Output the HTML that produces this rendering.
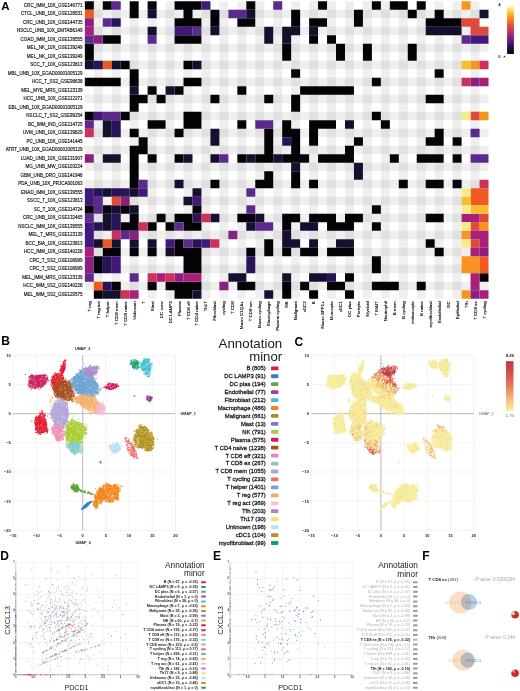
<!DOCTYPE html>
<html lang="en"><head><meta charset="utf-8"><title>Figure</title>
<style>html,body{margin:0;padding:0;background:#fff}svg{display:block}text{font-family:"Liberation Sans",Arial,sans-serif}</style></head>
<body><svg width="520" height="691" viewBox="0 0 520 691">
<rect width="520" height="691" fill="#fff"/>
<g id="A">
<rect x="84.85" y="1.15" width="403.65" height="297.5" fill="#fff"/>
<g fill="#000" fill-opacity=".062">
<rect x="93.82" y="1.15" width="8.97" height="297.5"/>
<rect x="111.76" y="1.15" width="8.97" height="297.5"/>
<rect x="129.7" y="1.15" width="8.97" height="297.5"/>
<rect x="147.64" y="1.15" width="8.97" height="297.5"/>
<rect x="165.58" y="1.15" width="8.97" height="297.5"/>
<rect x="183.52" y="1.15" width="8.97" height="297.5"/>
<rect x="201.46" y="1.15" width="8.97" height="297.5"/>
<rect x="219.4" y="1.15" width="8.97" height="297.5"/>
<rect x="237.34" y="1.15" width="8.97" height="297.5"/>
<rect x="255.28" y="1.15" width="8.97" height="297.5"/>
<rect x="273.22" y="1.15" width="8.97" height="297.5"/>
<rect x="291.16" y="1.15" width="8.97" height="297.5"/>
<rect x="309.1" y="1.15" width="8.97" height="297.5"/>
<rect x="327.04" y="1.15" width="8.97" height="297.5"/>
<rect x="344.98" y="1.15" width="8.97" height="297.5"/>
<rect x="362.92" y="1.15" width="8.97" height="297.5"/>
<rect x="380.86" y="1.15" width="8.97" height="297.5"/>
<rect x="398.8" y="1.15" width="8.97" height="297.5"/>
<rect x="416.74" y="1.15" width="8.97" height="297.5"/>
<rect x="434.68" y="1.15" width="8.97" height="297.5"/>
<rect x="452.62" y="1.15" width="8.97" height="297.5"/>
<rect x="470.56" y="1.15" width="8.97" height="297.5"/>
<rect x="84.85" y="9.65" width="403.65" height="8.5"/>
<rect x="84.85" y="26.65" width="403.65" height="8.5"/>
<rect x="84.85" y="43.65" width="403.65" height="8.5"/>
<rect x="84.85" y="60.65" width="403.65" height="8.5"/>
<rect x="84.85" y="77.65" width="403.65" height="8.5"/>
<rect x="84.85" y="94.65" width="403.65" height="8.5"/>
<rect x="84.85" y="111.65" width="403.65" height="8.5"/>
<rect x="84.85" y="128.65" width="403.65" height="8.5"/>
<rect x="84.85" y="145.65" width="403.65" height="8.5"/>
<rect x="84.85" y="162.65" width="403.65" height="8.5"/>
<rect x="84.85" y="179.65" width="403.65" height="8.5"/>
<rect x="84.85" y="196.65" width="403.65" height="8.5"/>
<rect x="84.85" y="213.65" width="403.65" height="8.5"/>
<rect x="84.85" y="230.65" width="403.65" height="8.5"/>
<rect x="84.85" y="247.65" width="403.65" height="8.5"/>
<rect x="84.85" y="264.65" width="403.65" height="8.5"/>
<rect x="84.85" y="281.65" width="403.65" height="8.5"/>
</g>
<path fill="#050308" d="M84.85 1.15h8.97v8.5h-8.97zM102.79 1.15h8.97v8.5h-8.97zM129.7 1.15h8.97v8.5h-8.97zM147.64 1.15h8.97v8.5h-8.97zM174.55 1.15h8.97v8.5h-8.97zM183.52 1.15h8.97v8.5h-8.97zM192.49 1.15h8.97v8.5h-8.97zM246.31 1.15h8.97v8.5h-8.97zM318.07 1.15h8.97v8.5h-8.97zM371.89 1.15h8.97v8.5h-8.97zM389.83 1.15h8.97v8.5h-8.97zM398.8 1.15h8.97v8.5h-8.97zM416.74 1.15h8.97v8.5h-8.97zM129.7 9.65h8.97v8.5h-8.97zM183.52 9.65h8.97v8.5h-8.97zM210.43 9.65h8.97v8.5h-8.97zM291.16 9.65h8.97v8.5h-8.97zM353.95 9.65h8.97v8.5h-8.97zM407.77 9.65h8.97v8.5h-8.97zM434.68 9.65h8.97v8.5h-8.97zM174.55 18.15h8.97v8.5h-8.97zM183.52 18.15h8.97v8.5h-8.97zM192.49 18.15h8.97v8.5h-8.97zM210.43 18.15h8.97v8.5h-8.97zM237.34 18.15h8.97v8.5h-8.97zM246.31 18.15h8.97v8.5h-8.97zM291.16 18.15h8.97v8.5h-8.97zM309.1 18.15h8.97v8.5h-8.97zM318.07 18.15h8.97v8.5h-8.97zM353.95 18.15h8.97v8.5h-8.97zM425.71 18.15h8.97v8.5h-8.97zM434.68 18.15h8.97v8.5h-8.97zM443.65 18.15h8.97v8.5h-8.97zM452.62 18.15h8.97v8.5h-8.97zM102.79 35.15h8.97v8.5h-8.97zM111.76 35.15h8.97v8.5h-8.97zM174.55 35.15h8.97v8.5h-8.97zM183.52 35.15h8.97v8.5h-8.97zM192.49 35.15h8.97v8.5h-8.97zM309.1 35.15h8.97v8.5h-8.97zM327.04 35.15h8.97v8.5h-8.97zM84.85 43.65h8.97v8.5h-8.97zM282.19 43.65h8.97v8.5h-8.97zM336.01 43.65h8.97v8.5h-8.97zM362.92 43.65h8.97v8.5h-8.97zM407.77 43.65h8.97v8.5h-8.97zM84.85 52.15h8.97v8.5h-8.97zM282.19 52.15h8.97v8.5h-8.97zM336.01 52.15h8.97v8.5h-8.97zM362.92 52.15h8.97v8.5h-8.97zM407.77 52.15h8.97v8.5h-8.97zM120.73 60.65h8.97v8.5h-8.97zM183.52 60.65h8.97v8.5h-8.97zM129.7 69.15h8.97v8.5h-8.97zM291.16 69.15h8.97v8.5h-8.97zM434.68 69.15h8.97v8.5h-8.97zM84.85 77.65h8.97v8.5h-8.97zM93.82 77.65h8.97v8.5h-8.97zM102.79 77.65h8.97v8.5h-8.97zM111.76 77.65h8.97v8.5h-8.97zM129.7 77.65h8.97v8.5h-8.97zM183.52 77.65h8.97v8.5h-8.97zM192.49 77.65h8.97v8.5h-8.97zM371.89 77.65h8.97v8.5h-8.97zM147.64 86.15h8.97v8.5h-8.97zM174.55 86.15h8.97v8.5h-8.97zM237.34 86.15h8.97v8.5h-8.97zM300.13 86.15h8.97v8.5h-8.97zM309.1 86.15h8.97v8.5h-8.97zM318.07 86.15h8.97v8.5h-8.97zM327.04 86.15h8.97v8.5h-8.97zM336.01 86.15h8.97v8.5h-8.97zM344.98 86.15h8.97v8.5h-8.97zM129.7 94.65h8.97v8.5h-8.97zM138.67 94.65h8.97v8.5h-8.97zM156.61 94.65h8.97v8.5h-8.97zM210.43 94.65h8.97v8.5h-8.97zM264.25 94.65h8.97v8.5h-8.97zM291.16 94.65h8.97v8.5h-8.97zM425.71 94.65h8.97v8.5h-8.97zM434.68 94.65h8.97v8.5h-8.97zM129.7 103.15h8.97v8.5h-8.97zM291.16 103.15h8.97v8.5h-8.97zM84.85 111.65h8.97v8.5h-8.97zM120.73 111.65h8.97v8.5h-8.97zM183.52 111.65h8.97v8.5h-8.97zM192.49 111.65h8.97v8.5h-8.97zM371.89 111.65h8.97v8.5h-8.97zM147.64 120.15h8.97v8.5h-8.97zM156.61 120.15h8.97v8.5h-8.97zM183.52 120.15h8.97v8.5h-8.97zM192.49 120.15h8.97v8.5h-8.97zM237.34 120.15h8.97v8.5h-8.97zM282.19 120.15h8.97v8.5h-8.97zM309.1 120.15h8.97v8.5h-8.97zM318.07 120.15h8.97v8.5h-8.97zM327.04 120.15h8.97v8.5h-8.97zM380.86 120.15h8.97v8.5h-8.97zM129.7 128.65h8.97v8.5h-8.97zM174.55 128.65h8.97v8.5h-8.97zM264.25 128.65h8.97v8.5h-8.97zM282.19 128.65h8.97v8.5h-8.97zM291.16 128.65h8.97v8.5h-8.97zM309.1 128.65h8.97v8.5h-8.97zM434.68 128.65h8.97v8.5h-8.97zM138.67 137.15h8.97v8.5h-8.97zM264.25 137.15h8.97v8.5h-8.97zM291.16 137.15h8.97v8.5h-8.97zM309.1 137.15h8.97v8.5h-8.97zM353.95 137.15h8.97v8.5h-8.97zM425.71 137.15h8.97v8.5h-8.97zM434.68 137.15h8.97v8.5h-8.97zM452.62 137.15h8.97v8.5h-8.97zM129.7 145.65h8.97v8.5h-8.97zM138.67 145.65h8.97v8.5h-8.97zM264.25 145.65h8.97v8.5h-8.97zM291.16 145.65h8.97v8.5h-8.97zM344.98 145.65h8.97v8.5h-8.97zM129.7 154.15h8.97v8.5h-8.97zM147.64 154.15h8.97v8.5h-8.97zM174.55 154.15h8.97v8.5h-8.97zM237.34 154.15h8.97v8.5h-8.97zM255.28 154.15h8.97v8.5h-8.97zM264.25 154.15h8.97v8.5h-8.97zM282.19 154.15h8.97v8.5h-8.97zM291.16 154.15h8.97v8.5h-8.97zM300.13 154.15h8.97v8.5h-8.97zM318.07 154.15h8.97v8.5h-8.97zM327.04 154.15h8.97v8.5h-8.97zM336.01 154.15h8.97v8.5h-8.97zM344.98 154.15h8.97v8.5h-8.97zM389.83 154.15h8.97v8.5h-8.97zM416.74 154.15h8.97v8.5h-8.97zM425.71 154.15h8.97v8.5h-8.97zM434.68 154.15h8.97v8.5h-8.97zM452.62 154.15h8.97v8.5h-8.97zM129.7 162.65h8.97v8.5h-8.97zM129.7 171.15h8.97v8.5h-8.97zM264.25 171.15h8.97v8.5h-8.97zM291.16 171.15h8.97v8.5h-8.97zM129.7 179.65h8.97v8.5h-8.97zM210.43 179.65h8.97v8.5h-8.97zM255.28 179.65h8.97v8.5h-8.97zM264.25 179.65h8.97v8.5h-8.97zM291.16 179.65h8.97v8.5h-8.97zM309.1 179.65h8.97v8.5h-8.97zM398.8 179.65h8.97v8.5h-8.97zM425.71 179.65h8.97v8.5h-8.97zM434.68 179.65h8.97v8.5h-8.97zM452.62 179.65h8.97v8.5h-8.97zM84.85 205.15h8.97v8.5h-8.97zM102.79 205.15h8.97v8.5h-8.97zM120.73 205.15h8.97v8.5h-8.97zM192.49 205.15h8.97v8.5h-8.97zM371.89 205.15h8.97v8.5h-8.97zM129.7 213.65h8.97v8.5h-8.97zM156.61 213.65h8.97v8.5h-8.97zM174.55 213.65h8.97v8.5h-8.97zM183.52 213.65h8.97v8.5h-8.97zM237.34 213.65h8.97v8.5h-8.97zM246.31 213.65h8.97v8.5h-8.97zM282.19 213.65h8.97v8.5h-8.97zM291.16 213.65h8.97v8.5h-8.97zM309.1 213.65h8.97v8.5h-8.97zM318.07 213.65h8.97v8.5h-8.97zM327.04 213.65h8.97v8.5h-8.97zM344.98 213.65h8.97v8.5h-8.97zM353.95 213.65h8.97v8.5h-8.97zM425.71 213.65h8.97v8.5h-8.97zM434.68 213.65h8.97v8.5h-8.97zM120.73 222.15h8.97v8.5h-8.97zM129.7 222.15h8.97v8.5h-8.97zM147.64 222.15h8.97v8.5h-8.97zM165.58 222.15h8.97v8.5h-8.97zM183.52 222.15h8.97v8.5h-8.97zM192.49 222.15h8.97v8.5h-8.97zM282.19 222.15h8.97v8.5h-8.97zM327.04 222.15h8.97v8.5h-8.97zM336.01 222.15h8.97v8.5h-8.97zM344.98 222.15h8.97v8.5h-8.97zM371.89 222.15h8.97v8.5h-8.97zM174.55 239.15h8.97v8.5h-8.97zM264.25 239.15h8.97v8.5h-8.97zM425.71 239.15h8.97v8.5h-8.97zM102.79 247.65h8.97v8.5h-8.97zM111.76 247.65h8.97v8.5h-8.97zM129.7 247.65h8.97v8.5h-8.97zM147.64 247.65h8.97v8.5h-8.97zM174.55 247.65h8.97v8.5h-8.97zM183.52 247.65h8.97v8.5h-8.97zM192.49 247.65h8.97v8.5h-8.97zM246.31 247.65h8.97v8.5h-8.97zM264.25 247.65h8.97v8.5h-8.97zM282.19 247.65h8.97v8.5h-8.97zM300.13 247.65h8.97v8.5h-8.97zM309.1 247.65h8.97v8.5h-8.97zM327.04 247.65h8.97v8.5h-8.97zM336.01 247.65h8.97v8.5h-8.97zM344.98 247.65h8.97v8.5h-8.97zM434.68 247.65h8.97v8.5h-8.97zM93.82 256.15h8.97v8.5h-8.97zM183.52 256.15h8.97v8.5h-8.97zM192.49 256.15h8.97v8.5h-8.97zM371.89 256.15h8.97v8.5h-8.97zM93.82 264.65h8.97v8.5h-8.97zM183.52 264.65h8.97v8.5h-8.97zM192.49 264.65h8.97v8.5h-8.97zM371.89 264.65h8.97v8.5h-8.97zM344.98 273.15h8.97v8.5h-8.97zM479.53 273.15h8.97v8.5h-8.97zM111.76 281.65h8.97v8.5h-8.97zM147.64 281.65h8.97v8.5h-8.97zM165.58 281.65h8.97v8.5h-8.97zM174.55 281.65h8.97v8.5h-8.97zM183.52 281.65h8.97v8.5h-8.97zM192.49 281.65h8.97v8.5h-8.97zM237.34 281.65h8.97v8.5h-8.97zM246.31 281.65h8.97v8.5h-8.97zM282.19 281.65h8.97v8.5h-8.97zM300.13 281.65h8.97v8.5h-8.97zM327.04 281.65h8.97v8.5h-8.97zM336.01 281.65h8.97v8.5h-8.97zM371.89 281.65h8.97v8.5h-8.97zM380.86 281.65h8.97v8.5h-8.97zM389.83 281.65h8.97v8.5h-8.97zM416.74 281.65h8.97v8.5h-8.97zM93.82 290.15h8.97v8.5h-8.97zM174.55 290.15h8.97v8.5h-8.97zM183.52 290.15h8.97v8.5h-8.97zM282.19 290.15h8.97v8.5h-8.97zM309.1 290.15h8.97v8.5h-8.97zM344.98 290.15h8.97v8.5h-8.97z"/>
<path fill="#5c2a8c" d="M111.76 1.15h8.97v8.5h-8.97zM273.22 1.15h8.97v8.5h-8.97zM228.37 9.65h8.97v8.5h-8.97zM237.34 9.65h8.97v8.5h-8.97zM102.79 18.15h8.97v8.5h-8.97zM192.49 26.65h8.97v8.5h-8.97zM84.85 35.15h8.97v8.5h-8.97zM147.64 35.15h8.97v8.5h-8.97zM461.59 35.15h8.97v8.5h-8.97zM102.79 111.65h8.97v8.5h-8.97zM111.76 111.65h8.97v8.5h-8.97zM84.85 120.15h8.97v8.5h-8.97zM255.28 120.15h8.97v8.5h-8.97zM264.25 120.15h8.97v8.5h-8.97zM470.56 128.65h8.97v8.5h-8.97zM219.4 154.15h8.97v8.5h-8.97zM470.56 154.15h8.97v8.5h-8.97zM479.53 154.15h8.97v8.5h-8.97zM138.67 179.65h8.97v8.5h-8.97zM246.31 188.15h8.97v8.5h-8.97zM93.82 196.65h8.97v8.5h-8.97zM93.82 205.15h8.97v8.5h-8.97zM246.31 205.15h8.97v8.5h-8.97zM84.85 213.65h8.97v8.5h-8.97zM174.55 222.15h8.97v8.5h-8.97zM255.28 222.15h8.97v8.5h-8.97zM264.25 222.15h8.97v8.5h-8.97zM120.73 230.65h8.97v8.5h-8.97zM183.52 239.15h8.97v8.5h-8.97zM84.85 273.15h8.97v8.5h-8.97zM129.7 273.15h8.97v8.5h-8.97z"/>
<path fill="#43187a" d="M201.46 1.15h8.97v8.5h-8.97zM174.55 26.65h8.97v8.5h-8.97zM183.52 26.65h8.97v8.5h-8.97zM470.56 35.15h8.97v8.5h-8.97zM479.53 35.15h8.97v8.5h-8.97zM93.82 111.65h8.97v8.5h-8.97zM84.85 188.15h8.97v8.5h-8.97zM138.67 188.15h8.97v8.5h-8.97zM84.85 196.65h8.97v8.5h-8.97zM192.49 196.65h8.97v8.5h-8.97zM84.85 222.15h8.97v8.5h-8.97zM84.85 230.65h8.97v8.5h-8.97zM84.85 239.15h8.97v8.5h-8.97zM165.58 239.15h8.97v8.5h-8.97zM201.46 239.15h8.97v8.5h-8.97zM111.76 256.15h8.97v8.5h-8.97zM111.76 264.65h8.97v8.5h-8.97z"/>
<path fill="#f7931e" d="M461.59 1.15h8.97v8.5h-8.97zM470.56 60.65h8.97v8.5h-8.97zM479.53 111.65h8.97v8.5h-8.97zM479.53 222.15h8.97v8.5h-8.97zM461.59 230.65h8.97v8.5h-8.97zM461.59 256.15h8.97v8.5h-8.97zM470.56 256.15h8.97v8.5h-8.97zM461.59 264.65h8.97v8.5h-8.97zM470.56 264.65h8.97v8.5h-8.97zM461.59 290.15h8.97v8.5h-8.97z"/>
<path fill="#f05a22" d="M84.85 9.65h8.97v8.5h-8.97zM102.79 60.65h8.97v8.5h-8.97zM470.56 188.15h8.97v8.5h-8.97zM479.53 188.15h8.97v8.5h-8.97zM470.56 196.65h8.97v8.5h-8.97zM479.53 196.65h8.97v8.5h-8.97zM102.79 239.15h8.97v8.5h-8.97zM479.53 256.15h8.97v8.5h-8.97zM479.53 264.65h8.97v8.5h-8.97zM93.82 281.65h8.97v8.5h-8.97z"/>
<path fill="#15102f" d="M147.64 9.65h8.97v8.5h-8.97zM246.31 9.65h8.97v8.5h-8.97zM479.53 9.65h8.97v8.5h-8.97zM147.64 26.65h8.97v8.5h-8.97zM210.43 26.65h8.97v8.5h-8.97zM264.25 26.65h8.97v8.5h-8.97zM282.19 26.65h8.97v8.5h-8.97zM291.16 26.65h8.97v8.5h-8.97zM309.1 26.65h8.97v8.5h-8.97zM425.71 26.65h8.97v8.5h-8.97zM434.68 26.65h8.97v8.5h-8.97zM443.65 26.65h8.97v8.5h-8.97zM452.62 26.65h8.97v8.5h-8.97zM264.25 35.15h8.97v8.5h-8.97zM282.19 35.15h8.97v8.5h-8.97zM84.85 60.65h8.97v8.5h-8.97zM111.76 60.65h8.97v8.5h-8.97zM192.49 60.65h8.97v8.5h-8.97zM129.7 86.15h8.97v8.5h-8.97zM165.58 86.15h8.97v8.5h-8.97zM102.79 120.15h8.97v8.5h-8.97zM344.98 120.15h8.97v8.5h-8.97zM102.79 128.65h8.97v8.5h-8.97zM210.43 128.65h8.97v8.5h-8.97zM210.43 137.15h8.97v8.5h-8.97zM102.79 154.15h8.97v8.5h-8.97zM111.76 154.15h8.97v8.5h-8.97zM183.52 154.15h8.97v8.5h-8.97zM210.43 154.15h8.97v8.5h-8.97zM246.31 154.15h8.97v8.5h-8.97zM273.22 154.15h8.97v8.5h-8.97zM291.16 162.65h8.97v8.5h-8.97zM353.95 162.65h8.97v8.5h-8.97zM353.95 171.15h8.97v8.5h-8.97zM174.55 179.65h8.97v8.5h-8.97zM102.79 188.15h8.97v8.5h-8.97zM129.7 188.15h8.97v8.5h-8.97zM192.49 188.15h8.97v8.5h-8.97zM183.52 196.65h8.97v8.5h-8.97zM111.76 205.15h8.97v8.5h-8.97zM129.7 205.15h8.97v8.5h-8.97zM102.79 213.65h8.97v8.5h-8.97zM210.43 213.65h8.97v8.5h-8.97zM255.28 213.65h8.97v8.5h-8.97zM102.79 222.15h8.97v8.5h-8.97zM246.31 222.15h8.97v8.5h-8.97zM300.13 222.15h8.97v8.5h-8.97zM309.1 222.15h8.97v8.5h-8.97zM282.19 230.65h8.97v8.5h-8.97zM93.82 239.15h8.97v8.5h-8.97zM111.76 239.15h8.97v8.5h-8.97zM129.7 239.15h8.97v8.5h-8.97zM147.64 239.15h8.97v8.5h-8.97zM282.19 239.15h8.97v8.5h-8.97zM291.16 239.15h8.97v8.5h-8.97zM309.1 239.15h8.97v8.5h-8.97zM336.01 239.15h8.97v8.5h-8.97zM344.98 239.15h8.97v8.5h-8.97zM165.58 247.65h8.97v8.5h-8.97zM228.37 273.15h8.97v8.5h-8.97zM237.34 273.15h8.97v8.5h-8.97zM282.19 273.15h8.97v8.5h-8.97zM309.1 273.15h8.97v8.5h-8.97zM318.07 273.15h8.97v8.5h-8.97zM102.79 290.15h8.97v8.5h-8.97zM111.76 290.15h8.97v8.5h-8.97zM192.49 290.15h8.97v8.5h-8.97zM264.25 290.15h8.97v8.5h-8.97z"/>
<path fill="#8a2080" d="M84.85 18.15h8.97v8.5h-8.97zM93.82 35.15h8.97v8.5h-8.97zM470.56 77.65h8.97v8.5h-8.97zM84.85 154.15h8.97v8.5h-8.97zM120.73 196.65h8.97v8.5h-8.97zM129.7 230.65h8.97v8.5h-8.97zM228.37 230.65h8.97v8.5h-8.97zM479.53 247.65h8.97v8.5h-8.97zM84.85 256.15h8.97v8.5h-8.97zM84.85 264.65h8.97v8.5h-8.97zM174.55 273.15h8.97v8.5h-8.97zM219.4 281.65h8.97v8.5h-8.97zM470.56 290.15h8.97v8.5h-8.97z"/>
<path fill="#2a1458" d="M111.76 18.15h8.97v8.5h-8.97zM93.82 60.65h8.97v8.5h-8.97zM111.76 120.15h8.97v8.5h-8.97zM111.76 128.65h8.97v8.5h-8.97zM282.19 137.15h8.97v8.5h-8.97zM93.82 188.15h8.97v8.5h-8.97zM111.76 188.15h8.97v8.5h-8.97zM120.73 188.15h8.97v8.5h-8.97zM111.76 213.65h8.97v8.5h-8.97zM192.49 213.65h8.97v8.5h-8.97zM93.82 222.15h8.97v8.5h-8.97zM111.76 222.15h8.97v8.5h-8.97zM192.49 239.15h8.97v8.5h-8.97zM102.79 256.15h8.97v8.5h-8.97zM246.31 256.15h8.97v8.5h-8.97zM102.79 264.65h8.97v8.5h-8.97zM246.31 264.65h8.97v8.5h-8.97zM327.04 273.15h8.97v8.5h-8.97zM102.79 281.65h8.97v8.5h-8.97z"/>
<path fill="#e04a3a" d="M461.59 18.15h8.97v8.5h-8.97zM470.56 18.15h8.97v8.5h-8.97zM470.56 26.65h8.97v8.5h-8.97zM479.53 26.65h8.97v8.5h-8.97zM470.56 111.65h8.97v8.5h-8.97zM111.76 196.65h8.97v8.5h-8.97zM479.53 213.65h8.97v8.5h-8.97zM470.56 222.15h8.97v8.5h-8.97zM470.56 239.15h8.97v8.5h-8.97z"/>
<path fill="#a8207a" d="M84.85 26.65h8.97v8.5h-8.97zM479.53 77.65h8.97v8.5h-8.97zM461.59 213.65h8.97v8.5h-8.97zM470.56 213.65h8.97v8.5h-8.97zM470.56 230.65h8.97v8.5h-8.97zM479.53 230.65h8.97v8.5h-8.97zM479.53 239.15h8.97v8.5h-8.97zM84.85 247.65h8.97v8.5h-8.97zM470.56 247.65h8.97v8.5h-8.97zM156.61 273.15h8.97v8.5h-8.97zM183.52 273.15h8.97v8.5h-8.97zM192.49 273.15h8.97v8.5h-8.97zM470.56 273.15h8.97v8.5h-8.97zM470.56 281.65h8.97v8.5h-8.97zM129.7 290.15h8.97v8.5h-8.97zM479.53 290.15h8.97v8.5h-8.97z"/>
<path fill="#fbbd2a" d="M461.59 60.65h8.97v8.5h-8.97zM461.59 196.65h8.97v8.5h-8.97zM470.56 205.15h8.97v8.5h-8.97zM479.53 205.15h8.97v8.5h-8.97z"/>
<path fill="#cc305c" d="M479.53 60.65h8.97v8.5h-8.97zM461.59 77.65h8.97v8.5h-8.97zM84.85 128.65h8.97v8.5h-8.97zM479.53 179.65h8.97v8.5h-8.97zM201.46 213.65h8.97v8.5h-8.97zM138.67 222.15h8.97v8.5h-8.97zM111.76 230.65h8.97v8.5h-8.97zM210.43 239.15h8.97v8.5h-8.97zM147.64 273.15h8.97v8.5h-8.97zM165.58 273.15h8.97v8.5h-8.97zM120.73 290.15h8.97v8.5h-8.97z"/>
<path fill="#fae98a" d="M461.59 111.65h8.97v8.5h-8.97zM461.59 188.15h8.97v8.5h-8.97zM461.59 205.15h8.97v8.5h-8.97zM461.59 222.15h8.97v8.5h-8.97zM461.59 239.15h8.97v8.5h-8.97z"/>
<g font-size="4.52" text-anchor="end" fill="#111" stroke="#111" stroke-width=".14">
<text x="82.6" y="6.95">CRC_IMM_10X_GSE146771</text>
<text x="82.6" y="15.45">CTCL_UNB_10X_GSE128531</text>
<text x="82.6" y="23.95">CRC_UNB_10X_GSE144735</text>
<text x="82.6" y="32.45">NSCLC_UNB_10X_EMTAB6149</text>
<text x="82.6" y="40.95">COAD_IMM_10X_GSE139555</text>
<text x="82.6" y="49.45">MEL_NK_10X_GSE139249</text>
<text x="82.6" y="57.95">MEL_NK_10X_GSE139249</text>
<text x="82.6" y="66.45">SCC_T_10X_GSE123813</text>
<text x="82.6" y="74.95">MBL_UNB_10X_EGAD00001005129</text>
<text x="82.6" y="83.45">HCC_T_SS2_GSE98638</text>
<text x="82.6" y="91.95">MEL_MYE_MRS_GSE123139</text>
<text x="82.6" y="100.45">HCC_UNB_10X_GSE112271</text>
<text x="82.6" y="108.95">EBL_UNB_10X_EGAD00001005129</text>
<text x="82.6" y="117.45">NSCLC_T_SS2_GSE99254</text>
<text x="82.6" y="125.95">BC_IMM_IND_GSE114725</text>
<text x="82.6" y="134.45">UVM_UNB_10X_GSE139829</text>
<text x="82.6" y="142.95">PC_UNB_10X_GSE141445</text>
<text x="82.6" y="151.45">ATRT_UNB_10X_EGAD00001005129</text>
<text x="82.6" y="159.95">LUAD_UNB_10X_GSE131907</text>
<text x="82.6" y="168.45">MG_UNB_MW_GSE103224</text>
<text x="82.6" y="176.95">GBM_UNB_DRO_GSE141946</text>
<text x="82.6" y="185.45">PDA_UNB_10X_PRJCA001063</text>
<text x="82.6" y="193.95">ENAD_IMM_10X_GSE139555</text>
<text x="82.6" y="202.45">SSCC_T_10X_GSE123813</text>
<text x="82.6" y="210.95">SC_T_10X_GSE114724</text>
<text x="82.6" y="219.45">CRC_UNB_10X_GSE132465</text>
<text x="82.6" y="227.95">NSCLC_IMM_10X_GSE139555</text>
<text x="82.6" y="236.45">MEL_T_MRS_GSE123139</text>
<text x="82.6" y="244.95">BCC_BIA_10X_GSE123813</text>
<text x="82.6" y="253.45">HCC_IMM_10X_GSE140228</text>
<text x="82.6" y="261.95">CRC_T_SS2_GSE108989</text>
<text x="82.6" y="270.45">CRC_T_SS2_GSE108989</text>
<text x="82.6" y="278.95">MEL_IMM_MRS_GSE123139</text>
<text x="82.6" y="287.45">HCC_IMM_SS2_GSE140228</text>
<text x="82.6" y="295.95">MEL_IMM_SS2_GSE120575</text>
</g>
<g font-size="4.4" text-anchor="end" fill="#111" stroke="#111" stroke-width=".14">
<text transform="translate(90.83 301.3) rotate(-90)">T reg</text>
<text transform="translate(99.8 301.3) rotate(-90)">T reg act</text>
<text transform="translate(108.77 301.3) rotate(-90)">T helper</text>
<text transform="translate(117.75 301.3) rotate(-90)">T CD8 mem</text>
<text transform="translate(126.72 301.3) rotate(-90)">T CD8 naive</text>
<text transform="translate(135.69 301.3) rotate(-90)">Unknown</text>
<text transform="translate(144.66 301.3) rotate(-90)">T</text>
<text transform="translate(153.62 301.3) rotate(-90)">Mast</text>
<text transform="translate(162.59 301.3) rotate(-90)">DC conv</text>
<text transform="translate(171.56 301.3) rotate(-90)">DC LAMP3</text>
<text transform="translate(180.53 301.3) rotate(-90)">Plasma</text>
<text transform="translate(189.5 301.3) rotate(-90)">T CD8 eff</text>
<text transform="translate(198.48 301.3) rotate(-90)">T CD4 naive</text>
<text transform="translate(207.44 301.3) rotate(-90)">Th17</text>
<text transform="translate(216.41 301.3) rotate(-90)">Fibroblast</text>
<text transform="translate(225.38 301.3) rotate(-90)">cycling</text>
<text transform="translate(234.36 301.3) rotate(-90)">T CD8</text>
<text transform="translate(243.33 301.3) rotate(-90)">Macro C1QA+</text>
<text transform="translate(252.3 301.3) rotate(-90)">T CD8 em</text>
<text transform="translate(261.26 301.3) rotate(-90)">Macro cycling</text>
<text transform="translate(270.24 301.3) rotate(-90)">Macrophage</text>
<text transform="translate(279.21 301.3) rotate(-90)">Plasma cycling</text>
<text transform="translate(288.18 301.3) rotate(-90)">NK</text>
<text transform="translate(297.14 301.3) rotate(-90)">Malignant</text>
<text transform="translate(306.12 301.3) rotate(-90)">cDC2</text>
<text transform="translate(315.09 301.3) rotate(-90)">B</text>
<text transform="translate(324.06 301.3) rotate(-90)">Macro SPP1+</text>
<text transform="translate(333.02 301.3) rotate(-90)">Monocyte</text>
<text transform="translate(342 301.3) rotate(-90)">cDC1</text>
<text transform="translate(350.97 301.3) rotate(-90)">DC plas</text>
<text transform="translate(359.94 301.3) rotate(-90)">Pericyte</text>
<text transform="translate(368.9 301.3) rotate(-90)">Myeloid</text>
<text transform="translate(377.88 301.3) rotate(-90)">T MAIT</text>
<text transform="translate(386.85 301.3) rotate(-90)">Neutrophil</text>
<text transform="translate(395.82 301.3) rotate(-90)">B mem</text>
<text transform="translate(404.78 301.3) rotate(-90)">B cycling</text>
<text transform="translate(413.75 301.3) rotate(-90)">melanocyte</text>
<text transform="translate(422.73 301.3) rotate(-90)">B naive</text>
<text transform="translate(431.7 301.3) rotate(-90)">myofibroblast</text>
<text transform="translate(440.66 301.3) rotate(-90)">Endothelial</text>
<text transform="translate(449.63 301.3) rotate(-90)">GC</text>
<text transform="translate(458.61 301.3) rotate(-90)">Epithelial</text>
<text transform="translate(467.58 301.3) rotate(-90)">Tfh</text>
<text transform="translate(476.55 301.3) rotate(-90)">T CD8 ex</text>
<text transform="translate(485.51 301.3) rotate(-90)">T cycling</text>
</g>
<defs><linearGradient id="inf" x1="0" y1="1" x2="0" y2="0"><stop offset="0" stop-color="#050308"/><stop offset=".1" stop-color="#15102f"/><stop offset=".22" stop-color="#43187a"/><stop offset=".35" stop-color="#8a2080"/><stop offset=".48" stop-color="#cc305c"/><stop offset=".6" stop-color="#e8502f"/><stop offset=".72" stop-color="#f7831e"/><stop offset=".84" stop-color="#fbbd2a"/><stop offset=".94" stop-color="#fae98a"/><stop offset="1" stop-color="#fdfcd0"/></linearGradient></defs>
<rect x="507.1" y="5.6" width="6.8" height="48.4" fill="url(#inf)"/>
<g font-size="4.2" font-weight="bold" fill="#111" text-anchor="middle"><text x="499.3" y="5.8">4</text><text x="499.3" y="58">0</text></g>
<path d="M503 57.2l2.2-1.6v1.6z" fill="#111"/>
<text x="1.2" y="9.5" font-size="11.5" font-weight="bold" fill="#000">A</text>
</g>
<g id="B">
<path d="M13.1 355.35V530.25M36.3 355.35V530.25M59.5 355.35V530.25M105.9 355.35V530.25M129.1 355.35V530.25M152.3 355.35V530.25M175.5 355.35V530.25M13.1 530.25H175.5M13.1 501.1H175.5M13.1 471.95H175.5M13.1 442.8H175.5M13.1 384.5H175.5M13.1 355.35H175.5" stroke="#e4e4e4" stroke-width=".5" fill="none"/>
<path d="M82.7 355.35V530.25M13.1 413.65H175.5" stroke="#8a8a8a" stroke-width=".6" fill="none"/>
<g font-size="4" font-weight="bold" fill="#222">
<g text-anchor="middle">
<text x="13.1" y="537.25">−15</text>
<text x="36.3" y="537.25">−10</text>
<text x="59.5" y="537.25">−5</text>
<text x="82.7" y="537.25">0</text>
<text x="105.9" y="537.25">5</text>
<text x="129.1" y="537.25">10</text>
<text x="152.3" y="537.25">15</text>
<text x="175.5" y="537.25">20</text>
</g><g text-anchor="end">
<text x="10.7" y="531.65">−20</text>
<text x="10.7" y="502.5">−15</text>
<text x="10.7" y="473.35">−10</text>
<text x="10.7" y="444.2">−5</text>
<text x="10.7" y="415.05">0</text>
<text x="10.7" y="385.9">5</text>
<text x="10.7" y="356.75">10</text>
</g>
<text x="180.5" y="415.05" font-size="3.8" fill="#222" font-weight="bold">UMAP_1</text>
</g>
<g font-size="3.8" font-weight="bold" fill="#222" text-anchor="middle"><text x="82.6" y="349.5">UMAP_2</text><text x="83.1" y="543.5">UMAP_2</text></g>
<g fill="none" stroke-linecap="round" stroke-width="1.15">
<path fill="#d01c5c" fill-opacity=".5" stroke="none" d="M46.81 379.92L45.91 381.41L45.01 382.67L44.19 383.85L43.21 384.98L41.88 385.93L40.26 386.61L38.53 387.07L36.67 387.46L34.61 387.71L32.47 387.54L30.7 386.71L29.79 385.29L29.76 383.7L30.09 382.27L30.21 381.01L30.03 379.66L30.09 378.1L31.01 376.61L32.84 375.69L35.02 375.55L36.95 375.87L38.55 376.07L40.23 375.87L42.37 375.54L44.7 375.69L46.51 376.64L47.2 378.21zM117.98 384.9L118.03 385.69L117.34 386.5L116.3 387.19L115.26 387.77L114.29 388.32L113.23 388.83L112.02 389.22L110.75 389.38L109.6 389.29L108.64 389.05L107.82 388.75L107.08 388.4L106.45 387.98L106.05 387.44L105.91 386.81L105.99 386.12L106.27 385.36L106.84 384.56L107.84 383.82L109.24 383.32L110.75 383.23L111.99 383.52L112.82 383.94L113.5 384.21L114.42 384.24L115.72 384.2L117.09 384.37z"/>
<path stroke="#d01c5c" d="M25.4 374.6h0m4.5 1.9h0m.3-.8h0m.2-.1h0m.4 .1h0m.2 .8h0m.6-1h0m.1-1.5h0m.5 1.1h0m.1 .6h0m.4-.5h0m.5 .8h0m.5 .5h0m.3-1.3h0m0-.2h0m1.5 1.2h0m.4-.5h0m.1-.1h0m0-.2h0m.4 .7h0m0-.8h0m.2 1h0m0-1.1h0m.1 .5h0m.3 .1h0m.2-.2h0m.8 .4h0m0 .3h0m.1-.5h0m.3 .6h0m0-.8h0m.1-.1h0m.1-.1h0m0 .5h0m0 .3h0m.1-.4h0m.8-.6h0m.1 .3h0m.8 .3h0m0 .6h0m.2-.6h0m.1-.9h0m.2 1.3h0m.4-.9h0m.2 .1h0m.2 .6h0m0-.6h0m.8 0h0m.5 .1h0m.1 .9h0m.1 0h0m0-1.3h0m.2 0h0m.3 1.1h0m.1-1.8h0m0 1.9h0m0-.3h0m.1-.6h0m.5-.2h0m.6 .4h0m.4-.1h0m.4-1.1h0m.9 1.2h0m-17.8 1.8h0m.3 1.1h0m.1 .6h0m.2-2.1h0m.1-.3h0m.7 .4h0m.8-.4h0m0 1.6h0m.3-.4h0m.2-.8h0m.7 .5h0m.4 .1h0m0-1.2h0m0 1.9h0m.7 .1h0m.4-1.4h0m.1 1.4h0m.7-.3h0m.2-1.1h0m.1-.2h0m0 1h0m0-.6h0m.2-.2h0m.2 .3h0m.6 .9h0m.1-1.6h0m.3 .8h0m.3 1.4h0m.1-.7h0m.1-.9h0m.2 .1h0m.2 .4h0m.1 .4h0m0 .9h0m.2 .1h0m.2-.3h0m0-1.7h0m.2 2.2h0m0-1.8h0m0-.2h0m.1 .7h0m.1-.6h0m.2 1.6h0m0-2.6h0m.2 1.5h0m.1 .6h0m.1 .7h0m0-1h0m.2-1.7h0m.2 0h0m0 1.5h0m0-.7h0m.1-.3h0m.2-.4h0m.2 .9h0m.2 1.5h0m.2-1.2h0m0-.3h0m.1 1.8h0m.1-1.3h0m0-1.3h0m.1 .1h0m.5-.4h0m.1 1.2h0m.2-.3h0m.2 .6h0m0-.4h0m.4 .4h0m0-.2h0m.1 .3h0m.1 .1h0m.2 .1h0m.5 .4h0m.4-.9h0m.1-.3h0m0 .1h0m0 .3h0m.1 1.4h0m.3-1.2h0m.1 .9h0m.3 .1h0m.1-.7h0m0-.5h0m.7-.4h0m.1-.9h0m.6 2.1h0m.3 .7h0m0-.7h0m.1-.9h0m.2 .2h0m.2 1.2h0m.2-.6h0m.7 .6h0m.2 .1h0m.3-1.6h0m.1-.8h0m0 1.6h0m-19.1 2.9h0m.4-1.3h0m.4 2.1h0m.3-.9h0m.3 .3h0m.1-1.2h0m.3 .7h0m0-1h0m.1-.5h0m.3 2h0m0-.2h0m.1 .7h0m.1-.6h0m.4-1h0m0 1.8h0m0-.8h0m.3-1.5h0m.2 .2h0m.1-.5h0m.1 .6h0m0 .4h0m.3 .6h0m.1-1.5h0m.1 1.6h0m.1-1.6h0m.2 2.1h0m.2-1.8h0m0 1.9h0m.1 .3h0m0-.6h0m.2 .6h0m.9-1.7h0m.1-.8h0m.1 .7h0m0 .3h0m.1 .1h0m0-.4h0m.1 .8h0m.2-.9h0m.1 1.8h0m0-1.9h0m.1 1.1h0m.2-1.5h0m.1-.1h0m.4 1h0m.1 .1h0m.6-.7h0m.1-.3h0m.5 .8h0m.2 .3h0m.2-.2h0m.2 1.3h0m.1 0h0m0 .3h0m.1-2.5h0m0 .2h0m.2 1.1h0m0-1.1h0m.3 2.2h0m0-2.6h0m0 0h0m.2 2.7h0m.3-.6h0m.1-.4h0m0-1.3h0m.2 2.3h0m.2-2.5h0m.3 1.7h0m.2 .2h0m.4-1.7h0m.2 1.7h0m.2 .4h0m0-1.1h0m.3 .3h0m.3-1h0m.2 .7h0m.2-.5h0m.3-.4h0m.3 1.6h0m.1-.9h0m0-.3h0m.1 .2h0m.2-.3h0m0 1.5h0m.1-2.1h0m.3 1.1h0m.4-.1h0m.1 .9h0m0-.6h0m.4-.2h0m0 .7h0m0 .6h0m.1-1h0m0-.6h0m.1 1.7h0m.2-.3h0m0-1.1h0m.1 .5h0m.7-.3h0m.1-.7h0m.1 1h0m.1 0h0m0-2h0m.1 1.1h0m0 .4h0m.5 1.4h0m0-1.2h0m.2 .4h0m.2 .6h0m.2-.4h0m.9-2.1h0m.2 .9h0m.9 0h0m-20.8 3.9h0m.8-.5h0m.1-.5h0m.3-.7h0m.4 2.3h0m.1-1.7h0m.1-.5h0m.1 .6h0m.1 2h0m0-.6h0m0-2.3h0m.4 2.5h0m.6-1.7h0m.2-.5h0m.1 .8h0m.2-.1h0m.7 0h0m.1 .4h0m0-1.3h0m.1 2.8h0m.1-.7h0m.4-1.8h0m.2 .7h0m.3 1.4h0m0-1.6h0m.4-.9h0m.4 2.1h0m.2-.6h0m.1 .2h0m.1-.4h0m.4 1.4h0m0-2.7h0m.1 2.1h0m.1-.5h0m.3 .7h0m.3-.1h0m.1 .5h0m.4-2.7h0m.3 .6h0m.4 1.4h0m.1-2.1h0m.1 2.6h0m0 .1h0m.4-1.2h0m.2-.6h0m.1-.8h0m0 .2h0m0 1.2h0m.1-1.4h0m.2 2.4h0m.1-.5h0m0-1.4h0m.2 1.2h0m.1 .4h0m0-.9h0m.2 1.7h0m0-1.2h0m0-1.3h0m.1 1h0m.2 .9h0m.2-2.2h0m0 .7h0m0 .4h0m.4 1.7h0m.2-1.2h0m0-.3h0m0 1.4h0m.2-.3h0m.1-.7h0m.1-.1h0m.6-.5h0m.3 1.5h0m.1-1.5h0m.1 0h0m.1-.5h0m.2 1.3h0m0-1.4h0m.1 1.6h0m.1-1.9h0m.1 1.5h0m.2 .1h0m.1-1.1h0m.4 1.1h0m0 .1h0m.2 .3h0m.1 .4h0m.1-2h0m.5 1.7h0m.1-.8h0m.1 .4h0m.2-1.1h0m.1 1.8h0m.1-1.8h0m.3-.6h0m.1-.1h0m.2 .5h0m.3 .7h0m0 .4h0m.7-1.1h0m0 .1h0m.1-.8h0m61.7 2h0m.7-1h0m.2 .7h0m.4-.1h0m.2-.8h0m.3 .1h0m.4 .3h0m0 .2h0m.4-1.2h0m.7 2.4h0m.7-.4h0m.2-1h0m.1 .2h0m.6 1h0m.1-.8h0m.1-.4h0m0 1h0m0 .1h0m.1-.9h0m0-.5h0m.3 1h0m.2 .4h0m.1 .3h0m0-.1h0m0 .4h0m.2-1h0m.1-.8h0m0 .7h0m.1-.7h0m.1 .6h0m.1-.1h0m.4 1.3h0m.1-1.4h0m.5 .8h0m.5-.9h0m.1 .5h0m1-.7h0m.1 1.5h0m.4-1.3h0m.3 1h0m-88.9 .8h0m.9 .4h0m.2 1.1h0m0-1.5h0m.2-.1h0m.8 .2h0m.2 .6h0m.1 .1h0m.2 .2h0m0 1.4h0m.7-1.3h0m.5-.4h0m.1 1.4h0m.1-.1h0m1.3-1.1h0m.2 1.5h0m.5-1.1h0m.3 .5h0m.4 .7h0m0-.6h0m.1 .4h0m0 .1h0m.2-1.3h0m.2 1.2h0m.3-1.9h0m.2 1.6h0m0-1.2h0m.1 1.3h0m.9-2h0m.2-.4h0m.2 0h0m.2 2.6h0m.3-1.2h0m.1 .7h0m.4-1.3h0m.2 .6h0m0 .3h0m.2-1.4h0m.1 .3h0m.6 .4h0m.6 .8h0m.2-.8h0m.2 .8h0m0 .5h0m.2-.8h0m.7-.7h0m0 .7h0m.6-.8h0m.1 .4h0m.6-.5h0m.1-.1h0m.4-.2h0m60.4 1.5h0m1.1 .1h0m.2-1.2h0m1-.4h0m0 1.4h0m.2-.5h0m.1 .7h0m.1 .7h0m0 .2h0m.3-.1h0m.5-1.1h0m.2 1.1h0m.4-1h0m.1 1.2h0m0-1.8h0m.2 .7h0m.4-.9h0m.1 1.2h0m.3-2.1h0m.1 1.6h0m.1 1.3h0m.4-1.4h0m.1 .4h0m0 .2h0m.1 .9h0m.4-1.9h0m.5-.3h0m.2 0h0m.9 1.4h0m0-1.1h0m.1-.4h0m.1-.4h0m.2 1.3h0m.3 1h0m.3-2.3h0m.8 1.6h0m.2 .7h0m.6-2.5h0m.2 1.5h0m.2 .3h0m.1 .3h0m.1-1.1h0m.2 .1h0m.5 1.5h0m0-2h0m.4 .9h0m.2-1.6h0m0 0h0m.4 1.6h0m0-1.2h0m.2 1.7h0m.1-.9h0m.9-.5h0m.4 .2h0m.4-.5h0m.2 .4h0m-87.7 2.9h0m2.7-.7h0m0 .1h0m6 .6h0m66.2-.5h0m.6-.2h0m1.4 .1h0m.1 .7h0m1.4 .2h0m.5 .2h0m.2-.8h0m.7 .1h0m.6 .6h0m.6-1h0m.3 .3h0m.3-.4h0m.8 .5h0m.5-.3h0"/>
<path fill="#e41a2c" fill-opacity=".5" stroke="none" d="M45.46 423.05L46.18 424.69L47 426.79L47.22 429.07L46.5 430.77L45.16 431.46L43.8 431.55L42.66 431.79L41.54 432.47L40.18 433.08L38.62 432.82L37.25 431.42L36.35 429.33L35.84 427.17L35.44 425.18L35.06 423.21L34.96 421.2L35.45 419.48L36.46 418.42L37.59 417.88L38.48 417.21L39.27 415.86L40.37 414.18L41.97 413.24L43.7 413.97L44.91 416.26L45.3 419.07L45.25 421.38zM64.71 368.75L64.34 369.92L63.93 371.03L63.5 372.22L62.98 373.59L62.34 374.87L61.67 375.54L61.16 375.26L60.93 374.23L60.89 373.01L60.81 372.09L60.6 371.39L60.38 370.51L60.4 369.23L60.77 367.77L61.37 366.57L61.95 365.79L62.41 365.07L62.83 363.96L63.4 362.47L64.12 361.15L64.8 360.69L65.21 361.32L65.31 362.66L65.22 364.09L65.13 365.3L65.08 366.39L64.97 367.53zM62.31 382.25L61.48 383.66L60.66 384.81L60 385.99L59.36 387.47L58.46 389.08L57.19 390.28L55.73 390.56L54.43 389.8L53.51 388.38L52.92 386.8L52.47 385.34L52.04 383.93L51.7 382.42L51.64 380.75L51.96 379.06L52.61 377.54L53.48 376.22L54.48 375.12L55.6 374.25L56.84 373.76L58.09 373.72L59.29 374.1L60.4 374.8L61.42 375.75L62.29 377.02L62.82 378.65L62.84 380.49z"/>
<path stroke="#e41a2c" d="M64.2 360.8h0m.3 .5h0m.4-1.4h0m0 1.2h0m.1-.1h0m.2-.6h0m1-.3h0m-3.5 3.7h0m.3 0h0m.2-1.3h0m.2 .3h0m0 1.1h0m.1-2.4h0m0 2.9h0m.2-.6h0m.4 .1h0m.6 .5h0m.5-2.2h0m.4 1.3h0m-4.7 2.8h0m.5 .2h0m.4-1.1h0m.5 .7h0m0 .1h0m0 1.3h0m.3-1h0m.4-1.3h0m.4 .6h0m.2 1.1h0m.9-1.2h0m.2-.8h0m0 1.5h0m.1 .7h0m0-.8h0m.1-.5h0m0-.3h0m.2 1.9h0m.2-2.4h0m0 2.2h0m.1-2h0m-5.2 5.2h0m.1-1.4h0m.5 1.1h0m.1-.4h0m.2-1.8h0m.3 1.1h0m0 .8h0m.1 .1h0m.1-.1h0m.5-2.1h0m0 2.7h0m0-1.9h0m0 .9h0m.1-1.7h0m0 2.3h0m.4-1.8h0m.3 .1h0m0 1.6h0m.1-1.2h0m.3-1.2h0m0 1h0m.1 .4h0m0 .9h0m.1-1.3h0m.2 .3h0m0-.7h0m.2 .2h0m0 .8h0m.1 1.2h0m0-2.4h0m.2 1h0m0-.7h0m.2 1h0m.2-.5h0m.1-1.1h0m0-.1h0m.1 1.9h0m0-.2h0m.2 .4h0m0-1.1h0m.3-.9h0m-11 5.7h0m1.2-.6h0m1.4 .6h0m1.6-.1h0m.1-.1h0m1-2.3h0m1.1 0h0m.1 1h0m.2 1.6h0m.1-.4h0m.2-1.5h0m.1 1.9h0m.3-.3h0m.3-1.3h0m.1 1.6h0m.1-1.3h0m.1 0h0m.5-1.1h0m.2 1.9h0m.3-1.8h0m0 .8h0m.1 .7h0m.2-.8h0m0 .8h0m.1-1.2h0m.6-.7h0m-12.1 5.5h0m1.2-.7h0m0 .9h0m.3 0h0m.2-1.7h0m.9 1.2h0m.2-.4h0m0-1.3h0m.2-.2h0m.1 1.6h0m.3-.8h0m0 1h0m.3-.6h0m.4 .2h0m.1-.9h0m.2-.6h0m.2 1.5h0m.2-.4h0m.2 .3h0m0-1.2h0m.1 2.1h0m.4 0h0m.5-2.1h0m.4 .5h0m.3 .8h0m.9-1.1h0m.1-.7h0m.5 2.3h0m.1-1.1h0m.3 1.6h0m.1 .1h0m0-2.7h0m.1 2.4h0m.3-1h0m0-.4h0m.1 .3h0m0 1.3h0m.2-.1h0m.7-1.6h0m0 .6h0m.1 .1h0m.5 .3h0m-11 1.9h0m.1 1.6h0m.3-1.7h0m.2 1.1h0m.1-2h0m.1 2.7h0m.1-.5h0m.7-1.4h0m.3-.9h0m.1 1.4h0m.1-.3h0m.2 1.7h0m.3-2h0m.2 .7h0m.2 .6h0m.5 .4h0m0 .4h0m.1-.4h0m.2 .2h0m0-.2h0m.7-.2h0m0-1.1h0m.1 1.7h0m.2-2.8h0m0 1.7h0m.1-.2h0m.2 .5h0m.2-2h0m0 1.1h0m0 .3h0m0 .6h0m.1-.6h0m.3 .7h0m.2 .4h0m0-2.4h0m.3 .4h0m0 2.1h0m.1-2h0m.2-.3h0m0 1.1h0m.1-1.4h0m.1 .3h0m0-.1h0m.1 2.6h0m.4-1.8h0m.1 1h0m.3-1.9h0m.4 2.7h0m.2-.3h0m.1-.1h0m.5-1.3h0m.2 .9h0m0-2.1h0m.1 .3h0m.3 .5h0m0 .7h0m.1-.8h0m0-.4h0m.5 .9h0m.2 0h0m0 .8h0m.6 .1h0m.1-.7h0m.1 .6h0m.1-.8h0m0 .7h0m.1-.4h0m.3-1.1h0m.3 1.6h0m0 .3h0m.3-1h0m-13.1 2.3h0m.2 1.6h0m.2 .7h0m.1-.4h0m.1-1.1h0m.3-.6h0m.3-.3h0m.3 2.3h0m.3-.4h0m.1-1.7h0m.3-.4h0m0 1.1h0m.1-.5h0m.6 1.3h0m.1-.2h0m0-.5h0m0 .7h0m0 .2h0m.3-.9h0m.1 1.1h0m0-.7h0m.2 .1h0m.2 .4h0m.1-.8h0m.1-.5h0m.1 .8h0m.1-1.7h0m.1 2.1h0m.8-.7h0m0 .9h0m.5-1.8h0m.3 .5h0m.5 .2h0m.1 .6h0m1.8-1h0m.1 1.2h0m.1-.6h0m.1-1.5h0m.2 .4h0m.1 1.4h0m0-1.5h0m.3 1.8h0m.6 .5h0m.3-2.1h0m0 2.3h0m.1-1h0m.2 0h0m.2-1.1h0m.6 .1h0m.1 .8h0m.1-.5h0m0 1h0m.2-1.6h0m0-.3h0m.2 .4h0m.2 1.6h0m0-2.2h0m1 .5h0m1.2 .5h0m-14.3 4.1h0m.4 .4h0m.1-2.6h0m.6 .1h0m0 1.1h0m.1 .3h0m.5-.1h0m.1-.4h0m.4 .5h0m.2-.7h0m0 1.1h0m.1 .8h0m0 .1h0m.1-2.4h0m0 1.6h0m.1-.7h0m.2 .2h0m.2 .6h0m.1-1.3h0m0-.7h0m.5 .5h0m.1 1h0m.1-.5h0m0 1.7h0m.2-2.3h0m.1 1.7h0m.1 .3h0m.2-1.6h0m.1-.6h0m0 .5h0m.6-.2h0m0 0h0m.2 1.7h0m0-2.3h0m.1 2.7h0m.1 0h0m.2 .1h0m.3-2h0m.3-.7h0m.5 1.5h0m0 .5h0m.3 .3h0m.1 .2h0m0-.8h0m.2-.7h0m.2 1.4h0m.1-2.1h0m0 .7h0m.1-.3h0m.3 1.6h0m.5 .4h0m.1-2.6h0m.2 1.3h0m.2 1.4h0m.1-.5h0m.2-2.3h0m.1 .9h0m.1 2h0m0-1.7h0m.3-.1h0m.1 .4h0m.1-.7h0m0 .8h0m.8-.3h0m0-.8h0m.1 1.9h0m.4-1.5h0m.4-.7h0m.3-.1h0m.4-.2h0m-12.2 3.4h0m1.1 2h0m.4-1.2h0m.1 1.3h0m.2 0h0m.2-.4h0m0-1.4h0m.1-.5h0m.3 .7h0m.1-.9h0m.2 .3h0m.3-.1h0m.5 1.3h0m0-.2h0m.3 .2h0m.1 1.4h0m.5-2.9h0m.5 .5h0m.2 1.6h0m.3 .2h0m0 .2h0m.9-.5h0m.3 .8h0m.2-1.1h0m.5 .3h0m0-1.4h0m.4 .4h0m.3-.8h0m.1 1h0m.2-.5h0m0 .5h0m0 1.5h0m.3 .3h0m.3-2.6h0m.1 .3h0m0-.7h0m-6.9 3.8h0m1.3 .6h0m.1 .1h0m0 1.3h0m.1-1.8h0m0 .3h0m.1 .3h0m.1 .9h0m.5-1h0m.2 .1h0m.1 .6h0m.1-.3h0m.2-1h0m.3 0h0m.2 1.9h0m.3 .1h0m.3-1.1h0m.7 .4h0m0 .3h0m.4-.8h0m.1 .5h0m.4 .4h0m.2-.5h0m-4.6 1h0m2.4 0h0m-15 19.1h0m.1 1h0m.3 .3h0m.1 .3h0m.1 0h0m.2-.2h0m-3.1 3h0m.4-.1h0m.1-2.3h0m0 .8h0m.2-.5h0m.4 1.4h0m.7-.9h0m1.2-.7h0m.1 1.4h0m.1-.5h0m.1-.4h0m0 .3h0m.1 1.1h0m.1-2.2h0m1.1 2.5h0m.4 0h0m.2-.2h0m.1-.9h0m.5 1.3h0m-9.9 2.9h0m.1-.4h0m.2-.5h0m.4 1.2h0m.2-1.2h0m.3-1.2h0m.5 2.5h0m.1-.8h0m.1 .8h0m.1-.9h0m.1 .3h0m.4-1.8h0m.2 1.9h0m.1-1.2h0m.2-.5h0m.2 1.2h0m.1-.4h0m0 .9h0m0-.6h0m.1 1.1h0m.1-.8h0m0-.2h0m.1-.6h0m0 1.5h0m.1-2.5h0m.2 1.2h0m.1-.8h0m.1 .6h0m.1-.5h0m0-.2h0m.1 .6h0m.4 1.3h0m0-2.6h0m.5 1.5h0m.2 1h0m.2-1.4h0m0 .9h0m.4 .8h0m.4-2.3h0m.1 .6h0m.2 1.2h0m1.2-.3h0m.3-1.3h0m.2 2.1h0m.5-2h0m.2 1.6h0m.3-1.8h0m0 .5h0m2.9-.6h0m-15.9 5h0m2.6-.4h0m.6-.8h0m.4-.1h0m.5-1.1h0m.1 2.6h0m.1-2.3h0m.3 1.6h0m.5-1.3h0m.4 .9h0m.2-1.6h0m.1 1.2h0m.4 .8h0m.2-1.9h0m.1 1.2h0m0 .6h0m.1-.7h0m.3-.1h0m.1 1.3h0m.1-.6h0m0-.2h0m.4 .2h0m.3 .9h0m0-.9h0m0 .1h0m.1 .6h0m.1-.9h0m.1-.4h0m.2 .9h0m0-1.6h0m0 2.4h0m.2 0h0m.1-1.5h0m.1 .2h0m.1 0h0m.1 .2h0m.3-1.3h0m.3 2h0m.2-1.9h0m.2 .6h0m.1-.6h0m0 1.2h0m.7 .7h0m.1-2.1h0m.1 2.1h0m0-2.1h0m0 1.5h0m.8 .8h0m.3-2.7h0m.1 .7h0m0-.1h0m.1 1.6h0m.2-1.6h0m0 1.9h0m.1-2.5h0m.1 2.5h0m.1-1h0m0 1.5h0m0-2.1h0m0 1.7h0m.2 .3h0m.1-1h0m.4-.1h0m.5-.7h0m.3-.4h0m.1 .8h0m-11.6 2.8h0m.1 .3h0m.4-.4h0m0 .7h0m.4 1h0m.1-.1h0m0-.5h0m.2-2.2h0m.1 2.9h0m.1-2.5h0m0-.3h0m.1 2h0m.3-1.6h0m0 2.3h0m.1-1.6h0m.1 .1h0m.2 .9h0m.1-1.2h0m.3 1.4h0m0-1.4h0m.2-.9h0m0 .7h0m.1 0h0m0-.4h0m.2 1.1h0m.3-1h0m0 .8h0m.1-.8h0m.4 1.4h0m0 .6h0m0-.5h0m.3 .8h0m.1-.4h0m.1-1.3h0m0 .7h0m.1 .9h0m.2-1.6h0m.2-1.1h0m.1 1.6h0m.1 .6h0m.1-2.1h0m.2 1h0m.1 .8h0m.1 .1h0m0-1.1h0m.1 1h0m.1-1.6h0m.5 1.1h0m0 .9h0m0-1.7h0m.1-.2h0m.1-.5h0m.2 1.9h0m.1-1.3h0m.8-.1h0m.1 1.7h0m.2 .5h0m.3-.6h0m.3-1.4h0m.1 .7h0m.1-.1h0m0 1.7h0m.1-2.1h0m0 .4h0m.1 0h0m.2-.3h0m.1 .1h0m.2-.3h0m0 2h0m.1-1.9h0m0 .1h0m.1 .1h0m.1 1h0m.2-1.9h0m.1 1.8h0m.1 .1h0m.1 .1h0m.1-1.7h0m0 .6h0m.1-.5h0m0 .7h0m.2 1.3h0m.1-2.4h0m.1 .4h0m.2 .5h0m0 1h0m.1-.8h0m.1-.4h0m.1 .7h0m.1-1.5h0m.3 2.7h0m.1-2.2h0m.6 1.6h0m-11.7 1.6h0m.4 .8h0m.1-.8h0m.4-.2h0m.2 .6h0m.1-.7h0m.5 1.6h0m.1-1.3h0m.4 1h0m.5-1.4h0m1.1 .5h0m.3-.1h0m.1-.7h0m.1 2.5h0m.2-.4h0m0-1.7h0m.3 .8h0m.1-.1h0m.6 .4h0m0 .5h0m.1-.1h0m.6 .9h0m.2-.3h0m.1 .1h0m0-2.7h0m.5 1.3h0m.3-.1h0m.1-.6h0m.2 .2h0m.2 .5h0m0-.1h0m.1-.8h0m.2-.2h0m.4 .3h0m.2 .9h0m0 1.5h0m.1-1.4h0m0-1.4h0m0 2.9h0m0-2.9h0m.1 2h0m.3 .4h0m.2-1.8h0m.2 .6h0m0 .5h0m0-1.4h0m.1 1.6h0m0-.2h0m.2-.5h0m.4-1.3h0m.3 .5h0m0 .9h0m0 .5h0m.1 0h0m.4-1.4h0m.3 .5h0m0-.1h0m.3-.3h0m.4 2.4h0m-12 1h0m.2 1h0m.1-1.9h0m.1 2.5h0m.3-.8h0m.2 .1h0m0-1.1h0m.2-.6h0m.2 .9h0m.2 .2h0m.5-1.2h0m0 1.9h0m.4-.2h0m.2-.8h0m.1 .3h0m.2-1.1h0m.6 1.1h0m.1-.1h0m.5-.9h0m.2 1.8h0m0 .6h0m.1-1.7h0m0-.6h0m.2 1.9h0m.2 .1h0m.1-1.8h0m0 1.4h0m.3-1h0m.2 .4h0m.1-.4h0m.2-.2h0m.1 .7h0m.2-1.1h0m.3 1.6h0m0 1h0m.3-1.8h0m.1-.9h0m.1 1.2h0m.2 1.3h0m.4-2.5h0m.2 .4h0m.3-.6h0m.2 1.7h0m.1-.2h0m0-.1h0m.2-1.4h0m.2 .1h0m.6 1.5h0m.3 .6h0m0-.8h0m.1-1h0m.2 2.2h0m.3-1.9h0m.3-.2h0m.1-.2h0m.1 1.3h0m.1-1.5h0m.3 2.2h0m0-1h0m.6-1.3h0m.2 1.6h0m0 .2h0m1 .5h0m-12.4 2.5h0m1.1 .1h0m.1-1.6h0m.6 .5h0m.1 1.4h0m0-2.1h0m.4 2h0m.1-.6h0m.1-1.4h0m.4 .5h0m.1 .5h0m.1 1.2h0m0-2.1h0m.1 1.5h0m.3 1.1h0m0-1.1h0m.2-1.6h0m.3 .3h0m0-.2h0m.4 .2h0m.1 1.8h0m.3-.4h0m.2 .4h0m.2 .2h0m.1-2.3h0m.1 1.6h0m.1 .4h0m0-.5h0m.2 .2h0m.2 .3h0m.1-.6h0m0-1.6h0m.2 1.5h0m0 .5h0m.2-.1h0m0-1.3h0m0 .2h0m.1 0h0m0 .8h0m.3 .7h0m.3 0h0m.1-1.1h0m.2 0h0m0 1h0m.1-1.6h0m.1 1.2h0m.1-1.5h0m.2 0h0m.1 1.4h0m.4 .2h0m.3-1h0m.5 0h0m.3-.2h0m.2-.6h0m.8 2.5h0m0-1.9h0m.2-.4h0m.6 .6h0m.4-.8h0m.1 2.1h0m.1-1.5h0m.1-.2h0m-9.7 3.5h0m1.9-.6h0m.7 .5h0"/>
<path fill="#b4a4d8" fill-opacity=".5" stroke="none" d="M67.04 414.49L67.02 417.19L66.63 420L65.77 422.7L64.47 425.04L62.84 426.86L60.97 427.98L59.01 428.16L57.2 427.22L55.77 425.35L54.79 423L54.08 420.68L53.38 418.49L52.64 416.17L52.09 413.45L52.12 410.42L52.9 407.58L54.27 405.36L55.86 403.79L57.47 402.53L59.12 401.34L60.95 400.43L62.89 400.37L64.64 401.55L65.88 403.84L66.52 406.65L66.77 409.41L66.91 411.97z"/>
<path stroke="#b4a4d8" d="M64.9 394.3h0m-.8 2.4h0m3.5-2h0m-11.7 5.6h0m1.2-.5h0m.8 .1h0m.1-1.7h0m1.1 1.9h0m.1-.2h0m.5-1h0m.2 .7h0m.6 0h0m.2-.6h0m.2-1.1h0m.5 1.1h0m.2 .9h0m.3 .6h0m.1-1h0m.2-.8h0m.2 .9h0m0 .6h0m.6-.6h0m.2 .6h0m0-.5h0m.4-2h0m.7 2.3h0m0-.6h0m0-.5h0m.1 .6h0m.2-.8h0m.2-.6h0m.1 1.8h0m.4-.3h0m-11.5 1.5h0m.9 1.7h0m.4-.8h0m.4 .3h0m.1 .2h0m.2-.8h0m.3 .6h0m.3 .8h0m.3-2.5h0m.1 2.3h0m.3 .3h0m.6-.7h0m.1 .5h0m.3 .1h0m.1-1.7h0m.1 0h0m.6 .7h0m.1-.9h0m0 2.2h0m.2-.4h0m.2-1.3h0m.1 .3h0m0-1.3h0m.4 2.1h0m.4-2.3h0m.5 .9h0m.2 1.9h0m.4-1h0m.8 .7h0m.4-1.4h0m0 1.2h0m.6-1.1h0m.2-.7h0m.2 2h0m.6-1.9h0m0 2.3h0m.1-2.1h0m0-.4h0m.5 2.3h0m.1 .2h0m.3-1.2h0m.1 .4h0m.2-.8h0m.2 .1h0m.5 .3h0m.1-1.7h0m.1 2.2h0m.1 .5h0m.1-.1h0m.1-.5h0m.3 .2h0m.1-.4h0m.6 .5h0m-16.7 3.3h0m2-.1h0m.1-.3h0m0-.9h0m.7-.4h0m.1-.6h0m.2 2h0m.3-.6h0m.2-.5h0m.1 .9h0m.1 .1h0m.2-1.1h0m.1 .8h0m0-.3h0m.1-1.3h0m.1 2.3h0m.2-1.7h0m0 .5h0m.2-1h0m0 1.1h0m.4 1.3h0m.1-1.7h0m.2 1h0m.4-.4h0m.3-.3h0m0-1.4h0m.2 .8h0m0-.4h0m.1 2.2h0m.1 .2h0m.1-1.5h0m.1 .1h0m.5-.9h0m.3 1h0m.1 1.2h0m.1-1.5h0m.2-.6h0m.4 .9h0m.4 1.1h0m.1-1.8h0m.2 2h0m.1-1.7h0m.3 .2h0m.2 0h0m.1 1.4h0m.4-2.3h0m.3 .8h0m.1 .6h0m0-.6h0m.3 1.4h0m.2-1h0m0-1.6h0m.5 1.3h0m.3 1.1h0m.2-1.2h0m.6 1.2h0m.1 .3h0m.3-1.1h0m0 1.3h0m0-2.1h0m.2 1.7h0m0-1h0m.6 .9h0m.2-2.3h0m.2 2.7h0m.2-1.6h0m.1 1.4h0m.2-1.9h0m0-.1h0m.4 .1h0m.5-.8h0m.1 1.6h0m.1-.2h0m.1 .3h0m0-.9h0m0 1.3h0m0-.2h0m.3-1.4h0m.2 1.3h0m0 .9h0m-15.3 1.4h0m.1 1.7h0m.4-.4h0m.2-1.1h0m.2-.3h0m.1 1.1h0m0-.7h0m.1 .9h0m.6 0h0m.3-1.5h0m.3 .4h0m.2 1.5h0m.4-.1h0m.1-.7h0m.1-1h0m0 1.9h0m.1-1.3h0m.4-.5h0m.1-.9h0m.1 .1h0m.2 1.1h0m.2 .6h0m.3-.6h0m.3-.3h0m.1 .3h0m0 .4h0m.4 0h0m0-.6h0m0 .6h0m0 .8h0m.1-.2h0m0-2.3h0m.4 .4h0m.3 2.1h0m.2-1.8h0m.1 .7h0m.3 1.2h0m.2-.7h0m.3 .3h0m0-1.4h0m.1-.2h0m0 1.8h0m0-.5h0m.2-1.1h0m0 .8h0m0 .6h0m.1-1.6h0m.1 .7h0m0 1.3h0m.2-.4h0m.2-1.2h0m0 1.6h0m.5-.6h0m.1 .7h0m.2 .1h0m.1-1.9h0m0 1.4h0m.2 .3h0m.2-1.4h0m0 1.7h0m0-1.2h0m.1 1.3h0m.1-1.5h0m.2-.7h0m.2 1.8h0m0-2.3h0m0 1.3h0m.1 .8h0m.3 .5h0m0-.2h0m.1-.2h0m.3 .2h0m.2-1h0m.5-1.3h0m.1 .9h0m0 .5h0m.5 .3h0m.1 .4h0m.1-1.9h0m.1 2.4h0m.4-.9h0m.1-.2h0m.3-.2h0m.2 1h0m.1-.9h0m.5-.9h0m.1 1.8h0m.1-.3h0m.2-.9h0m.3 1.1h0m.1-1h0m.2-.3h0m.1 1h0m.1 .5h0m.5-1.6h0m.2 1.6h0m-17 1.8h0m0-1.2h0m0 2.5h0m.1-.1h0m.2-2h0m.3 2.1h0m.2-2.5h0m.2-.2h0m.1 1.5h0m.2 1h0m.1-2h0m.2 1.5h0m.1-2.1h0m.5 0h0m.6 2.7h0m.1-.2h0m0-1.1h0m.1 .8h0m.4-1.5h0m.1-.6h0m.1 2.4h0m0-.8h0m.3 1h0m.1-1h0m.3-.9h0m.1 1.9h0m.4-1.7h0m.1-.7h0m.1 .1h0m.2 2.2h0m.1-1.7h0m.2 .3h0m.2 .3h0m.2-1.2h0m.2 2.5h0m0 .1h0m.1-2.2h0m.4 1.1h0m.1-.6h0m.5-1.1h0m.1 2.5h0m.4-2.4h0m0-.1h0m.1 2h0m.1-.1h0m.4 .5h0m.1-1.7h0m0 .2h0m.1 1.3h0m.1-.5h0m.5-1.4h0m.1 .1h0m.1 1.8h0m.1 0h0m.6-1.7h0m.3 1.7h0m.3-1.7h0m0 1.6h0m0 0h0m.4-2h0m0 1.9h0m.1-.8h0m0 .9h0m.4-.5h0m.4-.9h0m.3 .5h0m.2-.5h0m.1 .4h0m.1 1.2h0m.2-2.3h0m.1 .7h0m0-.4h0m.2 2.1h0m.1 .3h0m.1-.3h0m.1-2.1h0m.6 2h0m0-.7h0m0-.2h0m.2-.1h0m0 .7h0m0-.2h0m.2-1.6h0m0 1.9h0m0-.8h0m0 .6h0m.2-.7h0m.1 .4h0m0 .6h0m.1 0h0m.1-1.3h0m.2 1.9h0m.1-1h0m.1 .2h0m.1-1.4h0m0 1.5h0m.2-.1h0m.1 0h0m.2 .4h0m.1-1.9h0m.1 1.2h0m0-1h0m.4-.8h0m.2 1.1h0m.5 1.3h0m.1-2.2h0m.1 1.1h0m-17.9 3.7h0m.3-1.8h0m.2 2.6h0m.3-1.3h0m.1-1.6h0m0 2.4h0m0-.9h0m.1 .2h0m.1-1.3h0m.2 .6h0m.3-.7h0m.1 2.3h0m.2-1.7h0m0 2h0m0 .1h0m.2-.5h0m0 .1h0m.4-1.4h0m.1-.1h0m.1 .4h0m.1 1.5h0m.4-1.9h0m.2 1.7h0m.3-.8h0m.5 .6h0m.2-.2h0m0-.1h0m.3-2.1h0m0 .7h0m.1 .6h0m.4 .4h0m.3-1.7h0m.6 0h0m0 .2h0m.3 1.4h0m.1-.7h0m.1 1.8h0m.1-2h0m0-.1h0m.1 1.3h0m.1-1.6h0m0 1h0m.1 0h0m0 1.2h0m.1-.4h0m.3-2.2h0m0 2.5h0m.5-.2h0m.1 .5h0m.5-1.7h0m.2 1.4h0m.1 0h0m.2-1.7h0m.1 .9h0m.3-.6h0m0 .6h0m.2 .6h0m.1-.8h0m.4-1.2h0m.1 1.4h0m0-1.4h0m.1 2.1h0m0-2.1h0m.3 .8h0m.2 .1h0m.3 .2h0m.2-.6h0m.1 .4h0m0-1h0m.1 2.3h0m.1-.4h0m.1-1.2h0m0-.3h0m0 1.4h0m.1 .8h0m0-2.3h0m.1 1.2h0m.1 .6h0m0-.4h0m0 0h0m.3-1.2h0m0 .5h0m0 .6h0m.5-.1h0m.2-1.2h0m.2 .3h0m.1-.6h0m0 .2h0m.1-.5h0m.1 .9h0m.2 .2h0m.2 1.6h0m0 0h0m.2-.9h0m.1-.1h0m.1 1.1h0m.2-.7h0m0-.5h0m.1-.6h0m0 .7h0m.5-1h0m.1 1.6h0m.1-1h0m0-.3h0m.1 .8h0m.1 .1h0m0-1.5h0m.1-.1h0m.2 .5h0m.1 1h0m.1 .1h0m.1-.8h0m.1 1.6h0m0-1.6h0m0 1h0m0-1.9h0m.3 1.5h0m0 1.2h0m0-1.9h0m0 1.8h0m.1-1.6h0m0-1.1h0m0 2.8h0m.1-1.5h0m.1-.5h0m.3 0h0m.2 1.8h0m.5-2.5h0m.2 1.7h0m-18.5 3.7h0m1.4-.8h0m.4-1.1h0m0 0h0m.1 1.8h0m.2 0h0m.3 .1h0m.1 .3h0m.2-1.5h0m.4-1.3h0m.1 1.7h0m.1-1h0m.2 0h0m.1 .4h0m0-.3h0m.2 1.3h0m.2-2.1h0m.4 .1h0m0 1.5h0m.1 .3h0m.3-1.9h0m.1 1.6h0m.3-.1h0m0 .3h0m.2-.8h0m.1 1.8h0m.2-2.1h0m.2 1.3h0m0 .2h0m0-.2h0m.1-1.8h0m.1 2.4h0m.5-2.6h0m.2 .7h0m.1 .3h0m0 1.4h0m0 0h0m.1-2.3h0m0 .9h0m.2 .4h0m0 1.3h0m.3-1.2h0m.5-.2h0m0 1.2h0m.3-2.4h0m0 1h0m.3 1.7h0m.1-2.3h0m.5 .7h0m.2-.4h0m0-.6h0m0 1.7h0m.2 .6h0m.2-.5h0m.1-.6h0m.2 .4h0m.1 .8h0m.3-2.2h0m0 2.2h0m.2-1.3h0m.3 1.1h0m.3-.3h0m0-2h0m.1 1.7h0m.1-.4h0m.3 1.2h0m0-.4h0m.3 .5h0m1.5-1.8h0m0 1.6h0m.1-.5h0m.1-.8h0m.3-1.1h0m.1 .6h0m.1 .2h0m.7 0h0m.2-.1h0m.1 2h0m.2-2.9h0m.3 .4h0m.2 .2h0m0-.3h0m.4 1.8h0m.2-1.1h0m.1 1.1h0m.1 .8h0m0-2.7h0m.2 1.1h0m0 .1h0m.6-1.3h0m.2 1.8h0m.1 .2h0m0-.1h0m.5-1.8h0m.1 .4h0m-17.1 2.8h0m1.4 2h0m.4-1.1h0m0 .3h0m0 1.3h0m.1-1.4h0m0 .2h0m.3-.3h0m.4-.6h0m.2-.3h0m.2 .5h0m0 .3h0m.1 1.5h0m0-2.5h0m.1 1.5h0m.5-1.3h0m.3 1.7h0m0-2.1h0m0-.1h0m0 2.1h0m.1-.6h0m.2-.3h0m.3 .9h0m0-2h0m0 1h0m.1 .3h0m.1 1.1h0m.1-2h0m0 .3h0m.4-.1h0m.5-.3h0m.2 1.4h0m0-1.4h0m.1 2.4h0m0-2.6h0m.3 .4h0m.2 .5h0m.3 .2h0m.5 .6h0m0-1.4h0m.1-.3h0m.4 1.1h0m.4-.9h0m.1 .3h0m0 1.1h0m.3 1h0m.1-2.4h0m.3 .9h0m.2-1.1h0m.2-.1h0m.1 0h0m.5 1.4h0m.4-.5h0m.1 .2h0m.1-.2h0m0 1.1h0m.1 0h0m.2-.5h0m.1 .3h0m0 1h0m.5-2.3h0m.1 1.6h0m.3-.3h0m0-1.6h0m.3-.2h0m.1 .2h0m.1 2h0m.1-.8h0m.2 1.2h0m.1-2h0m0 .9h0m0 1h0m.1-1.7h0m.3-.7h0m.1 .1h0m.4 0h0m.1 .4h0m.1-.6h0m.1 1h0m.1 .6h0m.1-.6h0m0-.8h0m0 2.6h0m.3-.2h0m.3-1.2h0m0 1.1h0m.3-2.1h0m0 .1h0m.1 2h0m0-.1h0m.3 .2h0m.3-.5h0m0-2.1h0m.1 1.8h0m.2 .9h0m.3-1h0m-13.9 3.7h0m.4-2h0m.1-.3h0m.2 1.5h0m0-.9h0m.2 .8h0m0-1.3h0m.1 1.7h0m.2 .3h0m.4-2.1h0m.1 .9h0m.3 1.5h0m.2-.4h0m.1-2h0m0 1.7h0m0-1.6h0m.1 .1h0m.2 1.9h0m.4 .6h0m.1 0h0m.1 0h0m.4-2.1h0m.1-.5h0m.5 1.1h0m.1 1.5h0m0-.2h0m.2-.4h0m.2 .7h0m.7-2.8h0m.2 1.3h0m.3 .9h0m.1-1.2h0m0 0h0m.1 .9h0m.1-1.7h0m.1 1.9h0m.1-1h0m0-.7h0m.4 .3h0m.3-.3h0m.1 1h0m0-.6h0m.7-.7h0m.2 1.3h0m.1 .9h0m.6-.4h0m.3-1.7h0m.3 2.4h0m.1-.1h0m0-.5h0m.3-2.2h0m.1 1.2h0m.1-.5h0m.2-.5h0m0 .6h0m.1 1.1h0m.2 1.1h0m0-.6h0m.1 .1h0m.1-1.1h0m0 .9h0m.3 .5h0m.1-2.5h0m0 2.3h0m0-1.4h0m.3 .1h0m0 1.3h0m.2-1.4h0m0 .6h0m.3-.6h0m.1-.1h0m.1-.6h0m0 0h0m.1 .4h0m.1 .5h0m.4-.8h0m.2 .2h0m-13.1 2.3h0m.7 .7h0m.3 .5h0m.4 1.2h0m0-.2h0m.1-1.1h0m.3-.8h0m0 .2h0m0 1.9h0m.1-2.1h0m.6 1.5h0m.3-.2h0m.1 .1h0m.8-.8h0m.2 1.2h0m.6-.7h0m.1 1.2h0m.1-2.5h0m0 1.4h0m.1 .9h0m0 .4h0m.2-2.8h0m.1 1.8h0m.1-1.7h0m0 2h0m.2-2.1h0m.2 2h0m.9-1h0m.2 .7h0m.2-.2h0m.3-1.1h0m.1 2.4h0m.3-.6h0m.1-1.4h0m.3 2h0m.2-2.9h0m0 1.1h0m.3-.5h0m.3 1.6h0m.4-1.8h0m.1 .5h0m0 1.4h0m.2-.7h0m.2-.9h0m.3 2h0m.2-1.6h0m.3-1h0m.4 2.2h0m.3 .1h0m.7-.5h0m.1-1.7h0m.5 .9h0m0 .4h0m-10.6 2.8h0m0-.9h0m.2-.2h0m1 .9h0m.1 .5h0m.1-.5h0m.2 1.7h0m.3-1.5h0m0-.5h0m.4-.3h0m0 0h0m.5-.2h0m.2 1.4h0m0-1.2h0m0 2h0m.1-2.5h0m.1 .7h0m.3-.5h0m.2 1.7h0m.2 .3h0m.1-.8h0m.2-.8h0m.3 1.3h0m.4 0h0m.3-1.1h0m0 1.6h0m.2-.6h0m.3 .9h0m.1-.7h0m1 0h0m.6-1.5h0m.2 0h0m.3-.2h0m.1 .7h0m.2 .2h0m.3-.9h0m-6.8 3.8h0m.8 .9h0m2.3-1h0m1.2-.9h0m.1 .7h0"/>
<path fill="#a8501c" fill-opacity=".5" stroke="none" d="M71.25 390.2L72.15 392.06L73.01 394.54L72.83 397.24L71.16 399.17L68.54 399.63L65.97 398.82L64 397.71L62.43 397.09L60.75 396.94L58.86 396.64L57.16 395.66L56.08 394.01L55.62 392.11L55.39 390.2L55.15 388.18L55.2 385.96L56.03 383.84L57.76 382.37L59.98 381.86L62.12 381.98L64 382.13L65.86 382.06L67.88 382.15L69.75 382.99L70.91 384.69L71.15 386.75L71 388.6z"/>
<path stroke="#a8501c" d="M66 379.4h0m-9.8 2.9h0m0-.5h0m1.4 0h0m.8-.5h0m.1-.9h0m.4-.8h0m.2 .7h0m.4 1.1h0m0 .2h0m0 .9h0m.3-.5h0m0-1.8h0m.1-.2h0m.2 .1h0m.4 1.4h0m.1-.2h0m.4 .4h0m0-1.3h0m.2 .5h0m.1 .1h0m.9 .8h0m0 .6h0m.3-.2h0m0-.8h0m.1-.2h0m.1 1.2h0m.1-.5h0m.7-.5h0m.2 .5h0m.1-.1h0m.2-1.8h0m.2 1.3h0m.1-.3h0m.3 1.2h0m0-.8h0m.4 0h0m0-.7h0m.1 1.7h0m.2-1.6h0m.1 .6h0m.1 .7h0m.3-.9h0m.2 1.2h0m.2-.7h0m.2 .7h0m.4-.7h0m.2 .5h0m0-1.5h0m.8 1.7h0m.8-1h0m.3-1.1h0m.3 1h0m0 .6h0m.6 0h0m-15.7 3.4h0m.1-.7h0m.2-.2h0m0-.9h0m.2 1.1h0m.2 .7h0m.5-1.5h0m.1 0h0m.2-.4h0m.2 1h0m.1-1.7h0m.8 1h0m.4-.3h0m.5-.5h0m.2 2.5h0m.1-.9h0m.1-1.5h0m.4 1.6h0m.1-1.4h0m.2-.2h0m.2 1.3h0m.7-1.6h0m.3 2.2h0m0-2h0m0 2.3h0m.1-2.2h0m0 .4h0m.3-.7h0m.1 0h0m0 2h0m0-1.8h0m.3 2.3h0m0-2h0m.1 .2h0m.2-.7h0m.1 1.9h0m.3-.6h0m0 .2h0m.5 .4h0m0 .1h0m.1-1.1h0m.1 1.4h0m.1 .4h0m.1-1h0m0 .1h0m0-.8h0m.3-.1h0m.1-1h0m.1 .7h0m0 .6h0m.2 .2h0m0 .3h0m.1 .4h0m0 .6h0m.3-1.7h0m0 .8h0m.2-1.5h0m.2 2.4h0m.1-2.3h0m0 0h0m.1 1.9h0m.1 .1h0m.4-2.6h0m0 1.8h0m.2 1.1h0m.1 .1h0m.2-.1h0m.3-.5h0m.1-.8h0m.1 .4h0m.1-1.5h0m.2 1.2h0m.1 1.1h0m.5-.4h0m.2-.8h0m0 .4h0m.1 .6h0m.2-.7h0m.1-.6h0m.4 1.5h0m.1-1.9h0m.1 .6h0m0-.5h0m.1-.7h0m.1 2.3h0m0-.9h0m.3-1.5h0m0 .9h0m1.2-.5h0m.3-.1h0m.2 .3h0m0 1.3h0m.2 .1h0m.3-.9h0m0-1h0m.2 1.5h0m.1-.1h0m.1 .3h0m.2-1.5h0m0 1.5h0m0-2h0m.1 3h0m0-1h0m.2-.4h0m.2 1.1h0m.6 .2h0m.1-1.3h0m.6 .4h0m-18.9 1.8h0m.1 .3h0m0 .9h0m.3 .4h0m0 0h0m.3-2.1h0m0 .3h0m.2 .1h0m.2 2.2h0m0-.5h0m.3-.6h0m.5 0h0m.4 .7h0m.1-1.5h0m.6 .2h0m.3-.1h0m0 1.3h0m.2 .2h0m.2 .1h0m.1-.2h0m.1-1.8h0m.2-.2h0m.3 1.3h0m0 1h0m.2-1.6h0m.2 .4h0m0 .4h0m.2 .5h0m.1-1.7h0m0 0h0m.5 1.1h0m0-.6h0m.5 .8h0m0-.5h0m.1 1.2h0m0-.7h0m.3-1.7h0m0 .2h0m.2 2.3h0m0-2.4h0m.8 1.9h0m.1-.8h0m.1 .1h0m.1-.2h0m.2 .7h0m.1-.5h0m.1 .5h0m.1-.4h0m.1-1.4h0m0 1.3h0m.1 .3h0m.1 .1h0m.2 .6h0m.5-.4h0m.1-.9h0m0 .3h0m.2 .5h0m.2-1.9h0m.3 .2h0m.1 1.8h0m.1-1.6h0m.1 .5h0m.1-.9h0m.1-.2h0m.3 .5h0m.1 .3h0m0 .3h0m.2 .2h0m0-.3h0m.3-.3h0m.1 .7h0m.2-1.1h0m.2 .8h0m.1 1.8h0m.1-.2h0m.2-.9h0m0-1.1h0m.2 2h0m.1-2.3h0m.2 0h0m0 2.3h0m.2-1.3h0m.3 .1h0m0-.6h0m.1 1.2h0m0-1.2h0m.1-.1h0m.4 1.6h0m.1-.3h0m0-1.5h0m0 1.8h0m.2-1.9h0m0 .8h0m.3 1.5h0m.1 0h0m.2-1h0m.5-1.4h0m0 1.7h0m.3-.8h0m.2-1.4h0m.1 2.3h0m.1-.1h0m0 .7h0m.1-1.9h0m.4 1.4h0m.1 .4h0m.2-2.3h0m.1-.3h0m.1 1.4h0m.1 .8h0m.6-1.8h0m.2-.5h0m.1 2.3h0m.4 0h0m1.5-2.1h0m-20.7 3.4h0m.3 1h0m.4-1.5h0m.2 .8h0m.1 1.1h0m0-1.7h0m.4 .5h0m.1 1.4h0m.1 .2h0m.1-2.5h0m.1 2.9h0m0-2.9h0m.4 .3h0m.2 2.3h0m.1-2.6h0m0 1.6h0m.1 .1h0m.2 .9h0m0 .3h0m.1-1.1h0m.1 .7h0m.1-.8h0m.3-.1h0m0 .3h0m0-1.3h0m.1-.1h0m.5 .4h0m0-.4h0m.4 .1h0m0 1.6h0m.1 .6h0m0-.9h0m.7-.3h0m.3-1.4h0m.3 1.4h0m0 .5h0m.2-1.9h0m.1 2.5h0m.2-.7h0m.1-.3h0m.5 .4h0m.1 .6h0m.7-.1h0m.6-.7h0m0-.4h0m.3 .7h0m.3-.6h0m0 0h0m0 0h0m0-.6h0m.3 .4h0m0 1.2h0m0-.4h0m.2-1.5h0m0-.4h0m.5 2.2h0m.1-1.8h0m.3-.4h0m.1 1.3h0m.2 1.1h0m.2-.6h0m.3-.1h0m.1-.4h0m.2-.4h0m.4 .6h0m.3-.5h0m.1-.6h0m.3-.3h0m.1 .7h0m.2 .8h0m.1-1.6h0m.3 2h0m.4-1.7h0m.4 2.3h0m0-1.3h0m.1-.5h0m.2 .4h0m.1-.3h0m.1 1.1h0m0-.8h0m.3 .8h0m0-1.2h0m0 .2h0m.3 1.4h0m.3-1.7h0m.2-.2h0m.3 .8h0m.3 .1h0m.1 .9h0m0 0h0m.2-1.8h0m.1 .2h0m0-.2h0m.2-.8h0m.1 1.1h0m.1 1.7h0m0-1.8h0m.2-.2h0m0-.2h0m.1 1.3h0m0 .2h0m.1-1.8h0m.1 2.3h0m0-.2h0m.1-1.8h0m0 .9h0m.2 .4h0m0-.8h0m.1 1.8h0m.4-.9h0m.4 .6h0m.2-2.1h0m.1 1h0m0-1.3h0m.3 2.8h0m.1-.2h0m.7-.8h0m-19.3 1.8h0m.4 1.2h0m0-.2h0m.2 1.1h0m.4-.4h0m.3-1.1h0m0 .3h0m.2-.8h0m.5-.6h0m.3 .7h0m.3 .4h0m.2 1h0m.6-.5h0m.2-1.4h0m.1 2.2h0m0-.5h0m.2 .3h0m.2-1.2h0m.3 1.5h0m0-2.5h0m0 1.2h0m.2-.3h0m.1 1.4h0m0-1.8h0m.1 .9h0m.1-.7h0m.2 .6h0m.1 0h0m.1 1.1h0m.1-1.9h0m.1 .4h0m.1 .3h0m.2 0h0m0-.4h0m.3-.1h0m0 1.5h0m.1-1.6h0m.1 .9h0m.1 .8h0m.2-.2h0m.2-1.1h0m.1 0h0m0 1.5h0m.7-.3h0m.1 .5h0m0-1.6h0m0-1h0m0 1.4h0m.1 1h0m0-2.1h0m0 .4h0m.1 .6h0m.3 .5h0m.1-.8h0m.1-1.3h0m.3 2.1h0m0-.9h0m.1-.7h0m0 .3h0m.1 .1h0m0 1.8h0m0-1.9h0m.1-.7h0m.1 2.5h0m0 0h0m0-1.9h0m.1 1.8h0m0 0h0m.2 .1h0m.2-1.6h0m0 1.8h0m0-1.8h0m.2-.2h0m0-.2h0m.1 .6h0m0 1.7h0m.3-1.1h0m.1 1.1h0m.2-.2h0m0-.7h0m.1 .5h0m.2-.3h0m.1 .5h0m0-2.7h0m.1 2.3h0m.8 .1h0m.3-.4h0m0-1.2h0m.8 .8h0m.5-1.1h0m0 2.3h0m.1-1.5h0m.1 1.2h0m.2-.3h0m.2 .6h0m.3-1.5h0m.3 .5h0m0-1.2h0m.1-.2h0m.1 1.3h0m.1 .5h0m0-1.3h0m.6 .4h0m.3-.9h0m.6-.3h0m0 1.6h0m.2 .4h0m.1-1.1h0m.9 1.1h0m.1-.2h0m0 1h0m.2-2.1h0m.1 .5h0m.2-1.1h0m.1 1.7h0m0-1.5h0m.1 .7h0m.1-1.2h0m0 1.1h0m.7 .9h0m.2-1.9h0m0 .1h0m.1 1.4h0m.5 .6h0m.3 0h0m-21.8 3.6h0m2.7-.8h0m.1-1h0m.2 1h0m.3-.8h0m.5-.3h0m.1-.6h0m.1-.2h0m0 0h0m0 2.2h0m.6-1.5h0m.2-.7h0m.1 1.7h0m.1-1.7h0m.2 .2h0m.1 1.4h0m.1-1.2h0m0 .5h0m0 1.8h0m.2-2.3h0m.1 1h0m.2 .6h0m0-.7h0m.3-1.1h0m.4 .1h0m.2 1.7h0m.1-.9h0m0 .5h0m.4 .5h0m0-.1h0m.1-.9h0m.1-.3h0m.5-.2h0m.1-.1h0m0 1.2h0m0-1.4h0m.4 0h0m.2 1.4h0m0-1.3h0m.1 .2h0m.3 .4h0m.1-1h0m.1 .2h0m.2 1.9h0m.1 .2h0m0 0h0m0-1.3h0m.4-.3h0m0-.3h0m0 2.5h0m.2-1.1h0m.2-.9h0m0-.5h0m.5-.4h0m.2 2.5h0m0-.7h0m0-1.5h0m.1 .6h0m.1 .4h0m0 .8h0m.1-1h0m.3-.1h0m.3-.7h0m.1 1h0m.4 1h0m0-.5h0m.2 .8h0m.1-1.9h0m0 .1h0m.6 1.2h0m.1-1.1h0m0 1.3h0m.3-1.7h0m.3 .3h0m.1 .1h0m.6 1.8h0m.3-.1h0m.1-.5h0m.7-1.4h0m.2 .1h0m.1 2.1h0m0-1.8h0m.1 1.3h0m.6-1.4h0m.1 1.4h0m.4-.8h0m.2-.8h0m.1 .9h0m.4-.1h0m0-1.1h0m0 2.2h0m.3-2.7h0m.1 .9h0m0 .9h0m.2-1.7h0m.3 2.3h0m0 0h0m0-1.3h0m0-.8h0m.2 2.2h0m.6-1.1h0m.3-.5h0m.7 .3h0m0 1h0m0 0h0m.3-1.2h0m.1-.4h0m.2 .7h0m.6-.4h0m-17.3 2.2h0m1.2 0h0m2.1-.1h0m.7 0h0m.2 .5h0m0-.3h0m.3 .1h0m1.5 .3h0m.7-.3h0m.1 .3h0m.1-.3h0m0 1.3h0m.1-.1h0m.3 .1h0m.9-1.4h0m.1 1.1h0m.1 .1h0m.1 .6h0m.2-.7h0m.3 .6h0m0-.7h0m.4-.8h0m.3-.4h0m.3 2.5h0m.7 .2h0m0-.7h0m.2-.1h0m.1 .4h0m.4-2.1h0m0 2.4h0m.4-2.3h0m.1 2.4h0m0-1.9h0m.5 1.3h0m.1 .7h0m.3-1h0m.5-1.3h0m.2 .5h0m0-.2h0m.1 1.3h0m.5-1.5h0m.1 1.1h0m.3 1h0m.7-1.5h0m.3 .8h0m.7-2h0m-6.3 4.2h0m.3-1.2h0m4.8 .6h0m.8-.1h0m.5 .2h0"/>
<path fill="#6fa3d0" fill-opacity=".5" stroke="none" d="M95.79 384L97.35 386.75L97.57 389.91L96.17 392.68L93.61 394.47L90.66 395.26L87.82 395.38L85.2 395.08L82.8 394.42L80.66 393.36L78.79 391.98L77.11 390.41L75.49 388.64L74.06 386.52L73.22 384L73.37 381.32L74.54 378.91L76.3 376.96L78.18 375.26L80.1 373.5L82.38 371.74L85.2 370.66L88.18 371.03L90.55 372.98L91.77 375.82L92.17 378.49L92.64 380.45L93.9 382.03z"/>
<path stroke="#6fa3d0" d="M84 363.7h0m5.8 3.8h0m.5-1.6h0m.1-.7h0m-11.4 4.6h0m.8 .7h0m1.3-.3h0m.8-.3h0m.1-.2h0m.4 .3h0m.4-.8h0m.2 .7h0m0-.6h0m.1-.8h0m.3 .7h0m.7 .9h0m.1-1h0m.6-.5h0m.2 1.8h0m.1-1.9h0m.5 1.1h0m.2-1.9h0m.3 1.2h0m1.9 0h0m0 .5h0m.1 .8h0m1.1-1.1h0m.1 .3h0m.7 1.1h0m0-.3h0m.2-.7h0m3.2 0h0m-16.5 3.8h0m1.7-.3h0m.2 0h0m.2-.2h0m.1-.5h0m.2 .6h0m.4-.7h0m.1 .9h0m.2-.5h0m.2 .1h0m0 0h0m.1-1.6h0m0-.2h0m.1 .2h0m.1 .4h0m.3 .9h0m.1 0h0m.3-1.2h0m.2-.4h0m0 1.4h0m.2-.6h0m.2 1h0m.1-.7h0m.1 1.1h0m.1-.3h0m.9 .1h0m0-.7h0m.4 .9h0m.2-1h0m.2-.1h0m1.2-.7h0m.1 .3h0m.2 1h0m.5 .8h0m.3-.3h0m.1 .4h0m.4-1.1h0m.3-.1h0m.1-.8h0m.1 1.1h0m.2-.4h0m.3-1h0m.5 2.3h0m.4-2h0m.2-.2h0m0 1.4h0m.2-1.8h0m.3 2.6h0m.3 .1h0m.1-2.3h0m.1 1.8h0m.6-1h0m.4-.2h0m.2 1.1h0m.1-1h0m.2 .1h0m.2 0h0m.2-.5h0m.3 2h0m-17.2 2.8h0m1-.1h0m.2-1.5h0m.1-.3h0m.1 1.5h0m.2-.2h0m.1-1.5h0m.1-.6h0m.1 1.2h0m.1 1h0m.5-1.4h0m0 .7h0m.2 .9h0m.1-.8h0m.1-.1h0m0 1h0m.1-.9h0m.1-.4h0m0 .6h0m0 .1h0m.2-.1h0m.3 .8h0m0-.8h0m.1 .6h0m.2-1.5h0m.1-1h0m.1 2.1h0m.2-.5h0m.1 .3h0m0 .5h0m.2 .3h0m0 .1h0m.1-1.1h0m1.1-1.3h0m.1 1.8h0m.1-1.3h0m.2-.8h0m.3 1.2h0m0 1.7h0m.2-2.4h0m.1 .7h0m.1 .4h0m.4-.1h0m.1-.1h0m.2 .6h0m.6-.5h0m.1 1.4h0m.4-.3h0m0-2h0m.4 2h0m0-2.1h0m.2-.5h0m0 2.6h0m.5-1.5h0m.2 1.1h0m.2-.3h0m.1-2h0m.2 .9h0m.5 1.4h0m0 .5h0m.4-.9h0m.5-1.8h0m0 1.1h0m.3-.5h0m0 1.7h0m.6-1.9h0m.2 .9h0m.2 .3h0m.3 .1h0m0 0h0m.1 .3h0m.5-1.2h0m.4 1.6h0m.1 .2h0m.1-1.1h0m.1-1.1h0m.3 .8h0m0-.7h0m0 2.3h0m.2-2.4h0m0 .5h0m.3 .8h0m0-1.7h0m.1 1.8h0m0 0h0m.1 .2h0m0-1.9h0m.2 1.5h0m.4-.8h0m.2 .3h0m.1-.8h0m.1 1.3h0m.1-1.2h0m.3 1.6h0m.3-2.1h0m.1 2.5h0m0-1.2h0m0 .1h0m.1-.7h0m.1 1.8h0m.5 0h0m.1-.6h0m.2-.4h0m.1-.8h0m-21.6 4.3h0m1 .9h0m.1-.5h0m.1-.9h0m.2 .1h0m.3-1h0m.1-.4h0m.1 1.3h0m0 .6h0m.1-.1h0m.2-1.2h0m.2 1.8h0m.2-1.8h0m0 .5h0m.3 0h0m0 1.6h0m.1-1.2h0m.1-.3h0m0 1h0m.1 0h0m.2 .4h0m.1-2.6h0m.4 .7h0m.1 1.3h0m.1-.8h0m.5-.8h0m.2 .6h0m.1 .7h0m.1-.1h0m.3-.6h0m0 .1h0m.3-.2h0m.1 .8h0m.2-1.3h0m0 .5h0m.4-.2h0m.1 1.6h0m.2-.9h0m.1-1.4h0m0 2.6h0m.3-.7h0m0 .2h0m0-.1h0m.1-.6h0m.2 .5h0m.1 0h0m.1-1h0m0 .4h0m.2-1h0m0 .6h0m.3 1.4h0m.1-2.5h0m.1 1.7h0m0 .9h0m.1 .4h0m.4-2.1h0m0 .1h0m.1-.6h0m0 .9h0m0 .8h0m.2 .6h0m.1-.2h0m0-1.6h0m.1 1h0m.1-.2h0m.1-1.1h0m.1 .6h0m0 1.6h0m.1-.5h0m0-.3h0m.2-.7h0m0 1.3h0m.2 .1h0m0 .3h0m.2-1.9h0m.2-.3h0m0 1.7h0m.3-.6h0m0-1.4h0m.1 .6h0m.1 .9h0m.6-1.4h0m.6 1.6h0m.2-.6h0m.5 0h0m.2 1.2h0m.4-.4h0m0-1.7h0m.2 2.1h0m.1-.2h0m.5-1.5h0m.4 1.3h0m.2-1h0m.1 1.3h0m.7-2.4h0m.2 2.2h0m.2 .5h0m0-.7h0m.1 .4h0m.1-2.1h0m.3 .4h0m.2 .7h0m.1 1.1h0m.4-.5h0m.4-.8h0m.1 .1h0m0-.8h0m.5-.6h0m.1 .3h0m.7 1.8h0m0-2h0m.3 .5h0m.1 1h0m.1 .4h0m0 .4h0m.1-.5h0m.4-2h0m.2 .9h0m.2 1.8h0m0-.6h0m0-.9h0m.1-.2h0m.2-.5h0m.2 .1h0m.4 .8h0m.1 .3h0m.3-.8h0m.4 .3h0m.3 .9h0m.1 .4h0m.7 0h0m1.2-.7h0m-26.1 4h0m.1-2.5h0m.8-.2h0m0 2.4h0m.2-1.6h0m.3-.2h0m.4 0h0m.5 .2h0m.1-.5h0m0 2.2h0m.5-.3h0m0 .3h0m.4-2.4h0m.1 2.7h0m.3-1h0m.1 1h0m.1-1.2h0m0-.6h0m0 1.3h0m0-1.5h0m.1 .4h0m.3 .1h0m.1 .8h0m.1-.1h0m.1 .6h0m0-2.4h0m0 2.5h0m0-2.2h0m0 .8h0m.3 .3h0m0 .7h0m.3-.6h0m.3-.3h0m.3-.9h0m0 .7h0m0 .6h0m.3-.3h0m.1-.6h0m.1 .2h0m.3-1h0m.4 1.4h0m0-.8h0m.2 1.7h0m.5-1.9h0m.1 .1h0m.1 .6h0m.1-1.3h0m.1 1.8h0m.3-.6h0m.2-1.1h0m.1 1.1h0m.1 1.7h0m.4-1.2h0m0 .9h0m.3-2.5h0m0 2.4h0m.1-2h0m.4 1.1h0m0 1.1h0m.2-1.2h0m0-.3h0m.1 .3h0m.1-.9h0m.1 .7h0m0-1.3h0m.1 1.2h0m.1 .1h0m0-1.3h0m.1 2h0m.3 .1h0m.2-.8h0m.4 1.3h0m.7-.5h0m.2-2.2h0m.3 1.2h0m0 1.2h0m.2-1.5h0m.6 .8h0m0 1h0m.1-2.5h0m0 .2h0m0 .5h0m.3-.8h0m.6 2.8h0m.9 0h0m.5-.4h0m.1-1.3h0m.2 1.3h0m.2-2.2h0m.1 1.8h0m0 .7h0m0-.4h0m.3-1.3h0m0 1.3h0m0-1.7h0m.3 .8h0m0 .6h0m.1-.2h0m0-.1h0m.1 .3h0m0-.2h0m.5 .2h0m.1-.6h0m.2 1.2h0m.1-1.6h0m.2 .8h0m0-.7h0m.1 .6h0m0 .7h0m.1 .2h0m0-1.3h0m0-1.3h0m0 2.6h0m.1 .1h0m0 0h0m.1-1.2h0m0-.6h0m.1 .7h0m0 1.1h0m.1-.7h0m0-1.7h0m.1 2h0m0-.2h0m.1-.5h0m.3 .2h0m0-.6h0m.3 1.5h0m0-1.2h0m0-1.2h0m.3 2h0m.1-.5h0m0-.8h0m0-.6h0m.1 1.6h0m0-1.5h0m.1 1.1h0m0-1.4h0m0 1.8h0m.1-1.4h0m.1 1h0m0-1.1h0m.1 0h0m0 2.3h0m.1-.1h0m.3-2.3h0m.1 1h0m0-1.3h0m.1 2.7h0m.1-2.1h0m.1 1.7h0m.4-.6h0m0-1.3h0m.1 .1h0m0 1.2h0m0-1.6h0m0 2.4h0m.2-.9h0m0-1.7h0m.1 .6h0m.2 .3h0m0 .2h0m0 1.4h0m.1-2.1h0m.2 .8h0m.1 .2h0m.2-.5h0m.1-.2h0m0 .6h0m.1-.3h0m.1-.5h0m.1-.2h0m0 .7h0m.1 0h0m.1 1.6h0m0 0h0m.1 .2h0m.3-.9h0m.3-.9h0m.1 .8h0m.1-.3h0m.7 .6h0m.3-.2h0m-25.1 1.8h0m.2-.2h0m.1 .7h0m.1 .3h0m.4-1.1h0m.4-.1h0m0 2.2h0m.4-.2h0m.2-1.1h0m.4 1.1h0m.3-.6h0m0 .2h0m.1-1.5h0m.6 .2h0m.2 .5h0m.6-1.2h0m.1 2.9h0m.2-2.1h0m.1 .9h0m.1 .6h0m.1-2.1h0m.3 2.3h0m.1-.7h0m.1 0h0m.1-1.4h0m.1 1.9h0m.4-2.1h0m.1 0h0m.1-.1h0m.2 2.5h0m.1-.4h0m.8-1.4h0m.2 1h0m.1 1h0m.3-.2h0m0-1.1h0m.5 .4h0m.2-1.5h0m.3 1.6h0m0-.5h0m0-.6h0m.1 2.1h0m0-.6h0m.1-.5h0m0 1h0m.2-.4h0m0-2.1h0m.1 .1h0m.1 .5h0m.1 .9h0m0 .4h0m0 .3h0m0-2.4h0m.3 .6h0m.1 2.2h0m0-2.5h0m.2-.5h0m.2 2.5h0m.4 .3h0m.1-1.3h0m.1 .9h0m.1-.6h0m.1-1.1h0m.1 1.4h0m.1 .2h0m0 .6h0m.2-2.1h0m.1-.5h0m.2 .2h0m.1 1h0m0-1.2h0m.2 1.3h0m.1 1h0m.2-2.2h0m.1 1h0m.6 .2h0m.3-.5h0m.1-.5h0m.1 1.1h0m.3 .6h0m.2-.9h0m.1 1.4h0m0-.5h0m.1-1.7h0m0 1.1h0m.2 .4h0m.1-.9h0m0-1.2h0m.1 2.6h0m0 .1h0m.1-2h0m.5 .9h0m.4 .3h0m.1-.8h0m0-.6h0m.5 .2h0m.1-.1h0m0 1.7h0m.2-.3h0m0-.4h0m.1 .9h0m.1-.8h0m.2 .5h0m.3-2h0m.1 .1h0m.4 .3h0m0 .7h0m.1-.7h0m0 2.3h0m.2-1.6h0m0-.5h0m.1 1.9h0m.2-2h0m0 .1h0m.1-.4h0m.1 1.3h0m0 .9h0m.2-2.6h0m0 2.4h0m0-1.6h0m.1-.6h0m0 .4h0m.2 2.1h0m.3-.3h0m.2-1.9h0m0 1.8h0m.6 .3h0m.1 .1h0m.1-1.3h0m.1 .7h0m.1 0h0m.1-.2h0m.1-1.4h0m0 1.9h0m.4 .5h0m.3-1.4h0m.1-1.4h0m.2 2.9h0m.1-2.1h0m.1-.8h0m0 1.8h0m0 .9h0m0-2.4h0m.4 1.7h0m.2-1.6h0m.3-.1h0m.7 .4h0m0 .6h0m.1 1.2h0m0-.4h0m.1-.1h0m.1-.2h0m.2-.6h0m.2 .3h0m0-1.4h0m0 2.5h0m.3-1.5h0m.3-.5h0m0 1h0m.1-.5h0m0-.8h0m.1 1.4h0m0 0h0m.1-.2h0m.1 .3h0m0-.6h0m.2 1.4h0m.3-1h0m.1 1.1h0m0-1.7h0m0 1.2h0m.2-.2h0m.1 .7h0m0-1.1h0m.1-1.3h0m.2 .9h0m.1 1.2h0m.1-.3h0m0-2h0m.2 2.5h0m.4-.3h0m0 .3h0m.2 0h0m-26.7 1.3h0m.1-.7h0m.3 .6h0m.6-.6h0m.2 .1h0m.3 1.7h0m.1 .8h0m.1-1.5h0m.4-.9h0m0-.2h0m.3 .2h0m.1-.2h0m.1 .7h0m0 .8h0m.2-.7h0m.1-.6h0m.7 0h0m0 2h0m0-1.4h0m.2 .3h0m.1-.2h0m0-.2h0m.1 0h0m.2 .5h0m.1 .7h0m.3-.1h0m.1-.1h0m0-.2h0m0 .9h0m.2-1h0m.2-.2h0m0 1.1h0m.2-2.3h0m0 2.1h0m.1-1.4h0m.3-1h0m.1 2.8h0m.2-1.9h0m.3 .3h0m.5-1.2h0m.4 2h0m0-1h0m.1-.6h0m0 .2h0m.2 .1h0m0-.4h0m0-.2h0m.1 1.9h0m.4-.7h0m0-.8h0m.1 2.3h0m0-1h0m0 .1h0m.1-.8h0m0 1.4h0m.1-1h0m0 .2h0m.3-1.6h0m.1 .7h0m.1 .3h0m.1 1.3h0m.1-2h0m.3 1.2h0m0-.4h0m.3-1.1h0m0 .1h0m.1 2.7h0m.2-.5h0m.3-1.2h0m0-.1h0m0-.4h0m.2 .1h0m.2 .7h0m.1-1.2h0m.1 .6h0m.1 .2h0m0 1.3h0m.3-1h0m.2-1.2h0m.1 1.6h0m.1-1h0m0-.5h0m.2 1.2h0m0 1.1h0m.1-2.3h0m0 1.7h0m.1-1.9h0m.4 1.3h0m0-.2h0m.1 1.8h0m0-2.6h0m.1 2h0m0-2.1h0m0 .3h0m.2 1.6h0m.2-.8h0m.1 .1h0m.1-.3h0m.2-.7h0m.1 .5h0m0 .6h0m.1-.1h0m.4-.6h0m0 1.2h0m.1-.3h0m0 1.1h0m.2-2h0m.2-.2h0m.1 1.6h0m.1 .7h0m0-1.5h0m.1 .1h0m.1 1.1h0m.5-.6h0m.1-.6h0m.1 1h0m.2-1.8h0m0 .4h0m.5 1h0m0 .8h0m0-1.6h0m.2 .7h0m0-1.1h0m.2 1.1h0m.3-1.7h0m.1 1.7h0m.1-1.8h0m.1-.1h0m.2 2.2h0m0-1.3h0m.5-.4h0m.2 .2h0m.3 0h0m.1-.7h0m.3 .9h0m.1 1.5h0m0-.9h0m0-1.2h0m1.1 .8h0m.3 0h0m.2 .8h0m.1 .9h0m.2-2.3h0m.2 2.2h0m.3-1.6h0m.1-.8h0m.3-.1h0m.3 2.2h0m.4-2.4h0m0 2.6h0m.1-.3h0m.2 .5h0m.1-1.1h0m.1-.6h0m.1-1h0m.1 .6h0m.4 .4h0m.2 1.1h0m.5-1.8h0m0 .8h0m0-1h0m.1 2.6h0m.2-2.3h0m.7-.3h0m0-.2h0m0 .9h0m0 1.4h0m.1-.2h0m.2 .5h0m.1-1h0m.2 1.2h0m0-2.5h0m.2 .6h0m.1 1.4h0m.2-.9h0m.1-.6h0m.5-.3h0m.1 0h0m.8 1.9h0m1.5-1.2h0m-26.4 3.1h0m.3-1.2h0m.1 .3h0m.2 1.4h0m.1-1.8h0m.3 .9h0m.3-.2h0m.1 0h0m.1 1.3h0m.1-.3h0m0-.5h0m.1 .3h0m.1-1.6h0m.2 .5h0m.1 1.8h0m.1-.5h0m.3 .6h0m.1-2.3h0m.1 1.3h0m.2 1.1h0m0 .3h0m.1 0h0m.2-.6h0m.1 0h0m0-1.1h0m.2-.9h0m.1 1.8h0m.1-.1h0m.1-1.7h0m0 2.3h0m.1-2.5h0m.5 1h0m.1-.2h0m.1 1.9h0m0-1.9h0m.3 1.5h0m0-1.9h0m.3 1.2h0m.1-1.1h0m.4 1.8h0m.1-.4h0m.2-1.1h0m0 0h0m.2 1.2h0m0 .2h0m0 .1h0m.3-1.1h0m.1-.6h0m.1 2.1h0m0-2.4h0m.3-.2h0m0 .9h0m0 .1h0m.2 1.7h0m0-.8h0m0 .5h0m.1-.5h0m0 .8h0m.2-2.5h0m0 1.9h0m.2-.1h0m0-.4h0m.1-1.1h0m.2 1.8h0m.1-1.4h0m.2-.3h0m0 2.2h0m.2-1.6h0m0 1.3h0m0-2.4h0m0 2h0m0 .3h0m0-2h0m0 2.2h0m.3-2.3h0m0 .5h0m0 1.5h0m0-1.6h0m.3-.1h0m.3 2.2h0m0-.6h0m0 0h0m.2-1.1h0m.1 1.4h0m.1-1.3h0m.1 1h0m.1-1.6h0m0 2h0m.1-1.9h0m.1 1.9h0m.2 .1h0m.3-1h0m.3 .1h0m.1-.7h0m.2-.9h0m.1 1.3h0m0 1.1h0m.1 0h0m.3-.8h0m.1-.5h0m0-.3h0m.1 1.3h0m.4-2h0m.6 .2h0m.2 2.3h0m.3-.7h0m.1-2.1h0m0 .6h0m.1 2h0m.5-1.8h0m0 .4h0m0-.5h0m.4 1.8h0m.1-1.9h0m.5 .9h0m.3 1h0m.1-1h0m0 .7h0m0 .5h0m.2-.7h0m.3-.7h0m.1 .6h0m.1-1.3h0m.5 1.7h0m.2-1.6h0m.4 .4h0m.1 1.3h0m.8-1.3h0m.3 1.8h0m.2-2.6h0m.1 1.3h0m.2-1.5h0m0 .6h0m.1-.4h0m.7 0h0m0 1.3h0m.2-1.6h0m0 1h0m.2 1.8h0m.2 0h0m.6-1.4h0m.2 .8h0m.5-.7h0m.5-.6h0m.2-.6h0m.7 .8h0m.5 .9h0m.3-.3h0m0 .3h0m.5-2h0m.4 1.1h0m.3 1.2h0m.2-.2h0m.5-2.2h0m1.2 .4h0m-30.6 3.7h0m3.3 1.6h0m.9-1.4h0m.1-.5h0m1.3-.3h0m1 .9h0m0 .7h0m.7 .1h0m0-.4h0m0-1.1h0m.1 0h0m.3 .9h0m0-1.4h0m.1 2.2h0m0-1.8h0m.1-.2h0m0 .9h0m.1-1.2h0m0 1.9h0m.2-.5h0m0 .1h0m.5-1.4h0m0 .6h0m.1 .3h0m.3-.4h0m0-.1h0m.2 1.2h0m.2-.7h0m.1 0h0m.1-.5h0m.2 1.7h0m.3-2.2h0m0 .2h0m.2 1.1h0m.1-.9h0m0 .8h0m.2 1h0m.1-2.3h0m0 1.8h0m.1-1.6h0m0 1.2h0m.2 1.2h0m0-2.3h0m.3 .8h0m0 1.4h0m0 .4h0m.2 .1h0m0-.3h0m.1-2.1h0m.6 .1h0m0 .5h0m.1-.2h0m0-.2h0m.2 .9h0m0 .4h0m.1-1.4h0m.1 0h0m.2-.4h0m.2 2.5h0m.2-1.9h0m0-.5h0m.3 2.5h0m0 0h0m.1-1h0m0-.5h0m.4 .3h0m.1 1h0m0-2h0m.1 2.2h0m.3-.7h0m.2-.8h0m0-.3h0m.4-1h0m.5 .5h0m.2-.2h0m.1 2.5h0m.1-2.4h0m.1-.5h0m.2 .6h0m.1 1.3h0m.1 .8h0m.2-1.2h0m.1 1.2h0m.2-2.2h0m0 1.1h0m.2-.8h0m.4 1.4h0m0-1.1h0m.1 .5h0m.2-.2h0m.2 .3h0m0 .2h0m.3-1.6h0m.2 0h0m.2 1.1h0m0-1.4h0m.1 2.5h0m.1-1.3h0m.1 .3h0m.2-.6h0m.1-.6h0m.3-.2h0m.4 1.2h0m.2-.2h0m0 .8h0m0-.1h0m.1-.1h0m0 .4h0m.1-.6h0m.1-1.3h0m.2 .5h0m.1 .6h0m.3 .9h0m.3-1.4h0m.3-.5h0m.1 1.7h0m.2-1.6h0m.7 2.4h0m.2-2.7h0m.1 1.2h0m.5-.3h0m.1-.5h0m.1 2.4h0m.1-.1h0m.1 .1h0m0-1.7h0m.1-1.1h0m.1 .4h0m.1 .2h0m0-.2h0m.2 .9h0m.7-1h0m.1 1h0m.2 .8h0m.3 .6h0m.1-2.7h0m.2 .8h0m0 .3h0m.1 .6h0m0 .9h0m.3-1.6h0m0 .1h0m.1-1.1h0m.6 1.1h0m.5-.2h0m-19.1 3.6h0m.8 .2h0m.5-.6h0m.1-.5h0m0 1.6h0m.1-2.3h0m.5 .9h0m.1 .6h0m1.1-.7h0m1.1 1.7h0m.2-2.2h0m.1 1.6h0m.1-.3h0m.3-1h0m.2 .5h0m.1-.3h0m.2-.3h0m.3 .5h0m.1 1.1h0m.1-1h0m.1 .3h0m.4-.4h0m.3 1.5h0m0-2.5h0m0 .7h0m.2-.3h0m.1 .5h0m0-.8h0m0 0h0m.1 1.2h0m0 .3h0m0-1.5h0m.1 .6h0m.2 .4h0m.2-1h0m.4 2h0m0-1.6h0m.2 1.2h0m.1 .9h0m.1-1.9h0m0-.6h0m.2-.1h0m.3 1.7h0m.3-.5h0m.2-.9h0m0 1.8h0m0-.3h0m0-.1h0m.1-.8h0m.1 1.5h0m.6-1.4h0m.6 .1h0m0-.5h0m.6 .9h0m.1 .1h0m.3 .2h0m0 .5h0m0-2h0m.3 .4h0m.4 .9h0m.1 .8h0m0-1.3h0m.2 .3h0m0-1.2h0m.1 2h0m0-.2h0m.2-.2h0m.3-.5h0m.4 1.2h0m.5-1.3h0m.5-.5h0m.1 1.1h0m.5 .4h0m2.7-2.1h0m-13.7 3.5h0m1.4 .1h0m2.2 .6h0m7.9-.4h0"/>
<path fill="#b088d0" fill-opacity=".5" stroke="none" d="M98.02 369.63L97.28 370.7L96.55 371.57L96.06 372.4L95.63 373.35L94.89 374.33L93.69 375.08L92.21 375.39L90.76 375.26L89.52 374.88L88.46 374.43L87.49 373.96L86.59 373.41L85.86 372.71L85.34 371.87L85.05 370.91L85.02 369.85L85.41 368.74L86.35 367.76L87.78 367.15L89.38 367.02L90.77 367.22L91.89 367.41L93 367.33L94.4 367.08L96.06 367.03L97.51 367.48L98.21 368.45z"/>
<path stroke="#b088d0" d="M85.4 366.8h0m3.8-.6h0m0 1h0m.6-.7h0m.2 .2h0m1.5 .4h0m.3 0h0m.2 .3h0m.7-.7h0m1.1 .1h0m.1 .2h0m.7-.2h0m.1 .2h0m.2-.8h0m.8 1h0m.3-.2h0m.4-1.1h0m0 .4h0m.3 1.2h0m.8-1.1h0m.5 .9h0m1-.7h0m-14.5 1.6h0m0 .1h0m.5 1.9h0m.7 0h0m.1-.5h0m.4-.9h0m.1-.4h0m.1 .2h0m.1 .8h0m.2-.8h0m0 .3h0m.4 1.6h0m.1-2.6h0m.7 1.4h0m0 1h0m.1-.4h0m.4-.7h0m0-1.7h0m.7 1.1h0m.1 1.9h0m.3-1.9h0m.4-1.1h0m.1 .7h0m.2-.2h0m.3 .4h0m.2 1.8h0m.4 0h0m.2-.2h0m0-1h0m.1 .2h0m0-.4h0m.2 .2h0m0 1.3h0m.8-2.1h0m.1 2.1h0m0-1.2h0m0-1h0m.1 1.5h0m.6-1.8h0m.2-.3h0m0 2.1h0m.1-1.1h0m.1-.7h0m.1 1.6h0m0 0h0m.1 .1h0m.5-.1h0m.1-.2h0m.2-.4h0m.5-.3h0m.4 .2h0m.1 1.8h0m.4-1h0m.1 .5h0m0-1.8h0m.1 2.2h0m.3 0h0m.1-2.5h0m.5 .7h0m.1-.7h0m.2 1h0m0 .9h0m.7-2.1h0m1 .6h0m.3 .5h0m-16.8 4h0m1.4-1.2h0m.1 1.1h0m.7-.5h0m.2-.2h0m.1 1.2h0m.4-.8h0m0-.4h0m.1-.6h0m0-.7h0m.1 1.1h0m0 1h0m.7 .3h0m0-.1h0m0-2h0m.1 2.4h0m.2-.7h0m.1 .2h0m.4-.5h0m0 .6h0m.2 .2h0m0-1.6h0m.4-.8h0m.2 1.2h0m0-1.1h0m0 0h0m.1 1.8h0m.2-.6h0m.1 .9h0m.1-1.7h0m.2 1.5h0m.2-2h0m.1 0h0m.1 1.2h0m.3 .5h0m0-1.1h0m.2 1.7h0m.3-2.1h0m0 1.5h0m.1 .3h0m.2-.3h0m0 0h0m.3 1h0m.2-.7h0m0-1.1h0m.1 1.2h0m.3 .3h0m.2-.4h0m.6-.6h0m.3 .2h0m.2-1.5h0m.1 .3h0m.1 2h0m0-1.9h0m0 1.5h0m.2 .7h0m.3-.9h0m.1-.5h0m.3 0h0m0 .6h0m.4-.2h0m.1-.8h0m0 .5h0m0-1.3h0m.1 1.6h0m.2-.2h0m.1 .1h0m.2 .5h0m0-1h0m.1 .9h0m.3 .3h0m.1-1.8h0m.1 1.6h0m.2-1.8h0m0 1.4h0m0-1h0m.2-.1h0m0 1h0m0-1.8h0m0 1.3h0m.2 0h0m0-1.3h0m0 .1h0m.1 2.2h0m0-.9h0m.2-.1h0m0 .9h0m0-1.1h0m0-.9h0m0 2.5h0m.1-2.1h0m0 .4h0m0-.7h0m.3-.1h0m0-.2h0m.3 .5h0m.1-.1h0m.3 1.3h0m1.2-1.3h0m-13 3h0m1.3 0h0m.1-.2h0m.2 .4h0m.1-.2h0m.3 0h0m.2 .3h0m.1 .2h0m0 .5h0m.3-1.4h0m.3 1.7h0m0-1.1h0m.1 .3h0m.2-.9h0m.2 .8h0m.2-.4h0m0 1.5h0m.2-.4h0m.2-.2h0m.5-.4h0m.2-.1h0m0 .8h0m0 1h0m.1-2.5h0m.2 .6h0m.3 1.6h0m.1-.3h0m.1-1.2h0m0 .8h0m.1-.5h0m.3-1h0m.1 .9h0m.3 .4h0m.1 1h0m.1-1.5h0m.7 0h0m.2-.1h0m.4-.5h0m1.1 .5h0m.2-.6h0m.3 .4h0m1.1-.5h0m0 1.5h0m.9-1.6h0"/>
<path fill="#f5b070" fill-opacity=".5" stroke="none" d="M97.94 406.66L97.01 407.47L96.44 408.54L95.85 409.93L94.43 411.13L91.85 411.37L88.73 410.34L86.09 408.52L84.26 406.72L82.62 405.38L80.37 404.23L77.63 402.75L75.59 400.89L75.44 399.21L77.23 398.29L79.73 398.09L81.6 397.94L82.55 397.21L83.44 395.95L85.24 394.95L88.05 394.97L91.1 396.12L93.6 397.87L95.42 399.66L96.92 401.28L98.23 402.84L98.99 404.38L98.83 405.69zM91.41 400.38L90.79 401.22L89.4 401.79L87.88 402.14L86.65 402.52L85.55 403.1L84.11 403.73L82.11 404.06L79.95 403.8L78.27 403.01L77.35 402.02L76.87 401.14L76.29 400.43L75.41 399.73L74.59 398.91L74.36 398.01L74.93 397.2L76.11 396.59L77.56 396.12L79.15 395.76L80.92 395.54L82.85 395.6L84.68 396.01L86.17 396.64L87.34 397.33L88.51 397.96L89.81 398.63L90.97 399.45z"/>
<path stroke="#f5b070" d="M84.6 394.3h0m4.1-.9h0m1.7 .9h0m-15.9 2.6h0m.3-.1h0m.2 .6h0m0-1.1h0m.1 .6h0m1.1 .5h0m0-.2h0m.1 .2h0m.6-.6h0m.2-.5h0m.2 .2h0m.2 .2h0m.9 .5h0m.7 0h0m0-.4h0m.3-1.7h0m.7 .9h0m.1 1.5h0m.1-.3h0m.1-1.7h0m.2 1h0m.1-1h0m.2 1.2h0m.1-.1h0m.1-.1h0m.3 .6h0m.2-1.1h0m0 .6h0m.4 .6h0m0-1.8h0m0 1.1h0m0-1.2h0m.1 1.3h0m.1 .7h0m0-.5h0m.1-1h0m0 .5h0m.1-1.2h0m.3 1.2h0m.1 1.1h0m.2-.3h0m.3-.7h0m.3 0h0m.1 .3h0m0-.4h0m.1-.1h0m.2 .6h0m.1-.1h0m0-.5h0m.1-.1h0m0 .8h0m.2 0h0m.3-1.4h0m.2 .2h0m.1 .7h0m.2 .8h0m0-1.5h0m.3-.9h0m.4 2h0m.2-.6h0m.1 1.3h0m.2-.2h0m.2-.1h0m.3-.8h0m.3-.8h0m.2 1.8h0m0-1h0m.1-.3h0m.2 .3h0m.1 .2h0m.2-1h0m.7-.9h0m.1 1.4h0m.4 1h0m1.6-1.4h0m.1-.1h0m0-.1h0m.6 1.9h0m.2-.5h0m.6-.4h0m.3 0h0m.2 .2h0m0 .6h0m.1 0h0m1.3-1.4h0m1.2 .6h0m.3 .5h0m-24.4 1.4h0m1.7 .3h0m.2 1.6h0m.2-2.7h0m.1 .2h0m0 1.1h0m.2 .1h0m.3 .1h0m0-1.3h0m.2 .7h0m.3 1h0m.1-1.3h0m.4 .2h0m.1 1.2h0m.1 .8h0m0-2.5h0m0 1.1h0m0 .9h0m.2-1.1h0m0-.6h0m0 1.9h0m.1-2.6h0m.1 2.5h0m.6-.1h0m.2-2.3h0m.3 1.5h0m0 .8h0m.1-1.8h0m.1 .9h0m.1-1.3h0m.1-.1h0m.2 0h0m.1 2h0m.1 0h0m0-1.9h0m.1 1.4h0m0-.6h0m.1 1.7h0m0-1.4h0m0-.5h0m.2-.5h0m0 .7h0m.1 1.8h0m.4-.7h0m.3-1.5h0m.1 1h0m0-1.4h0m.5 .7h0m.2-.4h0m0 1.6h0m.1-1.2h0m0 2.1h0m.3-1.8h0m.1 1.5h0m0 .1h0m0-1.9h0m.1 1.7h0m.1-.9h0m.2 .9h0m.1-1.3h0m0 1.1h0m.1 .4h0m.1-.7h0m0 .1h0m0 0h0m.1-1.9h0m0 .7h0m0 1.4h0m.1-.5h0m.3-1h0m0 1.6h0m.1-1.5h0m0 .9h0m.1 .6h0m0-1.9h0m.1 1.5h0m0-.7h0m0-1.1h0m.1 2.2h0m0-1.8h0m0 .7h0m.1 .1h0m.1 .7h0m.1-1.8h0m0 .1h0m.4 .3h0m0 .5h0m.1-1.1h0m0 .8h0m0 1h0m.2 .3h0m0-1.1h0m.1-.6h0m.2 2.2h0m0-.9h0m0-.7h0m.2-.3h0m.2 0h0m0 .5h0m.1 1.1h0m.1-1h0m.5 .4h0m0-1.3h0m.1 .1h0m.1-.1h0m.1 2.2h0m.1-2h0m0 1.3h0m0-1.4h0m0 .7h0m.1 1.2h0m0-1.4h0m.1 1.1h0m.1-1.8h0m0 .6h0m0 1h0m0-2.1h0m.1 1.7h0m.1 1.2h0m0-.3h0m.2-2.1h0m.3 .7h0m.1-.8h0m.1 .8h0m0-.6h0m.2 2h0m.1 .2h0m.1-2.7h0m.1 1.6h0m0 .9h0m0-1.5h0m.2 1.4h0m.2-2h0m.2 1h0m0-1.4h0m0 .5h0m.1 .3h0m.1-.9h0m0 2.7h0m.1 .1h0m.1-2.1h0m0 1.7h0m.1-1.7h0m0 .2h0m.3 1.4h0m0-2h0m.1 2.3h0m.1-2.2h0m.1 2.2h0m.1-2.5h0m.9 .4h0m.1 1.4h0m.1-1.7h0m.1 2.5h0m.7-.2h0m.1 0h0m0-2.2h0m.2 .4h0m0 2.2h0m.1-.1h0m.2-1.5h0m0 .9h0m0 .3h0m.2-2h0m0 0h0m.1 1.1h0m.1-.7h0m0 .8h0m.1-.1h0m.1-1.4h0m.2 1h0m0 1.4h0m.2-.4h0m.4-1.9h0m0 .3h0m0 .8h0m0-1.2h0m.1 1.1h0m0 .8h0m.3-.1h0m.1 .7h0m0 .2h0m0-.1h0m.1-.7h0m0 .4h0m.4-2.2h0m0 1.5h0m.2-.6h0m0-.8h0m0 0h0m.2 2.5h0m.2-2.7h0m.3 2.1h0m.2-2h0m.3 .8h0m.5 .5h0m.2-.3h0m1 .4h0m.1 1h0m0-1h0m.1 .2h0m.2 .7h0m-22.2 1.2h0m1.2 .5h0m1.1 1.1h0m.1-1.9h0m.3 1.4h0m.2 .3h0m.1-.3h0m.1-1.5h0m0 2.1h0m.1-.9h0m.1-1.2h0m.2 .7h0m0-.2h0m.1 1.6h0m.1 .1h0m.1-2.2h0m0 2.2h0m.1-2.6h0m.7 2.8h0m.3-2.6h0m.2 .2h0m0 .5h0m0 .9h0m.1-.1h0m0-.4h0m.3 .7h0m.1-.6h0m0 .8h0m.1-1.6h0m.1-.3h0m.4 .4h0m0 2h0m.1-.8h0m.6 .8h0m0-2h0m0-.4h0m.1 1h0m.3-.8h0m0 2.1h0m.2-.4h0m.2-.5h0m.1-1.4h0m0 1.5h0m.1-1.2h0m.1 1h0m0-.1h0m0 1h0m0-.3h0m.2-.2h0m.1-1.8h0m.2 0h0m.3 2.3h0m.4-2.4h0m.1 2.5h0m.3-1.6h0m.2-.6h0m.2 2h0m.1-1.7h0m.2-.3h0m.3 2.2h0m0-.5h0m.3-1.1h0m0 1.5h0m.4 .2h0m.1-.9h0m0 1.1h0m.1-2.1h0m.1 .7h0m.1 .1h0m.2 .7h0m.1-1.2h0m0 0h0m.1 1h0m0-1.9h0m0 .9h0m.1-.4h0m0 .7h0m.2-.1h0m0 .8h0m.1 .6h0m0-1.8h0m.4 .5h0m0 1h0m.1 0h0m.1-.4h0m.1 .7h0m.1-2.2h0m.1-.1h0m.4 1.6h0m.2-1.8h0m0 .5h0m.2-.1h0m.2 .8h0m.1-.4h0m.1 1.7h0m.2-2.7h0m.1 1.7h0m.1 .3h0m0 .8h0m0-1.8h0m.1 0h0m0 1h0m.1 .6h0m.9-1.4h0m.1 1.7h0m0-1.9h0m.2-.9h0m.1 .3h0m.1 .6h0m.1 .8h0m.5-.9h0m.1-.2h0m0 1.7h0m0-1.8h0m0 .4h0m.1 1.7h0m0 0h0m.3-.9h0m.1-1.7h0m.1 2.1h0m.1-1.4h0m0 2.1h0m0 0h0m.3-2.4h0m0 .7h0m0-.6h0m.1 1.6h0m.5-.5h0m.2-1.6h0m.1 1.8h0m.1-.4h0m.1 1.4h0m1.5-2.4h0m.5 2.2h0m0-.9h0m0-.7h0m.1 1.2h0m.3 .4h0m.2-1.5h0m.5 .3h0m0 1.1h0m0-.7h0m.2-.3h0m0 .6h0m.5-.8h0m0-.6h0m.1-.3h0m.1 1.9h0m.1 .2h0m0-.1h0m.1-2.1h0m.5 2.5h0m.1-.5h0m.2-.9h0m.2 1.4h0m.2-.2h0m0 .1h0m1-.5h0m3.4-.7h0m-22.8 2.1h0m.1-.1h0m.2 .8h0m0-.5h0m.3 .5h0m.5-1.2h0m.2 1h0m0-.6h0m.1 1.7h0m.1-2.3h0m.6 .4h0m.2-.4h0m.1 1.4h0m.2-.8h0m.1-.4h0m0 1.9h0m.4-1.1h0m.2 1.6h0m0-1.8h0m.2 .8h0m.1-.1h0m.7-.5h0m0 1h0m.2-.2h0m0-.9h0m.1-.1h0m.1 1.1h0m.2-.4h0m.2-.9h0m.1 0h0m.1 1h0m0-.5h0m0-.7h0m0 .5h0m.1-.6h0m.1 1.2h0m.1-.8h0m.1 .5h0m0-.3h0m.6-.2h0m.4 1.2h0m.1 .1h0m.1-2h0m.2 0h0m.1 1.3h0m0 1.2h0m.3 .4h0m.4-2.4h0m.3 1.7h0m.4-.7h0m.4 .6h0m.2-1.5h0m0 2.1h0m.1-.1h0m.2-1.2h0m.4-.4h0m.1-.3h0m.3-.3h0m.1 2.6h0m0-1h0m.1 .6h0m0-1.9h0m.1 .9h0m.2-.5h0m.1 1.5h0m.1-1.3h0m.1-1.1h0m.2 .7h0m0-.5h0m.1 2h0m.5-.3h0m.1-1.9h0m0 .9h0m.3-.9h0m.2 1.6h0m0-1.4h0m.2 2.4h0m.1-.7h0m.1-1.3h0m0-.1h0m.1-.1h0m0 .3h0m.1 1.6h0m.2-1.4h0m.4 1.6h0m0-.6h0m.4-.1h0m.1-1.5h0m0 2.3h0m.2 .1h0m.5-2.3h0m0 1.5h0m0 .5h0m.1-.4h0m.1-.3h0m0 .3h0m.3-1.9h0m.1 1.4h0m.2 .3h0m0-1.3h0m0 1.1h0m.2 .3h0m.2 .8h0m.7 .1h0m.2-1.3h0m0-1.2h0m.2 .9h0m.2-1.2h0m.1 2.6h0m.1 .1h0m.2-2.4h0m.3 1.9h0m.1 .5h0m.2-1.8h0m.5 .5h0m.1-.6h0m0 1.4h0m.2-.3h0m.1-2h0m.3 .3h0m0 .4h0m.3 1.3h0m1-.2h0m1.9-.3h0m-22.3 1.6h0m2.1 0h0m.5-.1h0m.4 .7h0m.1-.7h0m.2 .6h0m.3 1h0m.1-1.6h0m.1 1.3h0m0 .2h0m.3-1.2h0m.1 .8h0m.2 0h0m.2 .9h0m.1-.5h0m.8-1h0m.6 1.7h0m.3-.3h0m.1-1.1h0m.1 1h0m.8-.5h0m0 1.4h0m0-2.1h0m.1-.1h0m.2 1h0m.5 1.1h0m.1-1.9h0m.2 1.8h0m0 .4h0m.5-1.8h0m.3-.8h0m1 1.5h0m.4-.1h0m.4 .3h0m.3 .4h0m.4-2h0m0 1.7h0m.2-1.3h0m.4-.8h0m.1 .3h0m.1 2h0m.3-1.7h0m0-.5h0m.4 .4h0m.2 2.3h0m.1-.2h0m.3-.3h0m0 .4h0m.2 .1h0m.1-2.7h0m.1 1h0m.3-.8h0m0 2.4h0m.2 .1h0m0-2.7h0m.2 1.7h0m.1 .5h0m.1-.4h0m0 .6h0m.1-1.3h0m.1-.6h0m0 .1h0m0 .4h0m.1 .8h0m.1 .9h0m0-1.6h0m.2 1.5h0m0-2.1h0m.1-.7h0m0 2.9h0m.2-1.6h0m.1 .6h0m0-.9h0m.2-.3h0m0 .4h0m.3-.5h0m.2 .9h0m.5-.7h0m.5 .4h0m.1 .9h0m.8-1h0m0-1h0m1.7 .3h0m-16.2 4h0m2-1.2h0m.7 .9h0m.1-.7h0m.5 .7h0m.4-.7h0m.1 .2h0m.2 2h0m.9 .3h0m.2-.4h0m.5-1.7h0m.3 .7h0m1.1 .8h0m.2 .2h0m.9-1.2h0m.2 .6h0m.9-1.8h0m.1 1.2h0m.3 .6h0m.6-.5h0m.1-.2h0m0 1.6h0m.3-1.3h0m.1-.6h0m.1-.6h0m.2 1.5h0m.1 .7h0m.2-2.3h0m.2 1.2h0m.4-.4h0m.5 .6h0m3.1-1.5h0m-10.6 3h0m.5 1.1h0m1.8-.3h0m.3-.6h0m.1 .6h0m.6-.2h0m1.2-.5h0m.6-.1h0m.4 .3h0m.4-.3h0"/>
<path fill="#f8b8d0" fill-opacity=".5" stroke="none" d="M104.34 408.01L104.56 409.25L104.71 410.44L104.74 411.63L104.5 412.67L103.91 413.35L103.12 413.58L102.34 413.54L101.67 413.59L101 413.89L100.14 414.2L99.1 414.12L98.08 413.37L97.37 412.1L97.07 410.66L97.05 409.35L97.13 408.23L97.22 407.18L97.4 406.2L97.81 405.4L98.41 404.91L99.11 404.66L99.83 404.5L100.59 404.34L101.47 404.31L102.44 404.67L103.32 405.52L103.97 406.72z"/>
<path stroke="#f8b8d0" d="M102.1 403.3h0m-5.5 1.9h0m.4 1.1h0m.1-.5h0m.3-.7h0m.4 1.3h0m0-1.9h0m0 1.5h0m.2-.9h0m.2 .3h0m0 .7h0m.1 0h0m.3-.4h0m.1 .6h0m.3-1.4h0m.3-.7h0m.2 0h0m.3 1.3h0m0-1.5h0m.1 .1h0m.1 1.8h0m.2-1.3h0m.4-.1h0m.2 .7h0m0-1.5h0m0 .6h0m.2-.4h0m.2 1.2h0m.5 .3h0m0 .8h0m.4-1.6h0m.4 .7h0m.3-1h0m.3 .7h0m.2 .8h0m.5-.1h0m.5-.1h0m.2 .3h0m-7.9 1.4h0m0-.2h0m.1 .6h0m.1 0h0m.1-.7h0m.3 .7h0m0-.9h0m.1 .9h0m0 1.3h0m.7-2.4h0m.2 2.3h0m.5-.3h0m.3-.3h0m0 .9h0m.5-.7h0m.1 0h0m.2 .1h0m0 .1h0m.1-.5h0m0-.6h0m.1-.4h0m.1-.2h0m.3 1.4h0m.2 1h0m0-.9h0m0-1.9h0m.1 1.9h0m.4-.8h0m.2 .5h0m.1 1.1h0m.2-1.1h0m.4 .8h0m.1-1.2h0m.2 .9h0m.1 .6h0m.2-1.6h0m.5 1.4h0m.2-2h0m0 .5h0m0 1.1h0m.1-1.8h0m0 1.3h0m0 .5h0m.1 0h0m.1-1.9h0m.3 .9h0m.1 .4h0m.1-.4h0m.1 1.8h0m.1-1.3h0m.3-1h0m.1 .4h0m0 .1h0m.1 1.6h0m.2-.4h0m-8.2 2.4h0m.1-.5h0m.6 .3h0m0 .8h0m.2 .3h0m.2-2.3h0m.4 1h0m.3-.2h0m.1-.9h0m0 1.1h0m.1-1h0m0 1.6h0m.7-1.9h0m.2 1.2h0m.2 .5h0m.2 .4h0m0-.9h0m.2-.4h0m.3-.3h0m.1 .5h0m0-.2h0m.1 .4h0m.2 1h0m.5 .1h0m.1-1.2h0m.2 1.8h0m.2-.7h0m.3-.2h0m.7-1.4h0m.1 1.5h0m0-.7h0m.2-1h0m.6 .8h0m.4 .2h0m.1-.7h0m.1 .7h0m.1-.8h0m.2-.1h0m0 .9h0m.2-.6h0m-7.8 2.2h0m.7 .4h0m.1 .8h0m.3 .3h0m.3-1h0m.3 1.5h0m0-1.9h0m.1 .8h0m.1 .8h0m.5-1.3h0m.3 .2h0m.1 .6h0m.4-.4h0m.2 .8h0m.2-.2h0m.2-.1h0m0 .3h0m.4-.6h0m.1-.6h0m.2 .2h0m.4 0h0m0 .2h0m.3 .2h0m.1-.5h0m.1 .9h0m.1-.1h0m.3 .3h0m.5-1.6h0m.1 1.1h0m.2 .5h0m.3-1.3h0m.1 1.1h0m.2-.7h0m.4 .7h0m.1-1.1h0m.2 .1h0m.2 .4h0"/>
<path fill="#f090b8" fill-opacity=".5" stroke="none" d="M63.36 431.22L63.88 433.15L64.01 435.11L63.63 436.79L62.81 437.93L61.79 438.5L60.82 438.8L59.96 439.16L59.07 439.61L58.03 439.83L56.88 439.45L55.82 438.39L54.98 436.93L54.3 435.39L53.61 433.83L52.88 432.08L52.35 430.07L52.35 428.09L53.03 426.63L54.18 426L55.44 426.06L56.52 426.32L57.43 426.39L58.35 426.31L59.4 426.38L60.53 426.92L61.63 427.99L62.58 429.47z"/>
<path stroke="#f090b8" d="M51.5 427.3h0m1.4 0h0m.2-.3h0m.2-1.5h0m.1-.2h0m0 .1h0m.1 1.4h0m.4-1.6h0m.3 1.6h0m.2 .4h0m.9-2.1h0m.2-.3h0m.2 1.2h0m.9 1.4h0m.1-.3h0m.1-1.7h0m.1 1.6h0m.7-1.7h0m0 .6h0m.1-.4h0m0 .5h0m0-1h0m.6 1.9h0m.1-1.1h0m.4 0h0m.1 .3h0m0 .2h0m.3 1h0m.3-.1h0m.1-1.3h0m.1 .1h0m0-.2h0m.3 .6h0m0 .4h0m.1 .6h0m.1 .1h0m.5-.2h0m0-1.2h0m.3 .8h0m.3 .6h0m1.1-1.3h0m-11.1 3.4h0m.7 .2h0m0-1.8h0m.1-.1h0m.1 .3h0m0 .5h0m.1-.7h0m.2 1.9h0m.2-1.7h0m.7 1.4h0m.1 .9h0m.1-.6h0m.1-1.2h0m.3 .1h0m.1 1.5h0m.1-2.7h0m0 1.3h0m.2-.7h0m.1-.2h0m.2 .9h0m0-1.3h0m0 .5h0m.2 .7h0m.1 .3h0m.7-1.5h0m.7 1.2h0m.2 .1h0m.7-1.2h0m0 2.1h0m0-.8h0m0 .6h0m.3 .2h0m0-1.3h0m0 .6h0m.1 0h0m.1-.8h0m.4 .1h0m.1 .9h0m0-.3h0m.2 .5h0m.1-1h0m0 1.7h0m.1-.8h0m.1 .7h0m0-.9h0m0 0h0m.5 .1h0m.3-.5h0m0-.3h0m.1 .7h0m.7-1.3h0m.1-.3h0m0 2.2h0m.1 .3h0m0-1.6h0m.1 1h0m.2-1.3h0m.5 1.1h0m.1 .9h0m.2-2.2h0m.4 1.3h0m.1-.6h0m.3 1.1h0m.1-.9h0m-10.9 3.8h0m.6-1.6h0m.4-.4h0m0 1.7h0m0-1.7h0m.4 1.9h0m.4-.8h0m.1-.1h0m.1 1.2h0m0-1.1h0m.2 1.3h0m.2-1.8h0m.2 1.7h0m.4 0h0m.1-2.1h0m.2 2.5h0m0-1.9h0m0 .2h0m.3-.4h0m.1-.7h0m.4 .7h0m.1 .5h0m.8 .5h0m0-1h0m0 .3h0m.1 1.8h0m.3-2.8h0m.3-.1h0m.1 .2h0m.2 2.3h0m.1-2.4h0m.1 2.7h0m.3-2.2h0m.1 2.2h0m0-.4h0m.1-1.9h0m.4 2.1h0m.2-1.8h0m.4-.7h0m0 1.3h0m.2 1.1h0m.1-.6h0m.1 1h0m0-2.8h0m.2 1.4h0m.5-1.4h0m.7 .1h0m.3 .2h0m.1 .2h0m.4 .2h0m.1 1.6h0m.1-.1h0m.1-.6h0m.1-1h0m.5 .4h0m.6-.2h0m.8 0h0m0 .4h0m.2 .1h0m.6-.3h0m-12.4 3.1h0m.4-.9h0m.9 1.6h0m.3-1.7h0m.1 .8h0m.2 1.1h0m.1 .3h0m.1-.5h0m.1 .4h0m.1-.5h0m.2-1.5h0m.4 1.7h0m.1-1.5h0m0 2.1h0m.6-1.9h0m.1 .6h0m.1 .6h0m0-.6h0m.1-.3h0m.2 1.9h0m.6-1.4h0m0-.8h0m.2 .9h0m.1 .7h0m0 .5h0m.7-.8h0m.3-.3h0m.5-.7h0m.1 0h0m0 1.2h0m.2 0h0m.3-.2h0m.4 .5h0m.2-.3h0m.3-1.1h0m.1 1.1h0m.2-.2h0m.2 .5h0m.2-.6h0m.4 .2h0m.1 .7h0m.6 0h0m.2-2.1h0m.1-.3h0m.4 1.5h0m.2-1h0m0-.2h0m.1-.2h0m1.1 1.1h0m0-1.2h0m.1 2.1h0m.1-1.4h0m.5-.1h0m-10 3.3h0m.2-.2h0m.1-.7h0m.4 2h0m0 .1h0m.1 .3h0m.2-1.6h0m.2 .8h0m.1-.7h0m0 1.5h0m.1-1.5h0m.1-1.1h0m0 1.5h0m.1-1.6h0m.2 2.1h0m.3-1h0m.2 1.7h0m.1-2.1h0m0 .2h0m.2 1h0m.2 .6h0m.1-2.4h0m.1 2.7h0m.6-2.7h0m.2 2h0m.2-.9h0m.1-.1h0m0-.4h0m0 1.2h0m.3-2h0m.1 .3h0m.5 1.4h0m.1-.7h0m0 1.4h0m0-1.5h0m.2-.5h0m.4 2.5h0m0 .1h0m.1-.3h0m.3-2h0m.3 .1h0m.3 .1h0m.3 .4h0m.1-1.1h0m.3 .9h0m.1-.4h0m.1-.5h0m.1 2.2h0m.5 .4h0m0-.8h0m-7.5 1.5h0m.1-.4h0m.1-.1h0m.1 .6h0m.4 .3h0m.6-.5h0m0 .8h0m.3-.9h0m.6 0h0m.3 2h0m.2-1.8h0m.1 .4h0m0-.8h0m.5 .3h0m.1 0h0m.3 .2h0m.3 .4h0m.3-.1h0m.2 .2h0m.4-.1h0m.3-.7h0m1.1 0h0"/>
<path fill="#a8cc30" fill-opacity=".5" stroke="none" d="M85.39 431.57L84.51 434.26L82.98 436.25L81.52 437.67L80.49 439.1L79.64 440.89L78.5 442.87L76.81 444.44L74.67 445.09L72.43 444.67L70.37 443.38L68.68 441.49L67.47 439.19L66.82 436.68L66.74 434.19L67.04 431.9L67.46 429.77L67.92 427.62L68.61 425.4L69.81 423.43L71.59 422.2L73.65 422.01L75.66 422.59L77.48 423.4L79.34 424.09L81.43 424.89L83.54 426.33L85.06 428.67z"/>
<path stroke="#a8cc30" d="M73.3 416h0m-5.1 5.5h0m2.5-.8h0m.6-.1h0m.1 .8h0m.3-2h0m.2 .6h0m.1 1.1h0m.5-.2h0m0 0h0m.3-2.3h0m.3 1.1h0m.4 1.2h0m1.2 0h0m.4-.4h0m1.1 .3h0m2.4-1.9h0m-13.2 5.5h0m1.7-.5h0m0 .4h0m1.3 .1h0m.1-.8h0m0-1.1h0m0 0h0m0 2h0m.4-2.7h0m.1 1.1h0m.8 .4h0m0-.5h0m.6 .5h0m.1-.8h0m0 1h0m.1-.4h0m.3 .6h0m.1-.7h0m.2-.6h0m0 1.8h0m.2-.3h0m.2-1.6h0m.2 .2h0m0-.2h0m.2 1.8h0m.1-.6h0m0 .1h0m.2-.9h0m.7 .6h0m.2-.5h0m.3 1.4h0m0-2.5h0m0 1.5h0m.7 1.2h0m.6-2.6h0m.1 .7h0m.1 1.8h0m.1-.9h0m.1 .7h0m.4-.8h0m.4-1.1h0m0 1.8h0m.2-.9h0m.1 .6h0m.2-1.3h0m.4-.3h0m.2 1.8h0m.2-1.1h0m.1 1.6h0m0-1.3h0m.1 .7h0m.2 0h0m.1-1.6h0m.1 2.1h0m0-2h0m.1 .5h0m.2 1.5h0m.1-1.4h0m.2-.9h0m0 .6h0m.6-.2h0m.2 .4h0m.2 .2h0m0-.4h0m.2 1.8h0m.2-.3h0m.5-.2h0m.5-.3h0m.1 .6h0m.2-.4h0m.2-.5h0m.2 .8h0m.4 0h0m.3-.1h0m1.2 0h0m.7 .1h0m-17.7 1.8h0m.2 1.5h0m.2-2.3h0m.7 1.4h0m0 .4h0m.1-.8h0m.2 .7h0m0-2.1h0m.1 .6h0m.5 .7h0m.1 1.2h0m.1 .2h0m0-2h0m.2-.7h0m0 2.4h0m.2-2.2h0m.6 2.5h0m.1-2.7h0m.2-.1h0m0 .8h0m1-.3h0m.3 2.1h0m.2-2.1h0m.4 .1h0m.1 1.3h0m0 .5h0m.4-.5h0m.2-.9h0m.8 .9h0m.6 .6h0m.1 0h0m.1-.1h0m.3-.9h0m.1-.9h0m0 .4h0m.4 1.6h0m.2-1.4h0m.4 1.3h0m.1-1.2h0m0-.4h0m.3 0h0m.8-1h0m0 3h0m.2-2.1h0m.1 .7h0m0-.6h0m.4-.8h0m.5 1.8h0m.3-.5h0m.1 .5h0m.4 .2h0m0-1.3h0m.1 0h0m0-.7h0m0 1h0m0-1.1h0m.2 .8h0m.3-.1h0m.2 2h0m0-1.9h0m.1 .2h0m.5-.7h0m1 .9h0m0 1h0m.4-.7h0m.1 .4h0m.1-.2h0m.7-.4h0m.4-.3h0m.1 1.3h0m.2-.4h0m.2-.4h0m.4 .7h0m.5 .1h0m.1-.6h0m.2 .5h0m.1 .5h0m1.2-.7h0m.4-1.9h0m-23.8 3.1h0m3.2 2.5h0m.9-.1h0m0-1.5h0m0-.2h0m.1-.2h0m.1 1.4h0m.1-1.1h0m.1 1.6h0m0-2.1h0m0 1.2h0m.1-1.1h0m.2 1.5h0m0 .7h0m.1-2.1h0m.1 1.8h0m0-1.1h0m.1-.5h0m0-.6h0m0 1.8h0m.1-.3h0m.1 .5h0m.1-1.8h0m.2-.6h0m0 2.8h0m.1-1.1h0m.1-1h0m0 2.1h0m.1-1.8h0m.2 .7h0m.1-.6h0m0-.7h0m.1 2.6h0m.1-1h0m.1 .2h0m.2-1.8h0m.2 2.1h0m.4-1.7h0m.1 .4h0m.1 1.6h0m0-.1h0m0 0h0m.2-2h0m.1 .7h0m0 .2h0m.3 .5h0m.2-1.5h0m0 .8h0m.4-.5h0m0-.3h0m.1 .8h0m.1-1.4h0m.1 2h0m.2-1.7h0m.4-.3h0m.3 1.5h0m0 .8h0m.2 .5h0m.3-2.5h0m.1 2.3h0m.1-2.5h0m.3 1.4h0m.6 1.5h0m.1-2.2h0m0 1.1h0m.2-1.3h0m.2 1.3h0m.1-1.6h0m.2-.1h0m.1 1.4h0m.1 .4h0m.2-.2h0m.3 .9h0m.1-.6h0m.3 .6h0m.3-1.7h0m.4 1.2h0m.5-2.1h0m0 .3h0m.4 1h0m.5-.5h0m.7 2.1h0m.3-2.1h0m.2 2h0m.2-1.1h0m.2-1h0m.1 1h0m.5 .9h0m.1-.3h0m0-2.1h0m.3 1h0m0 .4h0m.2 1.3h0m.1-.9h0m.3-.3h0m.2-1.7h0m.1 2.7h0m.2-1.2h0m.3 1h0m0-.3h0m.4-.1h0m.1-2.1h0m.2 .2h0m.2 .4h0m.5-.1h0m.8 2.3h0m.5-1.5h0m0 .6h0m.3 .4h0m.5 .5h0m.3-.8h0m.1-1.3h0m.8 1.2h0m0-1.7h0m0 .8h0m-21.7 4.6h0m.5-.6h0m.2 .8h0m.1-.2h0m.2-2.6h0m.1-.1h0m.3 1.5h0m0-1.2h0m.1 1.7h0m.5-1.8h0m.1 2h0m.5-1.1h0m0 .7h0m.2-.8h0m.2 .5h0m0 .4h0m.2-1.6h0m.1 .3h0m.1 .2h0m0 .8h0m.1-.8h0m.1 .3h0m.2-.9h0m.2 .3h0m.1 1.6h0m.7 .4h0m.2-.7h0m.1-1.3h0m.1 1.7h0m.2-1.1h0m.1 1.6h0m0-.2h0m0-.6h0m.3-1h0m.1-.8h0m0 1.6h0m0-1.6h0m.6 .6h0m.1 2.2h0m0-1.7h0m.3-.7h0m0 1h0m.2 .5h0m.4-.6h0m0 .4h0m0-.7h0m.1 1.2h0m0 .3h0m0-1.4h0m.2 1h0m0 .5h0m.1-.1h0m.4-.7h0m.1-1.1h0m.3-.8h0m.2 .1h0m.2 .6h0m.2 2.1h0m.1-.4h0m.2-1.2h0m0 .9h0m.6 .2h0m.2-.6h0m.1 .7h0m.3-1.9h0m.1 1.2h0m.1-1.6h0m.2 .7h0m.4 1.2h0m.5 .1h0m.1-1.3h0m0-.2h0m.2 2h0m.9 .1h0m0-.2h0m.4-.9h0m.6-.6h0m0 1.3h0m.7 .6h0m.7-1h0m0-1.7h0m.3 1.2h0m.4 1.6h0m.1-.2h0m.4-2.7h0m0 1.8h0m.6 .3h0m.1-.5h0m.3-.9h0m.5-.7h0m.1 2.9h0m1.2-1.2h0m.2 1.1h0m0-1.6h0m.6 .4h0m.6 .5h0m.5 0h0m-21.7 2.6h0m.8-1.2h0m.1-.5h0m.2 2.7h0m.1-1.9h0m.3 2h0m.2-.3h0m.2-1.6h0m0-.9h0m0 2.8h0m.1-1.3h0m0-.2h0m.3 .9h0m0-1.5h0m.6 .2h0m0 1.7h0m.2-.5h0m0-.3h0m.1 1h0m.1-1.6h0m.1-1.1h0m.4 1.8h0m.1-1.4h0m.2 .7h0m0 .5h0m.4-.2h0m0 .3h0m0-.1h0m0-.8h0m.3 1.6h0m.1-1.7h0m0 .9h0m.1 .7h0m.3-.3h0m.1 0h0m.1-1.9h0m0 2.3h0m.2-2.6h0m.4 .3h0m.3-.1h0m.7 .6h0m0 1.8h0m.1-1.6h0m.2-.5h0m.3 1h0m.1 1h0m.3-2.4h0m0 2.7h0m0-.3h0m.5-2.2h0m0 1h0m.1 .8h0m.1-1.6h0m.2 1.2h0m0-1.1h0m.6 0h0m0 2.4h0m.1-1.5h0m.1 .4h0m.3 .6h0m.3-1.7h0m.1 .5h0m.2 0h0m.3 .4h0m0-1.1h0m.2 .5h0m0-.2h0m.1-.2h0m.4 1.8h0m.1-1.3h0m0 .4h0m0-.4h0m.1-1.1h0m.1 .5h0m.2-.4h0m.3 1.2h0m.1-1.2h0m.1 2.2h0m.1 .2h0m0-.8h0m0 .5h0m.1-.1h0m0-.4h0m.1-1.6h0m.2 0h0m0 2.3h0m0 .5h0m.1-2.9h0m0 1.7h0m0-.5h0m0 1.6h0m.2-1.4h0m.1-.3h0m0 .3h0m0-.6h0m.3 1.9h0m0-1.6h0m0 1.5h0m.4-.6h0m.1-.2h0m.2-1.2h0m.3 1h0m.2-1.3h0m.1 1.7h0m0-1.1h0m.4 1h0m0 .2h0m.2 .7h0m0-1.4h0m.6 1.4h0m.3-.6h0m.3 .5h0m.2-2.7h0m.4 2.4h0m1.2-2h0m0 1.4h0m.1 .2h0m.1-2h0m.9 .2h0m.8 .4h0m.8 0h0m.2 .4h0m-24.5 4.2h0m3.8-.4h0m.2-1.3h0m.3-.4h0m.1 1.3h0m0 1.2h0m.2 0h0m.2-.6h0m.3-.1h0m0 .9h0m0-1.6h0m.1-.5h0m.1 1.4h0m0-1.4h0m.1-.5h0m.3-.1h0m.4 .5h0m0 .8h0m.3 .4h0m0-.7h0m.2 1.3h0m.1-2.4h0m.4 2.7h0m.1-.5h0m0 .1h0m.3-.1h0m.1-.4h0m.6-.4h0m.3-1.1h0m.8 2.2h0m.2-1.7h0m.2-.4h0m.2 0h0m0 1.7h0m.1-1.5h0m.1 1.3h0m.1-1.7h0m.2 .7h0m0 1.1h0m.1 .1h0m.1 .7h0m.6-1.7h0m.1-.4h0m.1 1.8h0m.7-.3h0m.1-2.1h0m.4 2.2h0m.2-2.3h0m.5 .1h0m0 .6h0m.2-.7h0m.1 .1h0m.8 1.5h0m.1-.6h0m.3-.9h0m.1 .1h0m0 2h0m.2-1.8h0m.1 0h0m.3-.4h0m0 .6h0m.2 .6h0m.1-1.3h0m0 1.6h0m.1 .9h0m.1 .2h0m.2-1.6h0m0 1.2h0m.1-2h0m0 .9h0m0-.4h0m.2-.1h0m.2 .5h0m.2 1.7h0m0-1h0m.2-1.3h0m0-.3h0m.1 2h0m0-1.4h0m0 .2h0m.1-.2h0m.1-.5h0m0-.3h0m0 1.9h0m.3-.2h0m0-1.4h0m.3 1.6h0m0-1.1h0m0 .1h0m.2-.5h0m.1 2.2h0m.3-.1h0m.1 .2h0m.1-2.3h0m0 1.7h0m.5-1.9h0m0 0h0m0 .9h0m.4-.1h0m.1 1.3h0m.5-1.7h0m.1 .2h0m0 1.2h0m2.7-1.2h0m-18.9 4.5h0m.1-1h0m0 .3h0m.2-1.6h0m0 2h0m.1-.7h0m.1 .9h0m.1-1.8h0m0-.1h0m.1 1.7h0m.8-1.1h0m.6-.5h0m0 .5h0m.1 1.4h0m0-.1h0m.1-2.1h0m.3-.1h0m.1 .8h0m1.3 .4h0m.1-.2h0m.1-.2h0m0 1.1h0m.3-.8h0m.1 .1h0m.2 .2h0m.4-1h0m0 1h0m.1-1.3h0m.4 1.8h0m.1-.3h0m.3-1h0m.1 2.3h0m.4-2.9h0m.3 1.8h0m0-1.4h0m.1 .3h0m.3-.6h0m.1 .2h0m.4 .7h0m0 .9h0m.6 .6h0m0-2.2h0m.4 .9h0m.2-1.2h0m.5 1.4h0m.3-1.1h0m.1 .7h0m0-.3h0m0-.2h0m.1 2h0m.1-.1h0m.2-2.4h0m.4 2.5h0m0-2.1h0m.2 .2h0m.2 .3h0m.1 .1h0m.1 1.2h0m0 0h0m0-1.9h0m.1 .5h0m0 1.8h0m.4-.9h0m.1 .1h0m0 .2h0m0-.1h0m.2-.4h0m.2 .6h0m.1-1.7h0m.1 1.6h0m0-1.7h0m.1 1.3h0m.2-1.2h0m.1 1.9h0m.2-2.3h0m.4 2.5h0m.3-.9h0m0 .5h0m.2-2.2h0m0 2.5h0m.6 .3h0m0-.8h0m.1-1.5h0m.1 .2h0m.8 1.7h0m-15.1 1.6h0m1.6 .1h0m.5 1.1h0m.5 .3h0m.3-1.4h0m.1 .7h0m.2-1.4h0m.1 .4h0m.9 1.1h0m.1-.7h0m.5-.2h0m.3 1.7h0m.5-2h0m.5 1h0m.8 .7h0m.1-.3h0m.3-1.2h0m.2-.9h0m.1 2.4h0m.4-.7h0m.4-1.4h0m.2 .3h0m.2 .3h0m0-.6h0m0 1.3h0m0 .1h0m.1-.7h0m.1-.1h0m0 .6h0m.1-1h0m0 1.3h0m.1 .5h0m.4-1.6h0m0 1.1h0m.2-1.6h0m.2 1.9h0m0-.7h0m.1 .3h0m.2-.3h0m.6-1h0m0 .1h0m.2 2.4h0m.2-1.3h0m.2 .9h0m.3-1.3h0m.2 1.6h0m1.2-2.3h0m.8 .2h0m1.1-.7h0m-15.8 5.1h0m4.2-1.4h0m1.6-.7h0m.3 1.3h0m.6-1.3h0m0 2.7h0m0-1.2h0m.1-.1h0m.4 1.3h0m.9-2.2h0m0 1.4h0m1.3-.8h0m.8 .7h0m.4-1.5h0m.4 .8h0m.9-.7h0"/>
<path fill="#80ccc8" fill-opacity=".5" stroke="none" d="M81.15 448.72L81.08 450.03L80.42 451.19L79.32 452.04L78.02 452.59L76.66 452.95L75.27 453.12L73.85 452.97L72.58 452.38L71.66 451.45L71.06 450.44L70.5 449.56L69.68 448.74L68.64 447.72L67.82 446.37L67.77 444.89L68.66 443.68L70.16 443.05L71.76 442.88L73.15 442.86L74.39 442.76L75.67 442.65L77.02 442.81L78.23 443.4L79.12 444.32L79.73 445.36L80.25 446.39L80.78 447.48z"/>
<path stroke="#80ccc8" d="M68.6 442.3h0m4.3-.1h0m.2 .1h0m1.4 0h0m1 .2h0m.4-.5h0m.4 .5h0m.5-.1h0m.2-.6h0m1.1 .3h0m-11.7 3h0m.4-.7h0m.2-.1h0m.4 1.2h0m.6-.3h0m1.1-2.4h0m.2 .5h0m.4 1h0m.1-.1h0m.1 .1h0m0 1h0m.3-1.8h0m.1-.8h0m.2 .4h0m.1-.2h0m.3 1.3h0m.1-1.1h0m.1-.4h0m.3 2.8h0m.2-1.5h0m.1 .7h0m.1-2h0m.1 .1h0m.1 1.7h0m.2-1.8h0m.4 2h0m.1-.9h0m.3 1h0m.1-1.6h0m.1 .4h0m.2-.7h0m.4 2.3h0m0 0h0m0-.9h0m.1-.8h0m.1 1.6h0m0-1.9h0m0 1h0m.1 .6h0m0-.3h0m.1-1.6h0m.4-.2h0m.1 .2h0m.1-.4h0m0 1.1h0m0 .2h0m.1 .3h0m.1-1.6h0m.1 1.7h0m.3-1.3h0m0 1h0m.1-.8h0m.2 .1h0m0 1.7h0m.3-1.8h0m.2-.2h0m.3-.2h0m.2 1.5h0m.2-1h0m0 .5h0m0 1.1h0m.5-1.5h0m.1 1h0m.2 .5h0m.3-.1h0m.1-1.6h0m.5 .6h0m0-.8h0m.4 .9h0m.1-.2h0m.1 .4h0m.6 1.2h0m0-.5h0m.1 0h0m.6 .4h0m.7-.8h0m-14.6 1.4h0m.4 .6h0m.5-.5h0m.1 2h0m.3-.3h0m.2-.5h0m.2 .6h0m.5 .5h0m.1-.5h0m0 .8h0m.1-1.1h0m.2-.1h0m.1-1.3h0m0-.3h0m.1 2.9h0m0-.4h0m0-.1h0m.1-.4h0m.1 .3h0m0-1.5h0m.2 1h0m0-1.4h0m.1 1.4h0m.8-1.7h0m.1 1.5h0m.7 .3h0m.1 .1h0m.5 .1h0m.1-.2h0m.2-1.3h0m.1 1.7h0m.1-.2h0m.4-.1h0m.2-.6h0m.1 1.2h0m0 .1h0m.2 .2h0m.3-1h0m.1 .8h0m0-2.2h0m.1 1.5h0m.1 .4h0m.1-2.2h0m.5 1.8h0m.7-1.8h0m.2 0h0m.1 .3h0m0 .3h0m.3 .7h0m.3-1.4h0m.1-.1h0m.1 1.8h0m0-1h0m.1 2.1h0m.3-2.1h0m.2 .9h0m.2 .5h0m.2-2.1h0m0 1.6h0m.1-1.5h0m.6-.2h0m.1 0h0m.1 .2h0m.1 1h0m.3 1.1h0m0-1.9h0m.1 0h0m.2 .3h0m.1-.6h0m0 2h0m.4-1.2h0m0 1h0m.1 .2h0m0-.6h0m.1-.4h0m.7-.8h0m1.3 .8h0m.1 1.2h0m.2 .5h0m.2-1.4h0m-13.1 2h0m.1-.3h0m.1 .3h0m.3-.1h0m.5 .7h0m0 .4h0m.3 .6h0m.2-1h0m.1 1.2h0m0-1.7h0m.1 2.2h0m0-1.3h0m.1 0h0m0 .2h0m.1-.9h0m.4 1.6h0m.1-1.2h0m0 .5h0m.2 .9h0m0-.7h0m.1-.5h0m.1 1.4h0m.1-1.6h0m0-.5h0m.1 1.1h0m.2-.6h0m.1-.3h0m0-.6h0m.6 1.6h0m.3 .9h0m.2-2h0m.1 .4h0m0 .3h0m0-.6h0m.4 1.3h0m.2 .6h0m.1-1.4h0m.1 .9h0m0-.5h0m.1-.9h0m.2 1.9h0m.3-1.8h0m.4 .1h0m.2 .1h0m.1-.1h0m.1-.9h0m0 2h0m.1-.8h0m0-.4h0m.1-1h0m0 1.1h0m.2 1.4h0m0-1.6h0m.6 1.4h0m.3-1.1h0m.6-.1h0m.2-1h0m.2 .5h0m0 .5h0m.2 0h0m.2 1.7h0m.4-.5h0m.2-.7h0m.7 .1h0m1.1 1.3h0m.2-1.7h0m.8 .9h0m0-1.6h0m-10.6 3.3h0m1 .3h0m1 0h0m.3 1.1h0m.1-.7h0m.5 .3h0m.1 .7h0m.1-2.1h0m.1 .7h0m.4-1h0m.1 2.3h0m.1-1.8h0m.4 1.8h0m.2-1.2h0m.1 .4h0m1.1-.6h0m.1 .4h0m0-.8h0m.8-.2h0m.8 .4h0m1.3-.7h0m.7-.1h0m.1 1.7h0m.1-1.5h0m.3 .3h0m-5.6 2.4h0"/>
<path fill="#b8dcf0" fill-opacity=".5" stroke="none" d="M120.28 448L120.32 449.06L119.85 450.03L119.01 450.75L118.08 451.24L117.22 451.7L116.33 452.19L115.3 452.57L114.18 452.56L113.17 452.11L112.41 451.37L111.78 450.6L111.1 449.88L110.35 449.05L109.84 448L109.91 446.86L110.65 445.92L111.76 445.38L112.79 445.07L113.59 444.7L114.34 444.08L115.3 443.43L116.49 443.16L117.63 443.5L118.47 444.31L118.98 445.27L119.4 446.17L119.87 447.03z"/>
<path stroke="#b8dcf0" d="M113.8 442.3h0m3.3 .2h0m.5-.1h0m-8.2 3h0m.4-.8h0m1.2 .9h0m.7-.4h0m.5-.1h0m.4 0h0m.1 0h0m.1 0h0m0-2.1h0m1.4 2.4h0m.1-.2h0m0 .3h0m0-.6h0m.2 .1h0m.3 .2h0m.6-.9h0m.6 .9h0m.4-2.1h0m.2 2h0m.1 .4h0m.4-.5h0m.1-.1h0m0-.8h0m.2 1.2h0m.4-2h0m.3 .5h0m.6 .9h0m.1-.3h0m1.6-1.3h0m-12 3h0m.8 .8h0m.1 .2h0m.4 0h0m.2-1.5h0m.1 .8h0m.2 1.3h0m.4-2.1h0m.4 2.6h0m.6-1.6h0m.1-.8h0m.6 1.5h0m.1 .4h0m.7 .1h0m.5-1.3h0m0 1.2h0m.2-.5h0m.1-1.5h0m.4 2.7h0m.1-1.9h0m.2 .8h0m0 1.2h0m.1-.9h0m.1-.8h0m0 1.6h0m0-1.5h0m.1 1.1h0m0-1.2h0m.1-.9h0m.4 1.7h0m0 .5h0m0 0h0m0-.2h0m.1 0h0m.1-2.1h0m0 1.6h0m.4-1.1h0m.3 1h0m0 .8h0m.1-.7h0m.1 .5h0m.8 0h0m.4 .4h0m.2-2.7h0m.2 1.6h0m.3-.8h0m.3-.2h0m.3 2h0m.3-1.2h0m.2-1.2h0m.3 1.4h0m.1 .8h0m.2-1.3h0m.4 1.7h0m1-1.8h0m-12.1 2.7h0m.7-.2h0m.3 .2h0m.1-.1h0m.8 1.9h0m.1-2.2h0m.3 2.2h0m.2-.4h0m.2 .4h0m0-.8h0m.2 0h0m.1 .8h0m.1-1.8h0m.1 1.1h0m.1 .4h0m0 .3h0m.4-.5h0m.3 .6h0m.4-.4h0m0-1.9h0m.1 .7h0m.2 .5h0m.2 .4h0m.1 .6h0m0-2.2h0m.2 2.4h0m.1-2.2h0m0 1.2h0m.4 .8h0m.3 .3h0m0-1.7h0m.5 1.8h0m0-1.4h0m.1 .1h0m.3 1.3h0m.1-.2h0m0-1.5h0m0 1h0m.1-1.9h0m.1 0h0m0 2.6h0m.1-2.5h0m.1 .9h0m.1-.3h0m0 .8h0m.7 .1h0m.1 .8h0m0-1.3h0m0-1h0m.3 .2h0m.1 1.5h0m.2-1.4h0m0 1h0m0-.9h0m.1 1.6h0m.1 0h0m.1-.9h0m0 1.2h0m.2-.3h0m.5-1.9h0m.5 1.2h0m.4-1.4h0m0-.1h0m0 .2h0m.8 .1h0m-9.3 4.8h0m.7-1.7h0m.4 .1h0m.2 .5h0m.4 0h0m.1-.6h0m.9 .1h0m.6 1.2h0m.1-.3h0m.6 .2h0m.5-1.8h0m.1 .9h0m.2-.3h0m.1-.5h0m.1 .6h0m.7-.6h0m.1 0h0m.7-.1h0"/>
<path stroke="#f06868" d="M124.9 437.6h0m.1 .9h0m.3 .3h0m.5-.5h0m0 .6h0m.5-1.1h0m0-.5h0m.2 .5h0m1.8 1.6h0m-3.4 1.7h0m.6 .1h0m.7-1.4h0m.1 .6h0m.2 2.1h0m.6 0h0m.2-1.8h0m.2 1.2h0m.6-.9h0m0-.2h0m.6-.6h0m0 .4h0m.1 1.2h0m.3-.5h0m.4 .3h0m.1 .3h0m-2.9 2.4h0m.2 .8h0m.5-.8h0m.5 .6h0m.4-1.4h0m.8-.7h0m0 .7h0m.3-.2h0m0-.3h0m0-.3h0m.8 .3h0m.3 2.2h0m0-.1h0m.2-.7h0m0-.2h0m.2-.9h0m.2 1h0m.4-1h0m.2 1.4h0m-5.2 1.1h0m1.1 1.7h0m.2-.5h0m.1 0h0m0 1.3h0m.4-.6h0m0 .1h0m.5-.8h0m.9 .7h0m.3 .4h0m1.2-.8h0m.2 .4h0m.3-1.4h0m.1-.7h0m.1 1.5h0m.1 1.2h0m0-2.6h0m.2 .1h0m.3 1.4h0m.5 1.1h0m.1-2.3h0m0 .6h0m.1 1.5h0m.2 .2h0m0-1.2h0m.3 0h0m0 1h0m-6.4 .7h0m.2 1.4h0m.7 .6h0m.1-1.1h0m.2 .2h0m.1 .1h0m.2 .6h0m.3-1h0m.2 1.8h0m.1-.4h0m1.1-1.5h0m.2 .2h0m.1 1.1h0m.4-1.5h0m.3 1h0m.1-1.3h0m.8-.3h0m.2 2.4h0m.2-.8h0m.2-.2h0m.1-.6h0m.5 1.4h0m.1-.8h0m0-.4h0m0 .1h0m.1-1.1h0m0-.1h0m.1 2.8h0m.5-2h0m.1 0h0m0 1h0m.1 .6h0m.2-2.3h0m.3 1.6h0m1 .6h0m-6.9 2.6h0m.9-.8h0m.6 1.4h0m.3-1.1h0m.2-1h0m.1 1.4h0m.4 1h0m.2-2.5h0m0 .1h0m.1 .4h0m.1 .3h0m.1-.6h0m.1-.1h0m0 1h0m0-.6h0m.7 .7h0m.1 1.3h0m.3-1.2h0m.1-.5h0m.4 .6h0m.5-.5h0m.5 0h0m.1-1.2h0m.6 2.1h0m.4 .7h0m.2-1.5h0m.1 .8h0m.1 .5h0m-5.7 1h0m.4-.1h0m.2 .5h0m0-.5h0m.5-.5h0m.1 .9h0m.2 0h0m.2-.3h0m.6 .5h0m0-.1h0m0 .8h0m.6-.9h0m.1-.6h0m0 1.5h0m.4 .5h0m0-1.6h0m.1 1.5h0m0-1.7h0m0 2.2h0m.2-2.5h0m.2 1.6h0m.2-1.9h0m.2 .2h0m.1 1.5h0m.7-.4h0m.4 .8h0m.4-.9h0m.1 1.7h0m.1-2.4h0m.1 2.5h0m.4 0h0m-2.9 .7h0m.2-.3h0m2.3 .6h0m.4-.6h0m.7 .6h0"/>
<path fill="#b09018" fill-opacity=".5" stroke="none" d="M152.14 436.35L152.61 439L152.52 441.52L152.21 443.87L151.8 446.22L151.02 448.44L149.58 449.91L147.6 450.07L145.57 449.03L143.9 447.7L142.42 446.98L140.6 446.89L138.21 446.53L135.79 444.97L134.3 442.15L134.31 439L135.47 436.48L136.84 434.76L137.72 433.19L138.2 431.21L138.89 429.01L140.24 427.44L142.14 427.16L144.13 428.03L145.91 429.38L147.58 430.7L149.31 432.09L150.96 433.94z"/>
<path stroke="#b09018" d="M138.9 425.4h0m.2-.2h0m.1 1.4h0m.9 .1h0m.2 .8h0m.1-2.3h0m0 1.6h0m0-1.6h0m.1 .2h0m.2 .5h0m.1 .3h0m.2-.2h0m.1 1.2h0m.5 .2h0m.1 0h0m.1-.4h0m.2-2.4h0m.1 2.8h0m.2-.9h0m.5 .9h0m.1-.7h0m1.2-.1h0m.6 .7h0m.2-1.1h0m.5 1.1h0m.1 .1h0m-8.9 2.9h0m.1-.6h0m.1 .1h0m.7 .1h0m.7 .1h0m0-1.7h0m.9 2.2h0m.1-2.7h0m.3-.3h0m.3 2.8h0m.1-.8h0m.4-1.9h0m.3 1.9h0m.3 .4h0m.2-1.4h0m0-.4h0m.1-.2h0m0 .3h0m.5 .8h0m.3-.9h0m.2 1.9h0m.1-1.9h0m.3 .5h0m.1-.6h0m.5 2h0m.1-2.4h0m.1 .8h0m.3 1.9h0m.2-2.6h0m0 2.7h0m.1-1.2h0m.2 .1h0m.3 .9h0m0-.9h0m.2 .8h0m0-.1h0m.5 .5h0m.3-.1h0m.3-1.6h0m0 1h0m0-2h0m.2 1.3h0m.1-.8h0m0 2h0m.1-1.5h0m.1-1h0m.2 2.2h0m.1-2.1h0m0 1.4h0m0-1.2h0m.2 .6h0m.1 1.2h0m.6-.8h0m.4-.3h0m.4 1.7h0m1.1-.3h0m-15.4 .9h0m.9-.6h0m.2 1.1h0m1.1 .4h0m.4 1h0m.2-1.8h0m.1 2.3h0m0-.3h0m0-.6h0m.2-.7h0m0-.3h0m.3-.9h0m0 .7h0m.1-.6h0m0 2.1h0m0-2.3h0m.1 2.6h0m.1 0h0m.3-.2h0m.4-2.1h0m0 2.3h0m.2-1.1h0m.1 .7h0m1.2-.6h0m.4-.3h0m.1 .4h0m0-.1h0m.4 .4h0m.2 .5h0m.1-.8h0m.1-.6h0m.6 1h0m.7-1.2h0m.4 1h0m.2-.1h0m.2 .2h0m.2-1.8h0m.1 2.3h0m.1-2.1h0m.1-.1h0m0-.3h0m.7 .5h0m.4-.4h0m.1 .3h0m.1 1.3h0m.3 .2h0m.2 .6h0m.2 .1h0m.2 0h0m.7-.1h0m0 0h0m.1-.3h0m0 .4h0m.3 0h0m0-2.6h0m0 .1h0m.2 2.6h0m.2-.4h0m.2-2h0m.2 .6h0m.3-.1h0m0 .6h0m.2 .4h0m.1-1.6h0m0-.2h0m.1 1.8h0m.9 1h0m.7-.9h0m1.3-.1h0m.1-.1h0m.3 .1h0m-17.6 3h0m.3 .6h0m0 .2h0m.1-.6h0m.3-.2h0m.1-1.7h0m.1 1.5h0m.1 1.1h0m.1-1.4h0m.2-.6h0m.2 .2h0m.2-.1h0m.5 .6h0m.1 1.4h0m.4 .1h0m.1-.6h0m.2-2.3h0m.2 .5h0m.2 1.5h0m0 .4h0m.2 0h0m.1-1.6h0m0-.7h0m.2 0h0m.2 1.6h0m.1 1.1h0m.2-.5h0m.1-1.7h0m0 1.2h0m.1-1.4h0m.1 2.1h0m.1-2.3h0m.3 .4h0m.1 .3h0m.2 .3h0m.2 1.4h0m.3-.6h0m0-.8h0m.1 .2h0m0 .4h0m.7 1.1h0m.2-1.2h0m.2-.2h0m0 0h0m.2 1.3h0m0-2.2h0m.2-.4h0m.1 1h0m0 1.4h0m0-.9h0m.1-.1h0m.1-.3h0m.6-.3h0m.2 1.3h0m0-1h0m.2 1h0m.3-1.7h0m.3 1.8h0m.2-1.9h0m.3 2.3h0m.3-.1h0m.1-.9h0m.1-1.1h0m.1 .8h0m0 1.2h0m.1-.7h0m.2-1.3h0m0 2h0m.1-1.4h0m.1 .8h0m.1-.5h0m.6 .1h0m.1-1.2h0m0-.5h0m.1 .2h0m0 1.6h0m.4-1.8h0m.1 1.2h0m.2-.4h0m.1 .5h0m1-1h0m0 2.3h0m.4-.7h0m.2 .3h0m0-.4h0m1.2-.3h0m.2-.8h0m0 1.5h0m.1-2h0m.4 1.6h0m.4-.6h0m.2 .5h0m.7-1.6h0m.4 1.5h0m.2-.7h0m.2 1.6h0m-19.4 2h0m.1 .8h0m1-1.7h0m0 .2h0m0 1.7h0m1-1.1h0m.2 0h0m.2-.7h0m.4 2.1h0m.3-2.7h0m.2 .9h0m.3-.9h0m.1 .8h0m.4-.7h0m.5 .9h0m0-.8h0m1.8 1.2h0m.3-1.3h0m.2-.2h0m.1 2.6h0m.1 .1h0m.1-2h0m.2 0h0m.3 .1h0m0 .8h0m.1-.8h0m.3 1.2h0m.1-1.7h0m.1 2.2h0m.3-.6h0m.1 .2h0m.4-.5h0m.2-1.5h0m.1 .7h0m0-.6h0m.8 2.6h0m0-1.8h0m.3-1.1h0m.1 .9h0m.6 1.6h0m.2-2.1h0m.2 .7h0m.1 .6h0m.4 1.1h0m0-2.4h0m.2 .9h0m.7-.4h0m.1 1.4h0m.4 .4h0m.3-.8h0m0-1.8h0m.2 0h0m.2 2.1h0m.1-.2h0m.4-.8h0m.1 .5h0m0-.4h0m.1-.3h0m.6 1.5h0m.1-1.5h0m.1 1h0m.2-1.5h0m.4 1.9h0m0 0h0m.1 .5h0m.3-1h0m.2-.8h0m.2 1.5h0m.3-.2h0m.7 .2h0m0-1.9h0m.3 1.4h0m.4-.1h0m0-1.9h0m.2 1.5h0m.4 .9h0m.1-2.3h0m.1 2.4h0m.1-.8h0m.5-1h0m.2 1.5h0m.3-1.1h0m.1 1.4h0m3.4-.1h0m-24.4 1.7h0m1.1 .4h0m.2-1.2h0m.2-.2h0m.6 2.7h0m0-.2h0m.1-.2h0m0-2.3h0m.1 1.5h0m0-1.6h0m.1 1.4h0m.6-.8h0m0 1.4h0m.5 .1h0m1.9-1.5h0m0-.5h0m.3-.1h0m0 .1h0m.2 .3h0m.5 .8h0m.5-1.1h0m.2 .4h0m.2 .6h0m.1 .7h0m.5 1h0m.1-1h0m0 .8h0m.2-.4h0m.2-.4h0m.2 .1h0m.1-1.8h0m.1 2.3h0m.2-.8h0m.2 .4h0m.3-1.4h0m.1 .6h0m.1 1.4h0m.4-1.2h0m.3-1.5h0m.6 2.3h0m0-1h0m0-1.1h0m.4 .3h0m.2 .8h0m1-1h0m.1 .1h0m0 .3h0m.4 1.3h0m.1-.8h0m.6 .7h0m0-1.2h0m.2-.6h0m0 2.7h0m.3-2.4h0m.3 0h0m.3-.4h0m0 2.3h0m.5-1h0m0 1.3h0m.1 .2h0m0-2.7h0m.5 .4h0m.4 .9h0m.3-1.4h0m0 .9h0m.2 .3h0m.1-.2h0m.6-.4h0m0 2h0m.8-.7h0m.2-.9h0m.1-.5h0m.6 1.2h0m.4 1h0m0-.6h0m.4-1.7h0m0 0h0m0-.1h0m.3 2.5h0m.2-1h0m-21.4 2.1h0m.6-.4h0m.6 1.8h0m.5 0h0m.4 .3h0m.3-.3h0m.6-.1h0m.2-.5h0m.5 1.1h0m.3 .1h0m.2-.1h0m.2-2.7h0m.6 .3h0m.6 2.1h0m.2 .2h0m.3 0h0m.9-2.2h0m.3 1.5h0m.1-.4h0m.3-.6h0m.2 .1h0m.1 1.9h0m.1-.2h0m0-1h0m0-1.6h0m.2 .2h0m.5-.2h0m.4 1.2h0m.1 .3h0m.2 .3h0m.6-1.1h0m.1-.6h0m.1 1.2h0m.2 .1h0m.2-1.4h0m.1-.2h0m.3 .2h0m.2 .7h0m.1 1.3h0m0-2.1h0m.9 0h0m.2 .5h0m.1 .4h0m.1-.5h0m.1 1.1h0m.2-.7h0m.1-.2h0m.2 1.1h0m0-1.5h0m.2 .4h0m.1-.4h0m.2 1.2h0m.8-1.5h0m.2 1.2h0m0 1.7h0m0-1.5h0m.1-.4h0m.1-.4h0m.1 1.7h0m.4 0h0m.7-.6h0m.1 .8h0m.1-1.9h0m.4-.4h0m.2 2.6h0m.2-1h0m.3-1.7h0m.3 0h0m.1 .3h0m0 2.4h0m.2-2.7h0m.4 2.3h0m.3-2.4h0m.2 2.1h0m.2 .5h0m.1-1.1h0m.3-.3h0m.1 0h0m0 1.1h0m.3-2.2h0m.5 2.1h0m.3 .2h0m.1-2.1h0m.1 .8h0m.8 .7h0m-19.4 2.8h0m.1-.6h0m.5 .3h0m1.1 .2h0m.8 0h0m.5 .5h0m.4-.5h0m.5 1.3h0m.2-1.1h0m.1-.9h0m.2 .6h0m.3-1.2h0m0 .5h0m.4 .1h0m0 .4h0m.2 .3h0m0 .4h0m.1-1.2h0m.4 .6h0m.1-.7h0m.1-.5h0m.1 1.5h0m.1 0h0m0-.8h0m.2 0h0m0 1.3h0m.2-1.2h0m0 .5h0m.3 .4h0m0-.6h0m.1 1.2h0m.1-.8h0m0 1h0m.3-.3h0m.1-1.8h0m.1 0h0m0 .8h0m0 1.1h0m0-.7h0m.2 .2h0m.2-1.1h0m.2-.2h0m0-.5h0m.1 1.1h0m.1-.8h0m.3 .7h0m.4-1h0m0 2.2h0m.2-2h0m.6 1.7h0m.4-1.8h0m.1 .6h0m.1 2h0m.4-.2h0m.1-2.1h0m.1-.1h0m.1 1.7h0m.7-2.1h0m.4 2.5h0m.1-2.1h0m.1-.2h0m.2 1.9h0m0-1.4h0m.4 2.1h0m.1-.5h0m.5-2.3h0m.3 2.8h0m.1-.2h0m0-2.5h0m.2 1.7h0m.2 .8h0m.3-1.9h0m.3 1h0m.2 1.1h0m0-1.9h0m.2 1.1h0m.1 .3h0m.3-.3h0m0-1.4h0m.6 1.3h0m.4-1.2h0m.1 1.8h0m.8 .4h0m0-.6h0m.4-2.1h0m.2 .1h0m.1-.1h0m.4 2.4h0m.5-1.1h0m-11.7 1.7h0m2.4 1.1h0m.3-1.2h0m.1 1.6h0m.1 .2h0m.3-1.9h0m0 1.9h0m.4-.7h0m.4 .3h0m.1 .2h0m.1 .5h0m0 .2h0m.6-.5h0m.1-.9h0m0 .3h0m.1 1h0m.2-2.3h0m.7 1.4h0m.1 1.1h0m.2-2.2h0m.2 .8h0m.4 .9h0m0 .2h0m.4-.6h0m.2-.6h0m.1 .7h0m.1-1.5h0m.2 .2h0m.6 1.8h0m.1-1.7h0m.4 0h0m.5 .9h0m.5-1h0"/>
<path fill="#10a070" fill-opacity=".5" stroke="none" d="M138.5 364.4L138.53 365.24L138.56 366.19L138.42 367.25L137.93 368.24L137.07 368.89L136.01 369.03L135 368.73L134.17 368.21L133.49 367.67L132.88 367.17L132.32 366.63L131.82 366L131.45 365.25L131.21 364.4L131.09 363.47L131.15 362.47L131.49 361.48L132.16 360.68L133.08 360.23L134.07 360.16L135 360.34L135.83 360.61L136.61 360.92L137.35 361.32L137.97 361.93L138.35 362.72L138.49 363.57z"/>
<path stroke="#10a070" d="M130.7 361h0m.5 .1h0m.1-.9h0m.8-.5h0m1.8 1.6h0m.1-1.4h0m1.2-.2h0m.6 .4h0m.1 .2h0m0-.2h0m.5 .7h0m.5 .6h0m.3-.5h0m-6.9 2.7h0m.5-.7h0m.5 .9h0m.2 .2h0m.1 0h0m.1-1.4h0m.5 0h0m.1 1.6h0m1-2h0m.6 .6h0m.2 .4h0m.2 .2h0m.4-.8h0m.1-.2h0m.1 1.5h0m.2-.8h0m.2 1.4h0m.1-1.2h0m.3 .5h0m.1-.5h0m.1-.3h0m0-.7h0m.6-.4h0m0 1h0m.4-.7h0m.2 2.1h0m0-.4h0m.1 .2h0m.4-1.3h0m.1 .5h0m.2-.6h0m0 .7h0m.5 0h0m0-.5h0m.2-.1h0m.1-1.1h0m.1 2.1h0m-7.8 .8h0m.9 .2h0m.1 .1h0m.5 2.1h0m.2-.2h0m.2-.3h0m.4-1.7h0m.1 2h0m0 .5h0m.2-1.9h0m.2 1.6h0m0-.5h0m.1-.1h0m.3-.3h0m0-.7h0m.1 1.7h0m0-2.3h0m.2 2.6h0m0-.1h0m.7-1.5h0m.6 1.4h0m.1-2.1h0m.1 1h0m.3-1.2h0m.1-.3h0m1.3 2.8h0m.1-1.9h0m0-.4h0m.3 .4h0m0 .8h0m1.2 .7h0m-6.7 .6h0m.7 .2h0m.3 .5h0m1.2 .7h0m1.4-1h0m.6 1.4h0m.9-1.3h0m.9-.2h0m.2 0h0"/>
<path fill="#40c0d0" fill-opacity=".5" stroke="none" d="M150.94 365.64L150.74 367.16L150.35 368.4L150.02 369.5L149.87 370.82L149.75 372.54L149.28 374.33L148.29 375.5L146.95 375.5L145.66 374.37L144.7 372.75L143.98 371.3L143.23 370.18L142.32 369.08L141.47 367.65L141.09 365.92L141.35 364.3L142.07 363.12L142.86 362.29L143.49 361.44L144.07 360.35L144.83 359.23L145.9 358.53L147.16 358.6L148.39 359.41L149.43 360.71L150.24 362.26L150.77 363.94z"/>
<path stroke="#40c0d0" d="M145.4 358.5h0m-3 3h0m.8-.8h0m.2-1.9h0m0 2h0m.1-.5h0m0 .1h0m.2 .8h0m.2 0h0m.4-.5h0m0 .1h0m.3 .2h0m0-1h0m.1-1.2h0m.1 .4h0m0 .7h0m.2 .5h0m.2 .1h0m.3-1.6h0m.8 .8h0m.6 .6h0m.3-1h0m0 2.1h0m.5-.8h0m.3-1.7h0m.1 1.5h0m.1 .1h0m.3-1.9h0m.3 2.8h0m.1-1.6h0m.6-.3h0m.2-.1h0m0 .4h0m-10.5 2h0m1.6 1.9h0m.2 .2h0m0-1h0m.6 .1h0m0 1.2h0m.1-1.5h0m.3 .6h0m.7 1.1h0m.3-.4h0m.1-2h0m0-.1h0m0 .6h0m.1-.7h0m0 2.4h0m.2-1h0m.2-1.6h0m.1 2h0m.3-1.6h0m0 .4h0m0-.3h0m.2 .8h0m.1 1.2h0m.1-.7h0m.2-.2h0m.2-.8h0m.2-.5h0m0 1.9h0m.2-1h0m.1 .2h0m.1 .9h0m.5 .2h0m.1-2.6h0m0 .9h0m.3 0h0m1.5 .7h0m0-.7h0m.5 .1h0m0-.4h0m.1 2.1h0m.2-1.9h0m1.2 2.2h0m.5-.9h0m.3 .5h0m.2-.1h0m.9-.6h0m-11.5 3.2h0m.1 .7h0m0-2.8h0m.5 1.6h0m.1 .1h0m.1-1.7h0m.7 1h0m.1 1.6h0m.1-1.4h0m.1-.8h0m.2 2h0m.2-2.4h0m.4 .4h0m.3 .4h0m.1 .1h0m.1 .9h0m0-1.1h0m.1-.2h0m.3 1.1h0m.2-.9h0m.2 2.3h0m.7-1.6h0m.3-.1h0m.1 .5h0m0-1.1h0m.2 2.1h0m1-1.1h0m.4 1.1h0m.2 .2h0m.2-1.8h0m.4 .2h0m.3-.8h0m.1 .1h0m.1 1.2h0m.5-.4h0m.5-1.4h0m.1 2.2h0m.3 .2h0m.2-1.6h0m0 2h0m.1-2.4h0m.2 .3h0m.6 1.1h0m.1-.4h0m.2-.3h0m.1-.7h0m1.5 0h0m-11.1 3.7h0m.3 .1h0m.1-.8h0m.7 1.6h0m0 .5h0m.2-1.9h0m0 2.2h0m.1-1.5h0m.2 .6h0m.2-.4h0m.1 .2h0m0-.3h0m.4 1.4h0m.3-.8h0m.1 0h0m.1-.1h0m0-1.1h0m.3 1.2h0m0-.8h0m.2 1.4h0m.3-1.9h0m.3 1.5h0m.2-1.1h0m.1 .8h0m.5-1.3h0m.1 1.3h0m.2-1.3h0m.2-.5h0m.1 1.6h0m.5-1.1h0m.1-.5h0m.1-.2h0m.1 2.8h0m0-2.4h0m.2 2.4h0m.2-1.4h0m.1 .9h0m.1-2.1h0m.2 .8h0m.1 .8h0m.1 0h0m.1-1.3h0m.3 .3h0m.2 .6h0m0 .5h0m.1 .5h0m.3-1.9h0m.2 2.2h0m0-1.9h0m0 1.5h0m.1-.3h0m.2-1.2h0m0 1.9h0m0-2.6h0m0 1.6h0m.1-.1h0m.4-.2h0m0-.1h0m.2 .8h0m.9-1.9h0m-8.4 3.4h0m.8 2.1h0m0 .1h0m0 0h0m.9-1.1h0m1-.1h0m.2 .8h0m.4-1.2h0m.1 1.4h0m.4-.1h0m.1-.1h0m.5 .2h0m.4-1.3h0m0-.3h0m.5 .4h0m.3-.4h0m.2-.6h0m.5 .2h0m.2-.1h0m.1 .1h0m.4 1h0m-5.7 2.4h0m.5 0h0m.9-1h0m.2 .7h0m.2-.2h0m.4-.1h0m.1-.2h0m0 1.9h0m.6-2h0m.2 2.6h0m1 0h0m.1 .3h0m.2-.3h0m.4-1.8h0m.1 1.2h0m0-1.6h0m.1 2.5h0m.1-2.6h0m.4 .3h0m.3-.5h0m-2.9 2.8h0m0 0h0m.3 .3h0"/>
<path fill="#9030a0" fill-opacity=".5" stroke="none" d="M151.62 398.6L151.47 399.1L151.4 399.61L151.27 400.17L150.94 400.66L150.42 400.93L149.83 400.94L149.3 400.82L148.81 400.75L148.28 400.71L147.73 400.57L147.29 400.2L147.11 399.66L147.15 399.09L147.23 398.6L147.18 398.12L147.05 397.52L147.09 396.83L147.45 396.29L148.1 396.1L148.77 396.29L149.3 396.6L149.72 396.77L150.19 396.75L150.8 396.72L151.39 396.94L151.74 397.42L151.77 398.04z"/>
<path stroke="#9030a0" d="M146.6 397.4h0m.4-.3h0m.2-.2h0m0-1.4h0m.1 .5h0m.7 0h0m.2 0h0m1 .3h0m.4 1.2h0m.9-1.1h0m.6 .4h0m1.1 .4h0m-5.6 2.3h0m.4-1h0m.1-.8h0m0 .8h0m.1-.8h0m.2 2.4h0m.1-.9h0m.2-.7h0m.2 0h0m1.1 .4h0m.3-1.2h0m.1 .2h0m.1 .5h0m.2 .6h0m.1 .1h0m.1-1h0m.2 1.2h0m0 .2h0m.2-.7h0m0-1h0m.3 1.6h0m.2 .8h0m0 0h0m0-2.6h0m.1 2.8h0m.1-.1h0m0-2.6h0m.5 1.2h0m.4-.5h0m-3.4 2.1h0m.3 .2h0m.5 .1h0m0 .1h0m.3 .2h0m.1 .5h0m.1 .2h0m.2-1.1h0m.2 0h0"/>
<path stroke="#f2d94a" d="M50.5 400.2h0m.1-.9h0m.2-.5h0m.5 1.2h0m.1-1.8h0m-1.5 3.2h0m.2 2h0m.1-.3h0m.1-2.5h0m.5 0h0m0 1.7h0m.1-1.1h0m0 1h0m.3-1.1h0m15.6 .1h0m0 1.2h0m.3-1.4h0m.1 .2h0m.2 .4h0"/>
<path stroke="#b09018" d="M134 395.7h0m.2-.2h0m.4 1h0m0-.5h0m.4 .1h0"/>
<path stroke="#3a7fc0" d="M99.8 462h0m.6-.6h0m.1-.1h0m0 1.9h0m.3-1.7h0m.1 .6h0m.4 .4h0"/>
<path fill="#58a030" fill-opacity=".5" stroke="none" d="M78.86 489.46L78.49 490.04L78.04 490.61L77.46 491.12L76.67 491.45L75.72 491.42L74.81 491.01L74.09 490.4L73.53 489.81L72.97 489.33L72.29 488.86L71.61 488.25L71.19 487.49L71.22 486.72L71.64 486.09L72.22 485.63L72.77 485.21L73.33 484.76L74.01 484.36L74.88 484.21L75.82 484.42L76.63 484.94L77.25 485.57L77.76 486.18L78.27 486.75L78.74 487.38L79.05 488.09L79.08 488.8z"/>
<path stroke="#58a030" d="M73.4 483.4h0m-2.4 3.8h0m.4-1.1h0m.1-.3h0m.2-.3h0m0 1.5h0m.2 .2h0m.1-.9h0m.1 1h0m.1-1.1h0m.2 1.1h0m.2 .1h0m.1-.2h0m0 .2h0m0-.3h0m.1-.8h0m.1-1.7h0m.1 1h0m0-.7h0m0 2.6h0m0-1.4h0m.2 .3h0m.3 .5h0m.1-.1h0m.2-1.4h0m0 .4h0m0-.8h0m.2 1.5h0m0-.1h0m.1 .6h0m0-.3h0m0-1.9h0m.1 2.3h0m0-2h0m.3 2.2h0m0-2.5h0m.2 2.4h0m.1-2.3h0m.1 1.6h0m.9 .7h0m.3-2.1h0m.1 1.9h0m.1-.6h0m.5-1.3h0m0 1.3h0m.1-.5h0m.2-.8h0m.2 0h0m.1 .6h0m.1-1.2h0m0 1.1h0m.4 1.6h0m.4-.4h0m0-.6h0m.3 .6h0m.1 .3h0m-7.4 1h0m.1-.1h0m.5 .9h0m.3-1.1h0m0-.2h0m.3 .8h0m0-.3h0m.1-.2h0m.3 1.5h0m.1-.2h0m.2-.8h0m0 1.2h0m.4-1.8h0m0 1.6h0m.1-.3h0m.3-.3h0m0 0h0m.1 1.1h0m0 .3h0m.1-2.7h0m0 1.3h0m.4 1.4h0m.1-1.9h0m0-.2h0m.2 0h0m0 1.2h0m.1-.4h0m.4 .7h0m.1-1.3h0m0 .2h0m0 .7h0m.4 .3h0m.2-.6h0m.1 0h0m.4 .9h0m.1-.9h0m0-1h0m.1-.3h0m.2 .2h0m0 0h0m0 1h0m.3-1.1h0m0 2.7h0m.2-2.1h0m0 .3h0m0 0h0m0 .6h0m.3-.9h0m0-.1h0m.3 1.7h0m.1-.4h0m0 .2h0m0-.5h0m.1 .5h0m0-.1h0m.2-1.2h0m0 1.2h0m.2-.2h0m.1-.2h0m.2 .7h0m0-.4h0m0 .5h0m.2-1.2h0m.6 .8h0m.8 .4h0m1.4 .3h0m.2-.3h0m-8.3 .7h0m.5 .5h0m.6 0h0m0-.1h0m.3 .6h0m0-.5h0m.1 .1h0m.9-.5h0m.2 1.3h0m.1-.5h0m.1-.1h0m.2 .1h0m1 0h0m.3-.7h0m2-.3h0m.3 .6h0m.9 0h0m0-.4h0m.2 1h0m.5 .1h0m1.6-.1h0m0-.3h0m.1 0h0m0-.3h0m0 1h0m.3 .2h0m.1-1.7h0m.2 1.2h0m.1-.3h0m.1 .8h0m.5-1.2h0m.3-.5h0m.1 2.3h0m.4-.5h0m2 .4h0m0-1.2h0m.5 .1h0m.2 .1h0m.5 1.1h0m.2-.4h0m.9-.1h0m0 0h0m.5 .5h0m2 .2h0m-5.3 .4h0m1.8 0h0m.2 .2h0m.9 .1h0m1.2-.1h0m.3 1h0m.6-.6h0m.5 .2h0"/>
<path fill="#f58518" fill-opacity=".5" stroke="none" d="M118.46 491.4L117.73 492.89L117.42 494.32L117.38 496L116.84 497.95L115.2 499.73L112.56 500.75L109.62 500.78L107.07 500.13L105 499.37L103.05 498.78L100.97 498.24L98.99 497.37L97.64 496.03L97.22 494.39L97.57 492.69L98.31 491.06L99.29 489.48L100.66 487.96L102.59 486.69L104.97 485.87L107.48 485.54L109.93 485.48L112.37 485.54L114.86 485.81L117.15 486.56L118.66 487.92L119.01 489.67zM103.36 499L103.02 499.92L102.52 500.7L102.05 501.43L101.58 502.24L100.97 503.09L100.08 503.75L99 503.99L97.92 503.72L97.04 503.08L96.38 502.28L95.9 501.47L95.54 500.67L95.29 499.85L95.18 499L95.19 498.13L95.3 497.22L95.54 496.24L96.03 495.27L96.84 494.51L97.9 494.17L99 494.34L99.95 494.85L100.71 495.46L101.4 495.99L102.14 496.49L102.86 497.14L103.32 498.01z"/>
<path stroke="#f58518" d="M106 482.6h0m.1 1.6h0m.5 .2h0m.1-.9h0m1 .5h0m.1 .1h0m1.6 .2h0m4.9-.1h0m-14.1 2.8h0m1.9-1h0m1-.4h0m0 .1h0m.4 1.6h0m.1-1.9h0m.1-.1h0m0 1.4h0m.1-1.6h0m.2-.1h0m.2 1.1h0m.6-1.4h0m.1 1.1h0m.1 .5h0m1.1-1.8h0m.2 2.4h0m.1 .3h0m0-2.2h0m.1 2.4h0m.2-1.6h0m.2 0h0m0 .9h0m.1-1.3h0m.3 1.8h0m.1-2.1h0m.3 .6h0m.1-.3h0m.5-.6h0m0 .8h0m.4 1.3h0m.2-2.3h0m0 .7h0m0 1.7h0m.3-2.1h0m.1 0h0m.3-.3h0m.1 2.2h0m.2-1.2h0m.2 .7h0m0-.8h0m.3 .1h0m.1 .6h0m.2 0h0m.2-.1h0m0-.6h0m.2 .2h0m0 .3h0m.1-.1h0m.3 .9h0m.1-1h0m.4 .3h0m.2 .5h0m0 .4h0m.7-1.3h0m.5 1.2h0m0-1.9h0m.3 1.2h0m0 .9h0m.1-.3h0m.3 .2h0m.1-1.5h0m0 .2h0m.1 1.5h0m.2-2.5h0m.3-.2h0m.3 2.4h0m0-1.6h0m.1 1.1h0m.4-.9h0m.1-.7h0m.3 .3h0m.3-.5h0m.2 1.1h0m.1 1.3h0m.3-.6h0m1 .6h0m0-1h0m.3-1.1h0m.1 2.2h0m1.8-1.5h0m0 .4h0m.4 .1h0m2 .5h0m-26.8 2h0m2.5 1h0m.2 .3h0m.5-.9h0m.3 .4h0m0 1.1h0m.1-1.7h0m0-1h0m.3 .2h0m.3 1.4h0m0 .6h0m.1-.6h0m.4 .4h0m.1-.8h0m.3-.6h0m.2-.3h0m.1 1.1h0m0-.7h0m.1 1.9h0m.3-1h0m.1-.8h0m0 1.4h0m.1-.1h0m.3-1h0m.2-.4h0m.2 1.7h0m.2-.7h0m0-.8h0m.3-.8h0m0-.3h0m0 2.5h0m0-.9h0m.2-1.4h0m.1 .7h0m.2 1.5h0m1-.5h0m.8 .1h0m.1 .4h0m0-.1h0m.1-.7h0m.1-1.2h0m.6 1.9h0m.4-.3h0m.3 .5h0m.1 0h0m0-1.9h0m.2 1.9h0m.1-.8h0m.1 1.1h0m.2-.9h0m0-.4h0m.2-1h0m.1 1.8h0m.2-1.5h0m0 .7h0m.3 .7h0m.1-1.3h0m.1 1.7h0m0-.3h0m.1 .2h0m.2 .2h0m0-2.6h0m.2 .6h0m.3 .9h0m.3-.3h0m.1-.8h0m.1 1.9h0m.6-.8h0m.2 .9h0m0 .3h0m0-1.9h0m.1-.3h0m.2-.4h0m.2-.1h0m.4 1.2h0m.1-1.3h0m.1 1.7h0m0-.9h0m.7 1.1h0m.5-1.4h0m.2 .6h0m.6-.5h0m.2 1.9h0m.3-2.6h0m.1 1.1h0m.9 .7h0m.1-1h0m0-.2h0m.1 .8h0m.2-1h0m.3 1.9h0m0-.4h0m0-.6h0m.6-.9h0m.1 .1h0m.2 .1h0m.1 .6h0m.3 .2h0m.1 1.4h0m.2-2.3h0m.2 1.6h0m.1 .6h0m.1-1.6h0m0-.8h0m0 1.1h0m0 1.3h0m.4-.7h0m.3 .1h0m.1 .8h0m.1-2.3h0m0 .8h0m1.2-1.1h0m.1 1h0m0 .2h0m-23.3 2.3h0m0 1.3h0m.3-2h0m.3 2.3h0m.1-.1h0m.4-.8h0m.3 1.1h0m.4-1.5h0m.3 1.5h0m.2-1.8h0m0 .9h0m.2-.4h0m0 .4h0m.2-1.1h0m0 1h0m0 .7h0m0-.4h0m0-1.7h0m.1 .3h0m.3 1.5h0m0-1.7h0m.4 1.3h0m.3-1.5h0m0 .4h0m.1 1.7h0m.1-.5h0m.3 .7h0m0-1.9h0m0-.2h0m.3 1.1h0m.3-1.1h0m0 1.3h0m.1-1h0m.5 .1h0m.4 2.2h0m.1-1.3h0m.2-1.5h0m.1 1.4h0m0-.3h0m.1 .7h0m.1 .9h0m0-1.9h0m0-.3h0m.3 1.3h0m.2 .8h0m0-.8h0m0-.2h0m0 .3h0m.2-.8h0m.3-.6h0m0 .8h0m.3 1.2h0m0-1.9h0m.2 .3h0m.1-.9h0m.1 1.7h0m.1-.8h0m.1 1.8h0m.2-.9h0m0 0h0m1.1-1.3h0m.1 2.1h0m.1-2.2h0m.3 .8h0m.1-.6h0m0 .1h0m.3 1.7h0m.2-.9h0m0 1.2h0m.1-2.5h0m.2 .6h0m0 1.8h0m0-.2h0m.8-1h0m0-1.5h0m.3 .2h0m0 0h0m.3 1.7h0m.2 .3h0m.4-1.2h0m.3-.5h0m.2 .3h0m.2 .1h0m.1 .7h0m.1-1.1h0m.1 .3h0m0 .7h0m.3 .1h0m.4 .7h0m.2 .7h0m0-.3h0m.2 .1h0m.1 .2h0m.1-1.4h0m0-.5h0m.4 .5h0m0-1.5h0m.1 1.1h0m0 1.5h0m.1-1.7h0m.3 1.5h0m.1-.2h0m.1-.7h0m0 .6h0m.1 .2h0m0-.3h0m.2 .3h0m.3-1.5h0m.1-.8h0m.3 1.7h0m0 .4h0m.1-.1h0m0 .2h0m.2 0h0m0-.7h0m0-1.5h0m0 .3h0m.3 .5h0m.1 .1h0m.2 1h0m0 0h0m.1-.4h0m.2 1.4h0m.3-1.4h0m.1 .1h0m.1 1.1h0m0-1.2h0m.1 .7h0m0-1.5h0m.1 1.9h0m.1 0h0m.1-1.6h0m0 1.4h0m.2-.6h0m.2 .6h0m0-.4h0m.1-.7h0m0 1.5h0m.4-1.1h0m.1-1.6h0m.4 2.6h0m0-2h0m0 1.6h0m.3-2.4h0m.3 .7h0m.2-.7h0m.1 .8h0m0 .3h0m0-.8h0m.4 0h0m.2-.1h0m.3 .5h0m0 .4h0m.9-.7h0m-25.8 4.2h0m.2 1.1h0m.4-1.9h0m.3 1.1h0m0 .9h0m.3-.1h0m.9-1.4h0m.1 .3h0m.1-1.6h0m.2 3h0m0-2h0m.1 1.1h0m0-1.5h0m.2 2.3h0m0-1h0m.1 .4h0m.1-1.3h0m0 1.9h0m.4-1.9h0m.1-1h0m.5 1.3h0m.1 1.7h0m0-2.3h0m.1 1.6h0m.2 .7h0m0-1.3h0m.2-.9h0m.1-.2h0m.2 2.2h0m0-.6h0m.3 .6h0m.1 0h0m.1-2.3h0m0 1.7h0m0-.5h0m.1-.4h0m.1 1h0m.3-.4h0m.1 1.1h0m.3-2.6h0m.1 1.7h0m.2 .6h0m.3-.3h0m0-2.4h0m.1 2.8h0m.3-1.9h0m0 1h0m.1-.7h0m.1 1.5h0m.3-2.5h0m.1 1h0m.4-.2h0m.2 1.4h0m0-1h0m0-1.2h0m.1 1.7h0m.2-1.9h0m.5 .6h0m.1 1.4h0m.4 .8h0m.2-1.2h0m.2 .8h0m.2-1.5h0m.3-.2h0m.3 1.7h0m0-1.1h0m.2 1h0m.4 0h0m0-.5h0m.4 .8h0m.2-1.6h0m.1 .8h0m0-.8h0m.4 1.8h0m0-2.3h0m.1 1h0m.1-.2h0m0-.1h0m.1-.8h0m0 1h0m1.4-1.4h0m0 .2h0m.5 1.6h0m0 .2h0m.1 .1h0m0-1h0m.1 .1h0m.4 1h0m.2-1.3h0m.2 .4h0m0 1.1h0m0 .4h0m.6-2.6h0m0-.1h0m.1 .6h0m0 .6h0m.7-.9h0m.2-.1h0m1.2 .8h0m0-.1h0m.5-.6h0m.2 .8h0m.2 .8h0m.2-2h0m.2 1h0m.1-.5h0m.1 0h0m.1 2.1h0m.1-2.1h0m.1-.4h0m.4 .4h0m.2-.3h0m.2 .9h0m0 1h0m.5-1.5h0m0 .7h0m.5-.6h0m.5-.3h0m0 2.5h0m0-.2h0m.1-1h0m.2 .3h0m.4-.1h0m.1-1h0m.2-.9h0m0 2.1h0m-23.8 1.7h0m.2 .3h0m.2 1.7h0m0-1.3h0m.3-.1h0m.3 .9h0m.3-1.7h0m.1 1.1h0m.3-1.3h0m.3 1.7h0m0-.7h0m.1-1.1h0m.6 2.1h0m1-.9h0m.1 .9h0m0-.8h0m.2-.9h0m.3 1.9h0m.1-1.4h0m.1 1.6h0m.3 0h0m.1-1.2h0m0-.7h0m.1 .6h0m.1 .9h0m.3-1.7h0m0 .3h0m0 0h0m.2 .5h0m.1 .4h0m.1-1h0m0 1.3h0m.1-1.2h0m0-.3h0m.1 1.4h0m0-1h0m0 1.6h0m.1-1.4h0m.1-.5h0m.1 1.6h0m0-.3h0m.1-.1h0m0-1.8h0m.1 2h0m0-.2h0m.2 .6h0m.1-.1h0m.3-1h0m.1-.1h0m0-.2h0m.1-.9h0m.1-.1h0m.1 2.3h0m.1-1.2h0m.3 .4h0m.1 1.1h0m.4-1.6h0m0 .2h0m0-.6h0m0 1.6h0m.1-.2h0m.3 .8h0m0-1.9h0m.1-.2h0m0 .3h0m.2 .6h0m.1-.1h0m.3-.6h0m.1 .9h0m0-.6h0m.1 0h0m.1 .9h0m.1-1.2h0m.2 .8h0m0 .3h0m.2-.7h0m0 .4h0m0-.6h0m.2-.2h0m0-.2h0m.2 .4h0m0 0h0m.1-.1h0m.2 .7h0m0-.7h0m0-.7h0m.1 1h0m.2-1.3h0m.7 .6h0m0-.1h0m.1 .3h0m0-.5h0m.2 .9h0m.1-.2h0m.3 0h0m0 .4h0m.3 0h0m.6-1.2h0m.1 2.6h0m0-.4h0m.2-1.5h0m0 1.5h0m.3-1.9h0m.1 1.3h0m0-1.1h0m.1 1.6h0m.8-1.5h0m.1 .3h0m.1-.9h0m.6 1.3h0m.3 .2h0m.5-.1h0m.5 1.1h0m.1-.3h0m.7-.8h0m.1-.6h0m0 .1h0m.7-.5h0m.2-.2h0m.3 1.4h0m.2-.4h0m.1-1.2h0m0 1.9h0m0 0h0m.1-1.4h0m0 .1h0m.2-.5h0m.3 1h0m.4 1.3h0m.1-2.1h0m.5 .8h0m0-.4h0m.1 .6h0m.1-1.2h0m0 2.2h0m.5-.9h0m0-1.5h0m.3 1.4h0m0-1.6h0m.3 1.1h0m0-.7h0m.2-.3h0m0 2.1h0m.1-2.3h0m.3 1.3h0m.1 .6h0m.1-.5h0m.3-.4h0m.2-.5h0m.6 1.8h0m-24.3 1.2h0m.1 .7h0m0-.8h0m.3 .7h0m.1-.4h0m.4 .2h0m.1 1.2h0m.3 .7h0m.1-.2h0m0 .2h0m0-2.5h0m0 1.9h0m.1-2h0m.3 1h0m.1 1.3h0m.1 0h0m.6-.8h0m.5-1h0m.1-.3h0m.8 .3h0m.8 .5h0m.1 1.4h0m.4-1.4h0m0 1h0m1.3-.4h0m.1 1.1h0m.2-2.8h0m.1 1.1h0m.4 .3h0m0-.5h0m.4-.8h0m.1 1.9h0m.4-2h0m.8 .1h0m.9-.2h0m.2 1.9h0m.5-.3h0m.2-.5h0m.4-.8h0m0 .3h0m.3 .4h0m.1 .8h0m1.2-1.2h0m.1 1.4h0m.2-1.8h0m0 1.6h0m0-1.4h0m.1 1.9h0m.3-.9h0m0-.6h0m.1-.2h0m.4 1.9h0m.1-1.8h0m.3 .4h0m.1-.7h0m.3 1.7h0m.4-1.4h0m0 .6h0m.1 1.5h0m.3-1.7h0m.2 1.4h0m0-1.3h0m.3-1.1h0m.1 2.5h0m.2-1.1h0m.7-.2h0m.4-1.1h0m.2 0h0m0 2.5h0m.1-1.3h0m.3 .8h0m.1-1.3h0m0 .3h0m.1 0h0m.1 .8h0m2.7-2h0m.8 .4h0m.7-.3h0m.1 0h0m.4 .4h0m-20.4 4.5h0m1.7-1.5h0m1.1 .4h0m.3-.2h0m.2 1h0"/>
<path fill="#e09020" fill-opacity=".5" stroke="none" d="M98.27 503.35L98.39 504.2L98.17 504.95L97.86 505.5L97.7 506.02L97.69 506.7L97.63 507.53L97.31 508.26L96.69 508.58L95.94 508.39L95.27 507.84L94.74 507.21L94.31 506.65L93.89 506.14L93.49 505.59L93.16 504.95L92.95 504.24L92.85 503.5L92.85 502.74L93.01 502L93.41 501.43L94.01 501.2L94.7 501.32L95.33 501.64L95.88 501.92L96.43 502.07L97.09 502.24L97.78 502.64z"/>
<path stroke="#e09020" d="M92.6 501.4h0m.5 .6h0m.1 .5h0m.9-1.6h0m.8 .4h0m.8 1.1h0m.2-.6h0m.8-.1h0m.3 .4h0m.1-.1h0m-4.1 2.1h0m.2-1.4h0m.2 1.7h0m.1-1.6h0m.2 1.6h0m0-.3h0m.3 .9h0m.2-2.1h0m.1-.3h0m.6 2.5h0m.1-.4h0m.2 .2h0m.2-.1h0m0-1.8h0m.3 .9h0m.1-.5h0m.2-.2h0m.3 2.1h0m.1-1.3h0m0-1h0m.1 1.7h0m0-1.1h0m.1 1.9h0m.1-1.9h0m0-.7h0m.5-.1h0m0 1h0m.1 .4h0m.2-1.5h0m0 1.5h0m.1 1h0m.1-.8h0m0 .7h0m.6-.3h0m-4.6 .7h0m.1 .2h0m.4 .3h0m.4 .9h0m.3-.7h0m.2-.1h0m.1 1.2h0m0 .6h0m.5-2h0m.7 2.5h0m.1-2.3h0m.4 0h0m0 .5h0m.7 1.1h0m.2-.2h0m.2-.8h0"/>
<path stroke="#2878c8" d="M89.2 501.9h0m0 .3h0m.5-.2h0m0 .1h0m.3-.3h0m.1 .1h0m.1 .5h0m.1-.7h0m.6-.1h0m.1 .7h0m.3-.6h0m-6.9 3.8h0m.1-.2h0m.2 .2h0m.6-1h0m0 .6h0m.9-1h0m.3 .8h0m.3-1.5h0m.1 1.1h0m.1 .5h0m.1-1h0m.1 .9h0m0-.8h0m.1 1.3h0m.1-2.6h0m.2 .5h0m.2 2.2h0m.1-1.6h0m0-.3h0m0 .2h0m.1 1.4h0m.2-1.1h0m.1 .2h0m0-1.3h0m0 2.2h0m.2-1.2h0m.2 .9h0m.1-.3h0m0-1.8h0m.1 1h0m.2-.6h0m.8 0h0m0 0h0m.1-.3h0m.2 .3h0m-7.9 4.8h0m.5 .3h0m0 .2h0m.2-.4h0m.1-.9h0m.3-.5h0m.4 1.6h0m0-2.2h0m0 1h0m.2 .9h0m0-.7h0m.3 .9h0m0-2.4h0m0 1.7h0m.1 0h0m.2 .2h0m.2-.5h0m0-.9h0m.1-.4h0m.1 1h0m.3 .3h0m0-1.4h0m0 .5h0m.2 .6h0m0-.1h0m.2 .7h0m0-1.9h0m.5 .5h0m.1 1h0m.1-.6h0m.1-.1h0m.7-.1h0m-5.7 2.7h0m.3 .5h0m0-.3h0m.5-.5h0m0-.2h0m.4 .5h0m1-.4h0"/>
</g>
<text x="1.2" y="345.4" font-size="12" font-weight="bold" fill="#000">B</text>
<g font-size="12.6" fill="#1a1a1a" text-anchor="end"><text x="282.2" y="348" textLength="63.6" lengthAdjust="spacingAndGlyphs">Annotation</text><text x="282.2" y="361.4" textLength="33" lengthAdjust="spacingAndGlyphs">minor</text></g>
<g font-size="5.9" fill="#1a1a1a" text-anchor="end" stroke="#1a1a1a" stroke-width=".26">
<text x="265.8" y="370.2">B (805)</text>
<text x="265.8" y="378.14">DC LAMP3 (91)</text>
<text x="265.8" y="386.08">DC plas (194)</text>
<text x="265.8" y="394.02">Endothelial (77)</text>
<text x="265.8" y="401.96">Fibroblast (212)</text>
<text x="265.8" y="409.9">Macrophage (486)</text>
<text x="265.8" y="417.84">Malignant (661)</text>
<text x="265.8" y="425.78">Mast (13)</text>
<text x="265.8" y="433.72">NK (791)</text>
<text x="265.8" y="441.66">Plasma (575)</text>
<text x="265.8" y="449.6">T CD4 naive (1238)</text>
<text x="265.8" y="457.54">T CD8 eff (321)</text>
<text x="265.8" y="465.48">T CD8 ex (267)</text>
<text x="265.8" y="473.42">T CD8 mem (1055)</text>
<text x="265.8" y="481.36">T cycling (233)</text>
<text x="265.8" y="489.3">T helper (1401)</text>
<text x="265.8" y="497.24">T reg (577)</text>
<text x="265.8" y="505.18">T reg act (369)</text>
<text x="265.8" y="513.12">Tfh (203)</text>
<text x="265.8" y="521.06">Th17 (30)</text>
<text x="265.8" y="529">Unknown (198)</text>
<text x="265.8" y="536.94">cDC1 (104)</text>
<text x="265.8" y="544.88">myofibroblast (99)</text>
</g>
<rect x="271" y="366.4" width="7.4" height="3.8" rx=".8" fill="#e41a3c"/>
<rect x="271" y="374.34" width="7.4" height="3.8" rx=".8" fill="#3a7fc0"/>
<rect x="271" y="382.28" width="7.4" height="3.8" rx=".8" fill="#5fa83c"/>
<rect x="271" y="390.22" width="7.4" height="3.8" rx=".8" fill="#9a3fa8"/>
<rect x="271" y="398.16" width="7.4" height="3.8" rx=".8" fill="#3fc0d0"/>
<rect x="271" y="406.1" width="7.4" height="3.8" rx=".8" fill="#f58020"/>
<rect x="271" y="414.04" width="7.4" height="3.8" rx=".8" fill="#b08c20"/>
<rect x="271" y="421.98" width="7.4" height="3.8" rx=".8" fill="#7878d0"/>
<rect x="271" y="429.92" width="7.4" height="3.8" rx=".8" fill="#a8cc30"/>
<rect x="271" y="437.86" width="7.4" height="3.8" rx=".8" fill="#d01c5c"/>
<rect x="271" y="445.8" width="7.4" height="3.8" rx=".8" fill="#a8501c"/>
<rect x="271" y="453.74" width="7.4" height="3.8" rx=".8" fill="#f080b8"/>
<rect x="271" y="461.68" width="7.4" height="3.8" rx=".8" fill="#80ccc0"/>
<rect x="271" y="469.62" width="7.4" height="3.8" rx=".8" fill="#b0a4d8"/>
<rect x="271" y="477.56" width="7.4" height="3.8" rx=".8" fill="#f07060"/>
<rect x="271" y="485.5" width="7.4" height="3.8" rx=".8" fill="#6fa8d0"/>
<rect x="271" y="493.44" width="7.4" height="3.8" rx=".8" fill="#f5a860"/>
<rect x="271" y="501.38" width="7.4" height="3.8" rx=".8" fill="#f8c0d8"/>
<rect x="271" y="509.32" width="7.4" height="3.8" rx=".8" fill="#b080d0"/>
<rect x="271" y="517.26" width="7.4" height="3.8" rx=".8" fill="#f8e060"/>
<rect x="271" y="525.2" width="7.4" height="3.8" rx=".8" fill="#c0dcf8"/>
<rect x="271" y="533.14" width="7.4" height="3.8" rx=".8" fill="#d08820"/>
<rect x="271" y="541.08" width="7.4" height="3.8" rx=".8" fill="#10a070"/>
</g>
<g id="C">
<path d="M311.3 355.35V530.25M334.5 355.35V530.25M357.7 355.35V530.25M404.1 355.35V530.25M427.3 355.35V530.25M450.5 355.35V530.25M473.7 355.35V530.25M311.3 530.25H473.7M311.3 501.1H473.7M311.3 471.95H473.7M311.3 442.8H473.7M311.3 384.5H473.7M311.3 355.35H473.7" stroke="#e4e4e4" stroke-width=".5" fill="none"/>
<path d="M380.9 355.35V530.25M311.3 413.65H473.7" stroke="#8a8a8a" stroke-width=".6" fill="none"/>
<g font-size="4" font-weight="bold" fill="#222">
<g text-anchor="middle">
<text x="311.3" y="537.25">−15</text>
<text x="334.5" y="537.25">−10</text>
<text x="357.7" y="537.25">−5</text>
<text x="380.9" y="537.25">0</text>
<text x="404.1" y="537.25">5</text>
<text x="427.3" y="537.25">10</text>
<text x="450.5" y="537.25">15</text>
<text x="473.7" y="537.25">20</text>
</g><g text-anchor="end">
<text x="308.9" y="531.65">−20</text>
<text x="308.9" y="502.5">−15</text>
<text x="308.9" y="473.35">−10</text>
<text x="308.9" y="444.2">−5</text>
<text x="308.9" y="415.05">0</text>
<text x="308.9" y="385.9">5</text>
<text x="308.9" y="356.75">10</text>
</g>
<text x="478.7" y="415.05" font-size="3.8" fill="#666" font-weight="normal">UMAP_1</text>
</g>
<g fill="none" stroke-linecap="round" stroke-width="1.15">
<path fill="#f5ed9f" fill-opacity=".8" stroke="none" d="M345.01 379.92L344.11 381.41L343.21 382.67L342.39 383.85L341.41 384.98L340.08 385.93L338.46 386.61L336.73 387.07L334.87 387.46L332.81 387.71L330.67 387.54L328.9 386.71L327.99 385.29L327.96 383.7L328.29 382.27L328.41 381.01L328.23 379.66L328.29 378.1L329.21 376.61L331.04 375.69L333.22 375.55L335.15 375.87L336.75 376.07L338.43 375.87L340.57 375.54L342.9 375.69L344.71 376.64L345.4 378.21zM416.18 384.9L416.23 385.69L415.54 386.5L414.5 387.19L413.46 387.77L412.49 388.32L411.43 388.83L410.22 389.22L408.95 389.38L407.8 389.29L406.84 389.05L406.02 388.75L405.28 388.4L404.65 387.98L404.25 387.44L404.11 386.81L404.19 386.12L404.47 385.36L405.04 384.56L406.04 383.82L407.44 383.32L408.95 383.23L410.19 383.52L411.02 383.94L411.7 384.21L412.62 384.24L413.92 384.2L415.29 384.37zM343.66 423.05L344.38 424.69L345.2 426.79L345.42 429.07L344.7 430.77L343.36 431.46L342 431.55L340.86 431.79L339.74 432.47L338.38 433.08L336.82 432.82L335.45 431.42L334.55 429.33L334.04 427.17L333.64 425.18L333.26 423.21L333.16 421.2L333.65 419.48L334.66 418.42L335.79 417.88L336.68 417.21L337.47 415.86L338.57 414.18L340.17 413.24L341.9 413.97L343.11 416.26L343.5 419.07L343.45 421.38zM362.91 368.75L362.54 369.92L362.13 371.03L361.7 372.22L361.18 373.59L360.54 374.87L359.87 375.54L359.36 375.26L359.13 374.23L359.09 373.01L359.01 372.09L358.8 371.39L358.58 370.51L358.6 369.23L358.97 367.77L359.57 366.57L360.15 365.79L360.61 365.07L361.03 363.96L361.6 362.47L362.32 361.15L363 360.69L363.41 361.32L363.51 362.66L363.42 364.09L363.33 365.3L363.28 366.39L363.17 367.53zM360.51 382.25L359.68 383.66L358.86 384.81L358.2 385.99L357.56 387.47L356.66 389.08L355.39 390.28L353.93 390.56L352.63 389.8L351.71 388.38L351.12 386.8L350.67 385.34L350.24 383.93L349.9 382.42L349.84 380.75L350.16 379.06L350.81 377.54L351.68 376.22L352.68 375.12L353.8 374.25L355.04 373.76L356.29 373.72L357.49 374.1L358.6 374.8L359.62 375.75L360.49 377.02L361.02 378.65L361.04 380.49zM365.24 414.49L365.22 417.19L364.83 420L363.97 422.7L362.67 425.04L361.04 426.86L359.17 427.98L357.21 428.16L355.4 427.22L353.97 425.35L352.99 423L352.28 420.68L351.58 418.49L350.84 416.17L350.29 413.45L350.32 410.42L351.1 407.58L352.47 405.36L354.06 403.79L355.67 402.53L357.32 401.34L359.15 400.43L361.09 400.37L362.84 401.55L364.08 403.84L364.72 406.65L364.97 409.41L365.11 411.97zM369.45 390.2L370.35 392.06L371.21 394.54L371.03 397.24L369.36 399.17L366.74 399.63L364.17 398.82L362.2 397.71L360.63 397.09L358.95 396.94L357.06 396.64L355.36 395.66L354.28 394.01L353.82 392.11L353.59 390.2L353.35 388.18L353.4 385.96L354.23 383.84L355.96 382.37L358.18 381.86L360.32 381.98L362.2 382.13L364.06 382.06L366.08 382.15L367.95 382.99L369.11 384.69L369.35 386.75L369.2 388.6zM393.99 384L395.55 386.75L395.77 389.91L394.37 392.68L391.81 394.47L388.86 395.26L386.02 395.38L383.4 395.08L381 394.42L378.86 393.36L376.99 391.98L375.31 390.41L373.69 388.64L372.26 386.52L371.42 384L371.57 381.32L372.74 378.91L374.5 376.96L376.38 375.26L378.3 373.5L380.58 371.74L383.4 370.66L386.38 371.03L388.75 372.98L389.97 375.82L390.37 378.49L390.84 380.45L392.1 382.03zM396.22 369.63L395.48 370.7L394.75 371.57L394.26 372.4L393.83 373.35L393.09 374.33L391.89 375.08L390.41 375.39L388.96 375.26L387.72 374.88L386.66 374.43L385.69 373.96L384.79 373.41L384.06 372.71L383.54 371.87L383.25 370.91L383.22 369.85L383.61 368.74L384.55 367.76L385.98 367.15L387.58 367.02L388.97 367.22L390.09 367.41L391.2 367.33L392.6 367.08L394.26 367.03L395.71 367.48L396.41 368.45zM396.14 406.66L395.21 407.47L394.64 408.54L394.05 409.93L392.63 411.13L390.05 411.37L386.93 410.34L384.29 408.52L382.46 406.72L380.82 405.38L378.57 404.23L375.83 402.75L373.79 400.89L373.64 399.21L375.43 398.29L377.93 398.09L379.8 397.94L380.75 397.21L381.64 395.95L383.44 394.95L386.25 394.97L389.3 396.12L391.8 397.87L393.62 399.66L395.12 401.28L396.43 402.84L397.19 404.38L397.03 405.69zM389.61 400.38L388.99 401.22L387.6 401.79L386.08 402.14L384.85 402.52L383.75 403.1L382.31 403.73L380.31 404.06L378.15 403.8L376.47 403.01L375.55 402.02L375.07 401.14L374.49 400.43L373.61 399.73L372.79 398.91L372.56 398.01L373.13 397.2L374.31 396.59L375.76 396.12L377.35 395.76L379.12 395.54L381.05 395.6L382.88 396.01L384.37 396.64L385.54 397.33L386.71 397.96L388.01 398.63L389.17 399.45zM402.54 408.01L402.76 409.25L402.91 410.44L402.94 411.63L402.7 412.67L402.11 413.35L401.32 413.58L400.54 413.54L399.87 413.59L399.2 413.89L398.34 414.2L397.3 414.12L396.28 413.37L395.57 412.1L395.27 410.66L395.25 409.35L395.33 408.23L395.42 407.18L395.6 406.2L396.01 405.4L396.61 404.91L397.31 404.66L398.03 404.5L398.79 404.34L399.67 404.31L400.64 404.67L401.52 405.52L402.17 406.72zM361.56 431.22L362.08 433.15L362.21 435.11L361.83 436.79L361.01 437.93L359.99 438.5L359.02 438.8L358.16 439.16L357.27 439.61L356.23 439.83L355.08 439.45L354.02 438.39L353.18 436.93L352.5 435.39L351.81 433.83L351.08 432.08L350.55 430.07L350.55 428.09L351.23 426.63L352.38 426L353.64 426.06L354.72 426.32L355.63 426.39L356.55 426.31L357.6 426.38L358.73 426.92L359.83 427.99L360.78 429.47zM383.59 431.57L382.71 434.26L381.18 436.25L379.72 437.67L378.69 439.1L377.84 440.89L376.7 442.87L375.01 444.44L372.87 445.09L370.63 444.67L368.57 443.38L366.88 441.49L365.67 439.19L365.02 436.68L364.94 434.19L365.24 431.9L365.66 429.77L366.12 427.62L366.81 425.4L368.01 423.43L369.79 422.2L371.85 422.01L373.86 422.59L375.68 423.4L377.54 424.09L379.63 424.89L381.74 426.33L383.26 428.67zM379.35 448.72L379.28 450.03L378.62 451.19L377.52 452.04L376.22 452.59L374.86 452.95L373.47 453.12L372.05 452.97L370.78 452.38L369.86 451.45L369.26 450.44L368.7 449.56L367.88 448.74L366.84 447.72L366.02 446.37L365.97 444.89L366.86 443.68L368.36 443.05L369.96 442.88L371.35 442.86L372.59 442.76L373.87 442.65L375.22 442.81L376.43 443.4L377.32 444.32L377.93 445.36L378.45 446.39L378.98 447.48zM418.48 448L418.52 449.06L418.05 450.03L417.21 450.75L416.28 451.24L415.42 451.7L414.53 452.19L413.5 452.57L412.38 452.56L411.37 452.11L410.61 451.37L409.98 450.6L409.3 449.88L408.55 449.05L408.04 448L408.11 446.86L408.85 445.92L409.96 445.38L410.99 445.07L411.79 444.7L412.54 444.08L413.5 443.43L414.69 443.16L415.83 443.5L416.67 444.31L417.18 445.27L417.6 446.17L418.07 447.03zM450.34 436.35L450.81 439L450.72 441.52L450.41 443.87L450 446.22L449.22 448.44L447.78 449.91L445.8 450.07L443.77 449.03L442.1 447.7L440.62 446.98L438.8 446.89L436.41 446.53L433.99 444.97L432.5 442.15L432.51 439L433.67 436.48L435.04 434.76L435.92 433.19L436.4 431.21L437.09 429.01L438.44 427.44L440.34 427.16L442.33 428.03L444.11 429.38L445.78 430.7L447.51 432.09L449.16 433.94zM436.7 364.4L436.73 365.24L436.76 366.19L436.62 367.25L436.13 368.24L435.27 368.89L434.21 369.03L433.2 368.73L432.37 368.21L431.69 367.67L431.08 367.17L430.52 366.63L430.02 366L429.65 365.25L429.41 364.4L429.29 363.47L429.35 362.47L429.69 361.48L430.36 360.68L431.28 360.23L432.27 360.16L433.2 360.34L434.03 360.61L434.81 360.92L435.55 361.32L436.17 361.93L436.55 362.72L436.69 363.57zM449.14 365.64L448.94 367.16L448.55 368.4L448.22 369.5L448.07 370.82L447.95 372.54L447.48 374.33L446.49 375.5L445.15 375.5L443.86 374.37L442.9 372.75L442.18 371.3L441.43 370.18L440.52 369.08L439.67 367.65L439.29 365.92L439.55 364.3L440.27 363.12L441.06 362.29L441.69 361.44L442.27 360.35L443.03 359.23L444.1 358.53L445.36 358.6L446.59 359.41L447.63 360.71L448.44 362.26L448.97 363.94zM449.82 398.6L449.67 399.1L449.6 399.61L449.47 400.17L449.14 400.66L448.62 400.93L448.03 400.94L447.5 400.82L447.01 400.75L446.48 400.71L445.93 400.57L445.49 400.2L445.31 399.66L445.35 399.09L445.43 398.6L445.38 398.12L445.25 397.52L445.29 396.83L445.65 396.29L446.3 396.1L446.97 396.29L447.5 396.6L447.92 396.77L448.39 396.75L449 396.72L449.59 396.94L449.94 397.42L449.97 398.04zM377.06 489.46L376.69 490.04L376.24 490.61L375.66 491.12L374.87 491.45L373.92 491.42L373.01 491.01L372.29 490.4L371.73 489.81L371.17 489.33L370.49 488.86L369.81 488.25L369.39 487.49L369.42 486.72L369.84 486.09L370.42 485.63L370.97 485.21L371.53 484.76L372.21 484.36L373.08 484.21L374.02 484.42L374.83 484.94L375.45 485.57L375.96 486.18L376.47 486.75L376.94 487.38L377.25 488.09L377.28 488.8zM416.66 491.4L415.93 492.89L415.62 494.32L415.58 496L415.04 497.95L413.4 499.73L410.76 500.75L407.82 500.78L405.27 500.13L403.2 499.37L401.25 498.78L399.17 498.24L397.19 497.37L395.84 496.03L395.42 494.39L395.77 492.69L396.51 491.06L397.49 489.48L398.86 487.96L400.79 486.69L403.17 485.87L405.68 485.54L408.13 485.48L410.57 485.54L413.06 485.81L415.35 486.56L416.86 487.92L417.21 489.67zM401.56 499L401.22 499.92L400.72 500.7L400.25 501.43L399.78 502.24L399.17 503.09L398.28 503.75L397.2 503.99L396.12 503.72L395.24 503.08L394.58 502.28L394.1 501.47L393.74 500.67L393.49 499.85L393.38 499L393.39 498.13L393.5 497.22L393.74 496.24L394.23 495.27L395.04 494.51L396.1 494.17L397.2 494.34L398.15 494.85L398.91 495.46L399.6 495.99L400.34 496.49L401.06 497.14L401.52 498.01zM396.47 503.35L396.59 504.2L396.37 504.95L396.06 505.5L395.9 506.02L395.89 506.7L395.83 507.53L395.51 508.26L394.89 508.58L394.14 508.39L393.47 507.84L392.94 507.21L392.51 506.65L392.09 506.14L391.69 505.59L391.36 504.95L391.15 504.24L391.05 503.5L391.05 502.74L391.21 502L391.61 501.43L392.21 501.2L392.9 501.32L393.53 501.64L394.08 501.92L394.63 502.07L395.29 502.24L395.98 502.64z"/>
<path stroke="#f5ec9c" d="M443.6 358.5h0m-81.2 2.3h0m.3 .5h0m.4-1.4h0m0 1.2h0m.1-.1h0m.2-.6h0m1-.3h0m64.5 .9h0m.5 .1h0m.1-.9h0m.8-.5h0m1.8 1.6h0m.1-1.4h0m1.2-.2h0m.6 .4h0m.1 .2h0m0-.2h0m.5 .7h0m.5 .6h0m.3-.5h0m5.2 .6h0m.8-.8h0m.2-1.9h0m0 2h0m.1-.4h0m.2 .8h0m.2 0h0m.4-.5h0m0 .1h0m.3 .2h0m0-1h0m.1-1.2h0m.1 .4h0m0 .7h0m.2 .5h0m.2 .1h0m.3-1.6h0m.8 .8h0m.6 .6h0m.3-1h0m0 2.1h0m.5-.8h0m.3-1.7h0m.1 1.5h0m.1 .1h0m.7-.7h0m.6-.3h0m.2-.1h0m0 .4h0m-87 4h0m.3 0h0m.2-1.3h0m.2 .3h0m0 1.1h0m.1-2.4h0m0 2.9h0m.2-.6h0m.4 .1h0m.6 .5h0m.5-2.2h0m.4 1.3h0m64.7 .1h0m.5-.7h0m.5 .9h0m.2 .2h0m.1 0h0m.1-1.4h0m.5 0h0m.1 1.6h0m1-2h0m.6 .6h0m.2 .4h0m.2 .2h0m.4-.8h0m.1-.2h0m.1 1.5h0m.2-.8h0m.2 1.4h0m.1-1.2h0m.3 .5h0m.1-.5h0m.1-.3h0m0-.7h0m.6-.4h0m0 1h0m.4-.7h0m.2 2.1h0m0-.4h0m.1 .2h0m.4-1.3h0m.1 .5h0m.2 .1h0m.5 0h0m0-.5h0m.2-.1h0m.1-1.1h0m.1 2.1h0m.4-2h0m1.6 1.9h0m.2 .2h0m.6-.9h0m0 1.2h0m.4-.9h0m.7 1.1h0m.3-.4h0m.1-2h0m0-.1h0m0 .6h0m.1-.7h0m0 2.4h0m.2-1h0m.2-1.6h0m.1 2h0m.3-1.6h0m0 .4h0m0-.3h0m.2 .8h0m.1 1.2h0m.1-.7h0m.2-.2h0m.2-.8h0m.2-.5h0m0 1.9h0m.2-1h0m.1 .2h0m.1 .9h0m.5 .2h0m.1-2.6h0m0 .9h0m2.3 .1h0m0-.4h0m.1 2.1h0m.2-1.9h0m1.2 2.2h0m.5-.9h0m.3 .5h0m1.1-.7h0m-90.8 2.9h0m.5 .2h0m.4-1.1h0m.5 .7h0m0 .1h0m0 1.3h0m.3-1h0m.4-1.3h0m.4 .6h0m.2 1.1h0m.9-1.2h0m.2-.8h0m0 1.5h0m.1 .7h0m0-.8h0m.1-.5h0m0-.3h0m.2 1.9h0m.2-2.4h0m0 2.2h0m.1-2h0m24.6 1.5h0m1.5 .4h0m4.2 .1h0m35.3-2.6h0m.9 .2h0m.1 .1h0m.5 2.1h0m.2-.2h0m.2-.3h0m.4-1.7h0m.1 2h0m0 .5h0m.2-1.9h0m.2 1.6h0m0-.5h0m.4-.4h0m0-.7h0m.1 1.7h0m0-2.3h0m.2 2.6h0m0-.1h0m.7-1.5h0m.6 1.4h0m.1-2.1h0m.1 1h0m.3-1.2h0m.1-.3h0m1.3 2.8h0m.1-1.9h0m.3 0h0m1.2 1.5h0m.9-.4h0m.1 .7h0m.6-1.1h0m.1-1.7h0m.7 1h0m.1 1.6h0m.1-1.4h0m.1-.8h0m.2 2h0m.2-2.4h0m.4 .4h0m.3 .4h0m.1 .1h0m.1 .9h0m0-1.1h0m.1-.2h0m.5 .2h0m.2 2.3h0m.7-1.6h0m.3-.1h0m.1 .5h0m0-1.1h0m.2 2.1h0m1-1.1h0m.4 1.1h0m.2 .2h0m.2-1.8h0m.4 .2h0m.3-.8h0m.1 .1h0m.1 1.2h0m.5-.4h0m.5-1.4h0m.1 2.2h0m.3 .2h0m.2-1.6h0m.1-.4h0m.2 .3h0m.6 1.1h0m.1-.4h0m.2-.3h0m.1-.7h0m1.5 0h0m-92.3 5.4h0m.1-1.4h0m.5 1.1h0m.1-.4h0m.2-1.8h0m.3 1.1h0m0 .8h0m.1 .1h0m.1-.1h0m.5-2.1h0m0 2.7h0m0-1.9h0m0 .9h0m.1-1.7h0m0 2.3h0m.4-1.8h0m.3 .1h0m0 1.6h0m.1-1.2h0m.3-1.2h0m.1 1.4h0m0 .9h0m.1-1.3h0m.2 .3h0m0-.7h0m.2 .2h0m0 .8h0m.1 1.2h0m0-2.4h0m.2 1h0m0-.7h0m.2 1h0m.2-.5h0m.1-1.1h0m.1 1.8h0m0-.2h0m.2 .4h0m0-1.1h0m.3-.9h0m14.5 2.9h0m2.2-.8h0m9.6 .6h0m1-.7h0m2-.8h0m38-1.2h0m.7 .2h0m.3 .5h0m1.2 .7h0m1.4-1h0m.6 1.4h0m.9-1.3h0m.9-.2h0m.2 0h0m2.6 .8h0m.3 .1h0m.1-.8h0m.7 1.6h0m0 .5h0m.2-1.9h0m0 2.2h0m.1-1.5h0m.4 .2h0m.1 .2h0m0-.3h0m.4 1.4h0m.3-.8h0m.1 0h0m.1-.1h0m0-1.1h0m.3 1.2h0m0-.8h0m.2 1.4h0m.3-1.9h0m.3 1.5h0m.2-1.1h0m.1 .8h0m.5-1.3h0m.1 1.3h0m.2-1.3h0m.2-.5h0m.1 1.6h0m.5-1.1h0m.1-.5h0m.2 2.6h0m0-2.4h0m.4 1h0m.2-1.2h0m.2 .8h0m.1 .8h0m.2-1.3h0m.3 .3h0m.2 .6h0m0 .5h0m.1 .5h0m.3-1.9h0m.2 2.2h0m0-1.9h0m0 1.5h0m.1-.3h0m.2-1.2h0m0 1.9h0m0-2.6h0m0 1.6h0m.1-.1h0m.4-.2h0m0-.1h0m1.1-1.1h0m-97.3 5.6h0m1.2-.6h0m1.4 .6h0m1.6-.1h0m.1-.1h0m1-2.3h0m1.1 0h0m.1 1h0m.2 1.6h0m.1-.4h0m.2-1.5h0m.1 1.9h0m.3-.3h0m.3-1.3h0m.1 1.6h0m.1-1.3h0m.1 0h0m.5-1.1h0m.2 1.9h0m.3-1.8h0m0 .8h0m.1 .7h0m.2-.8h0m0 .8h0m.1-1.2h0m.6-.7h0m14.7 2.1h0m.3 .1h0m.4-.7h0m.1 .9h0m.2-.5h0m.2 .1h0m.1-1.6h0m0-.2h0m.2 .6h0m.4 .9h0m.3-1.2h0m.2-.4h0m0 1.4h0m.6 .8h0m1-.9h0m2.5-.1h0m.2-.2h0m.7-.8h0m.3 1.7h0m.3-1.3h0m.1 1.1h0m.2-.4h0m.7-1.2h0m.1 1.8h0m.4-1.3h0m1 2.1h0m.7-1h0m.5-.7h0m.5 .2h0m1.6 1.5h0m2.3-2.2h0m48.1-.2h0m.8 2.1h0m0 .1h0m0 0h0m.9-1.1h0m1-.1h0m.2 .8h0m.4-1.2h0m.1 1.4h0m.4-.1h0m.1-.1h0m.5 .2h0m.4-1.3h0m0-.3h0m.5 .4h0m.3-.4h0m.2-.6h0m.5 .2h0m.2-.1h0m.1 .1h0m.4 1h0m-124.8 2.5h0m4.5 1.9h0m.3-.8h0m.2-.1h0m.4 .1h0m.2 .8h0m.6-1h0m.1-1.5h0m.5 1.1h0m.1 .6h0m.4-.5h0m.5 .8h0m.5 .5h0m.3-1.3h0m0-.2h0m1.5 1.2h0m.4-.5h0m.1-.1h0m0-.2h0m.4 .7h0m0-.8h0m.2 1h0m0-1.1h0m.1 .5h0m.3 .1h0m.2-.2h0m.8 .4h0m0 .3h0m.1-.5h0m.3 .6h0m0-.8h0m.1-.1h0m.1-.1h0m0 .5h0m0 .3h0m.1-.4h0m.8-.6h0m.1 .3h0m.8 .3h0m0 .6h0m.2-.6h0m.1-.9h0m.2 1.3h0m.4-.9h0m.2 .1h0m.2 .6h0m0-.6h0m.8 0h0m.5 .1h0m.1 .9h0m.1 0h0m.2-1.3h0m.3 1.1h0m.1-1.8h0m0 1.9h0m0-.3h0m.1-.6h0m.5-.2h0m.6 .4h0m.4-.1h0m.4-1.1h0m.9 1.2h0m6.7-.1h0m0 .9h0m.3 0h0m.2-1.7h0m.9 1.2h0m.2-.4h0m0-1.3h0m.2-.2h0m.1 1.6h0m.3-.8h0m0 1h0m.3-.6h0m.4 .2h0m.1-.9h0m.2-.6h0m.2 1.5h0m.2-.4h0m.2 .3h0m0-1.2h0m.1 2.1h0m.4 0h0m.5-2.1h0m.4 .5h0m.3 .8h0m.9-1.1h0m.1-.7h0m.5 2.3h0m.1-1.1h0m.3 1.6h0m.1 .1h0m0-2.7h0m.1 2.4h0m.3-1h0m0-.4h0m.1 .3h0m0 1.3h0m.2-.1h0m.7-1.6h0m0 .6h0m.1 .1h0m.5 .3h0m11.8 .6h0m1-.1h0m.2-1.5h0m.2 1.2h0m.5-1.1h0m.6-.4h0m.6 .4h0m0 .6h0m.2 0h0m.3 .8h0m0-.8h0m.1 .6h0m.4-.4h0m.3-.2h0m0 .5h0m.3-.7h0m1.1-1.3h0m.2 .5h0m.5 .4h0m0 1.7h0m.9-1.5h0m1.3 1.2h0m0-2h0m.4-.1h0m.7 .6h0m1.2 1.1h0m.9-1.1h0m1.3 .5h0m.3 .1h0m.6-.9h0m.4 1.6h0m.2-.9h0m.8-1.4h0m1.1 1h0m.6-.2h0m1.3-.6h0m3.6-.3h0m47.7 .9h0m.5 0h0m.9-1h0m.2 .7h0m.6-.3h0m.1-.2h0m0 1.9h0m.6-2h0m.2 2.6h0m1 0h0m.1 .3h0m.2-.3h0m.4-1.8h0m.1 1.2h0m0-1.6h0m.1 2.5h0m.5-2.3h0m.3-.5h0m-121.4 3.7h0m.3 1.1h0m.1 .6h0m.2-2.1h0m.1-.3h0m.7 .4h0m.8-.4h0m0 1.6h0m.3-.4h0m.2-.8h0m.7 .5h0m.4 .1h0m0-1.2h0m0 1.9h0m.7 .1h0m.4-1.4h0m.1 1.4h0m.7-.3h0m.2-1.1h0m.1-.2h0m0 1h0m0-.6h0m.2-.2h0m.2 .3h0m.6 .9h0m.1-1.6h0m.3 .8h0m.3 1.4h0m.1-.7h0m.1-.9h0m.2 .1h0m.2 .4h0m.1 1.3h0m.2 .1h0m.2-.3h0m0-1.7h0m.2 .4h0m0-.2h0m.1 .7h0m.1-.6h0m.2 1.6h0m0-2.6h0m.2 1.5h0m.1 .6h0m.1 .7h0m0-1h0m.2-1.7h0m.2 0h0m0 1.5h0m0-.7h0m.1-.3h0m.2-.4h0m.2 .9h0m.2 1.5h0m.2-1.2h0m0-.3h0m.1 1.8h0m.1-1.3h0m0-1.3h0m.1 .1h0m.5-.4h0m.1 1.2h0m.2-.3h0m.2 .6h0m0-.4h0m.4 .4h0m.1 .1h0m.1 .1h0m.2 .1h0m.5 .4h0m.4-.9h0m.1-.3h0m0 .1h0m0 .3h0m.1 1.4h0m.3-1.2h0m.1 .9h0m.3 .1h0m.1-.7h0m0-.5h0m.7-.4h0m.1-.9h0m.6 2.1h0m.3 .7h0m0-.7h0m.1-.9h0m.2 .2h0m.2 1.2h0m.2-.6h0m.7 .6h0m.2 .1h0m.3-1.6h0m.1-.8h0m0 1.6h0m4.2-.9h0m.1 1.6h0m.3-1.7h0m.2 1.1h0m.1-2h0m.1 2.7h0m.1-.5h0m.7-1.4h0m.3-.9h0m.1 1.4h0m.1-.3h0m.2 1.7h0m.3-2h0m.2 .7h0m.2 .6h0m.5 .4h0m0 .4h0m.1-.4h0m.2 .2h0m0-.2h0m.7-.2h0m0-1.1h0m.1 1.7h0m.2-2.8h0m0 1.7h0m.1-.2h0m.2 .5h0m.2-2h0m0 1.1h0m0 .3h0m0 .6h0m.1-.6h0m.3 .7h0m.2 .4h0m0-2.4h0m.3 .4h0m0 2.1h0m.1-2h0m.2-.3h0m0 1.1h0m.1-1.4h0m.1 .3h0m0-.1h0m.1 2.6h0m.4-1.8h0m.1 1h0m.3-1.9h0m.4 2.7h0m.2-.3h0m.1-.1h0m.5-1.3h0m.2 .9h0m0-2.1h0m.1 .3h0m.3 .5h0m0 .7h0m.1-.8h0m0-.4h0m.5 .9h0m.2 0h0m0 .8h0m.6 .1h0m.1-.7h0m.1 .6h0m.1-.8h0m0 .7h0m.1-.4h0m.3-1.1h0m.3 1.6h0m0 .3h0m.3-1h0m2 1.6h0m5.8-.9h0m1 .9h0m.1-.5h0m.1-.9h0m.2 .1h0m.4-1.4h0m.1 1.9h0m.1-.1h0m.2-1.2h0m.2 1.8h0m.2-1.3h0m.3 1.6h0m.1-1.2h0m.1 .7h0m.1 0h0m.2 .4h0m.6-.6h0m.6-1.6h0m.2 .6h0m.1 .7h0m.1-.1h0m.3-.5h0m.4 .6h0m.2-.8h0m.4-.2h0m.1 1.6h0m.2-.9h0m.1-1.4h0m0 2.6h0m.3-.7h0m.1-.5h0m.3 .5h0m.1-1h0m.2-.6h0m0 .6h0m.3 1.4h0m.1-2.5h0m.1 1.7h0m.1 1.3h0m.4-2.1h0m0 .1h0m.1-.6h0m0 .9h0m.2 1.4h0m.1-.2h0m.2-.8h0m.2 1.1h0m.1-.5h0m.2 .3h0m.2 .1h0m.4-1.9h0m0 1.7h0m.4-1.4h0m.1 .9h0m.6-1.4h0m.6 1.6h0m.2-.6h0m1.3 1.2h0m1.2-1.4h0m1 1.1h0m.3 .2h0m.1-2.1h0m.5 1.1h0m.1 1.1h0m.4-.5h0m.4-.8h0m.1 .1h0m1.3 .7h0m.5-.1h0m1.8-.7h0m.1 .3h0m1.8 .8h0m52.4-2.6h0m.3 .3h0m-119.1 4.6h0m.4-1.3h0m.4 2.1h0m.3-.9h0m.3 .3h0m.1-1.2h0m.3 .7h0m0-1h0m.1-.5h0m.3 2h0m0-.2h0m.1 .7h0m.1-.6h0m.4-1h0m0 1.8h0m0-.8h0m.3-1.5h0m.2 .2h0m.1-.5h0m.1 .6h0m0 .4h0m.3 .6h0m.1-1.5h0m.1 1.6h0m.1-1.6h0m.2 2.1h0m.2-1.8h0m0 1.9h0m.1 .3h0m0-.6h0m.2 .6h0m.9-1.7h0m.1-.8h0m.1 .7h0m0 .3h0m.1 .1h0m0-.4h0m.1 .8h0m.2-.9h0m.1 1.8h0m0-1.9h0m.1 1.1h0m.2-1.5h0m.1-.1h0m.4 1h0m.1 .1h0m.6-.7h0m.1-.3h0m.5 .8h0m.2 .3h0m.2-.2h0m.2 1.3h0m.1 0h0m0 .3h0m.1-2.5h0m0 .2h0m.2 1.1h0m0-1.1h0m.3 2.2h0m0-2.6h0m0 0h0m.2 2.7h0m.3-.6h0m.1-.4h0m0-1.3h0m.2 2.3h0m.2-2.5h0m.3 1.7h0m.2 .2h0m.4-1.7h0m.2 1.7h0m.2 .4h0m0-1.1h0m.3 .3h0m.3-1h0m.2 .7h0m.2-.5h0m.3-.4h0m.3 1.6h0m.1-.9h0m0-.3h0m.1 .2h0m.2-.3h0m0 1.5h0m.1-2.1h0m.3 1.1h0m.4-.1h0m.1 .9h0m0-.6h0m.4-.2h0m0 .7h0m0 .6h0m.1-1h0m0-.6h0m.1 1.7h0m.2-.3h0m0-1.1h0m.1 .5h0m.7-.3h0m.1-.7h0m.1 1h0m.1 0h0m0-2h0m.1 1.1h0m0 .4h0m.5 1.4h0m0-1.2h0m.2 .4h0m.2 .6h0m.2-.4h0m1.1-1.2h0m.9 0h0m2.2-.5h0m.2 1.6h0m.2 .7h0m.1-.4h0m.1-1.1h0m.3-.6h0m.3-.3h0m.3 2.3h0m.3-.4h0m.1-1.7h0m.3 .7h0m.7 .8h0m.1-.2h0m0-.5h0m0 .7h0m0 .2h0m.3-.9h0m.1 1.1h0m0-.7h0m.2 .1h0m.2 .4h0m.1-.8h0m.1-.5h0m.1 .8h0m.1-1.7h0m.1 2.1h0m.8-.7h0m0 .9h0m.2 .3h0m0-.5h0m.3-1.6h0m.3 .5h0m.5 .2h0m.1 .6h0m.2 .3h0m.8-.5h0m.5-1.7h0m.2 .7h0m.1 .2h0m.1 1.2h0m.1-.6h0m.1-1.5h0m0 1.8h0m0 .2h0m0 .9h0m.2-2.5h0m.1 1.4h0m0 .6h0m0-2.1h0m0 .3h0m.1-.2h0m.2 1.7h0m0-1.6h0m.4 1.4h0m.1-.2h0m.1 .9h0m.3-1.8h0m0-.3h0m0 2.3h0m.1-1h0m.1-.5h0m.1 .5h0m0-.4h0m.2-.7h0m.6 .1h0m.1 .8h0m0 .6h0m0 .6h0m.1-1.7h0m0 1h0m.2 .5h0m0-.8h0m0-1.3h0m0-.3h0m.1 1.4h0m.1-1h0m0 2.2h0m.1-.5h0m.1-.1h0m0-2.2h0m.6 1.8h0m.3 .4h0m.2-1.8h0m.2 1.3h0m.1-.3h0m.3 1.2h0m0-.8h0m.4 0h0m0-.7h0m.1 1.7h0m0-1.8h0m.2 .2h0m.5 .4h0m.2 1.2h0m.2-.7h0m.2 .7h0m.4-.7h0m.2 .5h0m0-1.5h0m.8 1.7h0m.8-1h0m.3-1.1h0m.3 1h0m0 .6h0m.9 .5h0m.9-2.7h0m0 2.4h0m.5-1.8h0m.4 0h0m.5 .2h0m.1-.5h0m0 2.2h0m.5-.3h0m0 .3h0m.4-2.4h0m.5 2.7h0m.1-1.8h0m0 1.3h0m0-1.5h0m.1 .4h0m.3 .1h0m.1 .8h0m.1-.1h0m.1 .6h0m0-2.4h0m0 2.5h0m0-2.2h0m0 .8h0m.3 .3h0m0 .7h0m.3-.6h0m.3-.3h0m.3-.9h0m0 1.3h0m.3-.3h0m.1-.6h0m.1 .2h0m.3-1h0m.4 .6h0m.2 1.7h0m.5-1.9h0m.1 .1h0m.1 .6h0m.2 .5h0m.3-.6h0m.4 1.7h0m.4-1.2h0m0 .9h0m.4-2.1h0m.4 1.1h0m0 1.1h0m.2-1.5h0m.4 0h0m.1-1.2h0m.1 2h0m.3 .1h0m.2-.8h0m.4 1.3h0m.7-.5h0m.2-2.2h0m.3 1.2h0m0 1.2h0m.8 .3h0m.4-2.6h0m.6 2.8h0m.9 0h0m.5-.4h0m.6-.1h0m.3-1.3h0m.3 .4h0m0 .6h0m.1-.2h0m0-.1h0m.1 .3h0m.5 0h0m.4-1h0m.2 .8h0m0-.7h0m.1 .6h0m0 .7h0m.1-2.4h0m0 2.6h0m.1 .1h0m.3-.7h0m.1 .3h0m.1-.7h0m.3-.4h0m.6 1.1h0m.1-1.9h0m.1 1.6h0m.1-1.8h0m0 1.8h0m.2-1.5h0m.1 2.3h0m.5-1.4h0m0-1.3h0m.8 .5h0m0 2h0m.2-2.6h0m.3 2.5h0m.4-1.1h0m.5-.9h0m.2 .5h0m.1 1.6h0m.8-.8h0m.1-.3h0m-67 3.4h0m.8-.5h0m.1-.5h0m.3-.7h0m.4 2.3h0m.1-1.7h0m.1-.5h0m.1 .6h0m.1 2h0m0-.6h0m0-2.3h0m.4 2.5h0m.6-1.7h0m.2-.5h0m.1 .8h0m.2-.1h0m.7 0h0m.1 .4h0m0-1.3h0m.1 2.8h0m.1-.7h0m.4-1.8h0m.2 .7h0m.3 1.4h0m0-1.6h0m.4-.9h0m.4 2.1h0m.2-.6h0m.1 .2h0m.1-.4h0m.4 1.4h0m0-2.7h0m.1 2.1h0m.1-.5h0m.3 .7h0m.3-.1h0m.1 .5h0m.4-2.7h0m.3 .6h0m.4 1.4h0m.1-2.1h0m.1 2.6h0m0 .1h0m.4-1.2h0m.2-.6h0m.1-.8h0m0 .2h0m0 1.2h0m.1-1.4h0m.2 2.4h0m.1-.5h0m0-1.4h0m.2 1.2h0m.1 .4h0m0-.9h0m.2 1.7h0m0-1.2h0m0-1.3h0m.1 1h0m.2 .9h0m.2-2.2h0m0 .7h0m0 .4h0m.4 1.7h0m.2-1.2h0m0-.3h0m0 1.4h0m.2-.3h0m.1-.7h0m.1-.1h0m.6-.5h0m.3 1.5h0m.1-1.5h0m.1 0h0m.1-.5h0m.2 1.3h0m0-1.4h0m.1 1.6h0m.1-1.9h0m.1 1.5h0m.2 .1h0m.1-1.1h0m.4 1.1h0m0 .1h0m.2 .3h0m.1 .4h0m.1-2h0m.5 1.7h0m.1-.8h0m.1 .4h0m.2-1.1h0m.1 1.8h0m.1-1.8h0m.3-.6h0m.1-.1h0m.2 .5h0m.3 .7h0m0 .4h0m.7-1h0m.1-.8h0m5 2.1h0m.4 .4h0m.1-2.6h0m.6 .1h0m0 1.1h0m.1 .3h0m.5-.1h0m.1-.4h0m.4 .5h0m.2-.7h0m0 1.1h0m.1 .8h0m0 .1h0m.1-2.4h0m0 1.6h0m.1-.7h0m.2 .2h0m.2 .6h0m.1-1.3h0m0-.7h0m.2 2h0m.2-1.1h0m.1-.4h0m.1 1h0m0 .5h0m.1-1h0m.1 1.7h0m.1-2.3h0m.1 1.7h0m.1 .3h0m.2-1.2h0m0-.4h0m.1-.6h0m0 1h0m0-.5h0m.2 .1h0m.2 1h0m.1-1.7h0m.1 .4h0m0 0h0m.2 1.7h0m0-2.3h0m.1 2.7h0m.1 0h0m.2 .1h0m.1-1.6h0m.2-.4h0m.2 .1h0m.5-.5h0m.1 1.2h0m0 .5h0m.2-.1h0m.1 .4h0m0-1.9h0m.1 2.1h0m0-.8h0m.2-.7h0m.2-.4h0m0 1.8h0m.1-2.1h0m0 .7h0m.1-.6h0m0 .3h0m.2 1h0m.1 .6h0m.5 .4h0m.1-2.6h0m0 0h0m.2 1.3h0m.1 .9h0m0-2h0m0 2.3h0m.1 .2h0m0-2h0m.1 1.5h0m.2-2.3h0m0 .1h0m.1 2h0m0-1.2h0m.1 2h0m0-1.7h0m.2 1.4h0m0-2h0m.1 .5h0m0-.3h0m.1 .7h0m.1-.7h0m0 .8h0m0-1.5h0m.1 1.9h0m.3-.6h0m0 .2h0m.4-.3h0m0-.8h0m.1 1.9h0m0-.3h0m.1-1.1h0m.1 1.4h0m.1 .4h0m.1-1h0m0-.9h0m0 1h0m0-.8h0m.3-.1h0m.1-.8h0m0-.2h0m.1 .7h0m0 .6h0m.2 .5h0m0-1.7h0m.1 2.1h0m0 .6h0m.3-2.9h0m.4 2.9h0m.1-2.3h0m0 0h0m.1 1.9h0m.1 .1h0m.4-2.6h0m0 1.8h0m.2 1.1h0m.1 .1h0m.2-.1h0m.3-.5h0m.1-.8h0m.1 .4h0m.4 .8h0m.7-1.2h0m.1 1h0m.3-1.3h0m.4 1.5h0m.1-1.9h0m.1 .6h0m0-.5h0m.1-.7h0m.1 2.3h0m0-.9h0m.3-1.5h0m0 .9h0m1.2-.5h0m.3-.1h0m.2 .3h0m0 1.3h0m.2 .1h0m.3-.9h0m0-1h0m.2 1.5h0m.1-.1h0m.1 .3h0m.1-1.2h0m.1-.3h0m0-.5h0m.1 3h0m0-1h0m0-1.4h0m.1 .7h0m.1 .3h0m0 0h0m.2 1.1h0m.2-2.2h0m.4-.1h0m0 2.5h0m0-.3h0m.1-1h0m.3 .8h0m.2-1.1h0m.1 .7h0m.3 .4h0m.3-.6h0m0 .2h0m.1-1.5h0m.6 .2h0m.2 .5h0m.6-1.2h0m.1 2.9h0m.2-2.1h0m.1 .9h0m.2-1.5h0m.3 2.3h0m.1-.7h0m.2-1.4h0m.5-.2h0m.1 0h0m.1-.1h0m.2 2.5h0m.1-.4h0m.8-1.4h0m.2 1h0m.1 1h0m.3-.2h0m0-1.1h0m.5 .4h0m.5-.4h0m0-.6h0m.1 1.5h0m.1 .5h0m.2-.4h0m0-2.1h0m.2 .6h0m.1 .9h0m0 .4h0m0 .3h0m0-2.4h0m.4 .3h0m.4 2h0m.5-1h0m.1 .9h0m.2-1.7h0m.1 1.4h0m.1 .2h0m.2-1.5h0m.1-.5h0m.2 .2h0m.1-.2h0m.2 1.3h0m.1 1h0m.3-1.2h0m1-.8h0m.1 1.1h0m.3 .6h0m.2-.9h0m.1 1.4h0m0-.5h0m.4-2.3h0m.1 2.7h0m.6-1.1h0m.4 .3h0m.1-.8h0m.5-.4h0m.3 1.3h0m.4 .2h0m.9-1.6h0m0 2.3h0m.2-1.6h0m.1 1.4h0m.4-1h0m0 .9h0m.2-.2h0m.1-1.8h0m.5 1.8h0m.2-1.9h0m0 1.8h0m.6 .3h0m.1 .1h0m.3-.6h0m.1-.2h0m.1 .5h0m1 .6h0m.1-2.1h0m.1 1h0m.4 .2h0m.5-1.7h0m.8 2.2h0m.1-.5h0m.3-.8h0m.2 1.4h0m.3-1.5h0m.4-.8h0m.1 1.4h0m.8 1h0m0-1.7h0m.2 1h0m.1 .7h0m.5-2.6h0m.2 2.5h0m.4 0h0m9.6-.6h0m.7-1h0m.2 .7h0m.4-.1h0m.2-.8h0m.3 .1h0m.4 .3h0m0 .2h0m.4-1.2h0m.7 2.4h0m.9-1.4h0m.1 .2h0m.6 1h0m.1-.8h0m.1-.4h0m0 1h0m0 .1h0m.1-.9h0m0-.5h0m.3 1h0m.2 .4h0m.1 .3h0m0-.1h0m0 .4h0m.2-1h0m.1-.8h0m0 .7h0m.2-.1h0m.1-.1h0m.4 1.3h0m.1-1.4h0m.5 .8h0m.5-.9h0m.1 .5h0m1-.7h0m.1 1.5h0m.4-1.3h0m.3 1h0m-88.9 .8h0m.9 .4h0m.2 1.1h0m0-1.5h0m.2-.1h0m.8 .2h0m.2 .6h0m.1 .1h0m.2 .2h0m0 1.4h0m.7-1.3h0m.5-.4h0m.1 1.4h0m.1-.1h0m1.3-1.1h0m.2 1.5h0m.5-1.1h0m.3 .5h0m.4 .7h0m.1-.2h0m0 .1h0m.2-1.3h0m.2 1.2h0m.3-1.9h0m.2 1.6h0m0-1.2h0m.1 1.3h0m.9-2h0m.2-.4h0m.2 0h0m.2 2.6h0m.3-1.2h0m.1 .7h0m.4-1.3h0m.2 .6h0m0 .3h0m.2-1.4h0m.1 .3h0m.6 .4h0m.6 .8h0m.2-.8h0m.2 .8h0m0 .5h0m.2-.8h0m.7-.7h0m0 .7h0m.7-.4h0m.6-.5h0m.1-.1h0m.4-.2h0m7.9 .1h0m1.1 2h0m.4-1.2h0m.1 1.3h0m.2 0h0m.2-.4h0m0-1.4h0m.1-.5h0m.3 .7h0m.1-.9h0m.1 .8h0m.1 .3h0m0-.8h0m0 1.7h0m.3-1.8h0m0 2.2h0m0 0h0m.3-2.1h0m0 .3h0m.2 .1h0m0 .8h0m0-.2h0m.2 1.6h0m0-.5h0m.1-.9h0m.1 1.4h0m.1-1.1h0m.4-1.8h0m.1 1.8h0m.4 .7h0m0-2h0m.1 .5h0m.1 1.1h0m.3 .2h0m0 .2h0m.2-1.3h0m.3-.1h0m0 1.3h0m.2 .2h0m.2-.6h0m0 .7h0m.1-.2h0m.1-1.8h0m.1 2.1h0m.1-2.3h0m.1 1.2h0m.2 .1h0m0 1h0m.2-1.6h0m.1 .8h0m0-1.4h0m.1 1h0m0 .4h0m.2 .5h0m.1-1.7h0m0 .2h0m0-.2h0m.3-.6h0m.1 1h0m.1 .7h0m0-.6h0m.1-.6h0m0 .5h0m0 1.5h0m.3 .3h0m.1-.9h0m0-.5h0m.1 1.2h0m0-.7h0m.1-1.7h0m.1 .3h0m0-.7h0m.1 .4h0m0 .2h0m.2 2.3h0m0-2.4h0m.8 1.9h0m.1-.8h0m.2-.1h0m.2 .7h0m.1-.5h0m.1 .5h0m.1-.4h0m.1-1.4h0m.1 1.6h0m.1 .1h0m.2 .6h0m.5-.4h0m.1-.9h0m0 .3h0m.2 .5h0m.2-1.9h0m.3 .2h0m.1 1.8h0m.1-1.6h0m.1 .5h0m.2-1.1h0m.3 .5h0m.1 .3h0m0 .3h0m.2 .2h0m0-.3h0m.3-.3h0m.1 .7h0m.2-1.1h0m.2 .8h0m.1 1.8h0m.1-.2h0m.2-.9h0m0-1.1h0m.3-.3h0m.2 2.3h0m.2-1.3h0m.3 .1h0m0-.6h0m.1 1.2h0m.1-1.3h0m.4 1.6h0m.1-.3h0m0-1.5h0m0 1.8h0m.2-1.1h0m.4 1.5h0m.2-1h0m.5-1.4h0m0 1.7h0m.3-.8h0m.2-1.4h0m.1 2.3h0m.1-.1h0m.1-1.2h0m.4 1.4h0m.1 .4h0m.2-2.3h0m.1-.3h0m.1 1.4h0m.1 .8h0m.4-1.4h0m.1-.7h0m.1 .3h0m.2-.5h0m0 .8h0m.1 1.5h0m.5-2.1h0m.2 .1h0m.3 1.7h0m.1 .8h0m.1-1.5h0m.4-.9h0m0-.2h0m.3 0h0m0 .2h0m.1-.2h0m.1 .7h0m0 .8h0m.2-.7h0m.1-.6h0m.7 0h0m0 2h0m0-1.4h0m.2 .3h0m.1-.2h0m0-.2h0m.1 0h0m.2 .5h0m.1 .7h0m.3-.1h0m.1-.1h0m0-.2h0m0 .9h0m.4-.1h0m.2-2.3h0m0 2.1h0m.1-1.4h0m.3-1h0m.1 2.8h0m.2-1.9h0m.3 .3h0m.9 .8h0m0-1h0m.1-.4h0m.2-.3h0m.1 1.7h0m.4-.7h0m0-.8h0m.1 2.3h0m0-1h0m0 .1h0m.1-.8h0m.1 .4h0m0 .2h0m.3-1.6h0m.1 .7h0m.1 .3h0m.1 1.3h0m.1-2h0m.3 .8h0m.3-1h0m.1 2.7h0m.2-.5h0m.3-1.2h0m0-.1h0m0-.4h0m.2 .1h0m.2 .7h0m.1-1.2h0m.2 .8h0m0 1.3h0m.3-1h0m.3 .4h0m.1-1h0m0-.5h0m.3 0h0m.1-.2h0m.4 1.1h0m.1-.8h0m.1-.1h0m.2 1.9h0m.2-.8h0m.2-.2h0m.3 .4h0m.1-.1h0m.4 .6h0m.1-.3h0m.2-.9h0m.2-.2h0m.2 2.3h0m0-1.5h0m.2 1.2h0m.5-.6h0m.1-.6h0m.1 1h0m.2-1.8h0m0 .4h0m.5 1h0m.2-.1h0m.5-1.7h0m.1 1.7h0m.2-1.9h0m.2 2.2h0m0-1.3h0m.5-.4h0m.2 .2h0m.3 0h0m.1-.7h0m.3 .9h0m.1 1.5h0m0-.9h0m0-1.2h0m1.4 .8h0m.5-.6h0m.2 2.2h0m.4-2.4h0m.3-.1h0m.3 2.2h0m.4-2.4h0m0 2.6h0m.1-.3h0m.2 .5h0m.1-1.1h0m.3-1h0m.6 1.5h0m.5-1h0m.3-.7h0m.7 .4h0m.3 1.7h0m.1-1h0m.2 1.2h0m.6-2h0m.6-.3h0m2.3 .7h0m2.9 .5h0m1.1 .1h0m.2-1.2h0m1-.4h0m0 1.4h0m.2-.5h0m.1 .7h0m.1 .7h0m0 .2h0m.3-.1h0m.5-1.1h0m.2 1.1h0m.5 .2h0m0-1.8h0m.2 .7h0m.4-.9h0m.1 1.2h0m.3-2.1h0m.1 1.6h0m.1 1.3h0m.4-1.4h0m.1 .4h0m0 .2h0m.1 .9h0m.4-1.9h0m.5-.3h0m.2 0h0m.9 1.4h0m0-1.1h0m.1-.4h0m.1-.4h0m.2 1.3h0m.3 1h0m.3-2.3h0m.8 1.6h0m.2 .7h0m.6-2.5h0m.2 1.5h0m.2 .3h0m.1 .3h0m.1-1.1h0m.2 .1h0m.5 1.5h0m0-2h0m.4 .9h0m.2-1.6h0m0 0h0m.4 1.6h0m0-1.2h0m.2 1.7h0m.1-.9h0m.9-.5h0m.4 .2h0m.4-.5h0m.2 .4h0m-87.7 2.9h0m2.7-.7h0m0 .1h0m6 .6h0m13.3 0h0m.2 .1h0m.1 .9h0m.4-1.5h0m.2 .8h0m.1 1.1h0m0-1.7h0m.5 1h0m0 .9h0m.1 .2h0m0-1h0m0 1.3h0m.1-1.8h0m0 .3h0m0-1.3h0m.1 2.9h0m0-1.3h0m0-1.6h0m.1 2.5h0m.5 .1h0m0-1.1h0m.1-1.5h0m0 1.6h0m.1 0h0m0 .1h0m.1 .5h0m.1 .4h0m0-.7h0m.1-.1h0m.1-.9h0m0 1.6h0m.1-.8h0m.2-.8h0m.1 .7h0m0 .3h0m0-1.3h0m.1-.1h0m0 2.3h0m.3 .1h0m.2-2h0m0-.4h0m.1 1.3h0m.3-1.2h0m0 1.6h0m.1 .6h0m0-.9h0m.3 .3h0m0 .3h0m.4-.8h0m0-.1h0m.1 .6h0m.4 .4h0m.1-1h0m0 .5h0m.1 0h0m.1-1.9h0m.1 2.5h0m.2-.7h0m.1-.3h0m.5 .4h0m.1 .6h0m.7-.1h0m.6-1.1h0m.3 .7h0m.3-.6h0m0 0h0m.3-.2h0m0 1.2h0m0-.4h0m.2-1.5h0m0-.4h0m.5 2.2h0m.4-2.2h0m.3 2.4h0m.2-.6h0m.3-.1h0m.1-.4h0m.6 .2h0m.4-1.1h0m.4 .4h0m.2 .8h0m.1-1.6h0m.7 .3h0m.4 2.3h0m0-1.3h0m.1-.5h0m.2 .4h0m.1-.3h0m.1 1.1h0m0-.8h0m.3 .8h0m0-1.2h0m0 .2h0m.6-.3h0m.2-.2h0m.3 .8h0m.4 1h0m0 0h0m.3-1.6h0m0-.2h0m.3 .3h0m.1 1.7h0m0-1.8h0m.2-.4h0m.1 1.3h0m0 .2h0m.1-1.8h0m.1 2.3h0m0-.2h0m.1-1.8h0m0 .9h0m.2 .4h0m0-.8h0m.1 1.8h0m.4-.9h0m.4 .6h0m.2-2.1h0m.1 1h0m.3 1.5h0m.1-.2h0m.7-.8h0m1.2-.6h0m.3-1.2h0m.1 .3h0m.2 1.4h0m.1-1.8h0m.3 .9h0m.3-.2h0m.1 0h0m.1 1.3h0m.1-.3h0m0-.5h0m.1 .3h0m.1-1.6h0m.2 .5h0m.1 1.8h0m.1-.5h0m.3 .6h0m.1-2.3h0m.1 1.3h0m.2 1.1h0m0 .3h0m.1 0h0m.2-.6h0m.1 0h0m0-1.1h0m.3 .9h0m.1-.1h0m.1-1.7h0m0 2.3h0m.1-2.5h0m.5 1h0m.1-.2h0m.1 1.9h0m0-1.9h0m.3 1.5h0m0-1.9h0m.3 1.2h0m.1-1.1h0m.4 1.8h0m.1-.4h0m.2-1.1h0m0 0h0m.2 1.2h0m0 .2h0m0 .1h0m.3-1.1h0m.1-.6h0m.1 2.1h0m0-2.4h0m.3-.2h0m0 .9h0m0 .1h0m.2 1.7h0m0-.8h0m0 .5h0m.1-.5h0m0 .8h0m.2-2.5h0m0 1.9h0m.2-.1h0m0-.4h0m.1-1.1h0m.2 1.8h0m.1-1.4h0m.2-.3h0m0 2.2h0m.2-1.6h0m0 1.3h0m0-2.4h0m0 2h0m0 .3h0m0-2h0m0 2.2h0m.3-1.8h0m0 1.5h0m0-1.6h0m.3-.1h0m.3 2.2h0m0-.6h0m0 0h0m.2-1.1h0m.2 .1h0m.2-.6h0m.1 .1h0m.3 2h0m.3-1h0m.3 .1h0m.3-1.6h0m.1 2.4h0m.1 0h0m.3-.8h0m.1-.5h0m0-.3h0m.5-.7h0m.6 .2h0m.6 .1h0m.1 2h0m.5-1.4h0m0-.5h0m.4 1.8h0m.1-1.9h0m.5 .9h0m.3 1h0m.1-1h0m0 .7h0m0 .5h0m.2-.7h0m.4-.1h0m.1-1.3h0m.5 1.7h0m.2-1.6h0m.4 .4h0m1.5 .5h0m.2-1.5h0m.1 .2h0m.7 0h0m0 1.3h0m.2-1.6h0m0 1h0m.4 1.8h0m2-2.5h0m.7 .8h0m.8 .6h0m.9-.6h0m.3 1.2h0m6.4-2.2h0m.6-.2h0m1.4 .1h0m.1 .7h0m1.4 .2h0m.5 .2h0m.2-.8h0m.7 .1h0m.6 .6h0m.6-1h0m.3 .3h0m.3-.4h0m.8 .5h0m.5-.3h0m-60.1 3.6h0m.4 1.2h0m0-.2h0m.1-1.7h0m.1 2.8h0m.4-.4h0m.3-1.1h0m0 .3h0m.7-1.4h0m.3 .7h0m.3 .4h0m.2 1h0m.1-2.3h0m.5 1.8h0m.2-1.4h0m.1 2.2h0m0-.5h0m.4-.9h0m.3 1.5h0m0-2.5h0m0 1.2h0m.2-.3h0m.1 1.4h0m0-1.8h0m.1 .9h0m.1-.7h0m.2 .6h0m.1 0h0m.1 1.1h0m.1-1.9h0m.1 .4h0m.1 .3h0m.2 0h0m0-.4h0m.3-.1h0m0 1.5h0m.1-1.6h0m.1 .9h0m.1 .8h0m.2-.2h0m.2-1.1h0m.1 0h0m0 1.5h0m.7-.3h0m.1 .5h0m0-1.6h0m0-1h0m0 1.4h0m.1 1h0m0-2.1h0m0 .4h0m.1 .6h0m.3 .5h0m.1-.8h0m.4 .8h0m0-.9h0m.1-.7h0m0 .3h0m.1 .1h0m0 1.8h0m0-1.9h0m.1-.7h0m.1 2.5h0m0-1.9h0m.1 1.8h0m0 0h0m.2 .1h0m.2-1.6h0m0 1.8h0m0-1.8h0m.2-.2h0m0-.2h0m.1 .6h0m0 1.7h0m.3-1.1h0m.1 1.1h0m.2-.2h0m0-.7h0m.1 .5h0m.2-.3h0m.1 .5h0m0-2.7h0m.1 2.3h0m0 .4h0m.8-.3h0m.3-1.6h0m.8 .8h0m.5-1.1h0m0 2.3h0m.1-1.5h0m.1 1.2h0m.2-.3h0m.2 .6h0m.3-1.5h0m.3 .5h0m0-1.2h0m.1-.2h0m.1 1.3h0m.1 .5h0m0-1.3h0m.9-.5h0m.6-.3h0m0 1.6h0m.2 .4h0m.1-1.1h0m.3 0h0m.6 1.1h0m.1-.2h0m0 1h0m.3-1.6h0m.2-1.1h0m.1 1.7h0m0-1.5h0m.1 .7h0m.1-1.2h0m0 1.1h0m.7 .9h0m.2-1.9h0m0 .1h0m.1 1.4h0m.5 .6h0m.3 0h0m0 .5h0m.9-1.4h0m.1-.5h0m1.3-.3h0m1 .9h0m0 .7h0m.7 .1h0m0-.4h0m0-1.1h0m.1 0h0m.3 .9h0m0-1.4h0m.1 2.2h0m0-1.8h0m.1-.2h0m0 .9h0m.1-1.2h0m0 1.9h0m.2-.5h0m0 .1h0m.5-1.4h0m0 .6h0m.1 .3h0m.3-.4h0m0-.1h0m.2 1.2h0m.2-.7h0m.1 0h0m.1-.5h0m.2 1.7h0m.3-2.2h0m0 .2h0m.2 1.1h0m.1-.9h0m0 .8h0m.2 1h0m.1-2.3h0m0 1.8h0m.1-1.6h0m0 1.2h0m.2 1.2h0m.3-1.5h0m0 1.4h0m0 .4h0m.2 .1h0m0-.3h0m.1-2.1h0m.6 .1h0m0 .5h0m.1-.2h0m0-.2h0m.2 .9h0m0 .4h0m.1-1.4h0m.1 0h0m.2-.4h0m.2 2.5h0m.2-1.9h0m0-.5h0m.3 2.5h0m0 0h0m0-.1h0m.1-.9h0m0-.5h0m.5-.7h0m.1 2.2h0m.3-.7h0m.2-.8h0m0-.3h0m.4-1h0m.5 .5h0m.2-.2h0m.1 2.5h0m.1-2.4h0m.1-.5h0m.2 .6h0m.1 1.3h0m.1 .8h0m.2-1.2h0m.1 1.2h0m.2-2.2h0m0 1.1h0m.6 .6h0m0-1.1h0m0 .8h0m.1-.3h0m.2-.2h0m.2 .3h0m0 .2h0m.5-1.6h0m.2 1.1h0m.3 .1h0m.2-.6h0m.4-.8h0m.4 1.2h0m.2-.2h0m0 .7h0m.1-.1h0m0 .4h0m.1-.6h0m.1-1.3h0m.2 .5h0m.1 .6h0m.3 .9h0m.7-.2h0m.2-1.6h0m.7 2.4h0m.2-2.7h0m.6 .9h0m.3 1.8h0m.1 .1h0m0-1.7h0m.1-1.1h0m.2 .6h0m0-.2h0m1 .9h0m.2 .8h0m.3 .6h0m.1-2.7h0m.3 2.6h0m.3-1.6h0m0 .1h0m.7 0h0m.5-.2h0m-46.4 4.8h0m2.7-.8h0m.1-1h0m.2 1h0m.3-.8h0m.5-.3h0m.1-.6h0m.1-.2h0m0 0h0m0 2.2h0m.6-1.5h0m.2-.7h0m.1 1.7h0m.1-1.7h0m.2 .2h0m.1 1.4h0m.1-1.2h0m0 .5h0m0 1.8h0m.2-2.3h0m.1 1h0m.2 .6h0m0-.7h0m.7-1h0m.2 1.7h0m.1-.4h0m.4 .5h0m0-.1h0m.1-.9h0m.6-.5h0m.1-.1h0m0 1.2h0m0-1.4h0m.4 0h0m.2 1.4h0m0-1.3h0m.1 .2h0m.3 .4h0m.1-1h0m.1 .2h0m.2 1.9h0m.1 .2h0m0 0h0m0-1.3h0m.4-.3h0m0-.3h0m.4 .5h0m0-.5h0m.5-.4h0m.2 2.5h0m0-.7h0m.1-.9h0m.1 .4h0m0 .8h0m.1-1h0m.3 1h0m0-1.1h0m.3-.7h0m.1 1h0m.4 1h0m0-.5h0m.2 .8h0m.1-1.9h0m0 .1h0m.6 1.2h0m.1-1.1h0m0 1.3h0m.3-1.7h0m.4 .4h0m.6 1.8h0m.4-.6h0m0-2h0m.7 .6h0m.2 .1h0m.1 2.1h0m0-1.8h0m.1 1.3h0m.6-1.4h0m.1 1.4h0m.4-.8h0m.2-.8h0m.1 .9h0m.4-.1h0m0-1.1h0m0 2.2h0m.3-2.7h0m.1 .9h0m0 .9h0m.2-1.7h0m.3 2.3h0m0 0h0m0-1.3h0m0-.8h0m.2 2.2h0m.6-1.1h0m1-.2h0m0 1h0m0 0h0m.3-1.2h0m.1-.4h0m.2 .7h0m.6-.4h0m.1 1.4h0m.3-.1h0m.2-.5h0m.1 .6h0m1.1 .5h0m0-.2h0m.1 .2h0m.6-.6h0m.4-.3h0m1.1 .7h0m.7 0h0m0-.4h0m.3-1.7h0m.3 1h0m.4-.1h0m.1 1.5h0m.2-2h0m.1 .8h0m.1 .2h0m.1-1h0m.2 1.2h0m.1-1h0m0 .9h0m.1-1.4h0m0 1.3h0m0 .3h0m.1-2.3h0m.2 2.6h0m.2-1.1h0m0 .6h0m.1-1.2h0m.1 .6h0m.2 1.2h0m0-1.8h0m0 1.1h0m0-1.2h0m.2 2h0m0-.5h0m.1-1h0m.1-.7h0m.4 2.3h0m.1-2.1h0m.4 1.1h0m.4 .3h0m0-.4h0m.1-.1h0m.2 .6h0m0 .2h0m.1-.3h0m0-.5h0m.1-.1h0m0-1.3h0m0 2.1h0m.1-.5h0m.1-.3h0m.3-.6h0m0-.4h0m.2 .6h0m0-.1h0m.1 .8h0m0-1.1h0m.2-.3h0m0 .7h0m.3-.2h0m0-.7h0m.1 1.8h0m.1-1h0m.1 .3h0m.4 1.6h0m0-2h0m.2 1.8h0m.1-.3h0m0-2.5h0m0 .7h0m.1 2h0m.1-2.3h0m.1-.3h0m0 0h0m.1 1.2h0m0 .3h0m0 .3h0m0-1.8h0m.1 .6h0m.2 .4h0m0 0h0m.2 1.8h0m0-1h0m0-1.8h0m.1 1.5h0m.2 .3h0m.1 .2h0m0-1.6h0m0 1.6h0m.2-1h0m0 .6h0m.1 .9h0m.1-1.9h0m.2-.7h0m.3 .2h0m0 1.5h0m.1-.1h0m.2-.4h0m.2-.9h0m0 1.8h0m0 .5h0m0-.8h0m0-.1h0m.1-.8h0m.1 1.5h0m.6-1.4h0m.6-.4h0m.2 .6h0m.1-.1h0m0-.1h0m.3 .5h0m.1 .1h0m.2 1.3h0m.1-1.1h0m0 .5h0m.1 .1h0m.6-.4h0m0-.4h0m.1-.5h0m.2 .3h0m0 .6h0m.1 .2h0m0-.2h0m.1 .2h0m0 .6h0m.1 0h0m0-1h0m.3-.5h0m.4 1.2h0m.5-1.3h0m.1 .2h0m.5 .4h0m.5 .4h0m.2-.2h0m.3 .5h0m2.2-2.4h0m36.1 1.1h0m.2-.2h0m.4 1h0m0-.5h0m.4 .1h0m11.6 1.3h0m.4-.3h0m.2-.2h0m0-1.4h0m.1 .5h0m.7 0h0m.2 0h0m1 .3h0m.4 1.2h0m.9-1.1h0m.6 .4h0m1.1 .4h0m-101.7 3h0m.1-.9h0m.7 .7h0m.1-1.8h0m4.5 2.1h0m1.2-2.6h0m0 2.1h0m.8 .1h0m.1-1.7h0m.3-.5h0m.8 2.4h0m.1-.2h0m.5-1h0m.2 .7h0m.6 0h0m.2-.6h0m.2-1.1h0m.2-.3h0m.2 .5h0m0-.3h0m.1 1.2h0m.2 .9h0m.4-.4h0m.2-.8h0m.2 .9h0m0 .6h0m.7-2h0m.1 2h0m0-.5h0m.4-2h0m.2 .2h0m.1 .3h0m.1-.3h0m.1 1.2h0m.2 .9h0m0-.6h0m0-.5h0m.1 .3h0m.4-1.1h0m.1 1.8h0m.4-.3h0m.1-.7h0m.1 .1h0m.1 .6h0m.5-.1h0m0-.7h0m.4-.8h0m.3-.4h0m.3 2.5h0m.7 .2h0m0-.7h0m.2-.1h0m.1 .4h0m.4-2.1h0m0 2.4h0m.4-2.3h0m.1 2.4h0m0-1.9h0m.5 1.3h0m.1 .7h0m.3-1h0m.5-1.3h0m.2 .5h0m0-.2h0m.6-.2h0m.1 1.1h0m0-.9h0m.3 1.9h0m.7-1.5h0m.3 .8h0m.4-.9h0m.2 1.6h0m.1-2.7h0m.1 0h0m.1 .2h0m0 1.1h0m.2 .1h0m.3 .1h0m0-1.3h0m.2 .7h0m.3 1h0m.1-1.3h0m.4 .2h0m.1 1.2h0m.1 .8h0m0-1.4h0m0 .9h0m.2-1.1h0m0-.6h0m0 1.9h0m.1-2.6h0m.1 2.5h0m.8-2.4h0m.3 1.5h0m0 .8h0m.1-1.8h0m.1 .9h0m.1-1.3h0m.1-.1h0m.2 0h0m.1 2h0m.1 0h0m0-1.9h0m.1 1.4h0m0-.6h0m.1 1.7h0m0-1.4h0m0-.5h0m.2-.5h0m0 .7h0m.1 1.8h0m.4-.7h0m.3-1.5h0m.1-.4h0m.5 .7h0m.2-.4h0m0 1.6h0m.1-1.2h0m0 2.1h0m.4-.3h0m0 .1h0m0-1.9h0m.1 1.7h0m.1-.9h0m.2 .9h0m.1-1.3h0m0 1.1h0m.1 .4h0m.1-.7h0m0 .1h0m0 0h0m.1-1.9h0m0 .7h0m0 1.4h0m.1-.5h0m.3 .6h0m.1-1.5h0m0 .9h0m.1 .6h0m0-1.9h0m.1 1.5h0m0-.7h0m0-1.1h0m.1 2.2h0m0-1.8h0m0 .7h0m.1 .1h0m.1 .7h0m.1-1.8h0m0 .1h0m.4 .8h0m.1-1.1h0m0 .8h0m0 1h0m.2 .3h0m0-1.1h0m.1-.6h0m.2 2.2h0m0-.9h0m0-.7h0m.2-.3h0m.2 0h0m0 .5h0m.1 1.1h0m.1-1h0m.5 .4h0m0-1.3h0m.1 .1h0m.1-.1h0m0 0h0m.1 2.2h0m.1-2h0m0 1.3h0m0-1.4h0m0 .7h0m.1 1.2h0m0-1.4h0m.1 1.1h0m.1-1.8h0m0 .6h0m0 1h0m0-2.1h0m.1 1.7h0m.1 .9h0m.2-2.1h0m.3 .7h0m.1-.8h0m.1 .3h0m0 .5h0m0-.6h0m.2 2h0m.1 .2h0m.1-2.7h0m.1 1.6h0m0 .9h0m0-1.5h0m.2 1.4h0m.2-2h0m.2 1h0m0-1.4h0m.1 .8h0m.1-.9h0m0 2.7h0m.1 .1h0m.1-2.1h0m0 1.7h0m.1-1.7h0m0 .2h0m.3 1.4h0m0-2h0m.1 2.3h0m.1-2.2h0m.1 .9h0m0 1.3h0m.1-2.5h0m.9 .4h0m.1 1.4h0m.1-1.7h0m.1 2.5h0m.7-.2h0m.1 0h0m.2 .4h0m.1-.1h0m.2-1.5h0m0 .9h0m0 .3h0m.2-2h0m0 0h0m.1 1.1h0m.1 .1h0m.1-.1h0m.1-1.4h0m.2 1h0m0 1.4h0m.2-.4h0m.4-1.9h0m0 .3h0m.1 .7h0m0 .8h0m.3-.1h0m.1 .7h0m0 .2h0m0-.1h0m.1-.7h0m0 .4h0m.4-2.2h0m0 1.5h0m.2-.6h0m0-.8h0m0 0h0m.2 2.5h0m.2-2.7h0m.3 2.1h0m.2-2h0m.3 .8h0m.5 .5h0m.2-.3h0m.8-.4h0m.2 .8h0m.1 1h0m0-1h0m.1 .2h0m50.5 .1h0m.4-1h0m.1-.8h0m0 .8h0m.1-.8h0m.2 2.4h0m.1-.9h0m.2-.7h0m.2 0h0m1.1 .4h0m.3-1.2h0m.1 .2h0m.1 .5h0m.2 .6h0m.1 .1h0m.1-1h0m.2 1.2h0m0 .2h0m.2-.7h0m0-1h0m.3 1.6h0m.2 .8h0m0 0h0m0-2.6h0m.1 2.8h0m.1-.1h0m0-2.6h0m.5 1.2h0m.4-.5h0m-102 3h0m.2 2h0m.1-.3h0m.1-2.5h0m.5 0h0m0 1.7h0m.1-1.1h0m0 1h0m.3-1.1h0m2.6 0h0m.9 1.7h0m.4-.8h0m.4 .3h0m.1 .2h0m.2-.8h0m.3 .6h0m.3 .8h0m.3-2.5h0m.1 2.3h0m.3 .3h0m.6-.7h0m.1 .5h0m.3 .1h0m.1-1.7h0m.1 0h0m.6 .7h0m.1-.9h0m.2 1.8h0m.2-1.3h0m.1 .3h0m0-1.3h0m.4 2.1h0m.9-1.4h0m.2 1.9h0m.4-1h0m.8 .7h0m.4-1.4h0m0 1.2h0m.6-1.1h0m.2-.7h0m.2 2h0m.6-1.9h0m0 2.3h0m.1-2.1h0m0-.4h0m.5 2.3h0m.1 .2h0m.3-1.2h0m.1 .4h0m.2-.8h0m.2 .1h0m.5 .3h0m.1-1.7h0m.1 2.2h0m.1 .5h0m.1-.1h0m.1-.5h0m.1-1.4h0m0 1.2h0m.2 .4h0m.1-1.8h0m.1 .2h0m.1-.6h0m.1 1h0m.3 1.3h0m4.4-1.7h0m.8-.1h0m.5 .2h0m3 1.6h0m.1-1.9h0m.3 1.4h0m.2 .3h0m.1-.3h0m.1-1.5h0m0 2.1h0m.1-.9h0m.1-1.2h0m.2 .7h0m0-.2h0m.1 1.6h0m.1 .1h0m.1 0h0m.1-2.6h0m.7 2.8h0m.3-2.6h0m.2 .2h0m0 .5h0m0 .9h0m.1-.1h0m0-.4h0m.3 .7h0m.1-.6h0m0 .8h0m.1-1.6h0m.1-.3h0m.4 .4h0m0 2h0m.1-.8h0m.6 .8h0m0-2h0m0-.4h0m.4 .2h0m0 2.1h0m.2-.4h0m.2-.5h0m.1-1.4h0m0 1.5h0m.1-1.2h0m.1 1h0m0-.1h0m0 1h0m0-.3h0m.2-.2h0m.1-1.8h0m.2 0h0m.3 2.3h0m.4-2.4h0m.1 2.5h0m.3-1.6h0m.2-.6h0m.2 2h0m.1-1.7h0m.2-.3h0m.3 2.2h0m0-.5h0m.3-1.1h0m0 1.5h0m.4 .2h0m.1-.9h0m0 1.1h0m.1-2.1h0m.1 .7h0m.1 .1h0m.2 .7h0m.1-1.2h0m0 0h0m.1 1h0m0-1.9h0m0 .9h0m.1-.4h0m0 .7h0m.2-.1h0m0 .8h0m.1 .6h0m0-1.8h0m.4 .5h0m0 1h0m.2-.4h0m.1 .7h0m.1-2.2h0m.1-.1h0m.4 1.6h0m.2-1.8h0m0 .5h0m.2-.1h0m.2 .8h0m.1-.4h0m.1 1.7h0m.2-2.7h0m.1 1.7h0m.1 .3h0m0 .8h0m.1-1.8h0m0 1h0m.1 .6h0m.9-1.4h0m.1 1.7h0m0-1.9h0m.3-.6h0m.1 .6h0m.1 .8h0m.5-.9h0m.1-.2h0m0 1.7h0m0-1.8h0m0 .4h0m.1 1.7h0m0 0h0m.3-.9h0m.1-1.7h0m.1 2.1h0m.1-1.4h0m0 2.1h0m0 0h0m.3-2.4h0m0 .7h0m0-.6h0m.1 1.6h0m.5-.5h0m.2-1.6h0m.1 1.8h0m.2 1h0m1.5-2.4h0m.5 2.2h0m0-.9h0m.1 .5h0m.3 .4h0m.7-1.2h0m0 1.1h0m0-.7h0m.2-.3h0m0 .6h0m.5-.8h0m0-.6h0m.1-.3h0m.1 1.9h0m.1 .2h0m0-.1h0m.1-2.1h0m.5 2.5h0m.1-.5h0m.4 .5h0m.2-.2h0m0 .1h0m3.2 0h0m1.2-1.2h0m45.2-1.6h0m.3 .2h0m.5 .1h0m0 .1h0m.3 .2h0m.1 .5h0m.1 .2h0m.2-1.1h0m.2 0h0m-97.2 5.4h0m.1-.3h0m0-.9h0m.7-.4h0m.1-.6h0m.2 2h0m.3-.6h0m.2-.5h0m.1 .9h0m.1 .1h0m.2-1.1h0m.1 .8h0m0-.3h0m.1-1.3h0m.1 2.3h0m.2-1.2h0m.2-1h0m0 1.1h0m.5-.4h0m.2 1h0m.4-.4h0m.3-.3h0m0-1.4h0m.2 .8h0m0-.4h0m.1 2.2h0m.1 .2h0m.1-1.5h0m.1 .1h0m.5-.9h0m.3 1h0m.1 1.2h0m.1-1.5h0m.2-.6h0m.4 .9h0m.4 1.1h0m.1-1.8h0m.2 2h0m.4-1.5h0m.2 0h0m.1 1.4h0m.4-2.3h0m.3 .8h0m.1 .6h0m0-.6h0m.5 .4h0m0-1.6h0m.5 1.3h0m.5-.1h0m.7 1.5h0m.3-1.1h0m0 1.3h0m0-2.1h0m.2 1.7h0m0-1h0m.6 .9h0m.2-2.3h0m.2 2.7h0m.2-1.6h0m.1 1.4h0m.2-1.9h0m0-.1h0m.9-.7h0m.1 1.6h0m.2 .1h0m0-.9h0m0 1.3h0m0-.2h0m.3-1.4h0m.2 1.3h0m0 .9h0m13.1-2h0m.1-.1h0m.2 .8h0m0-.5h0m.3 .5h0m.5-1.2h0m.2 1h0m0-.6h0m.1 1.7h0m.1-2.3h0m.6 .4h0m.2-.4h0m.1 1.4h0m.3-1.2h0m0 1.9h0m.4-1.1h0m.2 1.6h0m0-1.8h0m.3 .7h0m.7-.5h0m0 1h0m.2-.2h0m0-.9h0m.1-.1h0m.1 1.1h0m.2-.4h0m.2-.9h0m.1 0h0m.1 1h0m0-.5h0m0-.7h0m0 .5h0m.1-.6h0m.1 1.2h0m.1-.8h0m.1 .5h0m0-.3h0m.6-.2h0m.5 1.3h0m.1-2h0m.2 0h0m.1 1.3h0m0 1.2h0m.3 .4h0m.4-2.4h0m.3 1.7h0m.4-.7h0m.4 .6h0m.2-1.5h0m0 2.1h0m.1-.1h0m.2-1.2h0m.4-.4h0m.1-.3h0m.3-.3h0m.1 2.6h0m0-1h0m.1 .6h0m0-1.9h0m.3 .4h0m.1 1.5h0m.1-1.3h0m.1-1.1h0m.2 .7h0m0-.5h0m.1 2h0m.5-.3h0m.1-1.9h0m0 .9h0m.3-.9h0m.2 1.6h0m0-1.4h0m.3 1.7h0m.1-1.3h0m0-.1h0m.1 .2h0m.1 1.6h0m.2-1.4h0m.4 1h0m.4-.1h0m.1-1.5h0m0 2.3h0m.2 .1h0m.5-2.3h0m0 1.5h0m0 .5h0m.1-.4h0m.1-.3h0m0 .3h0m.3-1.9h0m.3 1.7h0m0-1.3h0m.2 1.4h0m.2-.4h0m0 1.2h0m.4-.1h0m.1-.5h0m.2 .7h0m.1-1.4h0m.1 .1h0m0-1.2h0m.2 .9h0m.1 1.5h0m0-1.9h0m0 1.5h0m.1-2.3h0m.1 2.6h0m0-1.2h0m.1 1.3h0m.1-1h0m0 .7h0m.1-2.1h0m0 2.1h0m.3-.2h0m.1 .4h0m0 .1h0m.2-1.8h0m.1 .3h0m.3-.7h0m.1 .9h0m.1-.6h0m0-.3h0m0 1.7h0m.2-.3h0m.1-.1h0m0-1.5h0m0-.4h0m.1 .5h0m.1 1.8h0m.1-2h0m0 .4h0m.1 .3h0m.2 1h0m.2-1.1h0m.2 .7h0m0-1.5h0m0 .6h0m.2-.4h0m.2 1.2h0m.2 .3h0m.3 0h0m0 .8h0m.4-1.6h0m.4 .7h0m.3-1h0m.3 .7h0m.2 .1h0m0 .7h0m.5-.1h0m.5-.1h0m.2 .3h0m-52.3 3.4h0m.4-.4h0m.2-1.1h0m.2-.3h0m.1 1.1h0m0-.7h0m.1 .9h0m.6 0h0m.6-1.1h0m.2 1.5h0m.4-.1h0m.1-.7h0m.1-1h0m0 1.9h0m.1-1.3h0m.4-.5h0m.1-.9h0m.1 .1h0m.2 1.1h0m.2 .6h0m.3-.6h0m.3-.3h0m.1 .3h0m0 .4h0m.4 0h0m0-.6h0m0 .6h0m0 .8h0m.1-.2h0m0-2.3h0m.4 .4h0m.3 2.1h0m.2-1.8h0m.1 .7h0m.3 1.2h0m.2-.7h0m.3 .3h0m0-1.4h0m.1-.2h0m0 1.8h0m0-.5h0m.2-1.1h0m0 .8h0m0 .6h0m.1-1.6h0m.1 .7h0m0 1.3h0m.4-1.6h0m0 1.6h0m.5-.6h0m.1 .7h0m.2 .1h0m.1-1.9h0m0 1.4h0m.2 .3h0m.2-1.4h0m0 1.7h0m0-1.2h0m.1 1.3h0m.1-1.5h0m.2-.7h0m.2 1.8h0m0-2.3h0m0 1.3h0m.1 .8h0m.3 .3h0m.1-.2h0m.3 .2h0m.2-1h0m.5-1.3h0m.1 .9h0m0 .5h0m.5 .3h0m.1 .4h0m.1-1.9h0m.1 2.4h0m.4-.9h0m.1-.2h0m.3-.2h0m.2 1h0m.1-.9h0m.5-.9h0m.1 1.8h0m.1-.3h0m.2-.9h0m.3 1.1h0m.1-1h0m.2-.3h0m.1 1h0m.6-1.1h0m.2 1.6h0m13-2.6h0m2.1 0h0m.5-.1h0m.4 .7h0m.1-.7h0m.2 .6h0m.3 1h0m.1-1.6h0m.1 1.3h0m0 .2h0m.3-1.2h0m.1 .8h0m.2 0h0m.2 .9h0m.9-1.5h0m.6 1.7h0m.3-.3h0m.1-1.1h0m.1 1h0m.8-.5h0m0 1.4h0m0-2.1h0m.1-.1h0m.2 1h0m.5 1.1h0m.1-1.9h0m.2 1.8h0m0 .4h0m.5-1.8h0m.3-.8h0m1 1.5h0m.4-.1h0m.7 .7h0m.4-2h0m0 1.7h0m.2-1.3h0m.5-.5h0m.1 2h0m.3-1.7h0m0-.5h0m.4 .4h0m.2 2.3h0m.1-.2h0m.3-.3h0m0 .4h0m.2 .1h0m.1-2.7h0m.1 1h0m.3-.8h0m0 2.4h0m.2 .1h0m0-2.7h0m.2 1.7h0m.1 .5h0m.1-.4h0m0 .6h0m.1-1.3h0m.1-.6h0m0 .1h0m.1 1.2h0m.1-1.2h0m0 2.1h0m0-2.3h0m0 .7h0m.1-.1h0m.1 1.6h0m0-2.1h0m0 .5h0m.1-.7h0m0-.5h0m0 2.9h0m.2-1.6h0m.1 .6h0m0-.7h0m0-.9h0m.1 .9h0m0 1.3h0m.1-1.8h0m0 .4h0m.3-.5h0m.2 .9h0m.1-1.4h0m.2 2.3h0m.2-1.6h0m.3 1.3h0m.3-.3h0m0 .9h0m0-.6h0m.5-.1h0m.1 0h0m.2 .1h0m0-1h0m0 1.1h0m0-2.1h0m.1 1.6h0m0-.6h0m.1-.4h0m.1-.2h0m.5 2.4h0m0-.9h0m0-1.9h0m.1 1.9h0m.4-.8h0m.2 .5h0m.1 1.1h0m.1-2.4h0m.1 1.3h0m.4 .8h0m.1-1.2h0m.2 .9h0m.1 .6h0m.2-1.6h0m.5 1.4h0m.2-2h0m0 .5h0m0 1.1h0m.1-1.8h0m0 1.3h0m0 .5h0m.1 0h0m.1-1.9h0m.3 .9h0m.1 .4h0m.1-.4h0m.1 1.8h0m.1-1.3h0m.3-1h0m.1 .4h0m0 .1h0m.1 1.6h0m.2-.4h0m-63.2 1.8h0m.1 1h0m.3 .3h0m.2 .3h0m.2-.2h0m8.4-1h0m0-1.2h0m0 2.5h0m.3-2.1h0m.3 2.1h0m.2-2.5h0m.2-.2h0m.1 1.5h0m.3-1h0m.2 1.5h0m.1-2.1h0m.5 0h0m.6 2.7h0m.1-.2h0m0-1.1h0m.1 .8h0m.4-1.5h0m.1-.6h0m.1 2.4h0m.4-.8h0m.3-.9h0m.1 1.9h0m.4-1.7h0m.1-.7h0m.1 .1h0m.2 2.2h0m.3-1.4h0m.2 .3h0m.2-1.2h0m.2 2.5h0m0 .1h0m.1-2.2h0m.5 .5h0m.5-1.1h0m.1 2.5h0m.4-2.4h0m0-.1h0m.1 2h0m.1-.1h0m.4 .5h0m.1-1.7h0m0 .2h0m.1 1.3h0m.1-.5h0m.5-1.4h0m.2 1.9h0m.1 0h0m.6-1.7h0m.3 1.7h0m.3-1.7h0m0 1.6h0m0 0h0m.4-2h0m0 1.9h0m.1-.8h0m0 .9h0m.4-.5h0m.4-.9h0m.3 .5h0m.2-.5h0m.1 .4h0m.1 1.2h0m.2-2.3h0m.1 .7h0m0-.4h0m.2 2.1h0m.1 .3h0m.2-2.4h0m.6 2h0m0-.7h0m0-.2h0m.2 .4h0m.2-1.6h0m0 1.9h0m0-.8h0m0 .6h0m.2-.7h0m.1 .4h0m0 .6h0m.1 0h0m.1-1.3h0m.2 1.9h0m.1-1h0m.1 .2h0m.1-1.4h0m0 1.5h0m.3-.1h0m.2 .4h0m.1-1.9h0m.1 1.2h0m0-1h0m.4-.8h0m.2 1.1h0m.5 1.3h0m.1-2.2h0m.1 1.1h0m16.9 0h0m2-1.2h0m.7 .9h0m.1-.7h0m.5 .7h0m.4-.7h0m.1 .2h0m.2 2h0m.9 .3h0m.2-.4h0m.5-1.7h0m.3 .7h0m1.1 .8h0m.2 .2h0m.9-1.2h0m.2 .6h0m.9-1.8h0m.1 1.2h0m.9 .1h0m.1-.2h0m0 1.6h0m.3-1.3h0m.1-.6h0m.1-.6h0m.2 1.5h0m.1 .7h0m.2-2.3h0m.2 1.2h0m0 .4h0m.1-.5h0m.3-.3h0m.3 .6h0m0 .8h0m.2-.8h0m0 1.1h0m.2-2.3h0m.4 1h0m.3-.2h0m.1-.9h0m0 1.1h0m.1-1h0m0 1.6h0m.7-1.9h0m.2 1.2h0m.2 .5h0m.2 .4h0m0-.9h0m.2-.4h0m.3-.3h0m.1 .5h0m0-.2h0m.1-.8h0m0 1.2h0m.2 1h0m.5 .1h0m.1-1.2h0m.2 1.8h0m.2-.7h0m.3-.2h0m.7-1.4h0m.1 1.5h0m0-.7h0m.2-1h0m.6 .8h0m.4 .2h0m.1-.7h0m.1 .7h0m.1-.8h0m.2-.1h0m0 .9h0m.2-.6h0m-65.5 4.7h0m.4-.1h0m.1-2.3h0m0 .8h0m.2-.5h0m.4 1.4h0m.7-.9h0m1.2-.7h0m.1 1.4h0m.1-.5h0m.1-.4h0m0 .3h0m.1 1.1h0m.1-2.2h0m1.1 2.5h0m.4 0h0m.2-.2h0m.1-.9h0m.5 1.3h0m5.2-.6h0m.3-1.8h0m.2 2.6h0m.3-1.3h0m.1-1.6h0m.4 1h0m.3-.7h0m.1 2.3h0m.2 .3h0m0 .1h0m.2-.5h0m0 .1h0m.4-1.4h0m.1-.1h0m.1 .4h0m.1 1.5h0m.4-1.9h0m.2 1.7h0m1-.4h0m0-.1h0m.3-1.4h0m.1 .6h0m.4 .4h0m.3-1.7h0m.6 0h0m0 .2h0m.3 1.4h0m.1-.7h0m.1 1.8h0m.1-2h0m.1 1.2h0m.1-1.6h0m0 1h0m.1 0h0m0 1.2h0m.1-.4h0m.3-2.2h0m0 2.5h0m.5-.2h0m.6-1.2h0m.3 1.4h0m.2-1.7h0m.1 .9h0m.3-.6h0m0 .6h0m.2 .6h0m.1-.8h0m.4-1.2h0m.1 1.4h0m0-1.4h0m.1 2.1h0m.3-1.3h0m.2 .1h0m.3 .2h0m.2-.6h0m.1 .4h0m0-1h0m.1 2.3h0m.1-.4h0m.1-1.2h0m0-.3h0m0 1.4h0m.1 .8h0m0-2.3h0m.1 1.2h0m.1 .2h0m0 0h0m.3-1.2h0m0 .5h0m0 .6h0m.5-.1h0m.2-1.2h0m.2 .3h0m.1-.6h0m0 .2h0m.1-.5h0m.1 .9h0m.4 1.8h0m0 0h0m.2-.9h0m.1-.1h0m.1 1.1h0m.2-.7h0m0-.5h0m.1-.6h0m0 .7h0m.5-1h0m.1 1.6h0m.1-1h0m.2 .6h0m0-1.5h0m.1-.1h0m.3 1.5h0m.1 .1h0m.1-.8h0m.1 1.6h0m0-1.6h0m0 1h0m0-1.9h0m.3 1.5h0m0 1.2h0m0-.1h0m.1-1.6h0m0-1.1h0m0 2.8h0m.1-1.5h0m.1-.5h0m.3 0h0m.2 1.8h0m.5-2.5h0m.2 1.7h0m21.7-1.8h0m.5 1.1h0m2.1-.9h0m.1 .6h0m.6-.2h0m1.8-.6h0m.4 .3h0m.4-.3h0m1.1 0h0m.7 .4h0m.1 .8h0m.3 .3h0m.3-1h0m.3 1.5h0m0-1.9h0m.1 .8h0m.1 .8h0m.5-1.3h0m.3 .2h0m.1 .6h0m.4-.4h0m.2 .8h0m.2-.2h0m.2-.1h0m0 .3h0m.4-.6h0m.1-.6h0m.2 .2h0m.4 0h0m0 .2h0m.3 .2h0m.1-.5h0m.1 .9h0m.1-.1h0m.3 .3h0m.5-1.6h0m.1 1.1h0m.2 .5h0m.4-.2h0m.2-.7h0m.4 .7h0m.1-1.1h0m.2 .1h0m.2 .4h0m-69.9 4.7h0m.1-.4h0m.2-.5h0m.6 0h0m.3-1.2h0m.5 2.5h0m.1-.8h0m.1 .8h0m.1-.9h0m.1 .3h0m.4-1.8h0m.2 1.9h0m.1-1.2h0m.2-.5h0m.2 1.2h0m.1-.4h0m0 .9h0m0-.6h0m.1 1.1h0m.1-.8h0m0-.2h0m.1-.6h0m0 1.5h0m.1-2.5h0m.2 1.2h0m.1-.8h0m.1 .6h0m.1-.5h0m0-.2h0m.1 .6h0m.4 1.3h0m0-2.6h0m.5 1.5h0m.2 1h0m.2-1.4h0m0 .9h0m.4 .8h0m.4-2.3h0m.1 .6h0m.2 1.2h0m1.2-.3h0m.3-1.3h0m.2 2.1h0m.5-2h0m.2 1.6h0m.3-1.8h0m0 .5h0m2.9-.6h0m2.3 2.1h0m1.4-.8h0m.4-1.1h0m0 0h0m.1 1.8h0m.2 0h0m.3 .1h0m.1 .3h0m.6-2.8h0m.1 1.7h0m.1-1h0m.2 0h0m.1 .4h0m.2 1h0m.2-2.1h0m.4 .1h0m0 1.5h0m.1 .3h0m.3-1.9h0m.1 1.6h0m.3-.1h0m0 .3h0m.2-.8h0m.1 1.8h0m.2-2.1h0m.2 1.3h0m0 .2h0m0-.2h0m.2 .6h0m.5-2.6h0m.2 .7h0m.1 .3h0m0 1.4h0m0 0h0m.1-1.4h0m.2 .4h0m0 1.3h0m.3-1.2h0m.5-.2h0m0 1.2h0m.3-2.4h0m0 1h0m.3 1.7h0m.1-2.3h0m.5 .7h0m.2-.4h0m0-.6h0m0 1.7h0m.2 .6h0m.2-.5h0m.1-.6h0m.2 .4h0m.1 .8h0m.3-2.2h0m0 2.2h0m.2-1.3h0m.3 1.1h0m.3-.3h0m0-2h0m.5 2.5h0m0-.4h0m.3 .5h0m1.5-1.8h0m.1 1.1h0m.1-.8h0m.3-1.1h0m.1 .6h0m.1 .2h0m.7 0h0m.2-.1h0m.1 2h0m.2-2.9h0m.3 .4h0m.2-.1h0m.4 1.8h0m.3 0h0m.1 .8h0m0-2.7h0m.2 1.2h0m.6-1.3h0m.2 1.8h0m.1 .2h0m0-.1h0m.5-1.8h0m.1 .4h0m4.8-.1h0m-41.5 5h0m2.6-.4h0m.6-.8h0m.4-.1h0m.5-1.1h0m.1 2.6h0m.1-2.3h0m.3 1.6h0m.5-1.3h0m.4 .9h0m.2-1.6h0m.1 1.2h0m.4 .8h0m.2-1.9h0m.1 1.2h0m0 .6h0m.1-.7h0m.3-.1h0m.1 1.3h0m.1-.6h0m0-.2h0m.4 .2h0m.3 .9h0m0-.9h0m0 .1h0m.1 .6h0m.1-.9h0m.1-.4h0m.2 .9h0m0-1.6h0m0 2.4h0m.2 0h0m.1-1.5h0m.1 .2h0m.1 0h0m.1 .2h0m.3-1.3h0m.3 2h0m.2-1.9h0m.2 .6h0m.1-.6h0m0 1.2h0m.7 .7h0m.1-2.1h0m.1 2.1h0m0-2.1h0m0 1.5h0m.8 .8h0m.3-2.7h0m.1 .7h0m0-.1h0m.1 1.6h0m.2-1.6h0m0 1.9h0m.1-2.5h0m.1 2.5h0m.1-1h0m0 1.5h0m0-2.1h0m0 1.7h0m.2 .3h0m.1-1h0m.4-.1h0m.5-.7h0m.3-.4h0m.1 .8h0m5.3-1.1h0m1.4 2h0m.4-1.1h0m0 .3h0m0 1.3h0m.1-1.4h0m0 .2h0m.3-.3h0m.4-.6h0m.2-.3h0m.2 .5h0m0 .3h0m.1 1.5h0m0-2.5h0m.1 1.5h0m.5-1.3h0m.3 1.7h0m0-2.1h0m0-.1h0m0 2.1h0m.1-.6h0m.2-.3h0m.3 .9h0m0-1h0m.1 .3h0m.1 1.1h0m.1-2h0m.4 .2h0m.5-.3h0m.2 1.4h0m0-1.4h0m.1 2.4h0m0-2.6h0m.3 .4h0m.2 .5h0m.3 .2h0m.5 .6h0m.1-1.7h0m.8 .2h0m.1 .3h0m0 1.1h0m.3 1h0m.1-2.4h0m.3 .9h0m.2-1.1h0m.2-.1h0m.1 0h0m.5 1.4h0m.4-.5h0m.1 .2h0m.1-.2h0m0 1.1h0m.1 0h0m.3-.2h0m0 1h0m.5-2.3h0m.1 1.6h0m.3-.3h0m0-1.6h0m.3-.2h0m.1 .2h0m.1 2h0m.1-.8h0m.2 1.2h0m.1-2h0m0 .9h0m0 1h0m.1-1.7h0m.3-.7h0m.1 .1h0m.4 0h0m.1 .4h0m.1-.6h0m.1 1h0m.1 .6h0m.1-.6h0m0-.8h0m0 2.6h0m.3-.2h0m.3-1.2h0m0 1.1h0m.3-2h0m.1 2h0m0-.1h0m.3 .2h0m.3-.5h0m.3 .6h0m.3-1h0m.3 1.2h0m2.5-.8h0m.6-.1h0m.4-1.2h0m.2 .6h0m.1 1.1h0m.5-.2h0m0 0h0m.3-2.3h0m.3 1.1h0m.4 1.2h0m1.2 0h0m.4-.4h0m1.1 .3h0m2.4-1.9h0m-44.1 3.9h0m.1 .3h0m.4-.4h0m0 .7h0m.4 1h0m.1-.1h0m0-.5h0m.2-2.2h0m.1 2.9h0m.1-2.5h0m0-.3h0m.1 2h0m.3-1.6h0m0 2.3h0m.1-1.6h0m.1 .1h0m.2 .9h0m.4 .2h0m0-1.4h0m.2-.9h0m0 .7h0m.1 0h0m0-.4h0m.2 1.1h0m.3-1h0m0 .8h0m.1-.8h0m.4 1.4h0m0 .6h0m0-.5h0m.3 .8h0m.1-.4h0m.1-1.3h0m0 .7h0m.1 .9h0m.2-1.6h0m.2-1.1h0m.1 1.6h0m.1 .6h0m.1-2.1h0m.2 1h0m.1 .8h0m.1 .1h0m0-1.1h0m.1 1h0m.1-1.6h0m.5 1.1h0m0 .9h0m0-1.7h0m.1-.2h0m.1-.5h0m.2 1.9h0m.1-1.3h0m.8-.1h0m.1 1.7h0m.2 .5h0m.3-.6h0m.3-1.4h0m.1 .7h0m.1-.1h0m0 1.7h0m.1-2.1h0m0 .4h0m.1 0h0m.2-.3h0m.1 .1h0m.2-.3h0m0 2h0m.1-1.9h0m0 .1h0m.1 .1h0m.1 1h0m.2-1.9h0m.1 1.8h0m.1 .1h0m.1 .1h0m.1-1.7h0m0 .6h0m.1-.5h0m0 .7h0m.2 1.3h0m.1-2.4h0m.1 .4h0m.2 .5h0m.1 .2h0m.1-.4h0m.1 .7h0m.1-1.5h0m.3 2.7h0m.1-2.2h0m.6 1.6h0m7.1 .3h0m.4-2h0m.1-.3h0m.2 1.5h0m0-.9h0m.2 .8h0m0-1.3h0m.3 2h0m.4-2.1h0m.1 .9h0m.3 1.5h0m.2-.4h0m.1-2h0m0 1.7h0m0-1.6h0m.1 .1h0m.2 1.9h0m.4 .6h0m.1 0h0m.1 0h0m.4-2.1h0m.1-.5h0m.5 1.1h0m.1 1.5h0m0-.2h0m.4 .3h0m.9-1.5h0m.3 .9h0m.1-1.2h0m.1 .9h0m.1-1.7h0m.1 1.9h0m.1-1h0m0-.7h0m.4 .3h0m.3-.3h0m.1 1h0m.7-1.3h0m.2 1.3h0m.1 .9h0m.6-.4h0m.3-1.7h0m.3 2.4h0m.1-.1h0m0-.5h0m.3-2.2h0m.1 1.2h0m.1-.5h0m.2-.5h0m.1 1.7h0m.2 1.1h0m0-.6h0m.1 .1h0m.1-.2h0m.3 .5h0m.1-.2h0m0-1.4h0m.3 1.7h0m0-1.6h0m0 1.3h0m.2-1.4h0m0 .6h0m.3-.6h0m.1-.1h0m.1-.6h0m0 0h0m.1 .4h0m.1 .5h0m.4-.8h0m.4 1.8h0m0 .4h0m1.3 .1h0m.1-1.9h0m0 0h0m0 2h0m.5-1.6h0m.8 .4h0m0-.5h0m.6 .5h0m.1-.8h0m0 1h0m.1-.4h0m.6 1.1h0m.2-.3h0m.2-1.6h0m.2 .2h0m0-.2h0m.2 1.8h0m.1-.6h0m0 .1h0m.2-.9h0m.7 .6h0m.2-.5h0m.3 1.4h0m0-1h0m.7 1.2h0m.6-2.6h0m.1 .7h0m.1 1.8h0m.1-.9h0m.1 .7h0m.4-.8h0m.4-1.1h0m0 1.8h0m.2-.9h0m.1 .6h0m.2-1.3h0m.4-.3h0m.2 1.8h0m.2-1.1h0m.1 1.6h0m0-1.3h0m.1 .7h0m.2 0h0m.1-1.6h0m.1 2.1h0m0-2h0m.1 .5h0m.3 .1h0m.2-.9h0m.6 .4h0m.2 .4h0m.2 .2h0m0-.4h0m.4 1.5h0m.5-.2h0m.5-.3h0m.1 .6h0m.4-.9h0m.2 .8h0m.4 0h0m.3-.1h0m1.9 .1h0m-49 1.2h0m.4 .8h0m.1-.8h0m.4-.2h0m.2 .6h0m.1-.7h0m.5 1.6h0m.5-.3h0m.5-1.4h0m1.1 .5h0m.3-.1h0m.1-.7h0m.1 2.5h0m.2-.4h0m0-1.7h0m.3 .8h0m.1-.1h0m.6 .4h0m0 .5h0m.1-.1h0m.6 .9h0m.2-.3h0m.1 .1h0m0-2.7h0m.5 1.3h0m.3-.1h0m.1-.6h0m.2 .2h0m.2 .5h0m0-.1h0m.1-.8h0m.2-.2h0m.4 .3h0m.2 .9h0m0 1.5h0m.1-1.4h0m0-1.4h0m0 2.9h0m0-2.9h0m.1 2h0m.3 .4h0m.2-1.8h0m.2 .6h0m0 .5h0m0-1.4h0m.1 1.6h0m0-.2h0m.2-.5h0m.4-1.3h0m.3 .5h0m0 .9h0m0 .5h0m.1 0h0m.4-1.4h0m.3 .5h0m0-.1h0m.3-.3h0m.4 2.4h0m4.2-.2h0m1.4 0h0m.2-.3h0m.2-1.5h0m.1-.1h0m.4-.8h0m.1 .6h0m.3 1.6h0m.2 .4h0m.1-1.9h0m.3 .5h0m.4 1.2h0m0-.2h0m.1-1.7h0m0 .6h0m.2-.9h0m.1 .1h0m0 .2h0m0 1.9h0m.1-2.1h0m0 1.1h0m.6 .4h0m.3-.2h0m.1 .9h0m0-.8h0m.1-.9h0m.1 1.6h0m.6-1.5h0m.1-.2h0m0 .6h0m.1-.9h0m0 1.7h0m.6 .2h0m0-.9h0m.1 1.2h0m0-1.4h0m.1-1.1h0m0 1.4h0m.1 .9h0m0 .4h0m.2-1.6h0m0-1.2h0m.1 1.5h0m0 .3h0m.1-1.7h0m0 2h0m.2 .6h0m0-2.7h0m.2 2h0m.1 .6h0m.1-1.3h0m.1-.1h0m.3 .6h0m.3-.8h0m.2 .7h0m.2 1h0m0-1.2h0m.4 1.3h0m.2 .1h0m.1-.7h0m.1-1.4h0m.5-.9h0m0 1.1h0m.3-.5h0m.3 1.6h0m.4-1.8h0m.1 .5h0m0 1.4h0m.2-.7h0m.2-.9h0m.3 2h0m.2-1.6h0m.3-1h0m.4 2.2h0m.3 .1h0m.7-.5h0m.1-1.7h0m.5 .9h0m0 .4h0m.2-.1h0m.2 1.5h0m.2-2.3h0m.7 1.4h0m.3 .3h0m0-2.1h0m.1 .6h0m.6 1.9h0m.1 .2h0m0-2h0m.2-.7h0m0 2.4h0m.8 .3h0m.1-2.7h0m.2-.1h0m0 .8h0m1-.3h0m.3 2.1h0m.2-2.1h0m.4 .1h0m.1 1.3h0m0 .5h0m.4-.5h0m.2-.9h0m.8 .9h0m.8 .5h0m.3-.9h0m.1-.9h0m.4 2h0m.2-1.4h0m.5 .1h0m0-.4h0m.3 0h0m.8-1h0m0 3h0m.2-2.1h0m.1 .7h0m.4-1.4h0m.5 1.8h0m.3-.5h0m.5 .7h0m.1-1.3h0m0-.7h0m0 1h0m0-1.1h0m.2 .8h0m.3-.1h0m.2 .1h0m.1 .2h0m.5-.7h0m1 .9h0m0 1h0m.4-.7h0m.1 .4h0m.1-.2h0m.7-.4h0m.4-.3h0m.1 1.3h0m.2-.4h0m.6 .3h0m.6-.5h0m.2 .5h0m.1 .5h0m1.2-.7h0m.4-1.9h0m52.9 1.9h0m.9 .1h0m.2 .8h0m.1-.7h0m0-1.6h0m.3 .7h0m.3 .1h0m.6 1.4h0m.2-.4h0m.2-2.4h0m.8 2.8h0m.1-.7h0m1.8 .6h0m.8 .1h0m-110.2 1.1h0m.2 1h0m.1-1.9h0m.1 2.5h0m.3-.8h0m.2 .1h0m0-1.1h0m.2-.6h0m.2 .9h0m.2 .2h0m.5-1.2h0m0 1.9h0m.4-.2h0m.2-.8h0m.1 .3h0m.2-1.1h0m.6 1.1h0m.1-.1h0m.5-.9h0m.2 1.8h0m0 .6h0m.1-1.7h0m0-.6h0m.2 1.9h0m.2 .1h0m.1-1.8h0m0 1.4h0m.3-1h0m.2 .4h0m.1-.4h0m.2-.2h0m.1 .7h0m.2-1.1h0m.3 1.6h0m0 1h0m.3-1.8h0m.1-.9h0m.1 1.2h0m.2 1.3h0m.4-2.5h0m.2 .4h0m.3-.6h0m.2 1.7h0m.1-.2h0m0-.1h0m.2-1.4h0m.2 .1h0m.6 1.5h0m.3 .6h0m0-.8h0m.1-1h0m.2 2.2h0m.3-1.9h0m.3-.2h0m.1-.2h0m.1 1.3h0m.1-1.5h0m.3 2.2h0m0-1h0m.6-1.3h0m.2 1.8h0m1 .5h0m3.2-.3h0m.7 .2h0m0-1.8h0m.1-.1h0m.1 .3h0m0 .5h0m.1-.7h0m.2 1.9h0m.2-1.7h0m.7 1.4h0m.1 .9h0m.1-.6h0m.1-1.2h0m.3 .1h0m.4-.6h0m.1-.2h0m.2 .9h0m0-1.3h0m0 .5h0m.2 .7h0m.1 .3h0m.7-.3h0m0-.9h0m0-.3h0m.2 .1h0m.5 1.1h0m.2 .1h0m.3-.3h0m.1 .5h0m.1-.5h0m.2-.9h0m0 2.1h0m0 .5h0m0-1.3h0m0 .6h0m.3 .2h0m0-1.3h0m0 .3h0m0-.5h0m0 .8h0m.4-1.1h0m0 0h0m.2 .4h0m.1 .9h0m0-.3h0m.2 .5h0m0-1.7h0m.1 .7h0m0 1.7h0m.1-1h0m0-1.2h0m0 1.4h0m0 .6h0m.1 .1h0m0-2.6h0m0 1.7h0m.1-1h0m.3-.5h0m.1 1.6h0m.1 .1h0m.2-.6h0m0-.3h0m0 1.2h0m.1-.5h0m0-.3h0m.2-.8h0m.3 1.3h0m.2-1.5h0m.1-.3h0m0 2.2h0m.1-.4h0m.1 .1h0m.2-1.3h0m0 .1h0m.2 1h0m.3 .9h0m.1 0h0m0-.7h0m.2-1.5h0m.4 1.3h0m.1-.6h0m.3 .8h0m0 .3h0m0-2h0m.1 1.1h0m.5-.9h0m.2 0h0m.3-.2h0m.1 .7h0m.2 .2h0m.3-.9h0m1.5 2.5h0m.9-.1h0m0-1.7h0m.1-.2h0m.1 1.4h0m.2 .5h0m0-2.1h0m0 1.2h0m.3 .4h0m0 .7h0m.1-2.1h0m.1 1.8h0m0-1.1h0m.1-.5h0m0 1.2h0m.1-.3h0m.2-1.3h0m.2-.6h0m0 2.8h0m.1-1.1h0m.1 1.1h0m.1-1.8h0m.2 .7h0m.1-.6h0m0-.7h0m.1 2.6h0m.1-1h0m.3-1.6h0m.2 2.1h0m.4-1.7h0m.1 .4h0m.1 1.6h0m0-.1h0m0 0h0m.2-2h0m.1 .7h0m0 .2h0m.3 .5h0m.2-1.5h0m.4 .3h0m0-.3h0m.1 .8h0m.1-1.4h0m.1 2h0m.2-1.7h0m.4-.3h0m.3 1.5h0m0 .8h0m.2 .5h0m.4-.2h0m.1-2.5h0m.3 1.4h0m.6 1.5h0m.1-2.2h0m0 1.1h0m.2-1.3h0m.2 1.3h0m.1-1.6h0m.2-.1h0m.1 1.4h0m.1 .4h0m.2-.2h0m.3 .9h0m.1-.6h0m.3 .6h0m.3-1.7h0m.4 1.2h0m.5-2.1h0m0 .3h0m.4 1h0m.5-.5h0m.7 2.1h0m.5-.1h0m.2-1.1h0m.3 0h0m.5 .9h0m.1-.3h0m0-2.1h0m.3 1.4h0m.2 1.3h0m.1-.9h0m.3-.3h0m.2-1.7h0m.1 2.7h0m.2-1.2h0m.3 1h0m0-.3h0m.4-.1h0m.1-2.1h0m.2 .2h0m.2 .4h0m.5-.1h0m.8 2.3h0m.5-1.5h0m0 .6h0m.3 .4h0m.5 .5h0m.4-2.1h0m.8 1.2h0m0-1.7h0m49.9 2.5h0m.2-.5h0m1.4 .2h0m0-1.7h0m.9 2.2h0m.1-2.7h0m.3-.3h0m.3 2.8h0m.1-.8h0m.7 0h0m.5-1h0m.1-.6h0m0 .3h0m.5 .8h0m.3-.9h0m.2 1.9h0m.1-1.9h0m.3 .5h0m.8-.2h0m.3 1.9h0m.2-2.6h0m0 2.7h0m.1-1.2h0m.2 .1h0m.3 .9h0m.2-.1h0m0-.1h0m.5 .5h0m.3-.1h0m.3-1.6h0m0 1h0m.2-.7h0m.1-.8h0m0 2h0m.1-1.5h0m.1-1h0m.2 2.2h0m.1-2.1h0m0 1.4h0m0-1.2h0m.2 .6h0m.1 1.2h0m.6-.8h0m.4-.3h0m.4 1.7h0m1.1-.3h0m-113.7 2.2h0m1.2-1.5h0m.6 .5h0m.1 1.4h0m0-2.1h0m.4 2h0m.1-.6h0m.1-1.4h0m.4 .5h0m.1 .5h0m.1 1.2h0m0-2.1h0m.1 1.5h0m.3 1.1h0m0-1.1h0m.2-1.6h0m.3 .3h0m0-.2h0m.4 .2h0m.1 1.8h0m.3-.4h0m.2 .4h0m.2 .2h0m.1-2.3h0m.1 1.6h0m.1 .4h0m0-.5h0m.2 .2h0m.2 .3h0m.1-.6h0m0-1.6h0m.2 1.5h0m0 .5h0m.2-.1h0m0-1.3h0m0 .2h0m.1 0h0m0 .8h0m.3 .7h0m.3 0h0m.1-1.1h0m.2 0h0m0 1h0m.1-1.6h0m.1 1.2h0m.1-1.5h0m.3 1.4h0m.4 .2h0m.3-1h0m.5 0h0m.3-.2h0m.2-.6h0m.8 2.5h0m0-1.9h0m.2-.4h0m.6 .6h0m.4-.8h0m.1 2.1h0m.1-1.5h0m.1-.2h0m4 1.7h0m1-2h0m0 1.7h0m.4 .2h0m.4-.8h0m.1-.1h0m.1 .1h0m.2 1.3h0m.4-.1h0m.4 0h0m.1-2.1h0m.2 2.5h0m0-1.9h0m0 .2h0m.4-1.1h0m.5 1.2h0m.8 .5h0m0-1h0m0 .3h0m.4-1h0m.3 1h0m0-1.1h0m.1 .2h0m.2 2.3h0m.1-2.4h0m.1 2.7h0m.3-2.2h0m0 1.4h0m.1 .8h0m0-.4h0m.1-1.9h0m.6 .3h0m.4-.7h0m0 1.3h0m.2 1.1h0m.2 .4h0m0-2.8h0m.7 .9h0m0-.9h0m.7 .1h0m.3 .2h0m.1 .2h0m.1-.5h0m.1 .7h0m.2 0h0m.1 1.6h0m.1-.1h0m.2-1.6h0m.5 .4h0m.6-.2h0m.8 0h0m0 .4h0m.2 .1h0m.5 1.3h0m.5-.6h0m.2 .8h0m.1-.2h0m.2-2.6h0m.1-.1h0m.3 1.5h0m0-1.2h0m.1 1.7h0m.6 .2h0m.5-1.1h0m0 .7h0m.2-.8h0m.2 .5h0m.2-1.2h0m.1 .3h0m.1 .2h0m0 .8h0m.1-.8h0m.1 .3h0m.2-.9h0m.2 .3h0m.1 1.6h0m.9-.3h0m.1-1.3h0m.4 2.2h0m0-.2h0m0-.6h0m.3-1h0m.1-.8h0m0 1.6h0m0-1.6h0m.6 .6h0m.1 2.2h0m0-1.7h0m.3 .3h0m.2 .5h0m.4-.2h0m0-.7h0m.1 1.2h0m0 .3h0m.2-.4h0m0 .5h0m.1-.1h0m.4-.7h0m.1-1.1h0m.3-.8h0m.2 .1h0m.4 2.7h0m.1-.4h0m.2-1.2h0m0 .9h0m.6 .2h0m.2-.6h0m.1 .7h0m.4-.7h0m.1-1.6h0m.2 .7h0m.4 1.2h0m.5 .1h0m.1-1.5h0m.2 2h0m.9 .1h0m0-.2h0m.4-.9h0m.6-.6h0m0 1.3h0m.7 .6h0m.7-2.7h0m.3 1.2h0m.4 1.6h0m.1-.2h0m.4-2.7h0m0 1.8h0m.6 .3h0m.1-.5h0m.3-.9h0m.5-.7h0m1.3 1.7h0m.2 1.1h0m.6-1.2h0m.6 .5h0m.5 0h0m48.3-2.2h0m.2 1.1h0m1.1 .4h0m.4 1h0m.2-1.8h0m.1 2.3h0m0-.3h0m0-.6h0m.2-.7h0m.3-.5h0m.1 1.5h0m0-2.3h0m.1 2.6h0m.1 0h0m.3-.2h0m.4 .2h0m.2-1.1h0m.1 .7h0m1.2-.6h0m.4-.3h0m.1 .4h0m0-.1h0m.4 .4h0m.2 .5h0m.1-.8h0m.1-.6h0m.6 1h0m.7-1.2h0m.4 1h0m.2-.1h0m.2 .2h0m.2-1.8h0m.1 2.3h0m.1-2.1h0m.1-.1h0m0-.3h0m1.2 .4h0m.1 1.3h0m.5 .8h0m.2 .1h0m.2 0h0m.7-.1h0m0 0h0m.1 .1h0m.3 0h0m0-2.5h0m.2 2.6h0m.2-.4h0m.2-2h0m.2 .6h0m.3-.1h0m0 .6h0m.2 .4h0m.1-1.6h0m0-.2h0m.1 1.8h0m1.6 .1h0m1.3-.1h0m.1-.1h0m.3 .1h0m-113.9 2.1h0m1.9-.6h0m.7 .5h0m14.1 1.5h0m.2-.1h0m.1-.5h0m.6 .2h0m.1 .6h0m.6-1.9h0m.1 .6h0m.1 .6h0m0-.6h0m.1-.3h0m.2 1.9h0m.6-1.4h0m0-.8h0m.2 .9h0m.1 .7h0m0 .5h0m1-1.1h0m.6-.7h0m0 1.2h0m.2 0h0m.3-.2h0m.4 .5h0m.2-.3h0m.3-1.1h0m.1 1.1h0m.6-.3h0m.4 .2h0m.1 .7h0m.6 0h0m.2-2.1h0m.1-.3h0m.4 1.5h0m.3-1.4h0m1.1 1.1h0m.1 .9h0m.1-1.4h0m.1 .7h0m.8-1.2h0m.1-.5h0m.2 2.7h0m.1-1.9h0m.5 1.7h0m.2-1.6h0m0 1.9h0m.1-1.3h0m0-.2h0m.3 .9h0m.6-1.3h0m0 1.7h0m.2-.5h0m0-.3h0m.1 1h0m.2-2.7h0m.4 1.8h0m.1-1.4h0m.2 .7h0m.4 .3h0m0 .2h0m0-.8h0m.4-.1h0m0 .9h0m.1 .7h0m.3-.3h0m.1 0h0m.1-1.9h0m.2-.3h0m.4 .3h0m.3-.1h0m.7 .6h0m0 1.8h0m.1-1.6h0m.2-.5h0m.3 1h0m.9-1.2h0m0 1h0m.1 .8h0m.1-1.6h0m.2 .1h0m.6 0h0m0 2.4h0m.1-1.5h0m.1 .4h0m.3 .6h0m.3-1.7h0m.1 .5h0m.2 0h0m.3 .4h0m0-1.1h0m.2 .5h0m0-.2h0m.1-.2h0m.4 1.8h0m.1-1.3h0m0 .4h0m0-.4h0m.1-1.1h0m.1 .5h0m.2-.4h0m.3 1.2h0m.1-1.2h0m.1 2.2h0m.1 .2h0m0-.8h0m.1 0h0m.1-1.6h0m.2 0h0m0 2.3h0m0 .5h0m.1-1.2h0m0-.5h0m0 1.6h0m.2-1.4h0m.1-.3h0m0 .3h0m0-.6h0m.3 1.9h0m0-1.6h0m0 1.5h0m.4-.6h0m.1-.2h0m.2-1.2h0m.3 1h0m.2-1.3h0m.1 1.7h0m0-1.1h0m.4 1h0m0 .2h0m.2 .7h0m0-1.4h0m.6 1.4h0m.3-.6h0m.3 .5h0m.2-2.7h0m.4 2.4h0m1.2-2h0m0 1.4h0m.1 .2h0m.1-2h0m.9 .2h0m.8 .4h0m.8 0h0m.2 .4h0m47.7 .8h0m.3 .6h0m0 .2h0m.1-.6h0m.3-.2h0m.1-1.7h0m.1 1.5h0m.1 1.1h0m.1-1.4h0m.2-.6h0m.2 .2h0m.2-.1h0m.5 .6h0m.5 1.5h0m.1-.6h0m.2-2.3h0m.2 .5h0m.2 1.5h0m0 .4h0m.2 0h0m.1-1.6h0m0-.7h0m.2 0h0m.2 1.6h0m.1 1.1h0m.2-.5h0m.1-1.7h0m0 1.2h0m.1-1.4h0m.1 2.1h0m.1-2.3h0m.3 .4h0m.1 .3h0m.2 .3h0m.2 1.4h0m.3-.6h0m0-.8h0m.1 .2h0m0 .4h0m.7 1.1h0m.2-1.2h0m.2-.2h0m0 0h0m.2 1.3h0m0-2.2h0m.2-.4h0m.1 1h0m0 1.4h0m0-.9h0m.1-.1h0m.1-.3h0m.6-.3h0m.2 1.3h0m0-1h0m.2 1h0m.3-1.7h0m.3 1.8h0m.2-1.9h0m.3 2.3h0m.3-.1h0m.1-.9h0m.1-1.1h0m.1 .8h0m0 1.2h0m.1-.7h0m.2-1.3h0m0 2h0m.1-1.4h0m.1 .8h0m.1-.5h0m.6 .1h0m.1-1.2h0m0-.5h0m.1 .2h0m0 1.6h0m.4-1.8h0m.1 1.2h0m.2-.4h0m.1 .5h0m1-1h0m0 2.3h0m.4-.7h0m.2 .3h0m0-.4h0m1.2-.3h0m.2-.8h0m0 1.5h0m.1-2h0m.4 1.6h0m.4-.6h0m.2 .5h0m.7-1.6h0m.4 1.5h0m.2-.7h0m.2 1.6h0m-97.3 1.7h0m.2-.2h0m.1-.7h0m.4 2h0m0 .1h0m.1 .3h0m.2-1.6h0m.3 1.6h0m.2-2.6h0m0 1.5h0m.1-1.6h0m.2 2.1h0m.3-1h0m.2 1.7h0m.1-2.1h0m.4 1.8h0m.1-2.4h0m.1 2.7h0m.6-2.7h0m.2 2h0m.2-.9h0m.1-.1h0m0 .8h0m.3-2h0m.1 .3h0m.5 1.4h0m.1-.8h0m.2-.5h0m.4 2.5h0m0 .1h0m.1-.3h0m.3-2h0m.6 .2h0m.1 1.4h0m.2-1h0m.1-1.1h0m.3 .9h0m.3 1.3h0m.5 .4h0m0-.8h0m2.6-1.4h0m.3-.4h0m.1 1.3h0m0 1.2h0m.2 0h0m.2-.6h0m.3 .8h0m0-1.6h0m.1-.5h0m.1 1.4h0m0-1.4h0m.1-.5h0m.3-.1h0m.4 .5h0m0 .8h0m.3 .4h0m0-.7h0m.2 1.3h0m.1-2.4h0m.4 2.7h0m.1-.5h0m0 .1h0m.3-.1h0m.1-.4h0m.6-.4h0m.3-1.1h0m.8 2.2h0m.6-.4h0m.1-1.5h0m.1 1.3h0m.1-1.7h0m.2 .7h0m0 1.1h0m.1 .1h0m.1 .7h0m.6-1.7h0m.1-.4h0m.8 1.5h0m.1-2.1h0m.4 2.2h0m.7-2.2h0m0 .6h0m.2-.7h0m.1 .1h0m.8 1.5h0m.1-.6h0m.3-.9h0m.1 .1h0m.2 .2h0m.1 0h0m.3-.4h0m0 .6h0m.2 .6h0m.1-1.3h0m0 1.6h0m.1 .9h0m.1 .2h0m.2-1.6h0m0 1.2h0m.1-2h0m0 .9h0m0-.4h0m.2-.1h0m.2 .5h0m.2 1.7h0m0-1h0m.2-1.3h0m0-.3h0m.1 2h0m0-1.4h0m0 .2h0m.1-.2h0m.1-.5h0m0-.3h0m0 1.9h0m.3-.2h0m0-1.4h0m.3 1.6h0m0-1.1h0m0 .1h0m.2-.5h0m.1 2.2h0m.4 .1h0m.6-2.5h0m0 .9h0m.5 1.2h0m.5-1.7h0m.1 1.4h0m2.7-1.2h0m39.7 .2h0m.9 1.3h0m.5-1.1h0m0-.5h0m.2 .5h0m6.7 .3h0m.1 .8h0m1-1.7h0m0 1.9h0m1-1.1h0m.2 0h0m.2-.7h0m.4 2.1h0m.3-2.7h0m.2 .9h0m.3-.9h0m.1 .8h0m.4-.7h0m.5 .9h0m0-.8h0m2.1-.1h0m.2-.2h0m.1 2.6h0m.1 .1h0m.1-2h0m.2 0h0m.3 .1h0m0 .8h0m.1-.8h0m.3 1.2h0m.2 .5h0m.3-.6h0m.1 .2h0m.4-.5h0m.2-1.5h0m.1 .7h0m0-.6h0m.8 2.6h0m0-1.8h0m.3-1.1h0m.1 .9h0m.6 1.6h0m.2-2.1h0m.2 .7h0m.1 .6h0m.4 1.1h0m0-2.4h0m.2 .9h0m.8 1h0m.4 .4h0m.3-.8h0m0-1.8h0m.2 0h0m.2 2.1h0m.1-.2h0m.4-.8h0m.1 .5h0m0-.4h0m.1-.3h0m.6 1.5h0m.1-1.5h0m.1 1h0m.2-1.5h0m.4 1.9h0m0 0h0m.1 .5h0m.3-1h0m.2-.8h0m.2 1.5h0m.3-.2h0m.7 .2h0m0-1.9h0m.3 1.4h0m.4-.1h0m0-1.9h0m.2 1.5h0m.4 .9h0m.1-2.3h0m.1 2.4h0m.1-.8h0m.5-1h0m.2 1.5h0m.3-1.1h0m.1 1.4h0m3.4-.1h0m-101.5 1h0m.1-.4h0m.1-.1h0m.1 .6h0m1-.2h0m0 .8h0m.3-.9h0m.6 0h0m.3 2h0m.8-1.9h0m.1 0h0m.3 .2h0m.3 .4h0m.3-.1h0m.6 .1h0m.3-.7h0m1.1 0h0m4 2.1h0m.1-.7h0m.2-1.6h0m0 2h0m.2 .2h0m.1-1.9h0m.9 .6h0m.6 0h0m.1 1.4h0m.1 .4h0m0-2.6h0m.3-.1h0m.1 .8h0m1.3 .4h0m.1-.2h0m.1-.2h0m0 1.1h0m.3-.8h0m.3 .3h0m.4-1h0m0 1h0m.1-1.3h0m1.3-.1h0m0 2.6h0m.2 .1h0m.1-.9h0m0-1.4h0m.1 .3h0m.3-.6h0m.1 .2h0m.4 .7h0m0 .9h0m.4 .8h0m.2-.2h0m0-2.2h0m.8 2.6h0m.3-1.5h0m.1 1h0m.2-2.1h0m.1 .7h0m0-.3h0m0-.2h0m.1 2.4h0m0-.4h0m.1-.1h0m.2-2.4h0m.2 2.8h0m.2-.3h0m0-2.1h0m0 1.8h0m.2-1.6h0m.4-.3h0m.1 .5h0m.4 .9h0m0 .8h0m.5-.4h0m.1-1.7h0m.1 1.6h0m0-1.7h0m.1 1.3h0m.2-1.2h0m.3-.4h0m.4 2.5h0m.3-.9h0m0 .5h0m.2-2.2h0m0 2.5h0m.6 .3h0m.1-2.3h0m.1 .2h0m.8 1.7h0m31.9 .4h0m3.3 .2h0m.5-.1h0m7.3-1.3h0m.6 .1h0m.7-1.4h0m.9 2.7h0m.2-1.8h0m.2 1.2h0m1.2-1.3h0m.4 .7h0m.4 .3h0m.1 .3h0m3.5-1.2h0m1.1 .4h0m.2-1.2h0m.2-.2h0m.6 2.5h0m.1-.2h0m0-2.3h0m.1 1.5h0m0-1.6h0m.1 1.4h0m.6-.8h0m0 1.4h0m.5 .1h0m1.9-1.5h0m0-.5h0m.3-.1h0m0 .1h0m.2 .3h0m.5 .8h0m.5-1.1h0m.2 .4h0m.2 .6h0m.1 .7h0m.5 1h0m.1-1h0m0 .8h0m.2-.4h0m.2-.4h0m.2 .1h0m.1-1.8h0m.1 2.3h0m.2-.8h0m.2 .4h0m.3-1.4h0m.1 .6h0m.1 1.4h0m.4-1.2h0m.3-1.5h0m.6 2.3h0m0-1h0m0-1.1h0m.4 .3h0m.2 .8h0m1-1h0m.1 .1h0m0 .3h0m.4 1.3h0m.1-.8h0m.6 .7h0m0-1.2h0m.2-.6h0m0 2.7h0m.3-2.4h0m.3 0h0m.3-.4h0m.5 1.3h0m0 1.3h0m.1 .2h0m0-2.7h0m.9 1.3h0m.3-1.4h0m0 .9h0m.2 .3h0m.1-.2h0m.6-.4h0m0 2h0m.8-.7h0m.3-1.4h0m.6 1.2h0m.4 1h0m0-.6h0m.4-1.7h0m0 0h0m0-.1h0m.3 2.5h0m.2-1h0m-87.3 3.8h0m.4-.7h0m.2-.1h0m.4 1.2h0m.6-.3h0m1.1-2.4h0m.2 .5h0m.4 1h0m.1-.1h0m.1 .1h0m0 1h0m.3-1.8h0m.1-.8h0m.2 .4h0m.1-.2h0m.3 1.3h0m.1-1.1h0m.1-.4h0m0 1h0m.3 1.8h0m.2-1.5h0m.1 .7h0m.1-2h0m.1 .1h0m.1 1.7h0m.2-1.8h0m.2 .5h0m.2 1.5h0m.1-.9h0m.2 .4h0m.1 .6h0m.1-1.6h0m.1 .4h0m.2-.7h0m.3 2h0m.1 .3h0m0 0h0m0-.6h0m0-.3h0m.1-.8h0m.1 1.6h0m0-1.9h0m0 1h0m.1 .6h0m0-.3h0m.1-1.6h0m.1-.4h0m.1 2.4h0m.2-2.2h0m.1 .2h0m.1-.4h0m0 1.7h0m0-.6h0m0 .2h0m.1 .3h0m.1-1.6h0m.1 1.7h0m.1-1.4h0m.2 .3h0m0-.2h0m0 1h0m.1-.8h0m.1 .3h0m0-.6h0m0 1.3h0m0 .1h0m.1-1h0m0 .3h0m.1-.1h0m0 .6h0m.1-1h0m0 1.3h0m.1-1.2h0m.2-.2h0m.2 .3h0m0 1.1h0m.1-1.6h0m.1 0h0m.1 1.5h0m.2-1h0m0 .5h0m0 1.1h0m.5-1.5h0m.1 1h0m.2-1.4h0m0 1.9h0m0-1.8h0m.4 .1h0m.2 1.9h0m.3-1.3h0m0 0h0m0-.8h0m.2 2.4h0m.2-1.5h0m.1-.2h0m.1 .4h0m.6 1.2h0m0-.5h0m.1 0h0m.1-1.7h0m.5 2.1h0m.3-1.9h0m.4 1.1h0m.7-1.8h0m27.5 2.9h0m1.6 .1h0m.7-.4h0m.5-.1h0m.4 0h0m.1 0h0m.1 0h0m0-2.1h0m1.4 2.4h0m.1-.2h0m0 .3h0m0-.6h0m.2 .1h0m.3 .2h0m.6-.9h0m.6 .9h0m.4-2.1h0m.2 2h0m.5-.1h0m.1-.1h0m0-.8h0m.2 1.2h0m.4-2h0m.3 .5h0m.6 .9h0m.1-.3h0m1.6-1.3h0m6.3 1.3h0m.2 .8h0m.5-.8h0m.5 .6h0m.4-1.4h0m.8 0h0m.3-.2h0m0-.3h0m0-.3h0m1.1 2.4h0m.2-.7h0m0-.2h0m.2-.9h0m.6 0h0m.2 1.4h0m.6-1.3h0m.6-.4h0m.6 1.8h0m.9 .3h0m.3-.3h0m.6-.1h0m.2-.5h0m.5 1.1h0m.3 .1h0m.2-.1h0m.2-2.7h0m.6 .3h0m.6 2.1h0m.2 .2h0m.3 0h0m.9-2.2h0m.3 1.5h0m.1-.4h0m.3-.6h0m.2 .1h0m.1 1.9h0m.1-.2h0m0-1h0m0-1.6h0m.2 .2h0m.5-.2h0m.4 1.2h0m.1 .3h0m.2 .3h0m.6-1.1h0m.1-.6h0m.1 1.2h0m.2 .1h0m.2-1.4h0m.1-.2h0m.3 .2h0m.2 .7h0m.1 1.3h0m0-2.1h0m.9 0h0m.2 .5h0m.1 .4h0m.1-.5h0m.1 1.1h0m.2-.7h0m.1-.2h0m.2 1.1h0m0-1.5h0m.2 .4h0m.1-.4h0m.2 1.2h0m.8-1.5h0m.2 1.2h0m0 1.7h0m0-1.5h0m.2-.8h0m.1 1.7h0m.4 0h0m.7-.6h0m.1 .8h0m.1-1.9h0m.4-.4h0m.2 2.6h0m.5-2.7h0m.3 0h0m.1 .3h0m0 2.4h0m.2-2.7h0m.4 2.3h0m.3-2.4h0m.2 2.1h0m.2 .5h0m.1-1.1h0m.3-.3h0m.1 0h0m0 1.1h0m.3-2.2h0m.5 2.1h0m.3 .2h0m.1-2.1h0m.1 .8h0m.8 .7h0m-87.5 1.4h0m1 2.1h0m.5-.8h0m.8 .6h0m0 .8h0m.3-1.2h0m.1-1.3h0m0-.3h0m.1 2.9h0m.2-2.1h0m.2 1h0m0-1.4h0m.9-.3h0m.1 1.5h0m.7 .3h0m.4-2h0m.2 2.2h0m.1-.2h0m.3 .4h0m.3-.9h0m.1-.1h0m.3 .1h0m.1 1.2h0m0 .1h0m.7-.7h0m.1 .4h0m.1-2.2h0m0 .2h0m.5 1.6h0m.8-1h0m.1-.8h0m.1 .3h0m0 .3h0m.3 .7h0m.3 .2h0m.1-1.7h0m.1 1.8h0m0-1h0m.1 2.1h0m.1-2.7h0m.2 .6h0m.2 .9h0m.2 .5h0m.2-.5h0m.1-1.5h0m.4 .1h0m.2-.3h0m.2 .2h0m.1 1h0m.3 1.1h0m0-1.9h0m.1 0h0m.3-.3h0m.4 1.8h0m.1 .2h0m0-.6h0m.1-.4h0m.7-.8h0m27.9 .1h0m.8 .8h0m.1 .2h0m.4 0h0m.2-1.5h0m.1 .8h0m.2 1.3h0m.4-2.1h0m.4 2.6h0m.6-1.6h0m.1-.8h0m.6 1.5h0m.1 .4h0m.7 .1h0m.5-1.3h0m0 1.2h0m.2-.5h0m.1-1.5h0m.4 2.7h0m.1-1.9h0m.2 .8h0m0 1.2h0m.1-.9h0m.1-.8h0m0 1.6h0m0-1.5h0m.1 1.1h0m0-1.2h0m.1-.9h0m.4 1.7h0m0 .5h0m0 0h0m0-.2h0m.1 0h0m.1-2.1h0m0 1.6h0m.4-1.1h0m.3 1h0m0 .8h0m.1-.7h0m.1 .5h0m.8 0h0m.4 .4h0m.2-2.7h0m.2 1.6h0m.3-.8h0m.3-.2h0m.3 2h0m.3-1.2h0m.2-1.2h0m.3 1.4h0m.1 .8h0m.2-1.3h0m.4 1.7h0m1-1.8h0m5-.7h0m1.1 1.7h0m.3-.5h0m0 1.3h0m.4-.6h0m0 .1h0m.5-.8h0m1.2 1.1h0m1.2-.8h0m.2 .4h0m.3-1.4h0m.2 .8h0m.1 1.2h0m0-2.6h0m.5 1.5h0m.5 1.1h0m.1-2.3h0m.3 2.3h0m.3-1.2h0m1.1-.6h0m.5 .3h0m1.1 .2h0m.8 0h0m.5 .5h0m.4-.5h0m.5 1.3h0m.2-1.1h0m.1-.9h0m.2 .6h0m.3-1.2h0m0 .5h0m.4 .1h0m0 .4h0m.2 .3h0m0 .4h0m.1-1.2h0m.4 .6h0m.1-.7h0m.1-.5h0m.1 1.5h0m.1 0h0m0-.8h0m.2 0h0m0 1.3h0m.2-1.2h0m0 .5h0m.3 .4h0m0-.6h0m.2 .4h0m0 1h0m.3-.3h0m.1-1.8h0m.1 0h0m0 .8h0m0 1.1h0m.2-.5h0m.2-1.1h0m.2-.2h0m0-.5h0m.1 1.1h0m.1-.8h0m.3 .7h0m.4-1h0m0 2.2h0m.2-2h0m.6 1.7h0m.4-1.8h0m.1 .6h0m.1 2h0m.4-.2h0m.1-2.1h0m.1-.1h0m.1 1.7h0m.7-2.1h0m.4 2.5h0m.1-2.1h0m.1-.2h0m.2 1.9h0m0-1.4h0m.4 2.1h0m.1-.5h0m.5-2.3h0m.4 2.6h0m0-2.5h0m.2 1.7h0m.5-1.1h0m.3 1h0m.2 1.1h0m0-1.9h0m.2 1.1h0m.1 .3h0m.3-.3h0m0-1.4h0m.6 1.3h0m.4-1.2h0m.1 1.8h0m.8 .4h0m0-.6h0m.4-2.1h0m.2 .1h0m.1-.1h0m.4 2.4h0m-84.4 .9h0m.1-.3h0m.4 .2h0m.5 .7h0m.3 1h0m.2-1h0m.1 1.2h0m.7 .1h0m.1-1.2h0m0 .5h0m.2 .9h0m.4-.8h0m.2-.6h0m1.2-.4h0m.1 .4h0m.4 1h0m.3-.8h0m.2-.5h0m.2 1.9h0m.3-1.8h0m.6 .2h0m.3 .2h0m.1-.3h0m.2 1.4h0m0-1.6h0m.6 1.4h0m.3-1.1h0m.8-1.1h0m.2 .5h0m.2 .5h0m.2 1.7h0m.6-1.2h0m.7 .1h0m2.1-1.1h0m27.4 .1h0m.7-.2h0m.3 .2h0m.1-.1h0m.8 1.9h0m.1-2.2h0m.3 2.2h0m.2-.4h0m.2 .4h0m0-.8h0m.2 0h0m.1 .8h0m.1-1.8h0m.1 1.1h0m.1 .4h0m0 .3h0m.4-.5h0m.7 .2h0m0-1.9h0m.1 .7h0m.2 .5h0m.2 .4h0m.1 .6h0m0-2.2h0m.2 2.4h0m.1-2.2h0m0 1.2h0m.7 1.1h0m0-1.7h0m.5 1.8h0m0-1.4h0m.1 .1h0m.3 1.3h0m.1-.2h0m0-1.5h0m0 1h0m.1-1.9h0m.1 0h0m0 2.6h0m.1-2.5h0m.1 .9h0m.1-.3h0m0 .8h0m.7 .1h0m.1 .8h0m0-1.3h0m0-1h0m.3 .2h0m.1 1.5h0m.2-1.4h0m0 1h0m0-.9h0m.1 1.6h0m.1 0h0m.1-.9h0m0 1.2h0m.2-.3h0m.5-1.9h0m.5 1.2h0m.4-1.4h0m0-.1h0m.8 .3h0m6.3-.2h0m.2 1.4h0m.7 .6h0m.3-.9h0m.1 .1h0m.2 .6h0m.3-1h0m.2 1.8h0m.1-.4h0m1.1-1.5h0m.2 .2h0m.1 1.1h0m.7-.5h0m.1-1.3h0m1 2.1h0m.2-.8h0m.3-.8h0m.5 1.4h0m.1-.8h0m0-.3h0m.1-1.2h0m.1 2.8h0m.5-2h0m.1 0h0m0 1h0m.3-1.7h0m7.6 0h0m2.4 1.1h0m.3-1.2h0m.1 1.6h0m.1 .2h0m.3-1.9h0m0 1.9h0m.4-.7h0m.4 .3h0m.1 .2h0m.1 .5h0m0 .2h0m.6-.5h0m.1-.9h0m0 .3h0m.1 1h0m.2-2.3h0m.7 1.4h0m.1 1.1h0m.2-2.2h0m.2 .8h0m.4 .9h0m0 .2h0m.4-.6h0m.2-.6h0m.1 .7h0m.1-1.5h0m.2 .2h0m.6 1.8h0m.1-1.7h0m.4 0h0m.5 .9h0m.5-1h0m-75.3 3.7h0m3.9-.8h0m30.8 2h0m.7-1.7h0m.4 .1h0m.2 .5h0m.4 0h0m.1-.6h0m.9 .1h0m.6 1.2h0m.1-.3h0m.6 .2h0m.5-1.8h0m.1 .9h0m.2-.3h0m.1-.5h0m.1 .6h0m.7-.6h0m.1 0h0m.7-.1h0m11.9 1.2h0m.6 1.4h0m.5-2.1h0m.1 1.4h0m.4 1h0m.5-2.3h0m.1 .9h0m0-.6h0m.7 .7h0m.4 .1h0m.5 .1h0m.5-.5h0m.5 0h0m.7 .9h0m.4 .7h0m.4-.2h0m-5.7 1h0m.4-.1h0m.2 .5h0m0-.5h0m.5-.5h0m.5 .6h0m.6 .4h0m0 .8h0m.6-.9h0m.1-.6h0m0 1.5h0m.4-1.1h0m.1-.2h0m0 2.2h0m.2-2.5h0m.2 1.6h0m.2-1.9h0m.2 .2h0m.1 1.5h0m1.7-1.2h0m.1 2.5h0m.4 0h0m-2.9 .7h0m.2-.3h0m3.4 .6h0m-38.1 3.5h0m.6-.6h0m.1-.1h0m0 1.9h0m.3-1.7h0m.1 .6h0m.4 .4h0m-27.9 20.9h0m32.6-.8h0m.1 1.6h0m.5 .2h0m.1-.9h0m1 .5h0m.1 .1h0m1.6 .2h0m4.9-.1h0m-42.9 1.9h0m.1-.3h0m.2-.3h0m0 1.5h0m.2 .2h0m.1-.9h0m.1 1h0m.1-1.1h0m.2 1.1h0m.2 .1h0m.1 0h0m0-.3h0m.2-2.5h0m.1 1h0m0-.7h0m0 2.6h0m0-1.4h0m.2 .3h0m.3 .5h0m.1-.1h0m.2-1.4h0m0 .4h0m0-.8h0m.2 1.5h0m0-.1h0m.1 .6h0m0-.3h0m0-1.9h0m.1 2.3h0m0-2h0m.3 2.2h0m0-2.5h0m.2 2.4h0m.1-2.3h0m.1 1.6h0m.9 .7h0m.3-2.1h0m.1 1.9h0m.1-.6h0m.5-1.3h0m0 1.3h0m.1-.5h0m.2-.8h0m.2 0h0m.1 .6h0m.1-1.2h0m0 1.1h0m.4 1.6h0m.4-.4h0m0-.6h0m.3 .6h0m.1 .3h0m21.5-.1h0m1.9-1h0m1-.4h0m0 .1h0m.4 1.6h0m.1-1.9h0m.1-.1h0m0 1.4h0m.3-1.7h0m.2 1.1h0m.6-1.4h0m.1 1.1h0m1.2-1.3h0m.2 2.4h0m.1 .3h0m0-2.2h0m.1 2.4h0m.2-1.6h0m.2 0h0m0 .9h0m.1-1.3h0m.3 1.8h0m.1-2.1h0m.3 .6h0m.1-.3h0m.5 .2h0m.4 1.3h0m.2-2.3h0m0 2.4h0m.3-2.1h0m.1 0h0m.3-.3h0m.1 2.2h0m.2-1.2h0m.2 .7h0m0-.8h0m.3 .1h0m.1 .6h0m.2 0h0m.2-.1h0m0-.6h0m.2 .2h0m0 .3h0m.1-.1h0m.3 .9h0m.1-1h0m.4 .3h0m.2 .5h0m0 .4h0m.7-1.3h0m.5 1.2h0m0-1.9h0m.3 1.2h0m0 .9h0m.1-.3h0m.3 .2h0m.1-1.5h0m0 .2h0m.1 1.5h0m.2-2.5h0m.3-.2h0m.3 2.4h0m0-1.6h0m.1 1.1h0m.4-.9h0m.1-.7h0m.3 .3h0m.3-.5h0m.2 1.1h0m.1 1.3h0m.3-.6h0m1 .6h0m0-1h0m.3-1.1h0m.1 2.2h0m1.8-1.5h0m0 .4h0m.4 .1h0m2 .5h0m-51.2 1.5h0m.1-.1h0m.5 .9h0m.3-1.1h0m0-.2h0m.3 .5h0m.1-.2h0m.3 1.5h0m.1-.2h0m.2-.8h0m0 1.2h0m.4-1.8h0m0 1.6h0m.1-.3h0m.3-.3h0m0 0h0m.1 1.1h0m0 .3h0m.1-2.7h0m0 1.3h0m.4 1.4h0m.1-1.9h0m0-.2h0m.2 0h0m0 1.2h0m.1-.4h0m.4 .7h0m.1-1.3h0m0 .2h0m0 .7h0m.4 .3h0m.2-.6h0m.1 0h0m.4 .9h0m.1-.9h0m0-1h0m.1-.3h0m.2 .2h0m0 0h0m0 1h0m.3-1.1h0m0 2.7h0m.2-2.1h0m0 .3h0m0 0h0m0 .6h0m.3-.9h0m0-.1h0m.3 1.7h0m.1-.4h0m0-.3h0m.1 .5h0m0-.1h0m.2-1.2h0m0 1.2h0m.2-.2h0m.1-.2h0m.2 .7h0m0-.4h0m0 .5h0m.2-1.2h0m.6 .8h0m.8 .4h0m1.4 .3h0m.2-.3h0m13.5-1.4h0m2.5 1h0m.2 .3h0m.5-.9h0m.3 .4h0m0 1.1h0m.1-1.7h0m0-1h0m.3 .2h0m.3 1.4h0m0 .6h0m.1-.6h0m.4 .4h0m.1-.8h0m.3-.6h0m.2-.3h0m.1 1.1h0m0-.7h0m.1 1.9h0m.3-1h0m.1-.8h0m0 1.4h0m.1-.1h0m.3-1h0m.2-.4h0m.2 1.7h0m.2-.7h0m0-.8h0m.3-1.1h0m0 2.5h0m0-.9h0m.2-1.4h0m.1 .7h0m.2 1.5h0m1-.5h0m.8 .1h0m.1 .4h0m0-.1h0m.1-.7h0m.1-1.2h0m.6 1.9h0m.4-.3h0m.3 .5h0m.1 0h0m0-1.9h0m.2 1.9h0m.1-.8h0m.1 1.1h0m.2-.9h0m0-.4h0m.2-1h0m.1 1.8h0m.2-1.5h0m0 .7h0m.3 .7h0m.1-1.3h0m.1 1.7h0m0-.3h0m.1 .2h0m.2 .2h0m0-2.6h0m.2 .6h0m.3 .9h0m.3-.3h0m.1-.8h0m.1 1.9h0m.6-.8h0m.2 .9h0m0 .3h0m0-1.9h0m.1-.3h0m.2-.4h0m.2-.1h0m.4 1.2h0m.1-1.3h0m.1 1.7h0m0-.9h0m.7 1.1h0m.5-1.4h0m.2 .6h0m.6-.5h0m.2 1.9h0m.4-1.5h0m.9 .7h0m.1-1h0m0-.2h0m.1 .8h0m.2-1h0m.3 1.9h0m0-.4h0m0-.6h0m.6-.9h0m.1 .1h0m.2 .1h0m.1 .6h0m.3 .2h0m.1 1.4h0m.2-2.3h0m.2 1.6h0m.2-1h0m0-.8h0m0 1.1h0m0 1.3h0m.4-.7h0m.3 .1h0m.1 .8h0m.1-2.3h0m0 .8h0m1.2-1.1h0m.1 1h0m0 .2h0m-46.2 1.7h0m.5 .5h0m.6 0h0m0-.1h0m.3 .6h0m0-.5h0m.1 .1h0m.9-.5h0m.2 1.3h0m.1-.5h0m.1-.1h0m.2 .1h0m1 0h0m.3-.7h0m2-.3h0m.3 .6h0m.9 0h0m0-.4h0m.2 1h0m.5 .1h0m1.6-.1h0m0-.3h0m.1 0h0m0-.3h0m0 1h0m.3 .2h0m.1-1.7h0m.2 1.2h0m.1-.3h0m.1 .8h0m.5-1.2h0m.3-.5h0m.1 2.3h0m.4-.5h0m2 .4h0m0-1.2h0m.5 .1h0m.2 .1h0m.5 1.1h0m.2-.4h0m.9-.1h0m0 0h0m.5 .5h0m6.1-1.7h0m0 1.3h0m.3-2h0m.3 2.3h0m.1-.1h0m.4-.8h0m.3 1.1h0m.4-1.5h0m.3 1.5h0m.2-1.8h0m0 .9h0m.2-.4h0m0 .4h0m.2-1.1h0m0 1h0m0 .7h0m0-.4h0m0-1.7h0m.1 .3h0m.3 1.5h0m0-1.7h0m.4 1.3h0m.3-1.5h0m0 .4h0m.1 1.7h0m.1-.5h0m.3 .7h0m0-1.9h0m0-.2h0m.3 1.1h0m.3-1.1h0m0 1.3h0m.1-1h0m.5 .1h0m.4 2.2h0m.1-1.3h0m.2-1.5h0m.1 1.4h0m0-.3h0m.1 .7h0m.1 .9h0m0-1.9h0m0-.3h0m.3 1.3h0m.2 .8h0m0-.8h0m0-.2h0m0 .3h0m.2-.8h0m.3 .2h0m.3 1.2h0m0-1.9h0m.2 .3h0m.1-.9h0m.1 1.7h0m.1-.8h0m.1 1.8h0m.2-.9h0m0 0h0m1.1-1.3h0m.1 2.1h0m.1-2.2h0m.3 .8h0m.1-.6h0m0 .1h0m.3 1.7h0m.2-.9h0m0 1.2h0m.1-2.5h0m.2 .6h0m0 1.8h0m0-.2h0m.8-1h0m0-1.5h0m.3 .2h0m0 0h0m.3 1.7h0m.2 .3h0m.4-1.2h0m.3-.5h0m.2 .3h0m.2 .1h0m.1 .7h0m.1-1.1h0m.1 .3h0m0 .7h0m.3 .1h0m.4 .7h0m.2 .7h0m0-.3h0m.2 .1h0m.1 .2h0m.1-1.4h0m0-.5h0m.4 .5h0m0-1.5h0m.1 1.1h0m0 1.5h0m.1-1.7h0m.3 1.5h0m.1-.2h0m.1-.7h0m0 .6h0m.1 .2h0m0-.3h0m.2 .3h0m.3-1.5h0m.1-.8h0m.3 1.7h0m0 .4h0m.1-.1h0m0 .2h0m.2 0h0m0-.7h0m0-1.5h0m0 .3h0m.3 .5h0m.1 .1h0m.2 1h0m0 0h0m.1-.4h0m.2 1.4h0m.3-1.4h0m.1 .1h0m.1 1.1h0m0-1.2h0m.1 .7h0m0-1.5h0m.1 1.9h0m.1 0h0m.1-1.6h0m0 1.4h0m.2-.6h0m.2 .6h0m0-.4h0m.1-.7h0m0 1.5h0m.4-1.1h0m.1-1.6h0m.4 2.6h0m0-2h0m0 1.6h0m.3-2.4h0m.3 .7h0m.2-.7h0m.1 .8h0m0 .3h0m0-.8h0m.4 0h0m.2-.1h0m.3 .5h0m0 .4h0m.9-.7h0m-33.1 2.7h0m1.8 0h0m.2 .2h0m.9 .1h0m1.2-.1h0m.3 1h0m.6-.6h0m.5 .2h0m1.8 .7h0m.2 1.1h0m.4-1.9h0m.3 1.1h0m0 .9h0m.3-.1h0m.9-1.4h0m.1 .3h0m.1-1.6h0m.2 3h0m0-2h0m.1 1.1h0m0-1.5h0m.2 2.3h0m0-1h0m.1 .4h0m.1-1.3h0m0 1.9h0m.4-1.9h0m.1-1h0m.5 1.3h0m.1 1.7h0m0-2.3h0m.1 1.6h0m.2 .7h0m0-1.3h0m.2-.9h0m.1-.2h0m.2 2.2h0m0-.6h0m.3 .6h0m.1 0h0m.1-2.3h0m0 1.7h0m0-.5h0m.1-.4h0m.1 1h0m.3-.4h0m.1 1.1h0m.3-2.6h0m.1 1.7h0m.2 .6h0m.3-.3h0m0-2.4h0m.1 2.8h0m.3-1.9h0m0 1h0m.1-.7h0m.1 1.5h0m.3-2.5h0m.1 1h0m.4-.2h0m.2 1.4h0m0-1h0m0-1.2h0m.1 1.7h0m.2-1.9h0m.5 .6h0m.1 1.4h0m.4 .8h0m.2-1.2h0m.2 .8h0m.2-1.5h0m.6 1.5h0m0-1.1h0m.2 1h0m.4 0h0m0-.5h0m.4 .8h0m.2-1.6h0m.1 .8h0m0-.8h0m.4 1.8h0m0-2.3h0m.1 1h0m.1-.2h0m0-.1h0m.1-.8h0m0 1h0m1.4-1.4h0m0 .2h0m.5 1.6h0m0 .2h0m.1 .1h0m0-1h0m.1 .1h0m.4 1h0m.2-1.3h0m.2 .4h0m0 1.1h0m0 .4h0m.6-2.6h0m0-.1h0m.1 .6h0m0 .6h0m.7-.9h0m.2-.1h0m1.2 .8h0m.5-.7h0m.2 .8h0m.2 .8h0m.2-2h0m.2 1h0m.1-.5h0m.1 0h0m.1 2.1h0m.1-2.1h0m.1-.4h0m.4 .4h0m.2-.3h0m.2 .9h0m0 1h0m.5-1.5h0m0 .7h0m.5-.6h0m.5-.3h0m0 2.5h0m0-.2h0m.1-1h0m.2 .3h0m.5-1.1h0m.2-.9h0m0 2.1h0m-23.8 1.7h0m.2 .3h0m.2 1.7h0m0-1.3h0m.3-.1h0m.3 .9h0m.3-1.7h0m.1 1.1h0m.3-1.3h0m.3 1.7h0m0-.7h0m.1-1.1h0m.6 2.1h0m1-.9h0m.1 .9h0m0-.8h0m.2-.9h0m.3 1.9h0m.1-1.4h0m.1 1.6h0m.3 0h0m.1-1.9h0m.1 .6h0m.1 .9h0m.3-1.7h0m0 .3h0m0 0h0m.2 .5h0m.1 .4h0m.1-1h0m0 1.3h0m.1-1.2h0m.1 1.1h0m0-1h0m0 1.6h0m.1-1.4h0m.1-.5h0m.1 1.6h0m0-.3h0m.1-.1h0m0-1.8h0m.1 2h0m0-.2h0m.2 .6h0m.1-.1h0m.3-1h0m.1-.1h0m0-.2h0m.1-.9h0m.2 2.2h0m.1-1.2h0m.3 .4h0m.1 1.1h0m.4-1.6h0m0 .2h0m0 1h0m.1-.2h0m.3 .8h0m0-1.9h0m.1-.2h0m0 .3h0m.2 .6h0m.1-.1h0m.3-.6h0m.1 .9h0m0-.6h0m.1 0h0m.1 .9h0m.1-1.2h0m.2 .8h0m0 .3h0m.2-.7h0m0 .4h0m0-.6h0m.2-.2h0m0-.2h0m.2 .4h0m0 0h0m.1-.1h0m.2 .7h0m0-.7h0m0-.7h0m.1 1h0m.2-1.3h0m.7 .6h0m0-.1h0m.1 .3h0m0-.5h0m.2 .9h0m.1-.2h0m.3 0h0m0 .4h0m.3 0h0m.6-1.2h0m.1 2.6h0m0-.4h0m.2-1.5h0m0 1.5h0m.3-1.9h0m.1 1.3h0m0-1.1h0m.1 1.6h0m.8-1.5h0m.1 .3h0m.1-.9h0m.6 1.3h0m.3 .2h0m.5-.1h0m.5 1.1h0m.1-.3h0m.7-.8h0m.1-.6h0m0 .1h0m.7-.5h0m.2-.2h0m.3 1.4h0m.2-.4h0m.1-1.2h0m0 1.9h0m0 0h0m.1-1.4h0m0 .1h0m.2-.5h0m.3 1h0m.4 1.3h0m.1-2.1h0m.5 .8h0m0-.4h0m.1 .6h0m.1-1.2h0m0 2.2h0m.5-.9h0m0-1.5h0m.3 1.4h0m0-1.6h0m.3 1.1h0m0-.7h0m.2-.3h0m0 2.1h0m.1-2.3h0m.3 1.3h0m.1 .6h0m.1-.5h0m.3-.4h0m.2-.5h0m.6 1.8h0m-30 3.1h0m0 .3h0m.5-.2h0m0 .1h0m.3-.3h0m.1 .1h0m.1 .5h0m.1-.7h0m.6-.1h0m.1 .7h0m.3-.6h0m1.3-.3h0m.5 .6h0m.1 .5h0m.9-1.6h0m.8 .4h0m0-1.3h0m.1 .7h0m0-.8h0m.3 .7h0m.1-.4h0m.3 2.2h0m.1-2h0m.1 1.4h0m0-.2h0m.3 .7h0m.1-.2h0m0 .2h0m0-2.5h0m0 1.9h0m.1-2h0m.3 1h0m0 1h0m.1 .3h0m.1 0h0m.1 .1h0m.1-.1h0m.4-.8h0m.5-1h0m.1-.3h0m.8 .3h0m.8 .5h0m.1 1.4h0m.4-1.4h0m0 1h0m1.3-.4h0m.1 1.1h0m.2-2.8h0m.1 1.1h0m.4 .3h0m0-.5h0m.4-.8h0m.1 1.9h0m.4-2h0m.8 .1h0m.9-.2h0m.2 1.9h0m.5-.3h0m.2-.5h0m.4-.8h0m0 .3h0m.3 .4h0m.1 .8h0m1.2-1.2h0m.1 1.4h0m.2-1.8h0m0 1.6h0m0-1.4h0m.1 1.9h0m.3-.9h0m0-.6h0m.1-.2h0m.4 1.9h0m.1-1.8h0m.3 .4h0m.1-.7h0m.3 1.7h0m.4-1.4h0m0 .6h0m.1 1.5h0m.3-1.7h0m.2 1.4h0m0-1.3h0m.3-1.1h0m.1 2.5h0m.2-1.1h0m.7-.2h0m.4-1.1h0m.2 0h0m0 2.5h0m.1-1.3h0m.3 .8h0m.1-1.3h0m0 .3h0m.1 0h0m.1 .8h0m2.7-2h0m.8 .4h0m.7-.3h0m.1 0h0m.4 .4h0m-33.7 5.5h0m.1-.2h0m.2 .2h0m.6-1h0m0 .6h0m.9-1h0m.3 .8h0m.3-1.5h0m.1 1.1h0m.1 .5h0m.1-1h0m.1 .9h0m0-.8h0m.1 1.3h0m.1-2.6h0m.2 .5h0m.2 2.2h0m.1-1.6h0m0-.3h0m0 .2h0m.1 1.4h0m.2-1.1h0m.1-1.1h0m0 2.2h0m.2-1.2h0m.2 .9h0m.1-.3h0m0-1.8h0m.1 1h0m.2-.6h0m.8 0h0m0 0h0m.1-.3h0m.2 .3h0m2.8 .9h0m.2-1.4h0m.2 1.7h0m.1-1.6h0m.2 1.6h0m0-.3h0m.3 .9h0m.2-2.1h0m.1-.3h0m.6 2.5h0m.1-.4h0m.2 .2h0m.2-.1h0m0-1.8h0m.3 .9h0m.1-.5h0m.2-.2h0m.3 2.1h0m.1-1.3h0m0-1h0m.1 1.7h0m0-1.1h0m.1 1.9h0m.1-1.9h0m0-.7h0m.5-.1h0m0 1h0m.1 .4h0m.2-1.5h0m0 1.5h0m.1 1h0m.1-.8h0m0 .7h0m0-.6h0m.6 .3h0m1.1-1.8h0m1.4 .2h0m-18.5 4.8h0m.5 .3h0m0 .2h0m.2-.4h0m.1-.9h0m.3-.5h0m.4 1.6h0m0-2.2h0m0 1h0m.2 .9h0m0-.7h0m.3 .9h0m0-2.4h0m0 1.7h0m.1 0h0m.2 .2h0m.2-.5h0m0-.9h0m.1-.4h0m.1 1h0m.3 .3h0m0-1.4h0m0 .5h0m.2 .6h0m0-.1h0m.2 .7h0m0-1.9h0m.5 .5h0m.1 1h0m.1-.6h0m.1-.1h0m.7-.1h0m6.5-.8h0m.1 .2h0m.4 .3h0m.4 .9h0m.3-.7h0m.2-.1h0m.1 1.2h0m0 .6h0m.5-2h0m.7 2.5h0m.1-2.3h0m.4 0h0m0 .5h0m.7 1.1h0m.2-.2h0m.2-.8h0m-16.5 2.3h0m.3 .5h0m0-.3h0m.5-.5h0m0-.2h0m.4 .5h0m1-.4h0"/>
<path stroke="#f4c880" stroke-width=".95" d="M441.7 360.3h0m5-1.7h0m.3 2.8h0m-10.9 1.3h0m3.1 .2h0m.7-.2h0m4.6-.3h0m1.5 .7h0m0-.7h0m3 1.6h0m-16.9 2.4h0m3.9-1.3h0m.3 1.2h0m2.2-1.8h0m.5 1.6h0m2.9 0h0m6 1.3h0m-86.4 1.1h0m1.4-1h0m78.3 2h0m4.4-2h0m.3 2.8h0m.3-.5h0m.5-.5h0m2.2 .3h0m-107.5 5.5h0m9 1.1h0m94.1-2.2h0m3.3-.1h0m-112.3 4.3h0m.6 1.2h0m3.8-1.6h0m105.7-1.3h0m-99.8 3.2h0m5.5 .1h0m.1 .6h0m5.3 0h0m2.5 1.3h0m2.7 .2h0m.2-1.8h0m1.5 1.3h0m.1 .7h0m4.3-.2h0m.4-2h0m1 .6h0m2.3 2h0m.3-1h0m3.3-.3h0m-31.4 2.1h0m8.4 2h0m.3-.9h0m.3 .9h0m2.5-2.7h0m.6 2.8h0m.6-.8h0m1.6-1.6h0m.4-.3h0m0 .2h0m1.5 1.7h0m1.1-.5h0m.4-.4h0m0 .8h0m.2-1.5h0m2 0h0m.2 1.2h0m.6 .7h0m.2-.4h0m.3-.1h0m4 .1h0m4.4 .3h0m.6-.5h0m.2 .5h0m3.5-.4h0m.9 1.1h0m31-.7h0m2.2-1.1h0m-78.6 4h0m7-1.5h0m19.4 1h0m.7 0h0m2.1-1.4h0m2.1 2.5h0m.3-2.3h0m.6 .5h0m.8-.4h0m.3 2.3h0m1.5 0h0m2.4-.5h0m4-.7h0m.2-.2h0m1.7-1.5h0m.5 .4h0m.2 .3h0m.7 1.8h0m1.4-2.4h0m1.2 .8h0m1 .6h0m.7 1.5h0m.1-.6h0m2-.1h0m21.8-.6h0m-53.3 2.2h0m.8-.6h0m.6 2.6h0m2.7-2.7h0m2.8 1.7h0m.6-.3h0m0-.6h0m1.1-.3h0m.4 .9h0m1-.4h0m.7 .1h0m.4-.9h0m.7 1.9h0m1.9 .4h0m1.1-1h0m.3-.9h0m.3-.8h0m.4 .8h0m1.8-.6h0m5.8 0h0m5.3 .2h0m.9 2.2h0m.2-.3h0m.1 .4h0m.2 0h0m.9-1.5h0m.9 1.2h0m-31 1.5h0m2.4 1.6h0m4.5-2.4h0m.7 2.6h0m3-.6h0m3.4-.7h0m2.4-.5h0m10.2-.6h0m3.1 1.4h0m.1 1h0m3.1-1.9h0m1.7 1.7h0m.4 .3h0m.1-2.5h0m-31.9 3h0m.7 .9h0m.6-.3h0m2.5 2.1h0m.2-1.1h0m.9-1.5h0m3 .5h0m1 1.8h0m5-1.7h0m2.5 1.9h0m2.1-1.1h0m.4 .4h0m2.8 .5h0m1.8-.6h0m.2-.3h0m.4 0h0m.3 .8h0m.6-.7h0m.8 .5h0m.8 .3h0m.7-.4h0m.2-.6h0m.7-.8h0m1.4-.8h0m3.4 .2h0m.8 2.1h0m-41.6 1.9h0m9.6-1.2h0m1.2 .3h0m.3 2.6h0m1.1-.9h0m1-.4h0m.4 .3h0m.2-.8h0m.7-.9h0m.5 1.1h0m4.9 .8h0m4.5-1.8h0m1 2h0m2.6-.8h0m1.1-.4h0m1.3-.3h0m1.1-.1h0m2.6 2.1h0m1.8-2.3h0m3.2-.3h0m.2 .4h0m.7 .2h0m1 .5h0m0-1.2h0m4.5 2.4h0m-37.3 3.3h0m1.3-2.9h0m6.7 1.3h0m.1 .6h0m7-1.1h0m1.2 .5h0m2.6-.9h0m3.2 .9h0m6 1.1h0m2-1.4h0m1.4-.9h0m2.9 1.4h0m2.1-.4h0m.6 .1h0m2.4 .3h0m1.4 .8h0m-48.9 3.4h0m4.5-1.7h0m.6 1.9h0m4-1.7h0m1.7 1.5h0m1-.2h0m.8 0h0m2.5-1.7h0m.7 .6h0m16.3-.8h0m.9 1h0m3.2 .3h0m3.9-.3h0m2.1 1.2h0m.3-2.2h0m.7 2.1h0m1.8-1h0m.2 .1h0m2.4 .4h0m-46.5 1.9h0m2-.3h0m5.9 1.4h0m2.5 .7h0m4.8-.1h0m18.4-1.2h0m6.4 .5h0m1.3-2h0m3 1.1h0m.8-.2h0m1.7 .2h0m1.5 .7h0m-58.1 3.9h0m8.8 0h0m1.2-.1h0m2.3-.9h0m.3 1h0m1.4-1.8h0m1.3 .9h0m2.6-1.3h0m4.1 2h0m.9-1.1h0m0 .7h0m1.4 0h0m28.3-.3h0m-43.5 3.5h0m0-.9h0m.1 .2h0m.1-1.3h0m.8 .5h0m1.8 1.1h0m.5 .6h0m.5-2.4h0m2 .6h0m1.3 2.1h0m.7-.3h0m1.6-2.2h0m1.7 2h0m1.7-1.3h0m1.6-.1h0m.1 .8h0m.4-1h0m.7 .2h0m25.5-.1h0m2.2-.7h0m9.4 .2h0m-68 5.5h0m16.6-1.5h0m.9-.5h0m2.4-.6h0m1-.1h0m4.4 1.7h0m.1-.4h0m2.1 1.1h0m2.4-2h0m.6 .4h0m.4 .3h0m-11 1.8h0m.3 .7h0m2.5-.3h0m.5 .8h0m3.1 .3h0m4.2-1.1h0m.7-.4h0m.1 1.8h0m4 1h0m-34.6 1.2h0m8.7 1h0m9.5-.1h0m3.5 .3h0m.9-2.1h0m.6 1h0m1.2-.2h0m3-.2h0m.5 .6h0m.4-1.1h0m1.8 .5h0m2-.5h0m2 1.9h0m.1-.7h0m.2-.6h0m2.3-.7h0m4.7 2.6h0m.3-1.7h0m1.2 1.8h0m1.5-.6h0m2.3 .2h0m-46.5 1.3h0m16.4 0h0m4.3 .2h0m0 .5h0m2 0h0m.3 .8h0m.1 .6h0m.9-2.4h0m.8 2.4h0m5.8-.5h0m1.5-2h0m4.9 2.2h0m.1 0h0m.5-1.5h0m1 1.5h0m1.5-1.6h0m1.3 1h0m.4-1.1h0m.8 1.9h0m3.8-1.2h0m.9 .8h0m58-.4h0m-95.2 2.7h0m7.1-1.6h0m3.6 .7h0m1 .9h0m1.8 .9h0m.3-.2h0m6.9 0h0m3-1h0m2.1-1.1h0m6.1 .6h0m.6-.1h0m1 .5h0m5.2 .8h0m.9-1h0m54.4-.5h0m1.6-.1h0m.5 2h0m-106.4 2.5h0m6.8-1.7h0m8.7 .3h0m1.4 1.8h0m.4-1.6h0m1.2 0h0m.5 0h0m4.2 .7h0m2.3 .2h0m4.7-1.5h0m3.2 2h0m.2-1.1h0m1.5-.6h0m.6 .9h0m.1-.2h0m1.5-.5h0m1.7-.2h0m1.4 .3h0m3.5 1.1h0m2.8 1.1h0m1.4-1.7h0m52.6-1h0m7.9 1.7h0m1.4 .3h0m.3-2.2h0m2.4 2.8h0m-96.4 .4h0m2.1 0h0m3.2 1.7h0m2.8 .5h0m2.2-1.6h0m0-.2h0m1.9 .3h0m3.7 .8h0m.4 .1h0m1 .7h0m2.3-.1h0m.3-2.4h0m0 2.7h0m0-.3h0m.9-.8h0m3.8 .6h0m.1-.1h0m.4-2.1h0m58.4 2.8h0m-80.1 2.1h0m.2-.7h0m14.9-.4h0m.2-.4h0m.2 0h0m1.5 2.1h0m1.4-2.5h0m2.1 2.2h0m3.7 .3h0m.2-2.1h0m0 1.7h0m.5-1.9h0m.4 .8h0m.7-.2h0m42.8 1.4h0m9-1.4h0m5.4 .7h0m1.8-1.2h0m4.8 .5h0m-89.6 3h0m2.1 0h0m1.7 .2h0m11.9-.4h0m2.9-.6h0m59.9 2.8h0m12.8-.6h0m1.1-1.8h0m2.6 .5h0m-76 4.4h0m2.3-.2h0m31.8-.1h0m6.9 .8h0m17.3-.6h0m13.2-1.3h0m2.3 .8h0m-74.1 1.5h0m.9-.1h0m5.5 1h0m51.6 .4h0m1.3 0h0m7 .8h0m.6-.7h0m6.4 1.1h0m.5-.2h0m4.9-1.1h0m-40.7 4.1h0m1.7-.1h0m5.1-2.1h0m11.9 3.8h0m-61.1 34.5h0m1.7 0h0m.1-.9h0m31-1.2h0m1.2 1.2h0m3.3-1.5h0m.6 .5h0m-36.4 3.1h0m5.7 1.3h0m24.7-1.8h0m11.3-.4h0m3.6 2.7h0m-25.1 3h0m11.6-2.1h0m1.1 3.1h0m8 .3h0m4.8 .9h0m-18.6 2.7h0m1-.9h0m1.5-.5h0m1 .6h0m-14.8 7h0m12.2-.9h0m.5 .8h0"/>
<path stroke="#f0a068" stroke-width=".95" d="M374.2 374.4h0m.3 1.3h0m1.1 .3h0m.2-.9h0m0 1h0m1.4-1h0m.3 1.1h0m1.6-2.6h0m1.4 2h0m.6-.5h0m4 .8h0m-13.4 1.2h0m.2 .9h0m1-.2h0m1-.4h0m1.7 .2h0m1.4 1.1h0m2.1-1.3h0m.9 2.1h0m.2-1.9h0m.5 .8h0m2.1-.3h0m2.1 1.1h0m-12.7 2.1h0m1.9-.4h0m2.2-1.3h0m.6 .1h0m.1 1.1h0m.8 1.3h0m.8-1h0m.1-.9h0m.1-.6h0m3.3 .3h0m2.6 2.1h0m.3-.4h0m.3 .3h0m2.1 .4h0m.1-2.4h0m.8 1.2h0m.6 .1h0m.1-1h0m.1 1h0m.2 1.1h0m-12 .6h0m.3 1.6h0m.1 1h0m.4-2.5h0m.5 .3h0m.3-.8h0m.6 2.8h0m.3-1h0m.3 1.1h0m.6-1.4h0m.5-1.1h0m.7 1.2h0m.3-.5h0m.9 .6h0m.2 .4h0m.1-.9h0m.1 1.4h0m1.1-2.1h0m.6 1.8h0m.3 .2h0m.7-2.2h0m1.1 .1h0m.3 .4h0m.3 1.9h0m2.1 .2h0m.8-.1h0m1.9-.9h0m2.8 .3h0m-18.4 .9h0m1.8 1.5h0m2.1-1.4h0m.4 2.4h0m.1-.6h0m.5-.6h0m.2-.8h0m.5 .9h0m.4-.5h0m.5-.1h0m.1 2h0m.7-1.3h0m1.5 1.3h0m0-1.6h0m.4 .7h0m.5-1.8h0m3.5 2.7h0m.7-1.7h0m3 1.7h0m-10 1.7h0m1.8 1.3h0m.3-.7h0m.1-2.1h0m.6 .8h0m1.9 .5h0m2.2-.2h0m.3 1.8h0m1.7-.1h0m.8-1.4h0m.2 .8h0m1-1.3h0m1.7 1.1h0m-8.9 1.2h0m.4-.3h0m.2 1.2h0m1.3 .7h0m1.2-1.1h0m.3-.5h0m1.3 1h0m.6-.8h0m.1 2.4h0m.4-2.4h0m.3 .9h0m-5 2.7h0m1.3-.4h0m.7-.5h0m2 .5h0m-26.1 28.4h0m-15 3.2h0m3.1 .6h0m2.3-1.1h0m1.3 1.2h0m.5-1.4h0m.3 .8h0m1.4-.7h0m5.3-.1h0m.8-.1h0m70.4-.6h0m.2-.2h0m1.3 0h0m.1 .2h0m.3 .8h0m.3 1h0m.6 .2h0m.4 0h0m2.8-1.2h0m-90.8 4.1h0m.1-1.4h0m3.5 .2h0m2.9-.6h0m.8 .8h0m5.2-.6h0m.3-.1h0m.2-.4h0m.5-.3h0m.7 .3h0m.7 1.5h0m67.7 0h0m.8 .2h0m2.8-2.3h0m.6 2.3h0m2.4-2.3h0m1.2 1.7h0m1.3-1.5h0m-93.1 2.9h0m4.1 2.7h0m2-.3h0m.9-.7h0m5.4-.8h0m2.9 .8h0m1.8 .6h0m64.2-1.9h0m3.1 .5h0m.3-.9h0m1 .2h0m6.1 .2h0m.4-.4h0m-92.2 4h0m1.3 .7h0m.3-1.7h0m.1 .8h0m.2 1.1h0m.2-.2h0m.9-1.4h0m3.5 .5h0m1.8 1h0m3.6-1.6h0m1.8 2.5h0m.4-2.8h0m.4 .7h0m1 .5h0m1.5 1.3h0m-13.1 1.7h0m1.1-.3h0m.2 1h0m1.5-1.2h0m1 .2h0m0 1.4h0m1.3-1.6h0m1.1-.1h0m.1-.5h0m3 1.7h0m1.3 .1h0m57.8 0h0m.8-.2h0m2.5 1.1h0m-69.6 .6h0m.1-.4h0m8.1 .4h0m1.5 0h0m.1 1.8h0m2.4-1h0m1.2 .4h0m3-.4h0m2.3-.3h0m.1 .1h0m.1 1.2h0m0 0h0m.1 .4h0m.5-.7h0m.2-.4h0m.8 .8h0m1.7-.4h0m45.4-1.1h0m.2 2.1h0m1.6-1.5h0m0-.2h0m.6-.6h0m.1 1.6h0m-59.4 3.2h0m.6-2.1h0m1 1.5h0m.6-.9h0m5.2 1.1h0m0-.7h0m.1 .3h0m.2-.3h0m.8 1.5h0m51.2-2.6h0m1.1 .2h0m.3 2.2h0m.6-.9h0m-64.1 2h0m.5-.5h0m.4 1.7h0m.4 .1h0m.5 .5h0m.2-.8h0m.5 .3h0m.1 .3h0m.3-.5h0m.4-1.2h0m2.1 0h0m.2 1.5h0m.2-2.2h0m0 2.7h0m.2-.6h0m.3 .6h0m.2 .3h0m.3-1h0m.1 .8h0m0-2.2h0m.3 1.3h0m2.9-.8h0m.4-.9h0m.8-.1h0m.8 .7h0m.1 1.4h0m.4-1.2h0m2.7 .5h0m45.5 0h0m1.9 .7h0m2.1-2.1h0m.4 .2h0m.9 .8h0m.1 1.5h0m.5 0h0m-62.7 1.9h0m0 .2h0m.8 .2h0m.3-1.2h0m3.7 .4h0m.1-.9h0m.1 .8h0m52.3 .2h0m2.9-.4h0m1.2-.6h0m.6 1.4h0m.7-.4h0m.1-1h0m.8 2.3h0m.5-.7h0m1 .6h0m-6.9 2.6h0m1.8-.5h0m.9-1.1h0m0 .1h0m.1 .4h0m.3-.4h0m.8 2.4h0m.4-1.7h0m1.5-1.1h0m1.2 1.3h0m.1 .8h0m-4.4 1.8h0m.2 0h0m.8 .2h0m1.1 1.2h0m.1-.1h0m1.6-1h0m.4 .8h0m.4-.9h0m.1 1.7h0m.2 1.1h0m.4-.6h0"/>
<path stroke="#e87860" stroke-width=".95" d="M388.6 365.2h0m3.5 1.8h0m2.8 .5h0m2.3-.9h0m-20 3.2h0m3.4 .2h0m.4-.8h0m.3-.7h0m3.3 .1h0m6.1 1.7h0m1.1-2.5h0m1.5 .7h0m-18.2 4.8h0m1.7-.3h0m.2 0h0m.3-.7h0m1.7 .1h0m.8-.8h0m.3 .3h0m3.2-.4h0m.4 .9h0m.1-1.7h0m.5 2.3h0m.8-.8h0m.5-.6h0m.6 .4h0m.7 .8h0m2 0h0m.6 0h0m-14.8 .8h0m.2 2.2h0m.5-.7h0m.3 .1h0m.2 0h0m.1 .3h0m.9-2h0m2.7 .6h0m.2 1.1h0m.4-.1h0m1 1.4h0m.8-.3h0m.2 0h0m1-2.7h0m.7 2.8h0m1.2-2.1h0m1.3 1.1h0m.8 .2h0m.8 .9h0m.3-.2h0m.3-1.9h0m.1 1.3h0m1.3 .4h0m.8-1.5h0m.2-.1h0m-18.4 2.9h0m.5 .6h0m.4-1.2h0m.6 1.2h0m1.2-.2h0m.6-.6h0m1.1 1.7h0m.3-.2h0m.2-.6h0m.7 1.1h0m.6-.5h0m.4-.2h0m.2-1.3h0m.1 .6h0m.1 .8h0m1.1-1.5h0m2.3 2.3h0m.4-.4h0m0-1.7h0m.3 1.9h0m.5-1.5h0m.4 1.3h0m1-2.1h0m.4 2h0m1.7-1.5h0m1.8 1.8h0m1-1.5h0m-12.7 2.1h0m.7 1.4h0m.3-.2h0m.2 0h0m2.4-.5h0m.6 .8h0m.1-1.5h0m2.9 2.6h0m.3-2.1h0m1.1 .8h0m.8 1.3h0m.1-1.2h0m.1 .1h0m.2 .5h0m.7 .6h0m.4-1.7h0m.1-.5h0m.8-.1h0m.3 .3h0m.5-.2h0m.3 1.2h0m.3-.6h0m.3 .1h0m.3-.3h0m.2 .1h0m.2 0h0m.2 1.6h0m.1 .2h0m.3-.9h0m1.2 .2h0m.3-.2h0m-11 1.6h0m.5 .1h0m1.6-.1h0m.2 1h0m.2 .1h0m.5-1.5h0m.5 .4h0m0 .7h0m.3-.5h0m.3 0h0m.5-.6h0m1.5 1.2h0m.1 .7h0m.3-1.6h0m.8-.4h0m1 .4h0m1 .3h0m.1 1.4h0m.6-2h0m.6 .5h0m0 1h0m.1-.5h0m.3 .7h0m0-.6h0m.5 .4h0m.4 0h0m.4 .8h0m.9 .2h0m-13.3 .8h0m3.1 .4h0m3.6 .3h0m.5 .8h0m2.4-.8h0m1.3-.9h0m1 2.1h0m.1-.2h0m.5-1.8h0m.3 2h0m-5.7 3.1h0m1.3-2.1h0m.3 .4h0m2.7 .8h0m3.6 .6h0m1.7-1.8h0m-5.2 3h0m.9 .5h0m0 .3h0m.1 .6h0m.4-1.7h0m46.4 35h0m1.3 .7h0m-79 13.6h0m.3 0h0m.3 .7h0m5-.1h0m.5 1h0m5.7-1.1h0m0 .2h0m-11.4 1.9h0m1.6 .1h0m.5 1.1h0m.8-1.1h0m.1 .7h0m.3-1h0m1.8 1.9h0m2.2-1.8h0m1.9 1.4h0m2.1-.7h0m-12 3.5h0m3.3 .5h0m0-.1h0m2.2-.4h0m.6-.8h0m9.7 1.1h0m.2 .5h0m-11.3 .7h0m.1 .9h0m1.1 1.3h0m.1-1.6h0m.4-.9h0m.6 1.6h0m.6-1h0m.6 1.9h0m1.8-2.8h0m1.7 1.1h0m.4 0h0m.8 1.2h0m2.2-1h0m-6.7 2.2h0m6.2-.4h0"/>
<path stroke="#d85050" stroke-width=".95" d="M388 367.5h0m0-1h0m4 .3h0m.8 0h0m1.4 .2h0m.4-.7h0m1.1 .1h0m-11.7 3.3h0m0-2h0m.9 .9h0m1.2 1.7h0m.1-.4h0m.1 .3h0m1.1-1.1h0m0 1.4h0m.1-1.1h0m.7-1.2h0m1.3 1.8h0m3-.6h0m1.2-.7h0m.6 1.3h0m0-1.8h0m.1 2.2h0m.4-2.5h0m.5 .7h0m1-.9h0m-16.3 4.9h0m.3 .1h0m.5 .1h0m2.2-.6h0m.2-1h0m.1 2h0m.2-.7h0m.5 .8h0m.4 .1h0m.2-.3h0m.2-.8h0m.8 .9h0m.2-2.1h0m.7 1h0m.2-.8h0m.2-.1h0m0 1.4h0m.3-1.8h0m.4 .6h0m.2 1.7h0m.1-.1h0m1.1-.1h0m.6-.9h0m.5 .2h0m0 1.3h0m.3-1.1h0m.2-1.5h0m.2 1.9h0m1.3-.3h0m.1-.8h0m.7 1.1h0m.3 .3h0m.2-.2h0m.2-.4h0m0-1h0m.2 .4h0m.2-1.2h0m.3 1.2h0m0-1.1h0m.1 .8h0m0-.7h0m.3-.3h0m.4 .4h0m.3 1.3h0m1.2-1.3h0m-22 3.2h0m2.2 .3h0m.7 1.8h0m1.3-.6h0m.9-.9h0m3.2 1h0m.2-.3h0m.3-1.1h0m2.2-.4h0m.1 0h0m.1 .3h0m.1 .2h0m0 .5h0m.6 .6h0m.1-1.1h0m1.4-.4h0m.1 .4h0m.1-.5h0m.1 .4h0m.3 1h0m.1-1.7h0m.3 1.9h0m.6-1h0m.1 .6h0m.1-1.2h0m.1 1h0m.2 .6h0m.4 .4h0m0-1.2h0m.2 1.2h0m.8-1h0m.1-.8h0m-11.8 3.6h0m6.2 1.7h0m2.2-2.8h0m.1 .3h0m1 .3h0m.1 1h0m.8-.8h0m.2 1.8h0m0-.6h0m.3-1.6h0m1 .4h0m.7 1.2h0m.1 .4h0m1.9-.7h0m-12.3 2h0m2.4 .3h0m.4-.9h0m.9 1.6h0m.8 .8h0m.5 0h0m0-1.3h0m.2-.4h0m.7 .9h0m.3-1.5h0m.4 1.5h0m.5-1.3h0m.6 2.3h0m.2-.4h0m.4-.6h0m.1 0h0m0-1.6h0m.3 .4h0m.2 .3h0m.7-.2h0m0 .6h0m1.2-.3h0m-5.7 2.6h0m.4-.7h0m2.7 1.5h0m.5-1.4h0m0 .3h0m1.6 1h0m.7 .2h0m.8 .2h0m.8 .5h0m.6-1h0m.8 1.1h0m-3.4 .8h0m.5 1h0m.7-.7h0m1-.2h0m0-.2h0m.8 .9h0m.3 .5h0m.6-.9h0m.9 1.9h0m-1.2 2.6h0m.8-2h0m1.4-.1h0m-30.9 60.5h0m.8 1h0m.7 1.3h0m.2-2h0m.8 .6h0m.6-.5h0m.9 1.9h0m.3-1.3h0m.8 .8h0m0-.5h0m1-.7h0m.4 1.1h0m6.1 0h0m-8.2 2.4h0m.5 .3h0m.9-1.2h0m1.9 0h0m2.9-.5h0m1.2 .4h0m-5.6 2.4h0"/>
<path stroke="#c4364a" stroke-width=".95" d="M382.2 363.7h0m1.4 3.1h0m3.8-.6h0m0 1h0m1.1-1.3h0m1.5 1.2h0m.2 .3h0m.7-.7h0m2 .3h0m.2-.8h0m1.5-.3h0m1.6 1.4h0m-16.9 2.9h0m.8-.3h0m1.1 0h0m0-.6h0m.4-.1h0m.7 .9h0m.1-1h0m.3-.9h0m0 .1h0m.3 .3h0m.2 1.6h0m0 .2h0m.1-1.9h0m.5 1.1h0m.1 .6h0m.4-1.3h0m.1-.1h0m.1-.4h0m.2 1h0m.2-.5h0m.4 1.6h0m.1-2.6h0m.7 1.4h0m.1-.4h0m0 .5h0m.4-.2h0m0-1.7h0m.7 1.1h0m.4 0h0m.4-1.1h0m.1 3h0m0-.3h0m.2-.7h0m0-1.5h0m.3 .4h0m.2 1.8h0m.4 0h0m.2-1.2h0m.1 .2h0m0-.4h0m.2 .2h0m.8-.8h0m.1 .9h0m0-1h0m.7-.3h0m.2-.3h0m0 2.1h0m0-.1h0m.1-1h0m.2 .9h0m0 0h0m.1 .1h0m.6-.3h0m1.2 1.3h0m.4-1h0m.5 .9h0m.7-2.5h0m.2 1h0m0 .9h0m1.7-1.5h0m.3 .5h0m-19.2 3.9h0m.2-1.6h0m2.6 1.7h0m.4 .2h0m.2-1h0m.2-.1h0m.2-.3h0m.1 1.1h0m.9-.7h0m.6-.6h0m.1 1.4h0m.7 .2h0m.1 .4h0m.3-.5h0m.4-.5h0m0 .6h0m.6-2.2h0m.2 .1h0m.1 2.5h0m.3-.4h0m.5-2.2h0m0 0h0m.2 1.2h0m.1 1.4h0m.2-.9h0m.2-1.3h0m.3-.2h0m0 1.5h0m.1 .3h0m.2-.3h0m.1-.5h0m.2 1.5h0m.2-1.8h0m.2 1.2h0m.1-1h0m.1 1.3h0m.5-1.7h0m.9-.3h0m.1 2h0m0-1.9h0m.5 1.3h0m.1-.5h0m.3 0h0m0 .6h0m.5-.5h0m0-1.3h0m.1 1.6h0m.2-.2h0m.1 .1h0m.2 .5h0m0-1h0m.8-.8h0m.2 .3h0m0 1h0m0-1.8h0m.2 1.3h0m0-1.3h0m.1 2.3h0m0-.9h0m.2 .8h0m0-1.1h0m0 1.6h0m.1-2.1h0m.3-.4h0m.3 .3h0m-12.8 2.5h0m1.4 .4h0m.7 1.4h0m.5-1.8h0m.1 .4h0m.1-.2h0m.2 .4h0m.1-.2h0m.6 .9h0m.3-1.3h0m.3 1.7h0m0-1.1h0m.3-.6h0m.2 .8h0m.2-.4h0m.2 1.1h0m.1 1.1h0m.1-1.3h0m.1-.9h0m.3 .8h0m.2-.3h0m.1 .7h0m.2 .1h0m0-1.7h0m.1 1.8h0m.3-.2h0m0 .7h0m.2-1.5h0m0 .8h0m.1-.5h0m.1-.3h0m.2-.7h0m.1 .2h0m.8-.4h0m.1 1.4h0m.1-.7h0m.6 1.8h0m.1-.6h0m1.2-1h0m.2-.6h0m.3 .4h0m1.1-.5h0m0 1.5h0m-7.6 2.3h0m2.5-.7h0m.6 1.8h0m.4-2h0m.4 1.2h0m.5-.6h0m1.2 .6h0m-1 2.2h0m.9-.1h0m2 4.2h0m.3 1.1h0m.8-2.3h0m-15.9 68.6h0m-9.6 .9h0m1 .3h0m1 0h0m.3 1.1h0m.7 .3h0m.2-1.4h0m.4-1h0m.1 2.3h0m.5 0h0m.2-1.2h0m.1 .4h0m1.2-.2h0m.8-1h0m.8 .4h0m2.1 .9h0"/>
</g>
<defs><linearGradient id="ylrd" x1="0" y1="1" x2="0" y2="0"><stop offset="0" stop-color="#f8f0a0"/><stop offset=".25" stop-color="#f4b878"/><stop offset=".5" stop-color="#e87860"/><stop offset=".8" stop-color="#d04850"/><stop offset="1" stop-color="#c4364a"/></linearGradient></defs>
<rect x="506" y="361.2" width="7.5" height="49.7" fill="url(#ylrd)"/>
<g font-size="4.2" text-anchor="middle"><text x="509.8" y="357.1" font-weight="bold" fill="#111">8.29</text><text x="509.8" y="416.5" fill="#5a6a8a">1.75</text></g>
<text x="294.5" y="345.9" font-size="12" font-weight="bold" fill="#000">C</text>
</g>
<g id="D">
<path d="M33.25 562.3V674.7M50.7 562.3V674.7M68.15 562.3V674.7M85.6 562.3V674.7M103.05 562.3V674.7M120.5 562.3V674.7M137.95 562.3V674.7M15.8 658.65H137.95M15.8 642.6H137.95M15.8 626.55H137.95M15.8 610.5H137.95M15.8 594.45H137.95M15.8 578.4H137.95M15.8 562.35H137.95" stroke="#e6e6e6" stroke-width=".5" fill="none"/>
<path d="M15.8 562.3V674.7H137.95" stroke="#9a9a9a" stroke-width=".5" fill="none"/>
<g font-size="2.6" font-weight="bold" fill="#333"><g text-anchor="middle">
<text x="15.8" y="678.3">0</text>
<text x="33.25" y="678.3">0.5</text>
<text x="50.7" y="678.3">1</text>
<text x="68.15" y="678.3">1.5</text>
<text x="85.6" y="678.3">2</text>
<text x="103.05" y="678.3">2.5</text>
<text x="120.5" y="678.3">3</text>
<text x="137.95" y="678.3">3.5</text>
</g><g text-anchor="end">
<text x="14.6" y="675.6">0</text>
<text x="14.6" y="659.55">1</text>
<text x="14.6" y="643.5">2</text>
<text x="14.6" y="627.45">3</text>
<text x="14.6" y="611.4">4</text>
<text x="14.6" y="595.35">5</text>
<text x="14.6" y="579.3">6</text>
<text x="14.6" y="563.25">7</text>
</g></g>
<g fill="none" stroke-linecap="round" stroke-width=".85">
<path stroke="#b0a4d8" d="M61.7 577.4h0m-45.9 6.4h0m11.6 .9h0m34.3 1.4h0m-45.9 3.5h0m43.3 1.4h0m14.1 .8h0m13.9-.4h0m-71.3 3.8h0m0 .7h0m46.9 .4h0m9.9 .9h0m-34.2 1.8h0m46 .5h0m-4.1 3.4h0m5.4-1.1h0m17.5 .8h0m-57.9 4.6h0m1.2-2.1h0m5.5 2.2h0m.4-1.2h0m23-.8h0m2.5 1.4h0m34.5 .6h0m-65.7 2.4h0m2.4-1.3h0m10.8 .9h0m3.8-.9h0m-47.9 3.9h0m33-.5h0m4 0h0m10 1.3h0m7-2.1h0m-54 5.4h0m25.9-2.2h0m9.7 .1h0m8.5 1.5h0m1-2h0m17.6 2.7h0m-41.8 3.6h0m8.6 .1h0m27.8 .9h0m8.3-.6h0m-23.9 3h0m2.2 1.6h0m4.2-.3h0m4.2-.2h0m6.2 .3h0m.2-.5h0m-40 3.1h0m6.8-2h0m8.7 2.6h0m9.1-2.1h0m4.5 .9h0m.5 .7h0m2.1-2.1h0m8.5 1.9h0m3.8-1.3h0m.5 1.2h0m2.3 .4h0m1.9-1h0m-23.2 2.4h0m20.9 1.8h0m13.3-1.5h0m-41.5 4h0m11.9 .1h0m3.2 .5h0m6.2-2.2h0m.5 2.3h0m-58.7 1.2h0m25.5 1.9h0m17-.5h0m1.3-.8h0m17-.7h0m13.6-.6h0m-74.4 4.1h0m29.1 .2h0m19.3 1.6h0m-48.4 .9h0m10.9 1.4h0m26.5 3.5h0m3.5-1.1h0m1.1-1.1h0m17.9 1.4h0m.4-1.9h0m2.8 .5h0m18.3 2h0m-81.4 .9h0m71.4 2.1h0m4.4-1.3h0m32.8 1.1h0m-61.1 2.4h0m15.5 .1h0m3.8-.4h0m-66.8 2.5h0m0 1.9h0m39.6-.3h0m1.6 .3h0m.9-1.4h0m1.4 3h0m-16 3.2h0m-27.5 2.4h0m24.7 2.2h0m-24.7 5.4h0m0 1.8h0m0-.2h0m2 2.9h0m2.2 0h0m0 0h0m3.2 0h0m23.3 0h0m.4 0h0m8.1 0h0m18.9 0h0m11.8 0h0"/>
<path stroke="#b08c20" d="M70.3 600.7h0m-15.4 7.5h0m2.4 .5h0m-8.5 3.6h0m18.2 .2h0m-6.1 10.7h0m12.1 8.9h0m-29.7 2.9h0m45.4 6.5h0m-31.2 2.4h0m17 2.2h0m-18.7 8.5h0"/>
<path stroke="#80ccc0" d="M51.1 570.1h0m-26.5 14.4h0m16.6 7h0m31 1.4h0m-23.5 4.1h0m25.7 2.4h0m-12.7 8h0m-21.3 1.8h0m14.1 .9h0m24.3-.7h0m13.5 .1h0m-51.8 3.1h0m14-1.1h0m1.9-.2h0m9 2.2h0m18.8-2.4h0m1.5 0h0m1.2 .5h0m-32 3.5h0m1.5 .1h0m16.9-.4h0m18.4 1.6h0m-43.9 .3h0m-2.1 3.3h0m1.5-.5h0m3.3 2h0m2.9 .4h0m.9-.2h0m3.7 .3h0m2.3-.7h0m.6-.9h0m1 .7h0m3.2 0h0m2-.1h0m16.1-.7h0m-14.2 3.5h0m16.4-.4h0m-22.7 4.7h0m2.9-1.4h0m.6 2.8h0m.4-.2h0m10.6 .9h0m2.9-1.4h0m-25.8 3.9h0m4.7 0h0m14.4-1.1h0m1.1 2.5h0m-14.3 2.6h0m-9.1 1.7h0m13.9 2.1h0m1.9-1.6h0m1.9-.8h0m2.3 1.6h0m.4 .6h0m-18 1h0m11.2-.8h0m37 .3h0m-72.8 3.6h0m28.8 .2h0m16.4 1.9h0m.8-.9h0m-2.4 1h0m14.4 2.7h0m-6.9 1.8h0m2.1-.4h0m-26.8 3.9h0m-8 3.8h0m42.4-1.3h0m-33.8 1.6h0m25.5 .8h0m-44.5 6.4h0"/>
<path stroke="#f07060" d="M31.2 569.3h0m60.6 5.5h0m-35.1 12.4h0m8.1 .3h0m4.2 1.5h0m-17.5 11.1h0m23.3 4.2h0m-18.9 3.4h0m26.2 2.1h0m-50.9 3h0m15.9-.9h0m15.5-.6h0m11.7 .1h0m28.1 6h0m-55.7 3.5h0m-2.1 1.7h0m33.8 .9h0m8.9-.5h0m-57.2 5.3h0m.2-2.7h0m9.1 2.7h0m6.9-2.2h0m0 .1h0m-3.2 3.6h0m40.9-.1h0m-31.5 3.6h0m7.7 .3h0m12.4-2h0m-9 5.1h0m1.1 .6h0m56 .2h0m-50.6 3h0m18.9 3h0m6.7 2.6h0m-24.4 2.1h0m-10 3.7h0m3.9-1.1h0m.7-.8h0m1.3-.2h0m8.3 2.9h0m14 7.3h0m-45.4 3h0m12.9 3h0m2.6-.4h0m37.9-.7h0m-79 9.8h0m2.7 0h0m1.6 0h0m2 0h0m5.5 0h0m.4 0h0m.6 0h0m.8 0h0m.7 0h0m2.4 0h0m10.6 0h0m1.6 0h0m19.6 0h0m.3 0h0m5.9 0h0m5.1 0h0m6.3 0h0m24.7 0h0"/>
<path stroke="#6fa8d0" d="M51.3 568.2h0m17.8-1.8h0m47.1 9.2h0m-59 4.5h0m15.5 2.7h0m-56.9 1.8h0m42.4 1h0m17.5-1.3h0m-17.2 3.9h0m-21.5 3.1h0m24.2-.5h0m5.1 1.7h0m31.5-2.6h0m-82 4.9h0m22.8-2.3h0m10 1.1h0m5.8-.9h0m6.8 1.1h0m1.4 1.1h0m8.2 .2h0m5.9-1.5h0m4.6 1h0m-65.5 2.4h0m24.3-.3h0m1.6 .1h0m5.7 1.1h0m8.4-.1h0m12.6-2.3h0m-52.6 5h0m0 .7h0m18.5-.6h0m11.6 .8h0m8.7 .1h0m.5-1.6h0m16.1 1.1h0m42.9-.9h0m-98.3 3.9h0m0 .5h0m16.1-.7h0m4.8 0h0m1.5 .3h0m12.1-1.8h0m.3 .7h0m6.7-.4h0m3.2-.6h0m3.6-.1h0m10.6 2.2h0m1-1.3h0m38.9 1.1h0m-74 3h0m11.5-.1h0m.3 .6h0m4.1-.4h0m1.2-.8h0m2.3 .9h0m2.7-1.2h0m4.9-.3h0m1.4 1.2h0m0-.8h0m-40.4 4.5h0m20.1-1.7h0m1.3-.1h0m4.8 .8h0m.7-.5h0m4.5-.8h0m5.8 .4h0m.2 .4h0m10.2 .3h0m3.3-.1h0m15-1h0m24.7-.1h0m-103.4 2.7h0m14.3 1.4h0m17.6 .1h0m5-.2h0m2.7 1.4h0m1.8-1h0m4.6-.6h0m1.4 .3h0m0-.7h0m.4 .6h0m.4-.4h0m.8 .2h0m9.5 1.3h0m6.6-.2h0m17.3-.8h0m-82.4 3.3h0m26.3-1.3h0m.2-.4h0m7.2 2.2h0m1.5 .4h0m4.8-2.1h0m4.6 .6h0m2.2 1.4h0m1.9-1.8h0m.4 .6h0m2.6-1.1h0m2.5 2.1h0m9 .3h0m.6-2.1h0m3.6 1.8h0m-67.4 2h0m24.2 .1h0m1.6 1.1h0m4.1-2.4h0m2.9 .9h0m1.9 .2h0m1.4 .5h0m4.2-1.4h0m.9 0h0m9.4 .8h0m.8 1.2h0m2.5-.4h0m.4 .3h0m1.8-1.4h0m.3 1.5h0m5.6-1.1h0m7.5-.6h0m-42.5 4.2h0m6.3-1.9h0m1.8 1.9h0m6.1-1.1h0m1.9 .2h0m2.1-.1h0m9.5 0h0m1.8 1.4h0m8.2 .4h0m4.7-1.8h0m-69.4 4.8h0m0-2.7h0m18.4 2.7h0m6 .1h0m3.6-1.1h0m.3-1.5h0m.7 .9h0m5.3 1h0m4.2-2.1h0m2.3 2.2h0m1.8 .3h0m3.3-1.6h0m.3 .2h0m2.5-.5h0m3.6 1.8h0m1.3-.9h0m.7 .1h0m3.9-.5h0m-58.2 2.5h0m25.3 1h0m8.9 .1h0m5.3 0h0m4.8 .5h0m2.3 0h0m.4 .2h0m2.8-1.8h0m2.3-.7h0m8.3 2.4h0m2.5-2.1h0m.1-.1h0m2.4 1.9h0m3.3-1.7h0m1.3-.1h0m-70 4.8h0m27.3-1.1h0m4.8 1.2h0m2.3 .4h0m10.3-1.4h0m1-1.3h0m3.7 1.2h0m8.5 1.7h0m4.9-1.2h0m1.6 0h0m3.1 0h0m31.8 1.1h0m-70.9 1.4h0m10.1-.6h0m.5-.1h0m10.5 .7h0m.2 .2h0m1.3 1.3h0m2.3-.9h0m2.3-1.7h0m5.8 1h0m2.6-.7h0m.3 .2h0m5.6-.3h0m22.7 1.9h0m-66.4 2h0m2 1.2h0m10.7-2h0m5.5 1.3h0m1.1 .7h0m.5 .3h0m.2 .2h0m.3-.4h0m2.1-.9h0m0-.6h0m3-.7h0m1-.2h0m1.5 2.7h0m1.8-1.3h0m1.2-.3h0m.1-.3h0m0 .5h0m.2-1h0m1.2 1h0m0-1.2h0m12.4 .4h0m3 1.5h0m-38.4 1h0m2 2.4h0m2.9-2.2h0m.2 2h0m.2-.5h0m1.4 .1h0m9-1.2h0m20.8 .7h0m-34.2 2.3h0m6 1.7h0m.9-.5h0m1.4-1.2h0m1.3 .1h0m-47.5 4.4h0m15.8-1.3h0m7.7-.4h0m8.2 1h0m9.9-.1h0m.5-1.3h0m9.6 2.2h0m1.8-1.7h0m8.2 .8h0m3.1-1h0m-64.8 2.9h0m0 2.5h0m0-.5h0m17.1-1.8h0m17 1h0m.9 .1h0m.1-.3h0m.5 .4h0m.8-1.7h0m4.2 .1h0m13 2h0m2.3-1.3h0m19.5 .5h0m3.5-1.1h0m-78.9 3h0m17.6 2.7h0m10.6-.5h0m1.9-1.7h0m.3 .6h0m1.8-.6h0m7.4-.6h0m5.4 1.9h0m1.7-.2h0m.1 .6h0m.4-.7h0m1.3-.3h0m2-.9h0m10.3 1.9h0m4.3-1.7h0m19.4 1.4h0m27.2-1.5h0m-81 4.5h0m8.5-1.5h0m.3 1.5h0m.6-.8h0m2.2 .4h0m1.3-1.3h0m.4 1.6h0m34.4 .1h0m-78.4 3.1h0m26.7-1.8h0m7.3 1.3h0m.9-.1h0m.8-.5h0m.6-.2h0m2.1-.5h0m6.6 1h0m.7-.3h0m-.7 3.9h0m20.1-1.8h0m-52.3 2.9h0m15.6 .8h0m.9 .4h0m.4-.3h0m.2-.8h0m1.5 .2h0m32.3 1h0m-63.7 2.8h0m0-1.1h0m0 .8h0m24.3-.7h0m68 1.3h0m-92.3 3.2h0m0 3.2h0m0 1.8h0m.5 .5h0m4.3 0h0m1.6 0h0m2.3 0h0m1.6 0h0m9.4 0h0m.7 0h0m2 0h0m6.3 0h0m.7 0h0m.5 0h0m6.5 0h0m.5 0h0m5.9 0h0m3.9 0h0m.2 0h0m6.1 0h0m4.4 0h0m3.6 0h0m16.8 0h0"/>
<path stroke="#e41a3c" d="M60 606.5h0m.3 8.8h0m15.6 1h0m46.9-1.7h0m-51.6 2.1h0m8.1 1.1h0m-12.2 1.9h0m2.3 4.8h0m2.8 1h0m10.1-1.4h0m3.8 .9h0m-36.4 2.8h0m16.1-1.4h0m.9-.5h0m1.8 1.3h0m12.7 2.8h0m-44.6 2.7h0m37.8-1.2h0m5 .4h0m32 4.3h0m-54.7 3.7h0m8.6 10.7h0m19.1 0h0m-27.8 3.6h0m-38.3 20.5h0m5.6 0h0m2.4 0h0m.2 0h0m2.3 0h0m2 0h0m9.4 0h0m1.2 0h0m6.5 0h0m1.3 0h0m3 0h0m2.1 0h0m13.2 0h0m2.2 0h0m1 0h0m13.8 0h0"/>
<path stroke="#b080d0" d="M15.8 572.9h0m0 7h0m69.1-.7h0m-17.4 6.6h0m-51.7 2.8h0m40.7 2.2h0m-40.7 2.5h0m0-.6h0m11.3 4.7h0m-1.9 3.8h0m25.1-1.9h0m31.8 1h0m-50.4 2h0m95.1 1.3h0m-70.8 2.3h0m7.1 2.6h0m5.4 1.1h0m11.6-.1h0m-38.4 1.6h0m11.2 1.5h0m22.8-1.4h0m-43.2 3.3h0m39.9 .9h0m-56.6 2.7h0m0-.6h0m0 1.4h0m0-.8h0m28.7-1.2h0m13.7-.2h0m5.7 0h0m-48.1 5.6h0m0-.7h0m29 .7h0m2.2-1.1h0m18.9-.6h0m-50.1 4.3h0m11.4-1.9h0m21.1 1.4h0m16.5-.9h0m2.5 .3h0m2.5-.1h0m2.1 .7h0m14.8-1.4h0m-13.8 3.7h0m12.5-1h0m-69.6 5.7h0m0-1.8h0m38.8-.7h0m4.4 1.3h0m16.2-.2h0m-32.3 1.8h0m30.3-.2h0m.2 2.2h0m3-.7h0m-60.6 3.4h0m75.7 .9h0m-75.7 .6h0m0 1.8h0m28.6-.6h0m15.7-1.3h0m6.1 1.6h0m13.4 0h0m-63.8 2.2h0m29.9 .9h0m16.4-1.4h0m-46.3 5.4h0m0 2.5h0m27.8 2.5h0m3.5-1.1h0m20.1 1.5h0m8.5-1.7h0m5.2-.1h0m4.9-.5h0m-70 2.9h0m0 .5h0m0 1.7h0m37 .5h0m1.4-.5h0m-38.4 .8h0m0 .4h0m33.4 1.4h0m1.2-.6h0m23.9-.9h0m13.5 .1h0m-72 4.4h0m30.1-.5h0m.6-1.1h0m4.9 1.3h0m-35.6 1.5h0m0 4.3h0m15.3 .1h0m7.2-.5h0m70.3 4.1h0"/>
<path stroke="#a8cc30" d="M71.8 582.2h0m-15.7 19h0m20.2-1h0m-25 3.6h0m1.2-1.3h0m-14.1 5.5h0m23.3-.3h0m.7 9.9h0m5.5-.5h0m6.2 4.5h0m18.2 3.5h0m-23.8 .5h0m23 8.7h0m-30.6 .2h0m5.5 5.7h0m4.4 1.5h0m-40 5.4h0m64-.2h0m-45.4 11.1h0m4.6 1.4h0m3.6-.4h0m-15 4.2h0m79.8-1.3h0"/>
<path stroke="#f5a860" d="M78.9 576.4h0m-13.1 12.9h0m5 3.4h0m-36.3 7.7h0m20.3 4h0m4.4-2.7h0m8.6 1.2h0m.2 6.3h0m-4 3.6h0m0-.2h0m12.5-1.5h0m-26.5 5.4h0m3.8-.2h0m13.4-1.2h0m-21.8 4.1h0m2.3 .9h0m14.4 5.6h0m3.5 1.5h0m-19.1 4.2h0m11.7-2.8h0m19.7 3.9h0m12.7 1.2h0m-16.6 1.1h0m8 1.5h0m-27 3.9h0m2-1.3h0m2.2 .2h0m5.9 .8h0m-34.9 3.4h0m80.5-1.2h0m-55.6 3.3h0m17.8 1.3h0m12.3 2.7h0m4.7-1.1h0m5.9-1.5h0m-46.6 2.7h0m.5 .2h0m12.6 1.7h0m1.4 .4h0m20.8-1.9h0m-38.6 8.1h0m3.5-.6h0m-6.6 3.5h0m-26.8 13.8h0m2.5 0h0m3.9 0h0m3.2 0h0m2.2 0h0m1.3 0h0m6.7 0h0m6.6 0h0m1.9 0h0m.5 0h0m4.3 0h0m8.9 0h0m6.2 0h0m66.5 0h0"/>
<path stroke="#a8501c" d="M58 572.2h0m-42.2 3.8h0m0 3.5h0m30.3-.6h0m6.6 5.8h0m-36.9 4.4h0m66.9-1.3h0m5.1 1.6h0m-39.3 2.2h0m1.7 .9h0m9.6 6.3h0m-21.4 4.6h0m33.8-.1h0m-56.4 3.5h0m16.1-1.2h0m10.8-.1h0m24.7 1.2h0m-30.2 2.3h0m1.3 .3h0m28.8 2.4h0m4.9 1.6h0m-56.4 1.9h0m34.4 .1h0m6.2-1.1h0m-10.9 2.8h0m21.9 .4h0m.6 .4h0m-52.2 2.8h0m42.1 1.5h0m27.2-1.2h0m-69.3 4.5h0m0-.1h0m52.5-.3h0m2.4 .2h0m-54.9 1.9h0m15.7-.3h0m30.6 .7h0m18.8 .9h0m-65.1 .8h0m0 1.3h0m28.1-1.6h0m12.9 1.9h0m.7 .1h0m1.6-1.4h0m.6 1.5h0m7.1 .5h0m4.6-2.5h0m4.4 1.4h0m3 1h0m-63 1.8h0m49.3-1h0m.4 .1h0m11.9 .5h0m-1.2 3.8h0m-60.4 3.5h0m16.5-1.7h0m51.5 1.5h0m-68 1.3h0m34.7 0h0m4.1-.3h0m11.3 .6h0m-50.1 2.6h0m0 .2h0m45.2-.3h0m37.6 .8h0m-82.8 3.2h0m0-.4h0m35 .6h0m18.9 0h0m4.5-1.6h0m-58.4 4.3h0m26.7 1.4h0m21.9-1.9h0m.9 .3h0m16.8 .1h0m.4-1h0m-27.6 4.8h0m-39.1 3.8h0m0-1.2h0m36.8-1.1h0m4.8 1.5h0m9.5 .7h0m-11.2 .9h0m-39.9 4.4h0m0-.2h0m27.4 .5h0m4.8-2.2h0m-32.2 2.8h0m35 4.9h0m-35 2h0"/>
<path stroke="#f080b8" d="M72.2 596.2h0m-2.8 3.5h0m26.6 3.4h0m-41.6 2.6h0m5.2 .8h0m21.9-.2h0m-22 3.4h0m-15.4 1.3h0m9.4 .9h0m5.6 8.9h0m8.5-.5h0m-27.7 3.6h0m11.5 .6h0m3.7-1.7h0m2.9 4h0m12.3 1.5h0m3.3-2.6h0m-23.6 4.6h0m-11.9 1.3h0m21.8 3.6h0m5.9 .3h0m-33.3 3.7h0m4.2-.9h0m19.7 1.7h0m21.5 5.1h0m26.2-1.4h0m-50.6 5.1h0m17.8-1.1h0m-26 3.6h0m.7-.6h0m31.5 1.5h0m5.5-2.4h0m-28.7 6.1h0m-11.6 5.8h0m-22.6 13h0m9.9 0h0m4.6 0h0m22.7 0h0m.7 0h0m4.2 0h0m40.8 0h0"/>
<path stroke="#c0dcf8" d="M66.4 585.8h0m-2.1 9.6h0m-16.8 4.5h0m42.7 5.4h0m-1.1 18.2h0m-60 3.2h0m29.4 3.7h0m18.3-.1h0m15.3 2.3h0m-15.9 2h0m4.5 8.7h0m-30 13.4h0m5.6-.2h0"/>
<path stroke="#7878d0" d="M15.8 579.9h0m0-1.9h0m0 8.3h0m24 .2h0m-24 13.2h0m0 13.1h0m59.2 6.7h0m-59.2 .4h0m58.1 1.1h0m-58.1 5.7h0m0 4.5h0m0-1.2h0m0 1.9h0m0 .1h0m0 4.4h0m0 5.8h0m0 5.4h0m0 2h0m0 .5h0m0 3h0m0 3.2h0m0 3.2h0m0-.6h0m0 2h0m0 4.6h0m0 2.7h0"/>
<path stroke="#f8c0d8" d="M49.1 596.4h0m16.5 .2h0m10.2 3.1h0m31.3 2.5h0m-49.9 5.9h0m51.8 2.7h0m-25.3 7.3h0m-26.5 9h0m13.9 .6h0m2.9-1.4h0m31.5 .6h0m-26.4 1.9h0m-19.7 9.4h0m14.5 3.1h0m-16.9 3.1h0m13.3 0h0m-18.2 3.1h0m-7.6 4.3h0m25.6 8.6h0m-42.5 14.3h0m7.9 0h0m4.8 0h0m7.3 0h0m2.8 0h0m6.6 0h0m.5 0h0m2.4 0h0m17.9 0h0m1.7 0h0m2.8 0h0m11.3 0h0m11.6 0h0"/>
<path stroke="#3fc0d0" d="M36.9 594.3h0m62.7 3.1h0m-51.7 15h0m3.8 9.4h0m9.6-1.4h0m-6.9 3h0m-6.9 5.3h0m9.9 10.5h0m22.1 4.6h0m-20.2 9.5h0m-15.3 9.6h0"/>
<path stroke="#5fa83c" d="M63.6 607.8h0m23.6 16.3h0m-51.3 11h0"/>
<path stroke="#d01c5c" d="M77.6 604.7h0m-14.6 10.8h0m-17.2 7.7h0m10.7 16.2h0m5.5 1.2h0m-3.2 3h0m40.7 1.9h0m-56 7.4h0m-16.4 21.8h0m1.3 0h0m.6 0h0m.6 0h0m.5 0h0m.2 0h0m.1 0h0m0 0h0m5.1 0h0m5.6 0h0m60.6 0h0m0 0h0m2.4 0h0"/>
<path stroke="#f8e060" d="M69.9 626.6h0m6.5 25.5h0"/>
<path stroke="#d08820" d="M74.7 578.5h0m-10.2 24.1h0m4.2 1.4h0m9.7 4.3h0m-25 7.4h0m72.2 18.2h0"/>
<path stroke="#3a7fc0" d="M15.8 573.4h0m0 10.9h0m0 9.8h0m0 8.9h0m0 3.5h0m0 2.8h0m0 1.4h0m0 1.7h0m0 3.5h0m0-.9h0m0-.1h0m0 2.7h0m0-1h0m0 .1h0m0 7.1h0m0-1.1h0m0 5.1h0m0-.1h0m0 1.4h0m42.3 .9h0m20.3 2.8h0m-62.6 4.8h0m0 2.2h0m0 9.3h0m0 4.1h0m0 0h0m0 1.6h0m0-1.1h0m0 2.4h0m0 3.9h0m0-1.4h0m0 7.1h0m0 3.8h0m0 1.6h0"/>
<path stroke="#f58020" d="M65.4 603.3h0m-3 37.5h0m29.5 6.6h0"/>
</g>
<text x="0.3" y="559.6" font-size="12" font-weight="bold" fill="#000">D</text>
<text transform="translate(9.6 620.4) rotate(-90)" font-size="7.8" text-anchor="middle" fill="#1a1a1a" textLength="28.5" lengthAdjust="spacingAndGlyphs">CXCL13</text>
<text x="76.5" y="690.4" font-size="8" text-anchor="middle" fill="#1a1a1a" textLength="24.2" lengthAdjust="spacingAndGlyphs">PDCD1</text>
<g font-size="8.2" fill="#1a1a1a" text-anchor="end"><text x="204.7" y="567.6" textLength="39.6" lengthAdjust="spacingAndGlyphs">Annotation</text><text x="204.7" y="575.8" textLength="20.6" lengthAdjust="spacingAndGlyphs">minor</text></g>
<text x="197.8" y="583.3" font-size="3.7" font-weight="bold" fill="#222" text-anchor="end">B (N = 67, ρ = -0.35)</text>
<rect x="201.2" y="581.2" width="4.6" height="2" rx=".4" fill="#e41a3c"/>
<text x="197.8" y="588.1" font-size="3.7" font-weight="bold" fill="#222" text-anchor="end">DC LAMP3 (N = 9, ρ = -0.35)</text>
<rect x="201.2" y="586" width="4.6" height="2" rx=".4" fill="#3a7fc0"/>
<text x="197.8" y="592.89" font-size="3.7" font-weight="bold" fill="#222" text-anchor="end">DC plas (N = 6, ρ = -0.57)</text>
<rect x="201.2" y="590.79" width="4.6" height="2" rx=".4" fill="#5fa83c"/>
<text x="197.8" y="597.69" font-size="3.7" font-weight="bold" fill="#222" text-anchor="end">Endothelial (N = 1, ρ = 0)</text>
<rect x="201.2" y="595.59" width="4.6" height="2" rx=".4" fill="#9a3fa8"/>
<text x="197.8" y="602.48" font-size="3.7" font-weight="bold" fill="#222" text-anchor="end">Fibroblast (N = 38, ρ = 0)</text>
<rect x="201.2" y="600.38" width="4.6" height="2" rx=".4" fill="#3fc0d0"/>
<text x="197.8" y="607.28" font-size="3.7" font-weight="bold" fill="#222" text-anchor="end">Macrophage (N = 7, ρ = -0.63)</text>
<rect x="201.2" y="605.18" width="4.6" height="2" rx=".4" fill="#f58020"/>
<text x="197.8" y="612.07" font-size="3.7" font-weight="bold" fill="#222" text-anchor="end">Malignant (N = 35, ρ = -0.36)</text>
<rect x="201.2" y="609.97" width="4.6" height="2" rx=".4" fill="#b08c20"/>
<text x="197.8" y="616.87" font-size="3.7" font-weight="bold" fill="#222" text-anchor="end">Mast (N = 3, ρ = -0.99)</text>
<rect x="201.2" y="614.77" width="4.6" height="2" rx=".4" fill="#7878d0"/>
<text x="197.8" y="621.66" font-size="3.7" font-weight="bold" fill="#222" text-anchor="end">NK (N = 60, ρ = -0.7)</text>
<rect x="201.2" y="619.56" width="4.6" height="2" rx=".4" fill="#a8cc30"/>
<text x="197.8" y="626.46" font-size="3.7" font-weight="bold" fill="#222" text-anchor="end">Plasma (N = 19, ρ = -0.23)</text>
<rect x="201.2" y="624.36" width="4.6" height="2" rx=".4" fill="#d01c5c"/>
<text x="197.8" y="631.25" font-size="3.7" font-weight="bold" fill="#222" text-anchor="end">T CD4 naive (N = 195, ρ = -0.37)</text>
<rect x="201.2" y="629.15" width="4.6" height="2" rx=".4" fill="#a8501c"/>
<text x="197.8" y="636.05" font-size="3.7" font-weight="bold" fill="#222" text-anchor="end">T CD8 eff (N = 112, ρ = -0.25)</text>
<rect x="201.2" y="633.95" width="4.6" height="2" rx=".4" fill="#f080b8"/>
<text x="197.8" y="640.84" font-size="3.7" font-weight="bold" fill="#222" text-anchor="end">T CD8 ex (N = 176, ρ = -0.32)</text>
<rect x="201.2" y="638.74" width="4.6" height="2" rx=".4" fill="#80ccc0"/>
<text x="197.8" y="645.64" font-size="3.7" font-weight="bold" fill="#222" text-anchor="end">T CD8 mem (N = 230, ρ = -0.5)</text>
<rect x="201.2" y="643.54" width="4.6" height="2" rx=".4" fill="#b0a4d8"/>
<text x="197.8" y="650.43" font-size="3.7" font-weight="bold" fill="#222" text-anchor="end">T cycling (N = 113, ρ = 0.17)</text>
<rect x="201.2" y="648.33" width="4.6" height="2" rx=".4" fill="#f07060"/>
<text x="197.8" y="655.23" font-size="3.7" font-weight="bold" fill="#222" text-anchor="end">T helper (N = 699, ρ = -0.31)</text>
<rect x="201.2" y="653.12" width="4.6" height="2" rx=".4" fill="#6fa8d0"/>
<text x="197.8" y="660.02" font-size="3.7" font-weight="bold" fill="#222" text-anchor="end">T reg (N = 74, ρ = -0.65)</text>
<rect x="201.2" y="657.92" width="4.6" height="2" rx=".4" fill="#f5a860"/>
<text x="197.8" y="664.82" font-size="3.7" font-weight="bold" fill="#222" text-anchor="end">T reg act (N = 61, ρ = -0.41)</text>
<rect x="201.2" y="662.72" width="4.6" height="2" rx=".4" fill="#f8c0d8"/>
<text x="197.8" y="669.61" font-size="3.7" font-weight="bold" fill="#222" text-anchor="end">Tfh (N = 182, ρ = -0.15)</text>
<rect x="201.2" y="667.51" width="4.6" height="2" rx=".4" fill="#b080d0"/>
<text x="197.8" y="674.41" font-size="3.7" font-weight="bold" fill="#222" text-anchor="end">Th17 (N = 9, ρ = -0.88)</text>
<rect x="201.2" y="672.31" width="4.6" height="2" rx=".4" fill="#f8e060"/>
<text x="197.8" y="679.2" font-size="3.7" font-weight="bold" fill="#222" text-anchor="end">Unknown (N = 33, ρ = -0.49)</text>
<rect x="201.2" y="677.1" width="4.6" height="2" rx=".4" fill="#c0dcf8"/>
<text x="197.8" y="684" font-size="3.7" font-weight="bold" fill="#222" text-anchor="end">cDC1 (N = 15, ρ = -0.46)</text>
<rect x="201.2" y="681.89" width="4.6" height="2" rx=".4" fill="#d08820"/>
<text x="197.8" y="688.79" font-size="3.7" font-weight="bold" fill="#222" text-anchor="end">myofibroblast (N = 1, ρ = 0)</text>
<rect x="201.2" y="686.69" width="4.6" height="2" rx=".4" fill="#10a070"/>
</g>
<g id="E">
<path d="M247.55 562.3V674.7M265 562.3V674.7M282.45 562.3V674.7M299.9 562.3V674.7M317.35 562.3V674.7M334.8 562.3V674.7M352.25 562.3V674.7M230.1 658.65H352.25M230.1 642.6H352.25M230.1 626.55H352.25M230.1 610.5H352.25M230.1 594.45H352.25M230.1 578.4H352.25M230.1 562.35H352.25" stroke="#e6e6e6" stroke-width=".5" fill="none"/>
<path d="M230.1 562.3V674.7H352.25" stroke="#9a9a9a" stroke-width=".5" fill="none"/>
<g font-size="2.6" font-weight="bold" fill="#333"><g text-anchor="middle">
<text x="230.1" y="678.3">0</text>
<text x="247.55" y="678.3">0.5</text>
<text x="265" y="678.3">1</text>
<text x="282.45" y="678.3">1.5</text>
<text x="299.9" y="678.3">2</text>
<text x="317.35" y="678.3">2.5</text>
<text x="334.8" y="678.3">3</text>
<text x="352.25" y="678.3">3.5</text>
</g><g text-anchor="end">
<text x="228.9" y="675.6">0</text>
<text x="228.9" y="659.55">1</text>
<text x="228.9" y="643.5">2</text>
<text x="228.9" y="627.45">3</text>
<text x="228.9" y="611.4">4</text>
<text x="228.9" y="595.35">5</text>
<text x="228.9" y="579.3">6</text>
<text x="228.9" y="563.25">7</text>
</g></g>
<g fill="none" stroke-linecap="round" stroke-width="1.2">
<path stroke="#a868c4" d="M230.1 567.9h0m0 1.7h0m0 3.6h0m25.9-1.1h0m-25.9 3.9h0m27.4 3.6h0m29.4-.6h0m7-1.2h0m3.2 1.8h0m-67 3.3h0m0-2.1h0m47 .2h0m-19.6 3.1h0m12.2 1.1h0m-39.6 1.6h0m0 1.2h0m0 1h0m29.3-1.5h0m3.3 .1h0m10.6 .9h0m-43.2 1.4h0m31.8 1.8h0m7.3-1.5h0m2.7-.1h0m27.9 .2h0m-69.7 4.6h0m0-1.1h0m0-1.1h0m0 1.4h0m0 3.7h0m0-.3h0m38-1.6h0m1.2 .9h0m11 1.2h0m11.5 .3h0m21.9-2.1h0m-83.6 3.9h0m42.7 .1h0m45.4 .4h0m-88.1 2.8h0m0 .3h0m36.5-.2h0m3.9-1h0m18.5 .8h0m1.6-1.5h0m-60.5 4.8h0m29.6-.5h0m9.4-.7h0m11 1.1h0m1-.5h0m4.9 .5h0m11.1 .6h0m-67 .5h0m0 2.2h0m32.8 0h0m1.4-.7h0m32.1-1.2h0m2.7 2.3h0m8.6-2.3h0m-46.3 4.1h0m19.5 .8h0m1.7-1.1h0m6.8-.8h0m14.1 .5h0m7.8 .9h0m1.3-.7h0m-56.7 3.4h0m40.3 .5h0m2.5-1.2h0m-68.6 4.7h0m32.6-1.8h0m7.8 2.2h0m5-.4h0m8.7-.9h0m16.7 1.3h0m11.5-2.6h0m-82.3 3.7h0m21.6-.7h0m3.6-.3h0m26.8 2h0m13.5-.3h0m24.8-1.3h0m-90.3 3.2h0m45.8 1.7h0m2.3-.5h0m1.8-1.3h0m8.8 0h0m12.1-.4h0m-70.8 5.6h0m0 .8h0m0 1.7h0m0-.4h0m0 1.3h0m33.6 2.7h0m21.9-.5h0m29.3-.4h0m-84.8 2h0m26.5 .7h0m38.8-.8h0m-65.3 3.9h0m0 .8h0m0-2.2h0m0 .9h0m26.1 .3h0m25.4 .1h0m-51.5 4.3h0m0-.5h0m0-2.1h0m28.4 1.1h0m3.6 .4h0m5.1 .9h0m-37.1 2.9h0m50.4-2.3h0m.9 0h0m-51.3 4.3h0m44.6 3.1h0m2.5 1.2h0m10.1-.8h0m-3.1 1.6h0m-9.5 6h0m14.2 .8h0m-28.3 2.8h0m11.7 0h0"/>
<path stroke="#6cc0b0" d="M274.6 586.6h0m-4.2 3.1h0m13.2 0h0m-12.3 7.1h0m13.4-.7h0m-10.9 2.8h0m-43.7 3.5h0m55.7 .6h0m-55.7 3.6h0m0-1.4h0m0 3.4h0m44.4 .8h0m20.6 .5h0m10.3-2h0m-75.3 5.3h0m0-1.4h0m46.1-1.1h0m1.3 2h0m16.4-1.6h0m.9-.4h0m-11.9 5.8h0m15.3-2.9h0m-30.7 4.4h0m30.8-1.3h0m12.8 .9h0m-81 4.7h0m0-2.4h0m27 2.5h0m3.1-1h0m7.4-1.6h0m8.6 1.6h0m3.4 0h0m14.4-.7h0m12 1.6h0m-75.9 1.6h0m0 1.4h0m37.4-1.2h0m6.6 .7h0m-7.2 .9h0m.2 1.5h0m4.7-.4h0m10.5 1.1h0m26-.1h0m-78.2 1.5h0m28.8 .2h0m5.1-.8h0m.6 .1h0m3.8 1.6h0m9-1.3h0m8.7 .9h0m3.4-.6h0m1.4 1.5h0m2.8-1.4h0m8.5 1.4h0m8.7-1.1h0m-80.8 2.1h0m0 .8h0m35 0h0m16.2 .8h0m13.9 .6h0m3.3-1.2h0m-68.4 2.5h0m35.2 1.4h0m11.7 .3h0m.2 .2h0m20.3-1h0m3.4-1h0m.1 .5h0m-70.9 3h0m0-.7h0m35.4 0h0m8 2.2h0m1.3-1.5h0m4.2 .2h0m4.2 1h0m4.3 .4h0m1.4-1.5h0m7.5 1.4h0m-66.3 2.3h0m0-1.1h0m39.4 .3h0m9 1.7h0m1.8-.5h0m-12.2 1.7h0m19.3 .1h0m.2-1.2h0m30.6 .1h0m-63.1 4.3h0m7.1-.4h0m2.1-.9h0m1 .6h0m18 .4h0m14.1 1.6h0m27.4-2.3h0m-94.7 2.7h0m0 2.4h0m32.8-1.8h0m8.6 .8h0m10.2-1.2h0m6.6 2.1h0m-22.2 2.5h0m8.3-1.4h0m-44.3 3.7h0m29.1 .5h0m3.3-.1h0m-32.4 2.5h0m44.2 .7h0m5.7-.6h0m10.4-.3h0m-60.3 4.8h0m0-.5h0m25.3-.1h0m32-2.1h0m-57.3 5h0m9.1 8.1h0m4.9 0h0m.4 0h0m19.6 0h0m1 0h0m3.9 0h0m3.3 0h0m14 0h0m23.7 0h0m.8 0h0"/>
</g>
<text x="213" y="559.6" font-size="12" font-weight="bold" fill="#000">E</text>
<text transform="translate(222.9 620.4) rotate(-90)" font-size="7.8" text-anchor="middle" fill="#1a1a1a" textLength="28.5" lengthAdjust="spacingAndGlyphs">CXCL13</text>
<text x="290.3" y="690.4" font-size="8" text-anchor="middle" fill="#1a1a1a" textLength="24.2" lengthAdjust="spacingAndGlyphs">PDCD1</text>
<g font-size="8.2" fill="#1a1a1a" text-anchor="end"><text x="417.9" y="568.4" textLength="39.6" lengthAdjust="spacingAndGlyphs">Annotation</text><text x="417.9" y="576.6" textLength="20.6" lengthAdjust="spacingAndGlyphs">minor</text></g>
<text x="410" y="583.3" font-size="3.7" fill="#aeaeae" text-anchor="end">B (N = 67, ρ = -0.35)</text>
<rect x="413" y="581.2" width="4.6" height="2" rx=".4" fill="#9c9c9c"/>
<text x="410" y="588.1" font-size="3.7" fill="#aeaeae" text-anchor="end">DC LAMP3 (N = 9, ρ = -0.35)</text>
<rect x="413" y="586" width="4.6" height="2" rx=".4" fill="#9c9c9c"/>
<text x="410" y="592.89" font-size="3.7" fill="#aeaeae" text-anchor="end">DC plas (N = 6, ρ = -0.57)</text>
<rect x="413" y="590.79" width="4.6" height="2" rx=".4" fill="#9c9c9c"/>
<text x="410" y="597.69" font-size="3.7" fill="#aeaeae" text-anchor="end">Endothelial (N = 1, ρ = 0)</text>
<rect x="413" y="595.59" width="4.6" height="2" rx=".4" fill="#9c9c9c"/>
<text x="410" y="602.48" font-size="3.7" fill="#aeaeae" text-anchor="end">Fibroblast (N = 38, ρ = 0)</text>
<rect x="413" y="600.38" width="4.6" height="2" rx=".4" fill="#9c9c9c"/>
<text x="410" y="607.28" font-size="3.7" fill="#aeaeae" text-anchor="end">Macrophage (N = 7, ρ = -0.63)</text>
<rect x="413" y="605.18" width="4.6" height="2" rx=".4" fill="#9c9c9c"/>
<text x="410" y="612.07" font-size="3.7" fill="#aeaeae" text-anchor="end">Malignant (N = 35, ρ = -0.36)</text>
<rect x="413" y="609.97" width="4.6" height="2" rx=".4" fill="#9c9c9c"/>
<text x="410" y="616.87" font-size="3.7" fill="#aeaeae" text-anchor="end">Mast (N = 3, ρ = -0.99)</text>
<rect x="413" y="614.77" width="4.6" height="2" rx=".4" fill="#9c9c9c"/>
<text x="410" y="621.66" font-size="3.7" fill="#aeaeae" text-anchor="end">NK (N = 60, ρ = -0.7)</text>
<rect x="413" y="619.56" width="4.6" height="2" rx=".4" fill="#9c9c9c"/>
<text x="410" y="626.46" font-size="3.7" fill="#aeaeae" text-anchor="end">Plasma (N = 19, ρ = -0.23)</text>
<rect x="413" y="624.36" width="4.6" height="2" rx=".4" fill="#9c9c9c"/>
<text x="410" y="631.25" font-size="3.7" fill="#aeaeae" text-anchor="end">T CD4 naive (N = 195, ρ = -0.37)</text>
<rect x="413" y="629.15" width="4.6" height="2" rx=".4" fill="#9c9c9c"/>
<text x="410" y="636.05" font-size="3.7" fill="#aeaeae" text-anchor="end">T CD8 eff (N = 112, ρ = -0.25)</text>
<rect x="413" y="633.95" width="4.6" height="2" rx=".4" fill="#9c9c9c"/>
<text x="410" y="640.84" font-size="3.7" font-weight="bold" fill="#222" text-anchor="end">T CD8 ex (N = 176, ρ = -0.32)</text>
<rect x="413" y="638.74" width="4.6" height="2" rx=".4" fill="#80ccc0"/>
<text x="410" y="645.64" font-size="3.7" fill="#aeaeae" text-anchor="end">T CD8 mem (N = 230, ρ = -0.5)</text>
<rect x="413" y="643.54" width="4.6" height="2" rx=".4" fill="#9c9c9c"/>
<text x="410" y="650.43" font-size="3.7" fill="#aeaeae" text-anchor="end">T cycling (N = 113, ρ = 0.17)</text>
<rect x="413" y="648.33" width="4.6" height="2" rx=".4" fill="#9c9c9c"/>
<text x="410" y="655.23" font-size="3.7" fill="#aeaeae" text-anchor="end">T helper (N = 699, ρ = -0.31)</text>
<rect x="413" y="653.12" width="4.6" height="2" rx=".4" fill="#9c9c9c"/>
<text x="410" y="660.02" font-size="3.7" fill="#aeaeae" text-anchor="end">T reg (N = 74, ρ = -0.65)</text>
<rect x="413" y="657.92" width="4.6" height="2" rx=".4" fill="#9c9c9c"/>
<text x="410" y="664.82" font-size="3.7" fill="#aeaeae" text-anchor="end">T reg act (N = 61, ρ = -0.41)</text>
<rect x="413" y="662.72" width="4.6" height="2" rx=".4" fill="#9c9c9c"/>
<text x="410" y="669.61" font-size="3.7" font-weight="bold" fill="#222" text-anchor="end">Tfh (N = 182, ρ = -0.15)</text>
<rect x="413" y="667.51" width="4.6" height="2" rx=".4" fill="#b080d0"/>
<text x="410" y="674.41" font-size="3.7" fill="#aeaeae" text-anchor="end">Th17 (N = 9, ρ = -0.88)</text>
<rect x="413" y="672.31" width="4.6" height="2" rx=".4" fill="#9c9c9c"/>
<text x="410" y="679.2" font-size="3.7" fill="#aeaeae" text-anchor="end">Unknown (N = 33, ρ = -0.49)</text>
<rect x="413" y="677.1" width="4.6" height="2" rx=".4" fill="#9c9c9c"/>
<text x="410" y="684" font-size="3.7" fill="#aeaeae" text-anchor="end">cDC1 (N = 15, ρ = -0.46)</text>
<rect x="413" y="681.89" width="4.6" height="2" rx=".4" fill="#9c9c9c"/>
<text x="410" y="688.79" font-size="3.7" fill="#aeaeae" text-anchor="end">myofibroblast (N = 1, ρ = 0)</text>
<rect x="413" y="686.69" width="4.6" height="2" rx=".4" fill="#9c9c9c"/>
</g>
<g id="F">
<text x="422.2" y="559.6" font-size="12" font-weight="bold" fill="#000">F</text>
<g font-size="4.3" fill="#222"><text x="428.5" y="580.7"><tspan font-weight="bold">T CD8 ex</tspan> (267)</text><text x="428.5" y="639.1"><tspan font-weight="bold">Tfh</tspan> (203)</text></g>
<g font-size="4.6" fill="#a6a6a6" text-anchor="end"><text x="514.8" y="580.7"><tspan font-style="italic">P</tspan> value: 0.0000294</text><text x="514.8" y="639.1"><tspan font-style="italic">P</tspan> value: 0.144</text></g>
<circle cx="460.2" cy="602.4" r="11" fill="#f6c8a0" fill-opacity=".6"/>
<circle cx="469" cy="602.1" r="8" fill="#86b2dc" fill-opacity=".6"/>
<clipPath id="v1"><circle cx="460.2" cy="602.4" r="11"/></clipPath><circle cx="469" cy="602.1" r="8" fill="#b9b6b4" fill-opacity=".85" clip-path="url(#v1)"/>
<g font-size="4.4"><text x="445" y="604" fill="#efb78a" textLength="17.2" lengthAdjust="spacingAndGlyphs">CXCL13</text><text x="465.6" y="604" fill="#6f7f96" textLength="15.6" lengthAdjust="spacingAndGlyphs">PDCD1</text></g>
<circle cx="515.1" cy="614.8" r="3.8" fill="#cf2a2a"/><path d="M515.1 614.8L511.31 615.13A3.8 3.8 0 0 1 514.53 611.04z" fill="#d8cfc0"/>
<circle cx="463.3" cy="660.2" r="10.6" fill="#f6c8a0" fill-opacity=".6"/>
<circle cx="467.8" cy="660.2" r="7.4" fill="#86b2dc" fill-opacity=".6"/>
<clipPath id="v2"><circle cx="463.3" cy="660.2" r="10.6"/></clipPath><circle cx="467.8" cy="660.2" r="7.4" fill="#b9b6b4" fill-opacity=".85" clip-path="url(#v2)"/>
<g font-size="4.4"><text x="448" y="661.8" fill="#efb78a" textLength="16.6" lengthAdjust="spacingAndGlyphs">CXCL13</text><text x="465.6" y="661.8" fill="#6f7f96" textLength="15.6" lengthAdjust="spacingAndGlyphs">PDCD1</text></g>
<circle cx="515.1" cy="673.3" r="3.8" fill="#cf2a2a"/><path d="M515.1 673.3L511.99 671.12A3.8 3.8 0 0 1 513.86 669.71z" fill="#d8cfc0"/>
</g>
</svg></body></html>
